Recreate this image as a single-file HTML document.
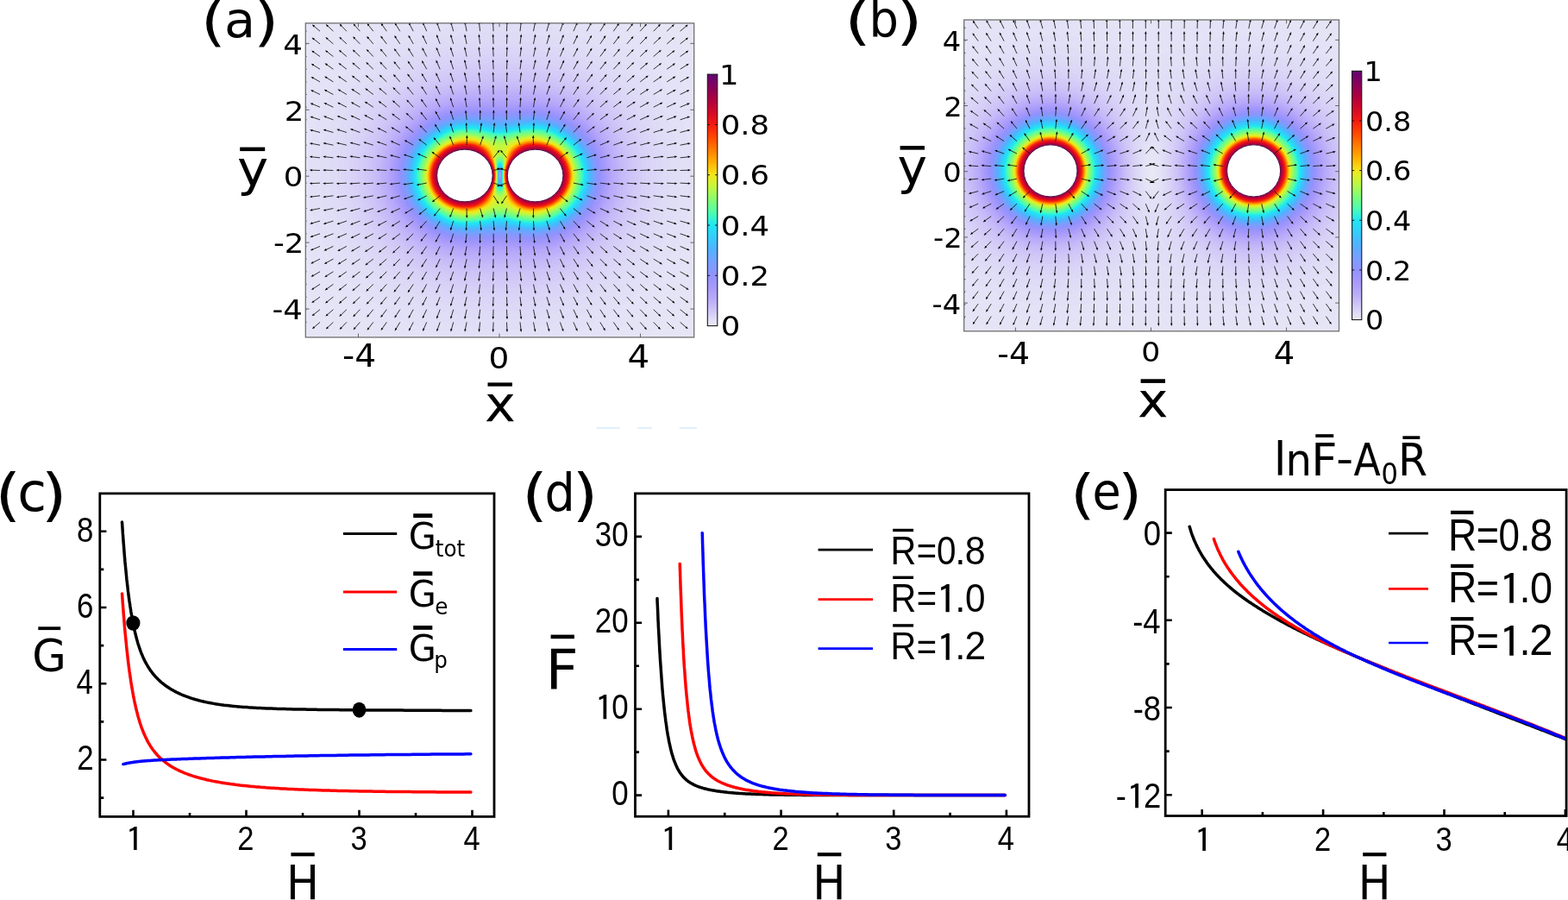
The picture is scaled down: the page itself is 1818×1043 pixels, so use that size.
<!DOCTYPE html>
<html lang="en"><head><meta charset="utf-8"><title>Figure</title>
<style>html,body{margin:0;padding:0;background:#fff;overflow:hidden}svg{display:block}text{white-space:pre}</style>
</head><body>
<svg width="1818" height="1043" viewBox="0 0 1818 1043">
<rect width="1818" height="1043" fill="#fff"/>
<clipPath id="clip1"><rect x="354.30" y="26.85" width="450.40" height="364.05"/></clipPath>
<g clip-path="url(#clip1)">
<rect x="354.30" y="26.85" width="450.40" height="364.05" fill="#e9e9f6"/>
<path fill="#e8e7f6" d="M352.3,24.9 806.8,24.9 806.8,393.9 352.3,393.9Z"/>
<path fill="#e6e5f6" d="M352.3,24.9 806.8,24.9 806.8,392.7 805.6,393.8 353.9,393.9 352.3,392.3Z"/>
<path fill="#e5e4f6" d="M398.1,26.4 400.0,24.9 759.5,24.9 773.4,36.9 785.5,48.9 796.3,61.2 806.8,75.0 806.8,332.0 798.7,342.9 787.1,356.4 773.7,369.9 758.8,382.8 743.8,393.9 415.7,393.9 401.8,383.6 388.3,372.2 375.2,359.4 363.2,345.9 352.3,331.4 352.3,75.6 362.3,62.4 373.3,49.6 385.3,37.6Z"/>
<path fill="#e3e2f6" d="M444.0,26.3 446.6,24.9 712.9,24.9 725.8,32.8 739.3,42.4 751.3,52.2 762.1,62.4 769.2,69.8 775.7,77.3 781.7,84.8 788.1,93.8 792.9,101.3 798.1,110.3 802.7,119.3 806.8,128.5 806.8,278.5 802.8,287.4 798.2,296.4 794.0,303.9 788.3,312.9 781.9,321.9 776.0,329.4 769.3,337.1 761.8,345.0 754.3,352.1 746.0,359.4 737.8,365.8 728.8,372.2 719.8,378.0 709.3,384.2 700.3,388.9 689.6,393.9 469.9,393.9 458.8,388.7 449.8,383.9 439.3,377.8 430.3,371.9 421.3,365.5 412.3,358.3 404.8,351.8 397.3,344.6 390.0,336.9 383.5,329.4 377.6,321.9 371.2,312.9 365.5,303.9 360.5,294.9 356.0,285.9 352.3,277.5 352.3,129.5 356.1,120.8 359.8,113.3 368.5,98.3 377.9,84.8 388.9,71.3 400.4,59.3 413.9,47.4 428.8,36.1Z"/>
<path fill="#e2e0f6" d="M488.2,26.4 492.3,24.9 667.2,24.9 682.3,30.8 697.3,38.0 710.8,45.7 724.3,54.7 736.3,64.1 748.3,75.1 758.8,86.3 768.3,98.3 773.5,105.8 778.2,113.3 782.4,120.8 786.9,129.8 790.8,138.8 793.6,146.3 796.0,153.8 798.4,162.8 800.1,170.4 801.6,179.3 802.6,188.4 803.2,197.3 803.3,206.3 802.9,215.3 802.0,224.3 800.7,233.3 798.9,242.3 796.5,251.3 794.2,258.9 790.9,267.9 787.7,275.4 783.4,284.4 779.3,291.9 774.7,299.4 769.6,306.9 764.0,314.4 757.7,321.9 752.3,327.9 739.3,340.3 731.8,346.6 724.3,352.3 715.3,358.5 704.8,364.9 694.3,370.6 683.8,375.5 673.3,379.9 661.3,384.2 650.8,387.4 638.8,390.4 620.6,393.9 538.9,393.9 527.8,391.9 517.3,389.6 506.8,386.8 494.8,383.0 484.3,379.1 473.8,374.7 463.3,369.6 454.3,364.7 445.3,359.2 436.3,353.1 427.3,346.2 419.7,339.9 411.7,332.4 404.4,324.9 397.3,316.6 391.0,308.4 384.8,299.4 379.4,290.4 373.9,279.9 369.8,270.9 366.3,261.9 363.0,251.4 360.3,240.8 358.3,230.3 357.0,219.8 356.3,209.4 356.3,198.8 356.9,188.3 358.1,177.8 360.0,167.3 362.6,156.8 365.9,146.3 369.9,135.8 374.0,126.8 379.5,116.3 385.0,107.3 391.2,98.3 397.3,90.4 404.7,81.8 412.0,74.3 420.0,66.8 428.8,59.6 437.8,52.9 446.8,46.9 457.3,40.6 466.3,35.9 476.8,31.0Z"/>
<path fill="#e0ddf6" d="M551.0,26.4 560.8,25.4 571.3,24.9 590.8,25.0 610.3,26.6 629.8,29.7 647.8,34.1 665.8,40.0 682.3,46.9 691.3,51.4 698.8,55.5 706.3,60.1 714.1,65.3 721.3,70.7 728.8,76.8 740.8,88.2 746.8,94.7 752.4,101.3 758.0,108.8 763.1,116.3 767.6,123.8 771.6,131.3 775.1,138.8 778.2,146.3 780.8,153.8 783.5,162.8 785.3,170.3 786.9,179.4 788.1,188.3 788.6,195.9 788.8,204.8 788.5,213.9 787.8,221.3 786.5,230.3 785.0,237.8 782.8,246.8 780.4,254.3 777.1,263.4 773.9,270.9 770.2,278.4 766.0,285.9 761.3,293.4 756.1,300.9 751.3,307.0 745.3,314.0 739.3,320.4 733.1,326.4 726.2,332.4 712.3,342.9 697.3,352.4 688.3,357.2 679.3,361.5 662.8,368.1 644.8,373.8 634.3,376.3 623.8,378.4 613.3,380.1 601.3,381.4 590.8,382.0 580.3,382.3 569.8,382.1 557.8,381.3 545.8,380.0 535.3,378.4 524.8,376.3 514.3,373.7 503.8,370.6 494.8,367.5 484.3,363.3 475.3,359.2 466.3,354.6 457.3,349.5 448.3,343.7 440.8,338.3 433.3,332.4 425.8,325.8 418.7,318.9 411.8,311.4 405.7,303.9 400.2,296.4 395.3,288.9 390.1,279.9 386.3,272.4 382.4,263.4 379.1,254.3 376.3,245.3 374.1,236.3 372.5,227.3 371.3,216.8 370.8,207.8 370.8,198.8 371.3,189.8 372.6,179.3 374.2,170.3 376.4,161.3 379.2,152.3 382.5,143.3 386.5,134.3 390.3,126.8 395.5,117.8 401.5,108.8 407.1,101.3 413.4,93.8 419.8,87.0 427.3,79.8 434.8,73.4 442.3,67.6 451.3,61.3 460.3,55.7 469.3,50.8 478.3,46.4 488.8,41.8 499.3,37.9 508.3,35.0 518.8,32.2 529.3,29.8 539.8,27.9Z"/>
<path fill="#dedbf6" d="M567.4,36.9 586.3,36.6 605.8,37.9 623.8,40.5 641.8,44.5 659.8,50.2 676.3,56.9 691.3,64.5 698.8,69.0 706.3,73.9 719.8,84.2 731.9,95.3 737.8,101.7 743.8,108.8 749.4,116.3 753.4,122.3 757.9,129.8 761.9,137.3 765.3,144.8 768.3,152.3 770.8,159.8 772.9,167.3 775.9,182.3 776.9,191.3 777.4,198.8 777.4,207.8 776.9,215.3 776.2,222.8 774.7,231.8 773.0,239.3 770.9,246.8 768.4,254.3 765.4,261.9 762.0,269.4 758.1,276.9 749.6,290.4 744.0,297.9 739.1,303.9 733.6,309.9 727.6,315.9 715.3,326.5 707.8,332.1 700.3,337.1 685.3,345.7 676.3,350.1 667.3,354.0 650.8,359.9 632.8,364.7 614.8,368.0 604.3,369.2 593.8,370.1 574.3,370.4 563.8,369.9 553.3,369.1 542.8,367.7 533.8,366.1 524.8,364.2 514.3,361.5 503.8,358.3 494.8,355.0 485.8,351.3 476.8,347.1 467.8,342.3 460.3,337.8 452.8,332.8 445.3,327.3 438.6,321.9 431.8,315.8 425.8,309.8 419.8,303.1 414.3,296.4 408.9,288.9 404.0,281.4 399.8,273.9 396.1,266.4 392.2,257.4 389.0,248.3 386.9,240.8 384.8,231.8 383.6,224.4 382.5,215.3 382.1,206.3 382.1,198.8 382.7,189.8 383.8,180.8 385.5,171.8 387.8,162.8 390.1,155.3 393.6,146.3 396.9,138.8 400.8,131.3 405.2,123.9 410.1,116.3 415.7,108.8 421.3,102.1 427.6,95.3 433.8,89.3 440.8,83.3 448.3,77.4 455.8,72.1 470.8,63.1 479.8,58.5 488.8,54.4 497.8,50.9 506.8,47.7 515.8,45.1 526.3,42.4 535.3,40.6 545.8,38.9 556.3,37.6Z"/>
<path fill="#dcd8f6" d="M557.6,47.4 574.3,46.4 592.3,46.7 610.3,48.2 626.8,50.9 644.8,55.3 659.8,60.2 674.8,66.5 688.3,73.5 701.8,82.0 713.8,91.1 725.0,101.3 730.6,107.3 735.7,113.3 744.5,125.3 749.1,132.8 752.4,138.8 758.6,152.3 763.1,165.8 766.2,179.4 767.3,186.8 768.0,194.3 768.3,201.9 768.2,209.3 767.7,216.8 766.7,224.4 764.0,237.8 761.8,245.3 759.3,252.8 753.3,266.4 749.3,273.9 745.7,279.9 737.1,291.9 732.2,297.9 726.7,303.9 715.3,314.6 703.3,324.0 689.8,332.7 674.8,340.5 659.8,346.8 643.3,352.2 634.3,354.5 623.8,356.7 613.3,358.4 604.3,359.4 584.8,360.6 574.3,360.6 563.8,360.1 544.3,358.1 533.8,356.3 523.3,354.0 512.8,351.2 503.8,348.3 487.3,341.7 478.3,337.4 470.8,333.3 463.3,328.8 455.8,323.7 448.3,318.0 442.3,313.0 435.7,306.9 430.0,300.9 424.3,294.3 419.0,287.4 413.8,279.9 409.4,272.4 405.4,264.9 402.0,257.4 399.2,249.8 396.3,240.8 394.1,231.8 392.8,224.3 391.8,216.9 391.2,207.8 391.3,198.8 391.8,189.8 393.0,180.8 394.5,173.4 396.4,165.8 399.3,156.8 402.2,149.3 405.6,141.8 409.5,134.3 414.0,126.8 419.2,119.3 425.0,111.8 431.6,104.3 437.6,98.3 444.3,92.3 451.3,86.7 458.8,81.2 466.3,76.4 473.8,72.0 482.8,67.4 491.8,63.3 500.8,59.8 509.8,56.7 518.8,54.1 529.3,51.6 538.3,49.9 548.8,48.3Z"/>
<path fill="#dbd5f7" d="M568.3,54.8 584.8,54.6 602.8,55.6 619.3,57.8 635.8,61.1 652.3,65.8 665.8,70.9 680.8,78.0 692.8,85.1 705.2,93.8 716.8,103.9 725.9,113.3 735.4,125.3 743.1,137.3 746.3,143.3 749.8,150.8 754.9,164.3 758.3,177.9 759.6,185.3 760.4,192.8 760.8,206.3 760.4,213.8 759.6,221.3 757.0,234.9 752.9,248.3 747.2,261.9 740.6,273.9 732.3,285.9 722.8,297.1 712.3,307.3 700.3,316.8 686.8,325.6 673.3,332.7 658.3,339.0 643.3,343.9 626.8,347.9 617.8,349.5 607.3,350.9 587.8,352.3 568.3,352.2 548.8,350.5 539.8,349.2 529.3,347.2 520.3,345.0 511.3,342.5 494.8,336.5 479.8,329.5 472.3,325.4 464.8,320.7 457.3,315.4 451.3,310.7 445.1,305.4 439.3,299.8 433.3,293.4 428.4,287.4 423.9,281.4 418.9,273.9 414.6,266.4 411.6,260.4 408.3,252.8 405.5,245.4 402.8,236.3 401.1,228.8 399.9,221.3 399.1,213.9 398.7,204.8 398.8,197.3 399.5,188.3 400.6,180.9 402.2,173.3 404.2,165.8 406.7,158.3 409.6,150.8 413.2,143.3 417.3,135.8 422.0,128.4 426.3,122.3 431.8,115.4 437.8,108.8 443.8,102.8 449.8,97.5 455.8,92.7 463.3,87.3 470.8,82.5 478.3,78.3 487.3,73.8 494.8,70.5 511.3,64.5 520.3,62.0 529.3,59.8 538.3,58.1 548.8,56.5Z"/>
<path fill="#d9d3f7" d="M559.7,62.4 575.8,61.6 592.3,61.9 608.8,63.2 623.8,65.5 638.8,68.8 653.8,73.4 667.3,78.7 679.3,84.5 691.3,91.7 701.8,99.2 712.3,108.3 721.5,117.8 729.9,128.3 736.7,138.8 743.0,150.8 747.8,162.8 751.6,176.3 753.7,188.3 754.6,201.8 754.0,215.4 752.0,228.8 748.9,240.8 744.5,252.8 738.6,264.9 731.1,276.9 723.0,287.4 713.8,297.3 703.3,306.6 691.3,315.3 679.3,322.5 665.8,329.0 652.3,334.2 643.3,337.0 634.3,339.3 616.3,342.8 607.3,343.9 596.8,344.9 586.3,345.4 575.8,345.4 556.3,344.4 547.3,343.4 536.8,341.7 518.8,337.7 509.8,335.0 500.8,331.9 485.8,325.3 478.3,321.4 470.8,317.0 463.3,312.0 457.3,307.5 451.1,302.4 445.3,296.9 440.4,291.9 434.8,285.3 429.4,278.4 425.4,272.4 421.7,266.4 417.8,258.9 414.4,251.3 411.6,243.8 408.9,234.8 407.2,227.3 406.0,219.8 405.2,212.4 404.9,204.8 405.1,195.8 405.8,188.3 407.0,180.8 408.6,173.3 411.2,164.3 413.9,156.8 417.2,149.3 420.2,143.3 424.6,135.8 429.6,128.3 434.8,121.7 440.7,114.8 446.6,108.8 452.8,103.2 458.8,98.4 466.3,93.0 472.3,89.1 479.8,84.8 487.3,80.9 496.3,76.9 503.8,74.0 520.3,68.9 530.8,66.4 539.8,64.8 550.3,63.3Z"/>
<path fill="#d7d0f7" d="M559.4,68.3 574.3,67.6 590.8,67.8 605.8,68.9 620.8,70.9 635.8,74.0 649.3,77.8 661.3,82.2 673.3,87.6 685.3,94.3 695.8,101.4 705.0,108.8 714.3,117.8 722.1,126.9 729.6,137.4 735.7,147.8 741.1,159.8 745.1,171.8 747.7,183.8 749.1,195.8 749.2,209.4 748.0,221.3 745.5,233.3 741.8,245.3 736.6,257.4 730.7,267.9 723.5,278.4 714.6,288.9 704.8,298.4 694.3,306.7 683.8,313.6 671.8,320.1 658.3,326.0 650.8,328.7 641.8,331.4 632.8,333.7 623.8,335.6 605.8,338.1 595.3,339.0 584.8,339.4 565.3,339.1 545.8,337.2 527.8,334.0 518.8,331.7 509.8,329.0 500.8,325.8 493.3,322.7 485.8,319.2 478.3,315.1 470.8,310.5 464.8,306.4 458.8,301.8 452.8,296.7 447.8,291.9 442.2,285.9 437.2,279.9 432.7,273.9 427.8,266.4 424.5,260.4 420.8,252.8 418.3,246.8 415.7,239.3 413.6,231.8 412.0,224.3 410.9,216.8 410.3,209.4 410.2,201.8 410.5,194.3 411.5,185.4 412.9,177.8 414.9,170.3 417.3,162.8 420.3,155.3 423.8,147.8 428.0,140.3 432.9,132.8 437.4,126.8 442.4,120.8 448.3,114.6 454.3,109.0 460.3,104.0 466.3,99.5 473.8,94.6 481.3,90.2 488.8,86.4 496.3,83.0 505.3,79.5 521.8,74.5 530.8,72.4 539.8,70.7 550.3,69.2Z"/>
<path fill="#d5cdf7" d="M573.2,72.8 589.3,72.9 604.3,73.9 617.8,75.6 632.8,78.4 647.8,82.5 659.8,86.8 671.8,92.2 682.3,97.9 692.8,104.9 703.3,113.3 712.3,122.3 719.9,131.3 727.1,141.8 732.9,152.3 737.5,162.8 741.2,174.8 743.6,186.8 744.8,198.8 744.5,212.3 743.0,224.3 740.1,236.3 735.8,248.3 730.8,258.9 724.4,269.4 716.5,279.9 707.8,289.4 698.8,297.5 688.3,305.2 676.3,312.5 664.3,318.3 650.8,323.5 637.3,327.5 628.3,329.6 619.3,331.2 601.3,333.4 581.8,334.2 562.3,333.7 544.3,331.8 526.3,328.5 509.8,323.9 494.8,318.2 487.3,314.6 479.8,310.6 467.8,302.9 461.8,298.4 455.9,293.4 451.2,288.9 445.6,282.9 440.6,276.9 436.1,270.9 432.2,264.9 428.7,258.9 425.0,251.3 422.5,245.3 420.4,239.3 418.2,231.8 416.5,224.3 415.4,216.8 414.8,209.3 414.6,201.8 415.0,194.3 415.8,186.8 417.2,179.3 419.1,171.8 421.5,164.3 424.5,156.8 428.1,149.3 431.5,143.3 435.3,137.3 439.6,131.3 444.5,125.3 450.0,119.3 460.3,109.9 466.3,105.2 473.8,100.0 481.3,95.6 488.8,91.6 502.3,85.8 517.3,80.8 526.3,78.5 535.3,76.6 544.3,75.2 554.8,73.9Z"/>
<path fill="#d3cbf7" d="M551.4,78.8 565.3,77.7 580.3,77.4 595.3,77.8 610.3,79.1 623.8,81.1 637.3,83.9 649.3,87.4 659.8,91.2 670.3,96.0 680.8,101.7 691.3,108.7 700.3,116.0 708.4,123.8 716.1,132.8 722.5,141.8 727.8,150.8 732.7,161.3 736.4,171.8 738.9,182.3 740.6,194.4 741.0,204.9 740.2,216.8 738.4,227.3 735.0,239.3 730.9,249.8 725.5,260.4 718.6,270.9 711.4,279.9 703.3,288.2 694.3,296.0 685.3,302.4 674.8,308.7 661.3,315.1 653.8,318.1 644.8,321.0 635.8,323.4 626.8,325.4 608.8,328.1 589.3,329.5 578.8,329.6 568.3,329.4 557.8,328.8 547.3,327.7 529.3,324.7 514.3,320.9 505.3,317.9 497.8,315.0 490.3,311.6 482.8,307.7 470.8,300.1 460.2,291.9 454.3,286.4 449.5,281.4 444.4,275.4 439.8,269.4 435.8,263.4 432.3,257.4 429.3,251.3 426.1,243.8 423.5,236.4 421.5,228.8 420.0,221.3 419.0,213.8 418.6,206.4 418.6,198.8 419.2,191.3 420.3,183.8 421.9,176.3 424.1,168.8 426.8,161.3 430.2,153.8 434.2,146.3 438.0,140.3 442.2,134.3 447.1,128.3 452.8,122.1 458.8,116.4 464.8,111.3 470.8,106.9 478.3,102.0 484.3,98.5 491.8,94.7 499.3,91.4 506.8,88.6 515.8,85.7 523.3,83.7 533.8,81.4Z"/>
<path fill="#d1c8f7" d="M564.5,81.8 578.8,81.5 593.8,81.8 608.8,82.9 622.3,84.7 634.3,87.1 646.3,90.3 658.3,94.5 668.8,99.2 679.3,104.9 688.3,110.9 697.1,117.8 705.0,125.3 712.9,134.3 719.4,143.3 724.7,152.3 729.6,162.9 733.2,173.3 735.7,183.8 737.2,194.4 737.5,206.3 736.7,216.8 734.5,228.8 731.4,239.3 727.1,249.8 721.5,260.4 715.4,269.4 707.8,278.6 699.2,287.4 691.3,293.9 680.8,301.1 670.3,307.0 659.8,311.8 644.8,317.1 635.8,319.6 628.3,321.2 610.3,323.9 592.3,325.3 571.3,325.4 551.8,324.2 533.8,321.7 517.3,317.9 503.8,313.5 490.3,307.6 484.3,304.4 476.8,299.9 470.8,295.8 464.8,291.2 458.8,285.9 454.2,281.4 448.8,275.4 444.1,269.4 439.9,263.4 436.3,257.4 433.1,251.3 430.4,245.4 427.6,237.8 425.4,230.3 423.7,222.8 422.8,216.8 422.1,209.3 422.0,201.8 422.3,194.3 423.2,186.8 424.7,179.3 426.7,171.8 429.3,164.3 431.8,158.3 435.6,150.8 439.1,144.9 443.2,138.8 447.8,132.8 453.1,126.8 458.8,121.1 464.1,116.3 469.3,112.3 475.3,108.0 482.8,103.4 496.3,96.6 503.8,93.5 511.3,90.9 518.8,88.7 527.8,86.5 544.3,83.7 554.8,82.5Z"/>
<path fill="#cfc6f7" d="M551.7,86.3 565.3,85.4 580.3,85.1 595.3,85.5 608.8,86.4 622.3,88.2 632.8,90.2 643.3,92.9 653.8,96.3 664.3,100.6 673.3,105.1 682.3,110.5 691.3,117.0 699.1,123.8 707.6,132.8 713.6,140.3 719.5,149.3 725.0,159.8 728.6,168.8 731.7,179.3 733.6,189.8 734.4,200.3 734.2,210.8 733.0,221.3 730.6,231.8 727.0,242.3 722.2,252.8 716.9,261.9 710.4,270.9 702.4,279.9 694.5,287.4 685.3,294.4 676.3,300.2 670.3,303.5 662.8,307.1 655.3,310.2 647.8,312.8 632.8,316.8 623.8,318.6 614.8,319.9 595.3,321.5 572.8,321.8 553.3,320.8 542.8,319.6 533.8,318.2 518.8,314.9 505.3,310.6 491.8,304.8 485.8,301.7 478.3,297.2 472.3,293.1 466.8,288.9 457.1,279.9 447.9,269.4 443.6,263.4 439.8,257.4 435.8,249.8 433.1,243.8 430.3,236.3 428.1,228.8 426.5,221.3 425.5,213.8 425.1,207.8 425.1,200.3 425.6,192.8 426.6,185.3 428.2,177.8 429.9,171.8 432.6,164.3 435.2,158.3 438.3,152.3 442.8,144.8 447.0,138.8 451.9,132.8 457.4,126.8 463.3,121.1 473.8,112.8 481.3,107.9 487.3,104.5 494.8,100.8 502.3,97.6 509.8,94.8 517.3,92.5 526.3,90.3 533.8,88.8Z"/>
<path fill="#cdc4f8" d="M553.6,89.3 566.8,88.6 581.8,88.4 596.8,88.8 610.3,89.7 622.3,91.3 632.8,93.3 643.3,95.9 653.8,99.4 664.3,103.7 673.3,108.3 682.3,113.9 689.8,119.4 697.3,126.0 705.3,134.3 711.3,141.8 717.2,150.8 722.0,159.8 726.2,170.3 729.2,180.8 730.8,189.8 731.7,200.3 731.5,210.8 730.1,221.3 728.1,230.4 724.7,240.9 720.6,249.8 715.6,258.9 709.2,267.9 701.8,276.5 693.7,284.4 685.3,291.0 676.3,296.9 664.3,303.3 656.8,306.5 649.3,309.2 640.3,311.9 632.8,313.7 616.3,316.6 596.8,318.2 572.8,318.6 551.8,317.5 533.8,315.1 518.8,311.8 505.3,307.5 491.8,301.6 484.3,297.6 478.3,293.8 467.8,286.1 458.0,276.9 449.1,266.4 442.1,255.8 438.9,249.8 435.4,242.3 432.7,234.8 431.0,228.8 429.3,221.4 428.3,213.8 427.9,207.8 427.8,200.4 428.3,192.8 429.4,185.3 431.1,177.8 432.8,171.8 435.6,164.3 438.3,158.3 441.4,152.3 446.1,144.8 450.5,138.9 455.6,132.8 460.3,127.8 466.2,122.3 470.8,118.5 476.8,114.2 484.3,109.4 490.3,106.1 497.8,102.6 505.3,99.5 520.3,94.8 527.8,93.0 536.8,91.4Z"/>
<path fill="#cbc1f8" d="M552.1,92.3 565.3,91.6 580.3,91.3 595.3,91.6 608.8,92.5 619.3,93.7 631.3,95.7 640.3,97.9 650.8,101.1 661.3,105.2 670.3,109.6 679.3,115.0 686.8,120.3 694.3,126.6 701.8,134.2 708.1,141.8 713.3,149.3 718.4,158.3 722.4,167.3 725.4,176.3 727.8,186.8 729.0,197.3 729.1,207.8 728.1,218.3 726.3,227.4 723.6,236.3 719.3,246.8 714.5,255.8 708.4,264.9 701.8,272.8 694.3,280.4 686.8,286.7 677.8,293.0 670.3,297.4 664.3,300.4 650.8,305.9 635.8,310.3 619.3,313.3 601.3,315.1 578.8,315.7 556.3,315.0 538.3,313.1 523.3,310.2 509.8,306.3 497.8,301.6 491.8,298.7 484.3,294.6 478.3,290.8 472.3,286.4 463.3,278.6 458.7,273.9 453.5,267.9 446.0,257.4 442.5,251.3 439.5,245.3 437.0,239.4 434.4,231.8 432.5,224.3 431.2,216.8 430.6,210.8 430.3,203.3 430.6,195.8 431.2,189.8 432.6,182.3 434.1,176.3 436.0,170.3 438.9,162.8 442.6,155.3 446.2,149.3 450.3,143.3 455.0,137.3 460.3,131.5 465.0,126.8 470.1,122.3 475.3,118.3 481.3,114.2 488.8,109.8 494.8,106.8 502.3,103.5 509.8,100.7 518.8,98.0 526.3,96.1 535.3,94.4Z"/>
<path fill="#c9bff8" d="M547.8,95.3 560.8,94.4 574.3,94.0 589.3,94.1 604.3,94.7 616.3,95.8 626.8,97.4 635.8,99.3 646.3,102.1 655.3,105.3 665.8,109.9 673.3,114.0 682.3,119.8 689.4,125.3 695.9,131.3 702.8,138.8 708.6,146.3 714.2,155.3 718.7,164.3 722.1,173.4 724.9,183.8 726.5,194.3 726.9,203.4 726.5,212.3 725.0,222.8 722.7,231.8 719.5,240.9 715.2,249.9 709.8,258.9 703.3,267.5 696.2,275.4 688.3,282.6 680.8,288.2 668.8,295.5 662.8,298.5 655.3,301.7 647.8,304.4 640.3,306.6 631.3,308.7 623.8,310.1 605.8,312.2 584.8,313.0 562.3,312.7 542.8,311.1 527.8,308.7 512.8,304.7 500.8,300.3 488.8,294.5 478.3,288.0 473.4,284.4 468.1,279.9 458.8,270.5 450.7,260.4 446.8,254.3 443.5,248.3 440.7,242.3 438.3,236.3 436.0,228.8 434.2,221.3 433.1,213.8 432.7,207.8 432.6,200.3 433.0,194.3 434.0,186.8 435.6,179.3 437.4,173.3 440.2,165.8 442.9,159.8 446.1,153.8 449.9,147.8 454.3,141.8 458.8,136.5 463.6,131.3 468.4,126.8 473.8,122.3 479.8,118.0 485.8,114.2 493.3,110.1 500.8,106.7 514.3,101.8 523.3,99.4 530.8,97.7Z"/>
<path fill="#c8bcf8" d="M560.2,96.8 574.3,96.4 589.3,96.5 602.8,97.0 614.8,98.0 625.3,99.5 635.8,101.6 644.8,104.0 653.8,107.1 662.8,110.9 671.8,115.6 679.3,120.3 686.8,126.0 694.3,132.8 701.3,140.3 707.0,147.8 711.8,155.3 715.7,162.8 719.4,171.8 722.0,180.8 724.0,191.3 724.8,201.8 724.5,210.8 723.4,219.8 720.9,230.4 717.8,239.3 713.6,248.3 708.3,257.4 702.7,264.9 695.8,272.7 688.3,279.8 680.8,285.6 671.8,291.4 664.3,295.4 658.3,298.1 644.8,303.0 631.3,306.4 614.8,309.0 593.8,310.4 569.8,310.5 548.8,309.4 532.3,307.2 518.8,304.2 505.3,299.8 493.3,294.4 487.3,291.2 481.3,287.4 471.3,279.9 462.0,270.9 454.4,261.9 447.5,251.4 444.4,245.3 441.1,237.9 438.6,230.3 437.0,224.4 435.7,216.8 435.0,210.8 434.7,203.3 434.9,197.3 435.5,191.4 436.8,183.8 438.7,176.3 440.7,170.3 443.1,164.3 446.0,158.4 449.5,152.3 453.5,146.3 458.2,140.3 462.3,135.8 467.8,130.3 472.3,126.3 476.8,122.7 482.8,118.6 490.3,114.1 496.3,111.1 503.8,107.8 511.3,105.1 526.3,101.0 535.3,99.3 542.8,98.3Z"/>
<path fill="#c6baf8" d="M548.6,99.8 560.8,99.0 575.8,98.7 590.8,98.8 604.3,99.3 616.3,100.4 626.8,101.9 635.8,103.7 644.8,106.1 653.8,109.2 662.8,113.1 670.3,117.0 679.3,122.7 686.6,128.3 692.8,134.1 698.8,140.5 704.6,147.8 709.5,155.3 714.2,164.3 717.8,173.3 720.4,182.3 722.0,191.3 722.8,200.3 722.5,210.8 721.4,219.8 719.3,228.8 716.3,237.8 712.9,245.3 707.9,254.3 702.6,261.9 695.8,269.8 688.3,277.1 680.8,283.2 674.8,287.3 668.8,290.8 662.8,293.9 655.3,297.2 641.8,301.7 626.8,305.1 617.8,306.4 608.8,307.3 589.3,308.3 563.8,308.1 544.3,306.7 530.8,304.8 517.3,301.6 503.8,297.0 491.8,291.4 481.3,285.1 472.3,278.1 467.7,273.9 461.9,267.9 454.7,258.9 450.7,252.8 447.3,246.9 444.5,240.8 442.1,234.8 440.2,228.8 438.4,221.3 437.3,213.8 436.8,207.9 436.7,200.3 437.1,194.3 438.2,186.8 439.5,180.8 441.7,173.3 444.0,167.3 446.7,161.3 450.0,155.3 453.8,149.3 458.3,143.3 462.2,138.8 467.8,133.0 472.9,128.3 478.3,124.1 488.8,117.3 494.8,114.0 502.3,110.6 509.8,107.7 517.3,105.4 532.3,101.9Z"/>
<path fill="#c4b8f8" d="M556.0,101.3 569.8,100.8 584.8,100.8 598.3,101.1 611.8,101.9 622.3,103.2 631.3,104.7 640.3,106.8 649.3,109.6 656.8,112.5 665.8,116.7 673.3,120.9 680.8,126.1 688.3,132.3 694.9,138.8 700.3,145.2 705.5,152.3 710.0,159.8 714.2,168.8 717.3,177.8 719.5,186.8 720.7,195.8 720.9,206.3 720.2,215.3 718.6,224.3 716.0,233.3 712.3,242.3 707.6,251.3 702.6,258.9 696.5,266.4 689.8,273.3 682.3,279.8 674.8,285.1 667.3,289.5 661.3,292.6 649.3,297.4 635.8,301.3 620.8,304.0 611.8,305.0 601.3,305.8 578.8,306.3 556.3,305.7 538.3,304.0 524.8,301.6 512.8,298.3 500.8,293.7 488.8,287.6 478.3,280.6 469.3,272.9 460.4,263.4 453.8,254.3 450.2,248.3 447.1,242.3 444.6,236.3 442.5,230.3 440.6,222.8 439.5,216.8 438.8,210.8 438.5,203.3 438.7,197.3 439.5,189.9 441.0,182.3 442.6,176.3 444.7,170.3 447.3,164.3 450.4,158.3 454.0,152.3 458.3,146.3 463.3,140.3 469.1,134.3 473.8,130.0 478.3,126.4 484.3,122.2 490.3,118.5 496.3,115.4 502.3,112.6 509.8,109.7 515.8,107.8 524.8,105.4 538.3,103.0Z"/>
<path fill="#c2b5f9" d="M566.6,102.8 581.8,102.7 596.8,103.0 608.8,103.6 619.3,104.6 629.8,106.3 638.8,108.3 647.8,110.9 655.3,113.7 662.8,117.1 671.8,122.0 679.0,126.8 685.3,131.9 692.8,139.2 699.1,146.3 704.4,153.8 708.8,161.3 712.9,170.3 715.5,177.8 717.7,186.8 719.0,195.8 719.3,204.8 718.7,213.8 717.2,222.8 714.7,231.8 711.2,240.9 707.4,248.3 702.6,255.8 696.9,263.4 689.8,270.9 682.3,277.6 674.8,283.1 665.8,288.4 653.8,293.9 640.3,298.3 626.8,301.3 611.8,303.2 590.8,304.2 563.8,304.1 544.3,302.8 535.3,301.7 527.8,300.4 514.3,296.9 502.3,292.5 490.3,286.5 481.3,280.7 472.3,273.3 463.3,264.1 456.9,255.8 450.5,245.3 447.7,239.3 444.8,231.9 443.1,225.8 441.7,219.8 440.7,212.3 440.3,206.3 440.3,200.3 440.7,194.3 441.5,188.4 443.1,180.8 444.9,174.8 447.2,168.8 449.9,162.8 453.2,156.9 457.1,150.8 461.6,144.8 470.8,135.1 475.3,131.0 481.3,126.3 491.8,119.6 503.8,113.9 511.3,111.1 517.3,109.2 530.8,106.1 547.3,103.9Z"/>
<path fill="#c0b3f9" d="M545.1,105.8 556.3,105.0 569.8,104.6 587.8,104.6 602.8,105.0 613.3,105.7 623.8,107.0 632.8,108.6 641.8,110.8 650.8,113.7 658.3,116.8 665.8,120.4 673.3,124.9 680.3,129.8 686.8,135.5 693.1,141.8 698.2,147.8 703.5,155.3 708.6,164.3 711.8,171.9 714.7,180.8 716.6,189.8 717.6,198.8 717.6,207.9 716.6,216.8 714.8,225.8 712.5,233.3 708.7,242.4 704.6,249.9 699.6,257.4 693.4,264.9 686.8,271.5 679.3,277.9 674.8,281.1 668.8,284.9 662.8,288.1 655.3,291.5 643.3,295.8 635.8,297.7 628.3,299.3 613.3,301.3 595.3,302.3 568.3,302.4 547.3,301.4 533.8,299.7 520.3,296.9 508.3,293.1 496.3,287.9 485.8,281.9 478.3,276.4 468.9,267.9 461.0,258.9 457.8,254.4 454.0,248.3 450.8,242.3 448.2,236.4 446.0,230.4 444.3,224.3 443.1,218.3 442.1,210.8 441.8,204.9 442.0,197.3 442.9,189.9 444.0,183.8 445.6,177.8 447.7,171.8 450.2,165.8 453.3,159.8 457.0,153.8 460.1,149.3 467.8,140.3 473.8,134.5 478.3,130.6 483.3,126.8 488.8,123.2 494.8,119.9 500.8,116.9 508.3,113.9 515.8,111.4 529.3,108.1Z"/>
<path fill="#beb0f9" d="M546.7,107.3 557.8,106.6 572.8,106.3 590.8,106.3 604.3,106.8 614.8,107.5 623.8,108.6 631.3,109.9 640.3,112.0 647.8,114.3 656.8,117.8 664.3,121.4 671.8,125.7 677.8,129.9 683.8,134.8 691.1,141.8 696.3,147.8 701.7,155.3 706.1,162.8 710.2,171.8 712.7,179.3 714.6,186.8 715.8,195.8 716.2,204.8 715.5,213.8 714.0,222.8 711.4,231.8 708.4,239.3 703.8,248.3 698.8,255.8 692.8,263.3 686.8,269.4 679.3,276.0 674.8,279.3 668.8,283.1 662.8,286.4 656.8,289.2 650.8,291.6 643.3,294.1 629.8,297.4 614.8,299.5 596.8,300.5 569.8,300.7 548.8,299.8 535.3,298.3 521.8,295.7 511.3,292.6 499.3,287.7 488.8,282.0 479.8,275.7 470.8,267.6 463.0,258.9 458.6,252.8 454.9,246.8 451.7,240.8 449.2,234.8 447.1,228.8 445.5,222.9 444.4,216.8 443.6,210.8 443.3,204.8 443.6,197.3 444.4,189.8 445.6,183.9 447.2,177.8 449.3,171.8 451.9,165.9 455.0,159.8 457.8,155.3 462.0,149.3 466.3,144.2 470.8,139.4 476.2,134.3 481.3,130.2 485.8,126.9 491.8,123.2 497.8,120.0 503.8,117.3 511.3,114.4 517.3,112.5 530.8,109.4Z"/>
<path fill="#bcaef9" d="M547.3,108.9 557.8,108.2 571.3,107.9 590.8,107.9 604.3,108.3 614.8,109.1 623.8,110.1 631.3,111.4 640.3,113.5 647.8,115.8 656.8,119.3 664.3,123.0 671.8,127.4 677.8,131.6 683.8,136.7 690.6,143.4 695.7,149.3 701.1,156.8 705.3,164.3 708.7,171.8 711.3,179.3 713.2,186.8 714.5,195.8 714.8,204.8 714.2,213.8 712.6,222.8 710.0,231.8 706.9,239.3 703.1,246.8 698.2,254.3 692.8,261.2 686.4,267.9 679.3,274.2 674.8,277.6 668.8,281.5 662.8,284.8 656.8,287.7 650.8,290.1 643.3,292.6 629.8,295.9 614.8,297.9 598.3,298.9 569.8,299.1 548.8,298.3 535.3,296.8 521.8,294.1 511.3,291.0 499.3,286.1 488.8,280.3 481.3,275.1 471.5,266.4 463.5,257.4 459.2,251.3 456.4,246.8 453.3,240.8 450.7,234.9 448.6,228.8 446.9,222.8 445.8,216.8 444.9,209.3 444.7,203.3 444.9,197.3 445.8,189.9 447.0,183.8 448.6,177.8 450.8,171.8 453.4,165.8 456.6,159.8 459.4,155.4 463.8,149.3 467.8,144.6 472.3,139.9 476.8,135.7 482.8,130.8 487.3,127.6 493.3,124.0 505.3,118.2 517.3,114.1 530.8,110.9 538.3,109.8Z"/>
<path fill="#b9abf9" d="M545.5,111.8 556.3,111.2 568.3,110.9 589.3,110.9 604.3,111.2 622.3,112.7 631.3,114.2 638.8,115.9 647.8,118.6 655.3,121.5 662.8,125.0 670.3,129.4 676.3,133.6 682.3,138.6 688.3,144.5 692.6,149.3 698.2,156.8 702.6,164.3 706.1,171.8 708.8,179.3 711.0,188.4 712.0,195.8 712.4,203.3 711.9,212.3 710.4,221.3 708.4,228.8 705.6,236.3 701.1,245.3 696.3,252.8 691.6,258.9 686.0,264.9 679.3,271.0 674.8,274.5 668.8,278.6 662.8,282.0 656.8,284.9 644.8,289.4 631.3,292.8 617.8,294.8 602.8,295.8 574.3,296.1 551.8,295.6 538.3,294.4 526.3,292.4 514.3,289.3 503.8,285.4 493.3,280.1 484.3,274.2 475.3,266.6 467.8,258.7 464.3,254.3 460.2,248.3 456.7,242.4 453.9,236.3 450.2,225.8 448.7,219.9 447.6,212.3 447.2,206.3 447.2,198.8 447.8,192.8 448.8,186.8 450.3,180.8 452.2,174.8 456.9,164.3 459.4,159.8 463.4,153.8 470.9,144.8 475.4,140.3 481.3,135.1 487.3,130.6 491.8,127.8 497.8,124.5 503.8,121.6 515.8,117.3 529.3,114.0 536.8,112.8ZM580.3,201.7 579.9,203.3 580.3,205.2Z"/>
<path fill="#b6a8fa" d="M540.4,114.8 550.3,114.1 560.8,113.7 601.3,113.8 619.3,114.9 626.8,115.8 634.3,117.2 641.8,119.1 649.3,121.5 656.8,124.5 662.8,127.5 668.8,130.9 674.8,135.1 680.8,140.1 686.8,145.9 692.3,152.3 696.7,158.4 701.0,165.8 704.5,173.3 707.0,180.8 708.8,188.3 709.9,195.8 710.3,204.9 709.8,212.3 708.3,221.3 705.7,230.4 702.7,237.8 699.6,243.8 694.8,251.3 689.8,257.7 683.8,264.1 679.3,268.2 673.3,273.0 668.8,276.1 662.8,279.5 656.8,282.5 650.8,285.0 644.8,287.0 637.3,289.1 625.3,291.4 610.3,292.9 595.3,293.3 565.3,293.4 548.8,292.8 535.3,291.6 523.3,289.4 512.8,286.4 500.8,281.6 490.3,275.8 481.6,269.4 473.5,261.9 465.8,252.8 461.7,246.9 458.3,240.9 453.8,230.3 452.0,224.3 450.6,218.3 449.7,212.3 449.3,206.3 449.3,200.3 449.8,194.3 450.7,188.3 452.0,182.3 453.9,176.3 456.3,170.3 459.3,164.3 461.9,159.8 466.0,153.8 469.6,149.3 473.8,144.8 478.5,140.3 482.8,136.6 488.8,132.2 493.3,129.4 499.3,126.1 505.3,123.4 512.8,120.6 518.8,118.7 526.3,117.0ZM580.3,201.3 579.7,203.3 580.3,205.7Z"/>
<path fill="#b2a4fa" d="M550.3,116.3 590.8,116.1 610.3,116.4 625.3,117.7 638.8,120.3 647.8,123.0 653.8,125.3 661.3,128.8 667.3,132.2 673.3,136.4 679.3,141.3 684.6,146.4 689.8,152.2 694.4,158.3 698.9,165.8 702.4,173.3 705.1,180.8 706.9,188.3 708.2,197.3 708.4,204.8 707.9,212.3 706.7,219.8 704.2,228.8 701.3,236.3 698.3,242.4 693.6,249.8 689.0,255.8 683.4,261.9 676.3,268.2 667.3,274.8 661.3,278.2 655.3,281.1 649.3,283.5 643.3,285.5 637.3,287.1 629.8,288.6 617.8,290.1 604.3,290.8 562.3,290.9 545.8,290.4 533.8,289.3 521.8,287.0 511.3,283.9 502.3,280.2 493.3,275.4 485.8,270.3 477.7,263.4 470.6,255.9 467.0,251.3 463.0,245.4 459.6,239.3 457.6,234.8 455.3,228.8 453.5,222.8 452.2,216.8 451.5,210.8 451.1,204.8 451.2,198.8 451.8,192.9 452.9,186.8 454.4,180.9 456.5,174.8 461.4,164.3 464.1,159.8 468.4,153.8 472.1,149.3 476.4,144.8 481.3,140.3 487.3,135.6 491.8,132.5 497.8,129.0 503.8,126.1 509.8,123.7 521.8,120.0 535.3,117.5ZM580.3,200.9 579.6,203.4 579.7,204.8 580.3,206.1 580.5,203.3Z"/>
<path fill="#afa1fa" d="M535.8,119.3 544.3,118.6 553.3,118.3 605.8,118.3 617.8,118.8 629.8,120.2 637.3,121.8 643.3,123.4 650.8,125.9 658.3,129.2 664.3,132.4 668.8,135.3 674.8,139.7 679.3,143.6 685.1,149.3 690.1,155.3 695.3,162.8 698.5,168.8 701.8,176.3 704.2,183.8 705.7,191.3 706.5,198.8 706.6,206.3 705.8,215.4 704.2,222.8 701.9,230.3 699.4,236.3 695.4,243.9 690.4,251.3 685.3,257.4 677.6,264.9 668.8,271.7 661.3,276.3 652.3,280.5 641.8,284.1 631.3,286.5 620.8,288.0 608.8,288.7 548.8,288.6 536.8,287.8 526.3,286.1 520.3,284.8 512.8,282.5 506.8,280.3 500.8,277.6 494.8,274.4 490.3,271.5 484.3,266.9 479.8,263.0 475.5,258.9 471.5,254.3 467.0,248.3 464.1,243.8 460.8,237.8 458.2,231.8 454.9,221.3 453.7,215.3 453.0,209.3 452.8,203.3 453.1,197.3 453.8,191.3 455.0,185.3 458.3,174.8 461.0,168.8 463.4,164.3 467.2,158.3 470.5,153.8 478.3,145.4 482.8,141.3 488.8,136.6 493.3,133.6 499.3,130.2 505.3,127.3 511.3,125.0 523.3,121.5ZM580.3,200.5 579.6,201.8 579.4,203.3 579.5,204.8 580.3,206.5 580.6,203.3Z"/>
<path fill="#ac9efb" d="M537.5,120.8 551.8,120.1 580.3,120.5 607.3,120.1 619.3,120.6 629.8,121.9 635.8,123.1 643.3,125.0 650.8,127.6 656.8,130.2 662.8,133.4 668.8,137.2 673.3,140.6 679.3,145.8 684.3,150.8 689.3,156.9 693.4,162.8 697.5,170.3 700.6,177.8 702.9,185.3 704.3,192.9 705.0,200.3 705.0,207.8 704.2,215.3 702.6,222.8 700.2,230.3 696.9,237.8 693.6,243.8 689.5,249.8 683.8,256.7 676.3,263.9 668.8,269.8 661.3,274.5 652.3,278.8 643.3,282.0 632.8,284.6 622.3,286.1 610.3,286.9 580.3,286.5 548.8,286.9 536.8,286.1 526.3,284.5 520.3,283.1 512.8,280.9 506.8,278.6 500.8,275.8 496.3,273.4 490.3,269.5 485.8,266.1 479.8,260.9 475.3,256.3 471.1,251.3 465.0,242.3 462.6,237.8 459.9,231.8 456.5,221.3 455.3,215.3 454.6,209.3 454.4,203.3 454.7,197.3 455.4,191.3 456.6,185.3 460.0,174.8 462.7,168.8 465.2,164.3 469.1,158.3 472.6,153.8 476.8,149.1 481.3,144.8 486.5,140.3 491.8,136.4 496.3,133.6 502.3,130.4 512.8,126.1 524.8,122.8ZM580.3,200.2 579.4,201.8 579.2,203.3 579.3,204.8 580.3,206.8 580.6,203.4Z"/>
<path fill="#a99bfb" d="M538.0,122.3 545.8,121.8 553.3,121.7 580.3,122.5 608.8,121.7 619.3,122.2 629.8,123.4 635.8,124.6 643.3,126.6 650.8,129.2 656.8,131.9 662.8,135.1 667.3,137.9 672.5,141.8 677.8,146.4 683.7,152.3 688.6,158.3 692.6,164.3 696.6,171.8 699.6,179.3 701.4,185.3 702.8,192.8 703.5,200.3 703.5,207.8 702.7,215.4 701.1,222.8 698.6,230.3 695.3,237.9 691.9,243.8 687.7,249.8 682.6,255.8 674.8,263.3 667.3,269.1 659.8,273.6 652.3,277.2 643.3,280.4 632.8,283.0 622.3,284.6 611.8,285.2 602.8,285.2 580.3,284.5 556.3,285.3 547.3,285.2 536.8,284.5 527.8,283.2 515.8,280.3 508.3,277.6 502.3,274.9 496.3,271.7 491.8,268.8 486.6,264.9 481.3,260.3 476.9,255.8 473.0,251.3 466.7,242.4 464.2,237.8 461.5,231.8 459.3,225.9 457.7,219.8 456.1,209.3 455.9,203.3 456.1,197.3 456.9,191.3 458.1,185.3 461.6,174.8 464.4,168.8 466.9,164.3 473.2,155.3 477.1,150.8 481.3,146.7 485.8,142.8 491.8,138.2 496.3,135.3 502.3,132.0 512.8,127.7 524.8,124.4 530.8,123.2ZM580.3,199.9 579.2,201.8 579.0,203.3 579.1,204.8 580.3,207.1 580.7,203.3Z"/>
<path fill="#a599fb" d="M537.4,123.8 544.3,123.4 553.3,123.2 580.3,124.3 610.3,123.2 620.8,123.7 629.8,124.8 637.3,126.4 643.3,128.0 649.3,130.1 655.3,132.7 659.8,134.9 665.8,138.6 671.8,143.0 676.3,146.9 681.9,152.3 686.8,158.3 691.0,164.3 694.3,170.3 697.0,176.3 699.5,183.8 701.2,191.3 702.1,198.8 702.2,206.3 701.5,213.8 700.0,221.3 697.7,228.8 695.2,234.9 691.2,242.4 687.1,248.4 682.3,254.2 674.8,261.5 667.3,267.4 659.8,272.1 652.3,275.7 643.3,279.0 632.8,281.6 623.8,283.0 613.3,283.7 602.8,283.7 580.3,282.7 556.3,283.7 547.3,283.7 536.8,283.1 527.8,281.8 515.8,278.8 508.3,276.1 502.3,273.4 496.3,270.1 491.8,267.1 482.8,259.8 478.8,255.8 474.8,251.3 468.3,242.3 465.8,237.8 463.0,231.8 461.3,227.3 459.5,221.4 457.7,210.8 457.3,204.9 457.4,198.8 458.1,192.8 459.2,186.8 460.9,180.8 462.5,176.3 465.2,170.3 467.6,165.8 473.8,156.8 481.3,148.6 485.8,144.6 491.8,139.9 496.3,136.9 502.3,133.6 512.8,129.2 524.8,125.8ZM580.3,199.6 579.0,201.8 578.8,203.3 579.5,206.3 580.3,207.4 580.7,203.3Z"/>
<path fill="#a298fb" d="M535.9,125.3 542.8,124.8 551.8,124.6 580.3,125.8 610.3,124.6 619.3,125.0 628.3,126.0 635.8,127.4 641.8,128.9 647.8,130.9 653.8,133.4 659.8,136.4 663.8,138.8 673.3,146.0 679.3,151.6 684.0,156.8 688.4,162.8 692.1,168.8 695.0,174.8 697.7,182.3 699.6,189.9 700.6,197.3 700.9,204.8 700.5,210.8 699.3,218.3 697.3,225.8 695.1,231.8 691.4,239.3 687.6,245.3 683.0,251.3 677.4,257.4 670.3,263.5 662.8,268.8 655.3,272.9 646.3,276.6 637.3,279.3 626.8,281.3 616.3,282.2 604.3,282.3 578.8,281.2 557.8,282.2 547.3,282.4 538.3,281.9 529.3,280.7 517.3,277.9 511.3,275.9 505.3,273.4 500.8,271.2 495.2,267.9 485.8,260.7 477.8,252.8 474.1,248.4 470.9,243.8 468.1,239.3 465.1,233.4 462.7,227.3 461.3,222.9 459.2,212.3 458.7,206.3 458.7,200.3 459.9,189.8 461.4,183.8 463.3,177.8 465.9,171.8 468.3,167.3 474.3,158.3 478.0,153.8 482.4,149.3 491.8,141.5 496.3,138.5 502.3,135.0 512.8,130.5 523.3,127.5ZM580.3,199.2 579.4,200.3 578.8,201.8 578.8,203.3 578.8,205.0 579.2,206.3 580.3,207.8 580.8,203.4Z"/>
<path fill="#9e96fb" d="M534.0,126.8 541.3,126.2 550.3,125.9 574.3,127.2 581.8,127.3 610.3,125.9 619.3,126.2 626.8,127.0 632.8,128.0 640.3,129.8 646.3,131.7 652.3,134.1 658.3,137.0 662.8,139.7 671.8,146.4 677.8,151.8 682.4,156.8 686.9,162.8 690.6,168.9 693.6,174.8 696.4,182.3 698.0,188.3 699.2,195.8 699.6,203.3 699.2,210.8 698.0,218.3 696.5,224.3 693.7,231.9 690.8,237.8 687.1,243.8 682.6,249.9 677.1,255.9 670.3,261.9 662.8,267.3 655.3,271.5 646.3,275.3 637.3,278.0 628.3,279.8 617.8,280.9 605.8,281.0 586.3,279.8 578.8,279.7 556.3,280.9 547.3,281.0 538.3,280.6 530.8,279.7 518.8,277.1 508.3,273.4 502.3,270.6 497.8,268.0 488.8,261.5 480.9,254.3 476.9,249.8 473.4,245.3 470.5,240.8 467.2,234.8 465.2,230.3 463.0,224.3 460.7,213.8 460.0,207.8 459.9,201.8 461.0,191.3 462.3,185.3 463.6,180.8 465.3,176.4 468.1,170.3 473.8,161.1 477.1,156.8 481.2,152.3 490.3,144.3 499.3,138.1 503.8,135.7 509.8,133.0 515.8,130.8 521.8,129.1ZM580.3,198.9 578.8,201.2 578.7,203.3 579.0,206.3 580.3,208.1 580.8,203.4Z"/>
<path fill="#9b95fc" d="M531.9,128.3 539.8,127.5 548.8,127.2 578.8,128.7 586.3,128.5 608.8,127.2 617.8,127.4 625.3,128.0 637.3,130.2 643.3,132.0 649.3,134.1 655.3,136.8 659.8,139.2 668.8,145.5 674.8,150.6 679.5,155.3 684.4,161.3 688.4,167.3 691.5,173.3 694.6,180.8 696.4,186.8 697.8,194.4 698.4,201.8 698.1,209.3 697.1,216.8 695.6,222.8 693.6,228.8 690.2,236.3 686.7,242.3 682.3,248.3 676.9,254.4 670.3,260.3 662.8,265.9 655.3,270.2 647.8,273.5 638.8,276.4 629.8,278.3 619.3,279.5 605.8,279.7 586.3,278.5 578.8,278.3 556.3,279.6 547.3,279.8 539.8,279.5 532.3,278.7 520.3,276.3 509.8,272.7 503.8,270.0 499.3,267.5 490.3,261.2 485.7,257.4 481.3,253.0 474.9,245.4 471.9,240.8 468.5,234.8 465.9,228.8 464.3,224.3 462.7,218.4 461.9,213.8 461.1,203.3 462.0,192.8 462.8,188.3 464.4,182.3 466.6,176.3 468.7,171.8 474.0,162.8 477.4,158.4 481.4,153.8 485.8,149.6 490.3,145.8 499.3,139.5 508.3,134.9 514.3,132.6 520.3,130.7ZM580.3,198.6 578.8,200.6 578.6,203.3 578.8,206.5 580.3,208.4 580.9,203.3Z"/>
<path fill="#9794fc" d="M529.8,129.9 538.3,128.8 547.3,128.4 556.3,128.6 578.8,129.9 586.3,129.8 608.8,128.4 617.8,128.6 625.3,129.2 637.3,131.4 647.8,134.7 653.8,137.3 658.3,139.7 667.3,145.8 673.3,150.8 677.9,155.3 683.0,161.3 687.0,167.3 690.3,173.3 692.8,179.3 694.8,185.3 696.4,192.8 697.0,198.8 697.1,206.3 696.6,212.4 695.2,219.9 693.5,225.8 690.4,233.3 687.2,239.4 683.2,245.4 677.8,251.8 671.8,257.6 664.3,263.4 656.8,268.1 649.3,271.7 640.3,274.8 631.3,276.9 622.3,278.1 614.8,278.6 607.3,278.6 580.3,277.1 572.8,277.2 550.3,278.6 541.3,278.4 533.8,277.7 523.3,275.8 517.3,274.2 511.3,272.1 502.3,267.9 493.3,262.1 484.3,254.4 477.5,246.9 471.4,237.8 468.4,231.9 466.6,227.3 465.1,222.8 463.6,216.8 462.7,210.8 462.4,206.3 462.7,195.8 463.7,189.8 464.7,185.3 466.7,179.3 468.5,174.8 473.4,165.8 476.5,161.3 480.2,156.8 487.8,149.3 493.3,144.9 497.8,141.8 506.8,136.8 512.8,134.3 518.8,132.3ZM580.3,198.3 578.8,200.0 578.6,203.3 578.8,207.0 580.3,208.7 580.9,203.4Z"/>
<path fill="#9493fc" d="M539.3,129.8 551.8,129.6 571.3,130.9 580.3,131.2 587.8,130.9 604.3,129.7 613.3,129.5 620.8,129.9 628.3,130.7 634.3,131.8 640.3,133.4 646.3,135.3 652.3,137.8 661.3,142.8 670.3,149.6 675.0,153.8 680.4,159.8 684.8,165.8 687.5,170.3 690.4,176.3 693.2,183.8 695.0,191.3 695.8,197.3 696.1,203.3 695.7,210.8 694.8,216.8 692.8,224.3 690.6,230.4 687.7,236.4 684.0,242.3 679.4,248.3 673.7,254.4 667.3,259.8 659.8,265.1 652.3,269.2 644.8,272.2 635.8,274.8 626.8,276.5 617.8,277.3 605.8,277.3 587.8,276.1 578.8,275.9 554.8,277.3 545.8,277.4 538.3,277.1 530.8,276.2 518.8,273.5 512.8,271.5 506.8,269.0 497.8,263.9 488.8,257.1 481.3,249.7 477.7,245.3 474.5,240.8 471.9,236.3 468.9,230.4 467.2,225.8 465.4,219.8 464.2,213.8 463.7,209.3 463.6,198.8 464.0,194.3 465.1,188.4 466.8,182.3 468.4,177.8 471.2,171.8 473.8,167.3 476.8,162.8 480.3,158.3 487.7,150.8 497.8,143.1 506.8,138.0 517.3,133.9 527.8,131.3ZM580.3,198.1 578.8,199.6 578.5,203.3 578.8,207.5 580.3,208.9 580.8,206.3 581.0,203.3Z"/>
<path fill="#9093fc" d="M534.7,131.3 542.8,130.7 550.3,130.7 571.3,132.1 580.3,132.3 611.8,130.6 619.3,130.9 626.8,131.6 632.8,132.6 638.8,134.0 649.3,137.6 658.3,142.2 667.3,148.5 673.3,153.7 677.8,158.3 681.4,162.8 685.4,168.8 688.6,174.8 691.1,180.8 693.3,188.3 694.4,194.3 695.0,200.3 694.9,207.8 694.0,215.4 692.6,221.3 690.7,227.3 688.0,233.3 684.7,239.3 680.5,245.3 674.8,251.9 668.8,257.3 661.3,262.9 653.8,267.3 646.3,270.6 638.8,273.0 629.8,275.0 620.8,276.0 607.3,276.3 589.3,275.0 580.3,274.7 571.3,274.9 550.3,276.3 541.3,276.2 533.8,275.5 527.8,274.6 521.8,273.3 511.3,269.8 502.3,265.5 493.3,259.4 488.8,255.7 484.3,251.4 477.9,243.8 474.8,239.4 472.2,234.8 468.3,225.8 466.9,221.3 465.5,215.3 464.5,204.8 464.5,200.3 465.1,194.3 465.9,189.8 467.4,183.8 469.6,177.8 471.6,173.3 477.0,164.3 480.4,159.8 484.5,155.3 488.8,151.3 493.3,147.6 502.3,141.5 506.8,139.1 512.8,136.6 523.3,133.4ZM580.3,197.8 578.8,199.1 578.5,203.3 578.8,207.9 580.3,209.2 580.9,206.3 581.0,203.3 580.8,200.3Z"/>
<path fill="#8c95fd" d="M531.1,132.8 538.3,132.0 545.8,131.7 553.3,131.9 569.8,133.1 578.8,133.4 587.8,133.2 608.8,131.8 616.3,131.8 623.8,132.3 634.3,133.9 640.3,135.5 646.3,137.5 655.3,141.6 664.3,147.4 670.3,152.3 675.1,156.8 679.3,161.7 683.3,167.3 686.8,173.3 689.5,179.3 691.9,186.8 693.2,192.8 693.9,198.9 694.0,206.3 693.5,212.3 692.0,219.8 690.1,225.8 687.7,231.8 684.5,237.8 680.4,243.9 675.4,249.8 670.3,254.7 662.8,260.7 655.3,265.4 647.8,268.9 640.3,271.5 631.3,273.7 622.3,274.9 608.8,275.2 588.7,273.9 580.3,273.6 571.3,273.8 548.8,275.3 541.3,275.2 533.8,274.5 527.8,273.6 521.8,272.2 511.3,268.8 502.3,264.3 494.8,259.3 490.3,255.7 485.8,251.6 479.1,243.8 476.0,239.3 473.4,234.9 469.4,225.8 466.8,216.8 465.9,210.8 465.5,206.3 465.5,200.3 465.9,195.9 466.9,189.9 468.0,185.3 471.3,176.3 476.2,167.3 479.3,162.8 482.8,158.6 490.3,151.3 499.3,144.6 508.3,139.5 514.3,137.1 520.3,135.2ZM578.8,198.7 578.4,203.3 578.7,207.8 578.8,208.3 580.3,209.5 581.1,204.8 580.9,200.4 580.3,197.5Z"/>
<path fill="#8898fd" d="M540.8,132.8 551.8,132.8 569.8,134.2 578.8,134.5 587.8,134.3 611.8,132.7 620.8,133.0 628.3,133.8 638.8,136.0 649.3,139.7 658.3,144.5 667.3,151.0 672.3,155.3 676.5,159.8 681.2,165.8 684.9,171.8 687.8,177.8 690.1,183.8 691.6,189.8 692.6,195.8 693.1,201.8 692.9,207.8 692.0,215.3 690.6,221.3 688.6,227.3 685.9,233.3 682.4,239.3 678.1,245.3 673.3,250.6 667.3,256.1 659.8,261.6 652.3,265.9 644.8,269.1 635.8,271.8 628.3,273.2 619.3,274.1 607.3,274.2 589.3,272.8 580.3,272.5 571.3,272.8 548.8,274.3 539.8,274.1 532.3,273.4 521.8,271.3 515.8,269.4 509.8,267.1 500.8,262.3 491.8,255.7 484.0,248.3 480.3,243.8 477.1,239.3 474.4,234.8 471.5,228.8 468.5,219.8 467.2,213.9 466.7,209.3 466.4,204.8 466.6,198.8 467.0,194.3 468.2,188.3 471.0,179.3 475.4,170.3 478.3,165.8 481.7,161.4 485.8,156.8 490.3,152.5 499.3,145.7 508.3,140.6 518.8,136.6 529.3,134.1ZM580.3,197.2 578.8,198.3 578.4,203.4 578.8,208.7 580.3,209.8 581.0,206.3 581.1,203.3 581.0,200.3Z"/>
<path fill="#839afe" d="M534.0,134.3 541.3,133.8 548.8,133.7 569.8,135.2 580.3,135.5 589.3,135.2 610.3,133.7 617.8,133.7 623.8,134.2 629.8,135.0 635.8,136.2 646.3,139.4 653.8,142.9 662.8,148.6 668.8,153.4 673.3,157.6 677.8,162.8 681.1,167.3 684.7,173.3 687.5,179.3 689.6,185.4 691.0,191.3 691.9,197.3 692.2,204.9 691.8,210.8 690.5,218.3 688.7,224.4 686.3,230.4 683.2,236.3 679.2,242.3 674.3,248.4 668.8,253.6 661.3,259.5 653.8,264.1 647.8,267.0 638.8,270.0 631.3,271.8 622.3,273.0 616.3,273.3 608.8,273.2 589.3,271.8 580.3,271.5 569.8,271.8 548.8,273.3 541.3,273.2 533.8,272.6 523.3,270.7 512.8,267.4 505.3,263.9 496.3,258.1 488.2,251.3 481.4,243.9 478.2,239.3 475.4,234.8 471.3,225.9 468.7,216.8 467.9,212.3 467.4,206.3 467.4,200.3 467.8,195.8 468.5,191.3 469.9,185.4 471.4,180.9 474.0,174.8 476.5,170.3 479.4,165.8 485.8,158.0 493.3,151.2 502.3,144.9 506.8,142.3 511.3,140.2 521.8,136.7 527.8,135.3ZM580.3,196.9 578.8,197.9 578.3,203.3 578.8,209.1 580.3,210.1 580.9,207.8 581.2,203.3 580.8,198.8Z"/>
<path fill="#7f9cfe" d="M529.7,135.8 538.3,134.8 547.3,134.6 571.3,136.3 581.8,136.5 590.8,136.1 608.8,134.7 616.3,134.6 622.3,134.9 632.8,136.4 643.3,139.2 650.8,142.3 659.8,147.6 665.8,152.0 670.3,155.9 674.8,160.5 679.1,165.8 682.9,171.8 685.9,177.8 688.2,183.8 689.8,189.8 690.9,195.8 691.3,201.8 691.1,209.3 690.2,215.4 688.8,221.3 686.1,228.8 683.1,234.9 680.3,239.3 675.8,245.3 670.1,251.3 662.8,257.3 655.3,262.3 649.3,265.4 641.8,268.3 634.3,270.3 625.3,271.8 617.8,272.3 610.3,272.4 589.3,270.8 578.8,270.5 569.8,270.8 548.8,272.4 542.8,272.4 535.3,271.9 524.8,270.2 515.8,267.6 506.8,263.7 499.3,259.2 490.3,252.2 483.7,245.4 480.2,240.8 477.3,236.4 472.8,227.3 469.9,218.4 468.8,212.3 468.3,207.8 468.2,201.8 468.5,197.3 470.0,188.3 472.9,179.3 477.5,170.4 480.4,165.8 484.0,161.3 490.3,154.8 499.3,147.8 508.3,142.5 512.8,140.5 518.8,138.4ZM580.3,196.6 578.8,197.5 578.2,203.3 578.8,209.5 580.3,210.4 581.0,207.9 581.2,203.3 580.9,198.8Z"/>
<path fill="#7b9eff" d="M536.2,135.8 542.8,135.5 548.8,135.5 569.8,137.2 578.8,137.5 589.3,137.2 611.8,135.5 619.3,135.6 626.8,136.2 637.3,138.3 646.3,141.2 655.3,145.7 664.3,151.8 668.8,155.6 673.3,160.0 676.9,164.3 681.1,170.3 684.3,176.3 686.3,180.9 688.7,188.3 689.8,194.3 690.4,200.3 690.5,206.3 689.9,212.3 688.7,218.3 686.9,224.3 684.5,230.3 681.3,236.3 677.2,242.3 671.8,248.5 665.8,254.0 658.3,259.5 652.3,263.0 646.3,265.8 638.8,268.3 631.3,270.1 622.3,271.2 610.3,271.5 589.3,269.8 580.3,269.5 569.8,269.8 548.8,271.5 541.3,271.5 533.8,270.9 523.3,269.0 512.8,265.6 503.8,261.1 496.3,256.0 491.8,252.4 487.5,248.3 481.2,240.8 478.2,236.4 475.7,231.8 472.1,222.8 469.8,213.8 469.1,207.8 469.0,203.3 469.2,198.8 469.9,192.8 472.2,183.8 475.9,174.8 478.4,170.3 481.4,165.8 487.8,158.3 491.8,154.6 496.3,151.0 505.3,145.0 509.8,142.7 514.3,140.8 524.8,137.6 530.8,136.5ZM578.8,197.1 578.2,201.9 578.4,207.8 578.8,209.9 580.3,210.7 581.2,206.3 581.2,200.3 580.3,196.3Z"/>
<path fill="#77a1ff" d="M530.6,137.3 538.3,136.5 547.3,136.3 569.8,138.1 580.3,138.5 589.3,138.2 610.3,136.4 617.8,136.3 623.8,136.7 634.3,138.3 643.3,140.9 650.8,144.1 659.8,149.5 665.8,154.0 670.3,158.0 674.7,162.9 678.2,167.3 681.9,173.3 684.9,179.3 687.0,185.3 688.5,191.3 689.4,197.3 689.7,203.3 689.5,209.3 688.6,215.3 687.1,221.3 685.0,227.3 682.1,233.3 678.4,239.3 673.7,245.3 667.8,251.3 661.3,256.5 653.8,261.3 647.8,264.3 640.3,267.1 632.8,269.0 625.3,270.2 617.8,270.7 610.3,270.6 589.3,268.8 578.8,268.5 569.8,268.9 548.8,270.6 541.3,270.7 535.3,270.3 524.8,268.6 515.8,265.9 508.3,262.7 500.8,258.3 491.8,251.4 488.6,248.3 484.5,243.8 479.1,236.4 474.5,227.4 471.6,218.3 470.4,212.3 469.9,207.8 469.8,201.8 470.0,197.3 471.6,188.3 474.6,179.3 479.3,170.3 484.7,162.8 492.1,155.3 500.8,148.7 509.8,143.5 514.3,141.6 520.3,139.6ZM578.8,196.8 578.2,201.8 578.4,207.8 578.8,210.2 580.3,211.0 580.8,209.3 581.3,206.3 581.2,200.3 580.3,196.0Z"/>
<path fill="#71a3ff" d="M537.2,137.3 548.8,137.2 569.8,139.0 578.8,139.4 589.3,139.1 611.8,137.1 619.3,137.2 626.8,137.8 637.3,139.8 646.3,142.8 655.3,147.4 662.8,152.5 668.0,156.8 672.5,161.3 677.3,167.3 680.3,171.8 683.4,177.8 685.8,183.8 687.5,189.8 688.3,194.3 689.0,200.3 689.0,206.3 688.4,212.3 687.2,218.3 685.4,224.3 682.8,230.4 679.5,236.4 676.5,240.8 671.4,246.9 665.8,252.1 659.8,256.6 652.3,261.3 646.3,264.2 637.3,267.2 629.8,268.8 622.3,269.7 610.3,269.8 589.3,267.9 580.3,267.6 571.2,267.9 548.8,269.8 541.3,269.9 533.8,269.3 523.3,267.4 514.3,264.6 506.8,261.1 497.8,255.3 493.3,251.8 489.6,248.3 483.0,240.9 480.0,236.3 477.4,231.9 474.1,224.4 471.6,215.3 470.9,210.9 470.5,204.8 470.6,200.3 471.2,194.3 473.2,185.3 474.8,180.8 477.6,174.8 482.2,167.3 488.8,159.4 496.3,152.8 505.3,146.8 514.3,142.4 524.8,139.2 530.8,138.1ZM580.3,195.8 578.8,196.4 578.3,198.9 578.1,203.3 578.3,207.9 578.8,210.6 580.3,211.2 581.2,207.8 581.4,203.3 581.1,198.8Z"/>
<path fill="#6ba6ff" d="M530.5,138.8 538.3,138.0 547.3,137.9 571.3,140.0 580.3,140.4 589.3,140.0 610.3,138.0 617.8,137.8 623.8,138.2 634.3,139.8 643.3,142.4 650.8,145.7 658.3,150.2 664.3,154.5 668.8,158.5 673.3,163.3 677.5,168.8 680.4,173.3 683.3,179.3 685.6,185.4 687.1,191.3 688.0,197.3 688.3,203.3 688.1,209.3 687.2,215.3 685.7,221.3 683.5,227.3 681.3,231.8 677.7,237.9 673.2,243.8 667.3,249.9 661.3,254.7 653.8,259.7 647.8,262.8 640.3,265.6 632.8,267.5 625.3,268.7 617.8,269.2 610.3,269.0 589.3,267.0 580.3,266.6 571.3,267.0 548.8,269.1 541.3,269.1 535.3,268.8 524.8,267.1 515.8,264.4 508.3,261.1 500.8,256.6 493.3,250.9 486.3,243.8 480.8,236.3 476.0,227.3 473.0,218.4 471.8,212.4 471.3,207.8 471.2,201.8 471.5,197.4 473.1,188.3 476.2,179.3 481.0,170.4 486.6,162.8 493.3,156.1 502.3,149.4 511.3,144.4 520.3,141.1ZM580.3,195.5 578.8,196.0 578.2,198.8 578.0,203.3 578.2,207.8 578.8,210.9 580.3,211.5 581.3,207.8 581.5,203.3 581.2,198.8Z"/>
<path fill="#65a8ff" d="M536.2,138.8 542.8,138.5 548.8,138.7 569.8,140.8 578.8,141.3 587.8,140.9 611.8,138.6 619.3,138.6 626.8,139.2 635.8,140.9 644.8,143.7 652.3,147.2 661.3,153.1 666.0,156.8 670.7,161.3 674.8,166.2 678.7,171.8 681.9,177.9 684.4,183.8 686.1,189.8 687.0,194.3 687.6,200.3 687.6,206.4 687.0,212.3 685.8,218.4 684.5,222.8 682.1,228.8 678.9,234.9 675.9,239.3 671.0,245.3 665.8,250.4 659.8,255.0 652.3,259.8 646.3,262.7 638.8,265.3 631.3,267.1 623.8,268.1 617.8,268.5 610.3,268.3 589.3,266.2 580.3,265.7 569.8,266.2 548.8,268.3 541.3,268.5 535.3,268.1 526.3,266.7 515.8,263.7 506.8,259.5 499.3,254.7 491.5,248.3 484.7,240.9 481.5,236.3 478.9,231.9 475.0,222.8 472.7,213.8 471.8,204.8 471.9,200.3 472.5,194.4 474.6,185.3 478.3,176.3 480.8,171.8 483.8,167.3 490.3,159.8 497.8,153.3 506.8,147.5 511.3,145.1 515.8,143.3 524.8,140.6 530.8,139.5ZM578.8,195.7 578.1,200.3 578.1,207.8 578.8,211.3 580.3,211.8 581.3,207.8 581.3,198.8 580.3,195.2Z"/>
<path fill="#60abff" d="M529.3,140.3 538.3,139.3 547.3,139.3 571.3,141.8 580.3,142.2 589.3,141.7 610.3,139.4 617.8,139.2 623.8,139.5 632.8,140.8 641.8,143.3 649.3,146.4 656.8,150.7 662.8,155.0 666.8,158.4 671.2,162.8 674.9,167.3 678.0,171.9 681.2,177.8 683.7,183.8 685.5,189.8 686.6,195.8 687.0,201.8 686.9,207.8 686.1,213.8 684.8,219.8 682.7,225.8 679.9,231.8 677.2,236.4 672.8,242.4 667.1,248.4 661.3,253.2 653.8,258.2 647.8,261.4 640.3,264.2 632.8,266.2 625.3,267.3 617.8,267.8 610.3,267.6 589.3,265.3 580.3,264.8 571.3,265.2 548.8,267.6 541.3,267.8 535.3,267.4 526.3,266.1 517.3,263.6 509.8,260.4 502.3,256.0 494.8,250.5 488.0,243.8 482.3,236.3 479.6,231.8 477.4,227.4 474.3,218.3 472.7,209.3 472.5,204.8 472.6,198.8 474.0,189.8 476.3,182.3 480.6,173.3 483.5,168.8 487.0,164.3 493.3,157.8 497.8,154.1 502.3,151.0 511.3,145.8 520.3,142.4ZM578.8,195.3 578.0,200.3 578.1,207.9 578.8,211.7 580.3,212.1 580.9,210.8 581.4,207.8 581.4,198.8 580.8,195.8 580.3,194.9Z"/>
<path fill="#5aadff" d="M533.7,140.3 539.8,139.9 547.3,139.9 571.3,142.6 580.3,143.0 589.3,142.5 610.3,140.1 617.8,139.8 623.8,140.1 632.8,141.4 641.8,143.9 649.3,147.1 658.3,152.4 662.8,155.7 667.5,159.8 671.7,164.3 675.3,168.8 678.2,173.3 681.3,179.3 683.6,185.3 685.2,191.4 686.1,197.3 686.4,203.3 686.1,209.4 685.2,215.3 683.7,221.4 681.4,227.3 678.3,233.3 675.5,237.8 670.7,243.8 665.8,248.7 659.8,253.5 652.3,258.3 646.3,261.4 638.8,264.1 631.3,265.8 623.8,266.9 617.8,267.2 610.3,267.0 589.3,264.5 580.3,264.0 571.3,264.4 548.8,267.0 541.3,267.2 535.3,266.8 524.8,265.1 515.8,262.4 508.3,258.9 500.8,254.3 493.3,248.3 486.3,240.9 481.2,233.3 478.8,228.8 476.9,224.3 474.3,215.3 473.1,206.3 473.2,200.3 473.6,195.8 475.5,186.8 478.9,177.8 483.2,170.4 489.1,162.9 496.3,156.1 505.3,149.8 514.3,145.2 523.3,142.2ZM578.8,195.0 578.2,197.4 577.9,200.3 578.0,207.8 578.8,212.0 580.3,212.4 581.0,210.8 581.5,207.8 581.5,198.8 580.9,195.8 580.3,194.6Z"/>
<path fill="#54b0ff" d="M527.7,141.8 536.8,140.7 545.8,140.5 553.3,141.1 572.8,143.5 580.3,143.9 587.8,143.4 610.3,140.7 616.3,140.5 622.3,140.6 631.3,141.8 640.3,144.0 647.8,147.0 655.3,151.2 661.3,155.3 665.0,158.3 669.6,162.9 673.4,167.3 676.5,171.8 679.9,177.8 682.4,183.8 684.2,189.8 685.1,194.3 685.7,200.3 685.8,206.3 685.1,212.3 683.9,218.3 682.0,224.3 679.3,230.3 676.7,234.8 672.5,240.8 667.3,246.5 661.7,251.4 655.3,255.8 649.3,259.3 641.8,262.5 634.3,264.6 626.8,265.9 619.3,266.5 611.8,266.4 604.3,265.7 587.8,263.6 578.8,263.1 571.3,263.6 550.3,266.2 542.8,266.6 536.8,266.3 527.8,265.2 518.8,262.9 512.8,260.5 505.3,256.5 497.8,251.3 490.3,244.6 484.3,237.2 479.5,228.8 476.0,219.8 474.1,210.8 473.7,201.8 474.7,192.8 477.1,183.8 478.9,179.3 481.2,174.8 486.1,167.3 492.9,159.8 500.8,153.4 509.8,147.9 514.3,145.8 518.8,144.1ZM580.3,194.3 578.8,194.7 578.4,195.9 577.9,198.8 577.8,203.4 578.3,210.8 578.8,212.3 580.3,212.7 581.1,210.8 581.4,209.3 581.7,203.3 581.4,197.3Z"/>
<path fill="#4cb7fe" d="M533.7,141.8 541.3,141.4 548.8,141.6 572.8,144.8 580.3,145.2 587.8,144.7 610.3,141.6 617.8,141.4 623.8,141.6 632.8,143.0 641.8,145.4 649.3,148.8 656.8,153.2 661.8,156.8 666.9,161.4 671.0,165.8 674.4,170.3 677.8,175.8 680.2,180.8 682.3,186.5 683.6,191.3 684.4,195.8 684.8,201.8 684.7,207.8 683.9,213.8 682.5,219.8 680.4,225.8 677.8,231.2 674.8,236.1 670.3,242.0 665.6,246.8 659.8,251.7 652.3,256.6 646.3,259.7 640.3,262.1 632.8,264.0 625.3,265.2 617.8,265.6 610.3,265.4 587.8,262.4 580.3,261.8 572.8,262.2 548.8,265.4 541.3,265.6 535.3,265.3 526.3,264.0 517.3,261.4 509.8,258.0 502.3,253.5 494.8,247.7 488.2,240.9 482.8,233.1 480.5,228.9 478.5,224.3 475.9,215.3 474.7,206.3 475.0,197.3 476.7,188.3 479.9,179.4 484.3,171.5 490.3,163.8 497.7,156.8 506.8,150.7 515.4,146.3 523.3,143.7ZM578.8,194.1 578.2,195.9 577.8,198.8 577.9,209.3 578.8,212.9 580.3,213.2 581.4,210.8 581.6,209.3 581.5,197.3 581.3,195.8 580.3,193.8Z"/>
<path fill="#44befe" d="M529.3,143.3 538.3,142.3 547.3,142.4 556.3,143.3 572.8,146.0 580.3,146.5 586.3,146.0 608.8,142.7 616.3,142.3 622.3,142.4 631.3,143.5 638.8,145.4 646.3,148.3 653.7,152.3 659.8,156.5 663.9,159.8 668.5,164.3 671.8,168.3 674.8,172.6 677.8,177.8 680.4,183.8 681.9,188.4 682.9,192.8 683.7,198.8 683.9,204.8 683.4,210.8 682.3,216.8 680.5,222.8 677.9,228.8 675.5,233.4 671.3,239.3 665.9,245.3 660.7,249.8 654.2,254.3 647.8,258.0 641.8,260.6 634.3,262.8 626.8,264.2 619.3,264.7 610.3,264.5 602.8,263.6 586.3,261.0 580.3,260.6 572.8,261.0 550.3,264.4 542.8,264.8 535.3,264.4 526.3,263.1 518.8,261.0 512.8,258.5 505.3,254.4 497.0,248.3 490.7,242.4 485.0,234.8 480.8,227.3 477.6,218.3 475.9,209.3 475.7,200.4 476.9,191.3 479.7,182.3 483.3,174.8 488.5,167.3 494.8,160.6 502.3,154.6 511.3,149.2 515.8,147.1 520.3,145.5ZM578.8,193.6 578.0,195.8 577.7,198.8 577.8,209.3 578.8,213.4 580.3,213.7 581.2,212.3 581.7,209.3 581.7,197.3 581.0,194.3 580.3,193.3Z"/>
<path fill="#3cc5fd" d="M536.3,143.3 542.8,143.1 550.3,143.5 557.8,144.5 574.3,147.3 580.3,147.7 586.3,147.2 601.3,144.5 610.3,143.4 617.8,143.1 625.3,143.5 634.3,145.1 641.8,147.3 649.3,150.8 656.6,155.3 661.3,158.8 665.7,162.8 669.8,167.3 673.2,171.8 675.9,176.3 678.2,180.8 679.9,185.3 681.6,191.3 682.4,195.8 682.9,201.8 682.8,207.8 682.0,213.8 680.5,219.8 678.9,224.4 676.3,230.0 673.4,234.8 668.8,240.8 664.3,245.5 659.1,249.9 652.3,254.4 646.3,257.7 639.9,260.4 632.8,262.3 625.3,263.5 617.8,263.9 610.3,263.6 601.3,262.5 586.3,259.8 580.3,259.4 572.8,259.9 559.3,262.3 550.3,263.5 542.8,263.9 535.3,263.6 526.3,262.2 518.8,260.1 511.3,256.7 503.8,252.3 496.3,246.5 489.4,239.3 484.2,231.8 481.9,227.3 480.0,222.8 477.5,213.8 476.6,204.8 477.1,195.8 479.1,186.8 480.7,182.3 482.8,177.8 487.4,170.3 493.3,163.3 500.8,156.8 509.8,151.1 517.3,147.5 526.3,144.8ZM580.3,192.8 578.8,193.0 578.2,194.3 577.7,197.4 577.5,203.3 577.7,209.4 578.1,212.3 578.8,214.0 580.3,214.2 581.5,212.3 581.8,210.8 581.9,203.3 581.7,195.8 581.3,194.3Z"/>
<path fill="#34ccfc" d="M530.9,144.8 539.8,144.0 548.8,144.3 559.3,145.6 574.3,148.4 580.3,148.8 586.3,148.2 599.8,145.7 607.3,144.6 614.8,144.0 622.3,144.2 631.3,145.3 638.8,147.2 644.8,149.6 652.3,153.7 657.2,156.8 661.3,160.1 665.9,164.3 669.8,168.8 673.3,173.8 676.4,179.3 678.4,183.8 680.3,189.8 681.2,194.4 681.9,200.3 681.9,206.3 681.3,212.3 679.9,218.3 678.5,222.8 676.3,227.9 673.3,233.2 668.9,239.3 664.7,243.9 659.6,248.3 653.8,252.4 646.3,256.7 640.3,259.3 634.3,261.0 626.8,262.4 619.3,263.0 610.3,262.7 601.3,261.6 586.3,258.8 580.3,258.2 574.3,258.6 560.8,261.1 551.8,262.4 544.3,263.0 536.8,262.8 527.8,261.6 520.3,259.6 514.3,257.2 506.8,253.1 499.3,247.9 494.8,243.9 491.9,240.8 486.3,233.4 482.3,225.8 479.6,218.3 477.8,209.3 477.6,200.3 478.9,191.3 480.1,186.8 481.7,182.3 485.5,174.8 490.9,167.3 496.7,161.3 503.8,155.9 509.4,152.3 514.3,149.8 521.8,146.9ZM578.8,192.4 577.9,194.3 577.5,197.3 577.5,209.3 577.9,212.4 578.4,213.8 578.8,214.6 580.3,214.7 581.1,213.8 581.8,212.3 581.9,210.8 581.9,195.8 581.7,194.3 580.9,192.8 580.3,192.3Z"/>
<path fill="#2fd3fa" d="M527.6,146.3 536.8,145.1 547.3,145.1 557.8,146.3 574.3,149.5 580.3,149.9 585.8,149.3 598.3,146.8 605.8,145.7 613.3,145.0 620.8,145.0 628.3,145.7 635.8,147.3 641.9,149.3 649.3,153.0 655.3,156.7 659.6,159.8 663.0,162.8 667.4,167.3 670.9,171.8 673.7,176.3 676.3,181.4 678.4,186.8 679.6,191.3 680.7,197.3 681.0,203.3 680.7,209.4 679.7,215.4 678.5,219.8 676.3,225.6 673.9,230.4 670.0,236.3 665.8,241.4 661.3,245.7 655.3,250.3 647.8,254.8 641.8,257.7 635.8,259.7 628.3,261.3 619.3,262.1 610.3,261.8 599.8,260.4 584.8,257.5 578.8,257.1 574.3,257.6 560.2,260.4 551.8,261.5 544.3,262.1 536.8,261.9 529.3,261.0 521.8,259.2 515.8,256.9 509.8,253.8 501.5,248.3 494.8,242.5 489.5,236.3 484.8,228.8 481.5,221.3 479.2,212.3 478.5,203.3 479.3,194.3 481.6,185.4 484.9,177.8 489.7,170.3 494.9,164.4 502.3,158.0 511.3,152.4 518.8,148.9ZM578.8,191.9 578.2,192.8 577.5,195.8 577.5,210.8 578.0,213.8 578.8,215.1 580.3,215.3 581.6,213.9 581.9,212.3 582.0,195.8 581.8,193.7 581.4,192.9 580.3,191.7Z"/>
<path fill="#2ad9f7" d="M533.0,146.3 541.3,145.8 550.3,146.2 560.8,147.7 574.3,150.5 580.3,151.0 584.8,150.5 598.3,147.7 607.3,146.4 616.3,145.8 623.8,146.1 631.3,147.1 638.8,149.1 644.8,151.7 652.3,155.9 656.8,158.9 661.3,162.5 664.7,165.8 668.6,170.3 671.7,174.8 674.3,179.3 676.3,183.8 678.3,189.8 679.3,194.4 680.0,200.3 680.0,206.3 679.6,210.8 678.4,216.8 677.0,221.3 674.8,226.6 671.9,231.8 667.7,237.8 663.6,242.3 658.3,247.0 652.3,251.1 644.8,255.3 638.8,257.9 632.8,259.6 625.3,260.8 617.8,261.2 608.8,260.8 598.3,259.2 584.8,256.5 580.3,256.0 574.3,256.5 560.8,259.3 551.8,260.6 542.8,261.2 535.3,260.9 527.8,259.8 520.3,257.7 514.3,255.1 506.8,250.9 499.3,245.4 493.1,239.3 487.6,231.8 483.7,224.3 481.1,216.8 479.6,207.8 479.6,198.8 481.2,189.8 483.8,182.3 487.8,174.9 493.3,167.4 499.5,161.3 506.8,156.1 516.5,150.8 524.8,147.9ZM578.8,191.3 577.8,192.8 577.3,195.7 577.3,211.2 577.7,213.8 578.5,215.3 578.8,215.7 580.3,215.8 581.8,214.3 582.1,212.3 582.2,195.8 581.8,192.7 580.3,191.2Z"/>
<path fill="#25e0f4" d="M529.1,147.8 538.3,146.8 548.8,147.0 559.3,148.3 575.8,151.7 580.3,152.0 584.8,151.5 598.3,148.7 605.8,147.5 614.8,146.7 622.3,146.8 629.8,147.7 636.6,149.3 643.3,152.0 649.3,155.2 654.5,158.3 658.5,161.4 662.8,165.2 666.2,168.8 669.6,173.3 672.4,177.8 674.8,182.7 676.9,188.3 678.0,192.8 678.9,198.8 679.1,204.8 678.8,209.3 677.8,215.3 676.5,219.8 674.1,225.9 671.7,230.3 667.7,236.3 663.7,240.8 658.9,245.3 653.8,249.1 646.3,253.5 640.3,256.3 634.3,258.3 626.8,259.7 617.8,260.3 608.8,259.9 599.8,258.6 584.8,255.5 580.3,255.0 574.3,255.6 560.8,258.4 551.8,259.7 544.3,260.3 536.8,260.1 529.3,259.2 523.3,257.8 517.3,255.5 509.8,251.6 502.3,246.7 495.8,240.9 490.7,234.8 486.1,227.3 483.0,219.8 481.7,215.3 480.9,210.8 480.4,201.8 481.2,194.3 482.2,189.8 483.6,185.3 487.1,177.8 491.8,170.7 497.6,164.3 503.8,159.2 512.8,153.7 520.3,150.3 524.8,148.8ZM578.8,190.7 577.4,192.8 577.2,194.3 577.2,212.3 577.4,213.9 578.0,215.3 578.8,216.3 580.3,216.4 581.8,215.1 582.3,212.4 582.3,195.9 581.8,191.9 580.3,190.6Z"/>
<path fill="#20e6f2" d="M535.4,147.8 542.8,147.6 551.8,148.2 560.8,149.6 574.3,152.4 580.3,153.0 584.8,152.5 598.3,149.6 607.3,148.2 616.3,147.6 623.8,147.8 631.3,148.9 637.3,150.5 643.3,153.0 650.8,157.1 655.3,160.1 659.8,163.7 663.6,167.3 667.3,171.7 670.5,176.3 672.9,180.8 674.9,185.3 676.3,189.8 677.3,194.3 678.1,200.3 678.1,206.3 677.6,210.8 676.4,216.8 675.0,221.3 673.1,225.8 670.7,230.4 666.5,236.3 662.5,240.8 657.4,245.4 652.3,249.0 644.8,253.2 638.8,255.9 632.8,257.8 625.3,259.0 616.3,259.4 607.3,258.8 598.3,257.4 584.8,254.5 580.3,254.0 574.3,254.6 560.8,257.4 551.8,258.8 544.3,259.4 536.8,259.3 529.3,258.3 521.8,256.3 515.8,253.8 508.3,249.6 500.8,244.3 494.3,237.9 488.8,230.3 485.1,222.8 482.7,215.3 481.9,210.8 481.4,206.3 481.7,197.3 483.2,189.9 485.9,182.3 490.3,174.4 495.9,167.3 502.3,161.5 509.8,156.5 518.8,151.8 526.3,149.3ZM578.8,190.1 577.3,192.1 577.1,194.3 577.0,212.3 577.5,215.3 578.8,216.9 580.3,217.0 581.8,215.9 582.3,213.8 582.4,194.3 581.8,191.1 580.3,190.0Z"/>
<path fill="#2aede3" d="M530.6,149.4 539.8,148.5 548.8,148.7 559.3,150.2 574.3,153.4 580.3,153.9 586.3,153.2 599.8,150.3 607.3,149.1 614.8,148.5 622.3,148.6 629.8,149.5 635.4,150.8 641.8,153.3 647.8,156.4 653.4,159.8 657.4,162.8 661.3,166.3 665.0,170.3 668.4,174.8 671.1,179.3 673.3,183.8 674.9,188.3 676.3,193.9 677.0,198.8 677.2,203.3 676.9,209.3 676.1,213.8 674.5,219.8 672.7,224.3 670.4,228.8 667.3,233.7 662.8,239.2 658.3,243.4 653.8,246.9 646.4,251.3 640.2,254.3 634.3,256.5 626.8,258.0 617.8,258.6 608.8,258.1 599.8,256.7 586.3,253.8 580.3,253.1 574.3,253.6 560.8,256.5 551.8,257.9 544.3,258.5 536.8,258.4 529.3,257.4 523.3,255.9 517.3,253.5 511.3,250.3 503.6,245.3 496.9,239.3 491.8,233.2 487.5,225.8 484.5,218.3 482.8,210.8 482.4,206.3 482.3,201.8 483.1,194.3 485.1,186.8 488.4,179.3 493.3,171.8 498.7,165.8 505.3,160.4 514.3,155.0 523.3,151.1ZM578.8,189.5 577.3,191.1 577.0,192.8 577.0,213.8 577.3,215.9 578.0,216.8 578.8,217.5 580.3,217.7 581.8,216.7 582.5,213.9 582.6,194.3 581.8,190.3 580.3,189.3Z"/>
<path fill="#34f4d4" d="M539.2,149.3 545.8,149.4 553.3,150.1 560.8,151.4 572.8,154.2 580.3,154.8 586.3,154.2 599.8,151.2 607.3,150.0 616.3,149.3 623.8,149.6 631.3,150.7 637.0,152.3 643.3,155.1 650.8,159.3 655.3,162.4 659.5,165.8 662.8,169.2 666.2,173.3 669.2,177.8 671.5,182.3 673.4,186.8 674.7,191.3 675.7,195.8 676.2,200.3 676.2,206.3 675.7,210.8 674.8,215.4 672.9,221.3 671.0,225.8 668.4,230.4 665.3,234.9 661.3,239.4 656.3,243.8 650.8,247.7 643.3,251.9 637.3,254.5 631.3,256.3 625.3,257.3 617.8,257.7 608.8,257.2 599.8,255.8 586.3,252.8 580.3,252.2 572.8,252.8 559.3,255.8 551.8,257.0 544.3,257.6 536.8,257.5 529.3,256.5 523.3,254.9 515.8,251.7 508.3,247.5 501.4,242.3 495.4,236.3 490.3,229.1 486.6,221.3 484.3,213.8 483.6,209.3 483.3,204.8 483.3,200.4 483.8,195.8 485.6,188.3 488.7,180.8 493.3,173.3 498.5,167.3 505.3,161.5 514.3,156.1 522.5,152.3 529.3,150.5ZM578.8,188.8 577.3,190.2 576.8,192.8 576.8,213.9 577.3,216.9 578.8,218.2 580.3,218.3 581.8,217.5 582.7,213.8 582.7,194.3 582.5,191.3 581.8,189.5 580.3,188.7Z"/>
<path fill="#42f8c1" d="M532.2,150.8 541.3,150.2 550.3,150.7 559.3,152.1 572.8,155.2 580.3,155.8 586.3,155.3 599.8,152.2 607.3,150.9 614.8,150.2 622.3,150.3 628.3,151.0 634.3,152.4 640.3,154.7 647.8,158.6 652.3,161.4 656.3,164.4 659.8,167.5 663.8,171.8 668.9,179.3 671.2,183.8 672.9,188.3 674.1,192.8 674.9,197.3 675.2,201.8 675.1,207.8 674.2,213.9 673.0,218.4 671.3,222.8 669.1,227.3 665.8,232.6 661.4,237.8 656.8,242.2 652.3,245.6 646.3,249.2 638.8,252.9 632.8,255.0 626.8,256.2 619.3,256.8 610.3,256.4 601.3,255.1 586.3,251.7 578.8,251.3 572.8,251.8 559.3,254.9 551.8,256.2 544.3,256.8 536.8,256.7 530.3,255.9 524.5,254.3 518.8,252.1 511.3,248.2 503.8,243.1 498.1,237.8 493.2,231.8 488.9,224.3 486.1,216.8 484.6,209.3 484.2,204.8 484.3,200.3 485.4,192.8 487.7,185.4 491.4,177.8 495.7,171.8 501.4,165.9 508.3,160.6 517.3,155.6 524.8,152.5ZM578.8,188.1 577.3,189.3 576.6,192.9 576.6,213.8 577.3,217.7 578.8,218.9 580.3,219.0 581.8,218.2 582.8,215.3 582.9,192.8 582.4,189.9 581.8,188.8 580.3,188.0Z"/>
<path fill="#50fcae" d="M528.9,152.3 538.3,151.1 547.3,151.3 557.8,152.7 572.8,156.3 575.8,156.6 581.8,156.7 587.8,156.1 599.8,153.1 605.8,152.0 613.3,151.2 620.8,151.1 626.8,151.7 632.8,152.9 638.8,155.1 644.8,158.1 649.3,160.5 653.8,163.6 658.3,167.4 661.3,170.4 664.3,174.0 666.9,177.8 669.4,182.3 671.3,186.8 672.7,191.3 673.7,195.8 674.2,200.3 674.2,206.3 673.5,212.3 672.4,216.8 670.9,221.4 668.8,225.8 665.1,231.8 661.5,236.3 657.0,240.8 652.3,244.5 646.3,248.1 638.8,251.9 632.8,254.1 626.8,255.3 619.3,255.9 610.3,255.6 601.3,254.2 586.3,250.7 578.8,250.3 572.8,250.7 559.3,254.0 553.3,255.1 545.8,255.8 538.3,255.9 532.3,255.3 526.3,253.9 520.3,251.7 514.3,248.7 506.8,244.2 500.8,239.3 495.5,233.3 490.7,225.9 487.6,218.3 485.8,210.8 485.2,203.3 485.8,195.8 487.7,188.4 490.9,180.8 494.6,174.8 499.7,168.8 505.3,163.9 511.3,159.9 520.3,155.3 524.8,153.5ZM578.8,187.3 577.3,188.4 576.5,191.3 576.5,215.3 577.3,218.6 578.8,219.7 580.3,219.8 581.8,219.0 582.2,218.3 583.0,215.3 583.0,191.3 582.7,189.8 581.8,188.0 580.3,187.2Z"/>
<path fill="#5dfc9f" d="M534.3,152.3 541.3,152.0 550.3,152.5 558.7,153.8 572.8,157.3 580.3,157.7 587.8,157.1 599.8,154.1 607.3,152.7 614.8,152.0 622.3,152.1 628.3,152.8 634.3,154.4 640.3,156.9 647.8,160.7 655.3,166.0 658.5,168.8 662.6,173.3 667.6,180.8 669.7,185.3 671.3,189.8 672.4,194.3 673.1,198.8 673.3,203.3 673.0,209.3 672.2,213.8 670.9,218.3 669.2,222.8 666.9,227.3 664.0,231.8 659.8,236.8 655.5,240.8 650.8,244.4 644.8,247.9 637.3,251.4 631.3,253.5 625.3,254.6 617.8,255.0 608.8,254.5 599.8,252.9 587.8,249.9 583.3,249.3 578.8,249.3 574.3,249.5 571.3,250.0 559.3,253.0 551.8,254.4 544.3,255.0 536.8,254.9 530.8,254.1 524.8,252.4 518.8,249.9 511.3,246.0 505.3,241.9 499.3,236.3 494.5,230.3 490.3,222.8 487.7,215.3 486.4,207.9 486.3,200.4 487.4,192.8 489.8,185.3 493.7,177.8 498.2,171.8 503.8,166.3 511.3,161.0 520.3,156.4 527.8,153.6ZM578.8,186.6 577.3,187.5 576.4,189.8 576.3,191.4 576.5,203.3 576.3,215.3 576.7,218.4 577.3,219.5 578.8,220.5 580.3,220.6 581.8,219.8 582.8,218.3 583.2,216.8 583.0,203.3 583.3,191.3 582.6,188.3 581.8,187.1 580.3,186.5Z"/>
<path fill="#6afc91" d="M530.6,153.8 535.3,153.1 539.8,152.9 548.8,153.2 557.8,154.6 571.3,158.1 575.8,158.7 580.3,158.8 587.8,158.2 599.8,155.1 607.3,153.6 614.8,152.9 622.3,153.0 628.3,153.7 632.8,154.9 638.8,157.3 646.3,161.0 653.8,165.9 658.3,170.0 661.4,173.3 663.7,176.3 666.5,180.8 668.7,185.3 670.3,189.9 671.5,194.3 672.2,198.8 672.4,203.3 672.2,207.8 671.5,212.4 670.4,216.8 668.8,221.3 666.7,225.8 663.9,230.4 659.8,235.5 655.3,239.8 650.8,243.3 646.3,246.0 637.3,250.4 631.3,252.5 625.3,253.7 617.8,254.2 608.8,253.6 601.3,252.3 587.8,248.8 583.3,248.3 578.8,248.2 571.3,248.9 559.3,252.0 551.8,253.4 544.3,254.1 536.8,254.0 530.8,253.2 526.3,251.9 520.3,249.6 514.3,246.6 508.3,243.0 502.0,237.8 496.7,231.8 492.8,225.9 489.5,218.3 487.7,210.8 487.1,203.3 487.7,195.8 489.7,188.3 493.0,180.8 496.9,174.8 502.3,168.9 508.3,164.0 514.3,160.4 523.3,156.2ZM577.3,186.6 576.4,188.3 576.0,191.3 576.4,203.3 576.1,216.8 576.3,218.4 577.3,220.4 578.8,221.3 580.3,221.4 581.8,220.8 582.5,219.8 583.3,218.3 583.5,216.8 583.1,203.3 583.4,189.8 583.2,188.3 581.8,186.2 580.3,185.6 578.8,185.7Z"/>
<path fill="#77fc82" d="M537.5,153.8 544.3,153.8 551.8,154.5 559.3,156.0 571.3,159.2 580.3,159.9 587.8,159.3 601.3,155.7 607.3,154.6 614.8,153.8 622.3,153.9 626.8,154.4 632.8,155.9 640.3,159.0 646.3,162.0 653.8,167.1 657.4,170.3 660.2,173.3 662.8,176.7 665.5,180.8 667.7,185.3 669.4,189.8 670.6,194.4 671.3,198.8 671.5,203.3 671.3,207.8 670.6,212.3 669.5,216.8 667.8,221.3 665.6,225.8 661.7,231.8 658.3,235.8 653.8,239.9 649.3,243.2 644.8,245.8 635.8,250.0 629.8,252.0 625.3,252.9 617.8,253.3 608.8,252.6 601.3,251.3 587.8,247.7 580.3,247.1 575.8,247.2 571.3,247.8 559.3,251.0 551.8,252.5 544.3,253.2 536.8,253.1 532.3,252.6 526.3,251.0 518.8,247.8 512.8,244.8 506.8,240.8 500.3,234.8 495.7,228.8 491.7,221.3 489.2,213.8 488.1,206.3 488.2,198.8 489.7,191.3 492.5,183.8 495.9,177.8 500.8,171.6 506.8,166.2 512.8,162.2 523.3,157.2 530.8,154.8ZM578.8,184.8 577.3,185.6 576.5,186.8 575.8,189.6 576.3,203.4 575.8,217.2 576.4,219.8 577.3,221.4 578.8,222.2 580.3,222.3 582.1,221.4 583.3,219.7 583.6,218.3 583.2,203.3 583.7,189.8 583.3,187.3 581.8,185.3 580.3,184.7Z"/>
<path fill="#84fc74" d="M532.3,155.3 539.8,154.6 548.8,155.0 557.8,156.6 571.3,160.4 580.3,161.2 584.8,160.9 589.3,160.2 600.7,156.8 607.3,155.5 614.8,154.7 622.3,154.7 626.8,155.3 631.3,156.4 637.3,158.6 644.8,162.1 652.3,166.9 656.2,170.3 659.1,173.3 661.5,176.3 664.5,180.8 666.8,185.3 668.5,189.8 669.7,194.3 670.4,198.9 670.6,203.3 670.4,207.8 669.8,212.3 668.6,216.8 665.5,224.3 661.8,230.3 658.3,234.5 653.8,238.8 649.3,242.2 643.3,245.7 635.8,249.0 629.8,251.0 625.3,252.0 617.8,252.4 608.8,251.7 601.3,250.3 589.3,246.8 584.8,246.1 580.3,245.8 571.3,246.6 557.8,250.4 551.8,251.6 544.3,252.3 536.8,252.3 532.3,251.6 527.8,250.5 520.3,247.6 514.3,244.7 506.8,239.7 501.5,234.9 496.7,228.9 493.3,222.8 490.9,216.8 489.3,209.3 488.9,201.8 489.8,194.3 492.1,186.8 495.0,180.8 499.1,174.8 503.8,169.8 509.8,165.0 515.8,161.5 524.8,157.6ZM578.8,183.8 577.3,184.6 576.7,185.3 575.9,186.8 575.6,188.3 576.2,203.3 575.6,218.3 575.8,220.0 577.3,222.4 578.8,223.2 580.3,223.3 581.8,222.7 583.0,221.3 583.9,218.3 583.3,203.3 583.9,189.8 583.6,186.8 582.8,185.3 581.8,184.3 580.3,183.7Z"/>
<path fill="#93fb67" d="M529.9,156.8 533.8,156.0 538.3,155.5 548.8,155.9 557.8,157.6 571.3,161.6 577.3,162.4 580.3,162.5 589.3,161.4 601.3,157.7 607.3,156.4 613.3,155.6 620.8,155.5 625.3,155.9 631.3,157.3 637.3,159.5 643.3,162.2 650.8,166.8 655.1,170.4 658.0,173.3 661.3,177.4 663.5,180.8 667.1,188.4 668.5,192.8 669.4,197.3 669.8,201.8 669.7,206.3 669.2,210.8 668.2,215.3 665.3,222.8 661.8,228.8 658.3,233.3 653.8,237.8 649.9,240.8 644.8,244.0 637.3,247.5 631.3,249.7 625.3,251.1 617.8,251.6 608.8,250.8 601.3,249.3 589.3,245.6 580.3,244.5 575.8,244.7 569.8,245.7 557.8,249.4 551.8,250.7 544.3,251.5 538.3,251.5 533.8,251.0 527.8,249.5 521.8,247.3 515.8,244.6 509.8,241.0 503.8,236.0 498.8,230.3 494.9,224.4 492.3,218.3 490.3,210.8 489.7,204.8 490.1,197.3 491.8,190.1 494.3,183.8 497.9,177.8 502.9,171.8 508.3,167.1 514.3,163.2 523.3,159.1ZM577.3,183.4 575.8,185.5 575.4,188.3 576.1,203.3 575.4,216.9 575.5,219.8 575.8,221.5 577.3,223.6 578.8,224.3 580.3,224.4 581.8,223.9 583.3,222.3 584.0,219.8 584.1,216.8 583.4,203.3 584.1,188.3 583.3,184.7 581.8,183.1 580.3,182.6 578.8,182.7Z"/>
<path fill="#a2fa5a" d="M533.6,156.8 541.3,156.2 550.3,157.0 557.8,158.6 569.8,162.5 575.8,163.7 580.3,164.0 583.3,163.8 589.3,162.6 601.3,158.7 607.3,157.3 614.8,156.4 620.8,156.3 625.3,156.7 631.3,158.2 637.3,160.4 643.3,163.1 650.8,167.8 655.3,171.7 658.3,174.8 661.3,178.8 663.5,182.3 666.8,189.8 668.6,197.3 669.0,201.8 668.9,206.3 668.4,210.8 667.3,215.3 664.4,222.8 661.3,228.2 657.2,233.3 652.5,237.8 648.5,240.9 643.3,243.9 635.8,247.2 629.8,249.2 623.8,250.5 616.3,250.7 607.3,249.7 601.3,248.3 589.3,244.4 583.3,243.2 580.3,243.0 575.8,243.3 569.8,244.5 559.3,248.0 553.3,249.5 545.8,250.6 538.3,250.7 533.8,250.2 527.8,248.7 521.8,246.4 515.8,243.7 509.8,240.0 503.7,234.8 498.7,228.9 495.1,222.8 492.6,216.8 490.9,209.3 490.5,201.8 491.5,194.3 493.8,186.8 496.9,180.8 500.8,175.4 505.6,170.4 511.3,166.0 517.3,162.6 526.3,158.9ZM577.3,182.1 575.8,183.9 575.1,186.8 576.0,203.3 575.1,219.8 575.8,223.1 576.8,224.4 577.3,224.9 578.8,225.6 580.3,225.6 581.8,225.2 583.3,223.8 584.2,221.3 584.4,219.8 583.5,203.3 584.4,186.8 583.3,183.2 581.8,181.8 580.3,181.4 578.8,181.4Z"/>
<path fill="#b1f94d" d="M530.7,158.3 535.3,157.4 539.8,157.0 545.8,157.2 550.3,157.8 557.8,159.5 568.3,163.4 572.8,164.7 577.3,165.6 580.3,165.7 584.8,165.1 589.3,164.0 599.8,160.1 605.8,158.4 613.3,157.3 620.8,157.1 625.3,157.6 629.8,158.6 641.8,163.3 649.3,167.7 655.8,173.3 658.5,176.3 661.7,180.8 665.4,188.3 667.5,195.8 668.1,200.3 668.2,204.8 667.8,209.3 666.9,213.8 664.2,221.3 661.9,225.8 658.3,230.9 653.8,235.7 649.3,239.3 644.8,242.2 638.8,245.1 629.8,248.3 623.8,249.7 616.3,249.9 607.3,248.9 601.3,247.4 589.3,243.0 583.3,241.6 580.3,241.3 575.8,241.6 571.3,242.7 559.3,247.0 553.3,248.7 548.8,249.4 542.8,250.0 536.8,249.8 530.8,248.7 524.8,246.7 517.3,243.6 511.3,240.1 505.3,235.3 500.8,230.3 496.8,224.4 494.0,218.3 492.0,210.8 491.3,203.3 491.8,197.3 493.6,189.8 496.1,183.8 499.9,177.8 503.8,173.2 508.6,168.8 514.3,165.0 520.3,162.1ZM577.3,180.5 575.8,182.1 574.9,185.3 574.9,189.8 575.9,203.3 574.8,221.4 575.8,224.9 576.7,225.8 577.3,226.5 578.8,227.1 580.3,227.1 581.8,226.7 583.3,225.5 584.7,221.3 583.6,203.4 584.8,186.8 584.3,183.8 583.3,181.5 581.8,180.3 580.3,179.8 578.8,179.9Z"/>
<path fill="#c0f840" d="M534.6,158.3 538.3,157.9 542.8,157.8 548.8,158.3 553.3,159.2 559.3,160.9 574.3,167.0 578.8,168.0 581.8,167.9 584.8,167.1 599.1,161.3 604.3,159.6 610.3,158.4 614.8,157.9 620.8,157.8 626.8,158.7 632.8,160.5 641.8,164.1 646.3,166.6 649.3,168.6 655.3,173.9 658.3,177.4 660.8,180.8 664.5,188.3 666.7,195.8 667.3,200.3 667.4,204.8 666.4,212.3 665.2,216.8 663.4,221.4 660.9,225.9 656.8,231.5 652.3,236.0 647.9,239.3 643.3,242.1 637.3,244.8 629.8,247.5 623.8,248.8 619.3,249.2 614.8,249.1 605.8,247.7 599.8,245.9 584.8,239.9 580.3,239.0 577.3,239.2 574.3,240.0 556.3,247.0 550.3,248.4 544.3,249.1 538.3,249.1 532.3,248.2 526.3,246.4 517.3,242.7 511.3,239.2 505.3,234.2 500.6,228.8 496.8,222.8 494.3,216.8 492.5,209.3 492.1,201.8 492.8,195.8 495.0,188.3 497.8,182.3 502.0,176.3 506.8,171.4 512.8,166.8 518.8,163.6 527.8,160.1ZM578.8,177.8 577.3,178.5 575.8,180.1 574.9,182.3 574.4,185.3 575.8,203.3 575.5,209.4 574.4,221.3 574.8,224.3 575.8,226.9 577.3,228.5 578.8,229.2 580.3,229.3 581.8,228.7 583.3,227.5 584.2,225.9 585.0,222.8 585.0,219.8 584.0,209.4 583.7,203.3 585.1,185.3 584.6,182.3 583.3,179.5 581.8,178.2 580.3,177.8Z"/>
<path fill="#cdf337" d="M531.7,159.8 536.8,158.8 542.8,158.5 548.8,159.1 554.8,160.4 561.7,162.8 571.1,167.3 575.7,170.3 577.2,171.8 577.7,173.3 577.3,174.8 575.8,177.2 574.4,180.8 574.1,185.3 575.4,197.3 575.7,203.3 575.4,209.3 574.1,221.3 574.2,224.3 574.8,227.3 575.8,229.8 577.2,231.8 577.7,233.3 577.3,234.8 576.1,236.4 574.1,237.8 568.8,240.9 559.3,245.1 553.3,247.0 548.8,247.9 542.8,248.5 535.3,247.9 529.3,246.5 524.8,245.0 520.3,243.3 515.8,241.1 511.3,238.3 508.3,235.9 505.3,233.2 501.5,228.8 498.5,224.3 496.9,221.4 494.2,213.8 493.3,209.3 492.9,204.8 493.0,200.3 493.6,195.8 494.7,191.4 496.4,186.8 498.7,182.3 500.7,179.3 505.8,173.3 509.2,170.3 512.8,167.7 520.3,163.7ZM606.8,159.8 611.8,159.0 616.3,158.6 623.8,159.0 628.3,160.0 634.3,161.9 640.3,164.2 644.8,166.5 649.3,169.5 652.1,171.8 657.7,177.8 660.8,182.3 662.4,185.3 664.3,189.8 665.6,194.3 666.4,198.8 666.6,203.3 666.4,207.8 665.7,212.3 664.4,216.8 662.6,221.3 661.0,224.3 658.0,228.8 652.3,235.0 649.3,237.5 644.8,240.5 640.3,242.8 635.8,244.6 629.8,246.6 625.3,247.7 620.8,248.4 616.3,248.4 610.3,247.8 604.3,246.5 598.3,244.4 589.3,240.1 585.4,237.9 583.4,236.4 582.1,234.9 581.9,233.3 582.3,231.8 584.8,227.3 585.4,222.9 584.1,209.3 583.8,203.3 585.4,183.9 584.8,179.7 582.2,174.8 581.9,173.3 582.3,171.8 583.7,170.3 585.9,168.8 591.3,165.8 599.8,162.0Z"/>
<path fill="#daef2e" d="M535.6,159.8 541.3,159.3 545.8,159.5 551.8,160.5 556.3,161.7 562.7,164.3 569.8,168.2 572.5,170.3 573.7,171.8 574.3,173.4 573.7,183.8 575.3,197.4 575.6,203.3 575.3,209.4 573.7,222.8 573.8,227.3 574.4,231.8 574.3,233.4 573.8,234.8 572.7,236.3 569.8,238.8 562.3,242.9 554.8,245.8 547.3,247.3 539.8,247.6 535.3,247.1 530.8,246.1 524.8,244.2 518.8,241.9 511.3,237.4 505.3,232.2 500.3,225.9 497.7,221.3 495.8,216.8 494.0,209.3 493.6,204.8 493.7,200.3 494.3,195.9 495.4,191.3 498.6,183.8 501.5,179.3 503.8,176.5 509.8,170.7 512.8,168.5 517.3,165.9 521.8,163.9 526.3,162.3ZM611.0,159.8 614.8,159.4 619.3,159.3 623.8,159.8 628.3,160.8 635.8,163.2 640.3,165.0 647.8,169.3 654.2,174.8 659.0,180.8 661.6,185.3 663.6,189.9 665.5,197.3 665.9,201.8 665.8,206.3 665.3,210.8 664.1,215.3 661.0,222.8 659.2,225.8 655.9,230.3 653.0,233.3 649.3,236.6 646.3,238.7 641.8,241.3 632.8,244.9 626.8,246.6 622.3,247.4 617.8,247.7 611.8,247.3 605.8,246.1 601.3,244.6 596.2,242.3 589.3,238.5 586.7,236.3 585.7,234.8 585.1,233.3 585.8,222.8 584.2,209.3 583.9,203.3 584.2,197.3 585.9,183.8 585.2,173.3 585.8,171.8 588.7,168.8 593.8,165.8 598.3,163.6 602.8,161.8Z"/>
<path fill="#e7ea25" d="M532.2,161.3 536.8,160.4 542.8,160.1 548.8,160.6 554.8,162.1 560.8,164.4 568.4,168.8 571.3,171.8 572.6,174.8 573.3,183.8 575.1,197.3 575.5,203.3 575.2,209.3 573.5,221.3 572.8,230.3 572.3,233.3 570.4,236.3 566.6,239.3 559.3,243.3 551.8,245.8 547.3,246.6 542.8,246.9 535.3,246.3 529.3,244.9 523.3,243.0 518.8,241.1 514.3,238.7 509.8,235.5 507.4,233.4 502.1,227.4 498.4,221.4 496.5,216.8 495.2,212.3 494.4,207.8 494.2,203.3 495.0,195.8 497.2,188.3 498.6,185.3 501.2,180.8 503.5,177.8 506.8,174.2 509.8,171.5 514.3,168.3 521.8,164.6ZM607.3,161.3 611.8,160.5 616.3,160.1 623.8,160.6 629.8,162.0 635.8,163.8 640.3,165.7 644.8,168.1 649.3,171.2 651.8,173.3 657.2,179.3 659.2,182.4 661.6,186.8 663.4,191.3 664.2,194.3 665.3,201.8 665.2,206.3 664.6,210.8 663.5,215.3 661.8,219.8 659.4,224.3 657.4,227.3 652.1,233.3 649.3,235.8 644.8,238.9 637.3,242.6 626.8,245.8 620.8,246.8 614.8,246.9 608.8,246.0 602.8,244.3 596.8,241.6 590.7,237.9 588.0,234.8 586.9,231.8 586.3,222.8 584.5,210.8 584.0,203.3 584.5,195.8 586.3,183.8 586.9,174.8 588.1,171.8 589.4,170.3 592.3,168.0 599.8,163.9Z"/>
<path fill="#f4e61c" d="M535.8,161.3 539.8,160.9 544.3,160.8 548.8,161.4 553.3,162.4 560.8,165.4 565.3,168.0 568.3,170.3 570.6,173.4 571.7,176.3 574.8,195.8 575.3,203.4 575.0,209.3 572.1,228.9 570.7,233.3 568.6,236.3 566.9,237.8 560.8,241.6 553.3,244.6 547.3,245.9 539.8,246.1 530.8,244.7 521.8,241.8 517.3,239.7 512.8,237.0 506.7,231.8 501.7,225.9 499.1,221.3 497.1,216.8 495.2,209.3 494.8,204.8 494.9,200.3 495.5,195.8 496.7,191.4 498.5,186.9 500.0,183.8 504.2,177.8 507.0,174.8 511.3,171.1 515.8,168.1 518.8,166.5 526.3,163.6ZM610.9,161.3 614.8,160.8 619.3,160.8 628.3,162.2 637.3,165.0 641.8,167.1 646.3,169.7 652.5,174.8 656.5,179.3 658.5,182.3 660.3,185.3 662.3,189.8 663.6,194.3 664.4,198.9 664.7,203.3 664.4,207.9 663.7,212.3 662.4,216.8 660.4,221.3 658.7,224.3 654.2,230.3 650.8,233.8 647.8,236.2 641.8,240.0 637.3,242.0 632.8,243.5 628.3,244.8 622.3,245.9 614.8,246.2 610.3,245.6 605.8,244.5 598.3,241.4 593.8,238.7 590.9,236.3 588.8,233.4 587.8,230.3 584.6,210.8 584.2,203.3 584.5,197.3 587.2,179.3 588.3,174.8 588.9,173.3 589.9,171.8 592.3,169.4 597.8,165.8 604.3,163.0Z"/>
<path fill="#f7d815" d="M531.5,162.8 538.3,161.7 545.8,161.6 551.8,162.7 557.8,164.8 563.8,168.1 566.8,170.3 568.2,171.8 570.1,174.8 571.7,179.3 574.7,195.8 575.2,204.8 574.3,213.7 571.7,227.3 570.9,230.3 569.5,233.4 568.4,234.8 566.8,236.6 563.8,238.9 557.8,242.2 550.3,244.7 542.8,245.5 533.8,244.7 523.3,241.8 515.8,238.3 509.0,233.4 506.0,230.4 503.5,227.3 501.4,224.3 499.0,219.8 497.2,215.4 496.4,212.3 495.3,204.9 495.5,200.4 496.1,195.9 496.8,192.9 498.4,188.3 499.8,185.3 502.6,180.9 507.7,174.8 514.3,169.6 518.8,167.1 523.3,165.2ZM607.2,162.8 610.3,162.1 614.8,161.5 619.3,161.5 623.8,162.0 629.8,163.2 634.3,164.5 641.8,167.6 644.8,169.4 649.3,172.6 654.6,177.8 658.8,183.8 660.4,186.8 662.2,191.3 663.9,198.9 664.2,203.3 663.9,207.8 662.3,215.3 660.6,219.8 659.0,222.8 654.8,228.9 649.3,234.4 643.3,238.5 635.8,242.0 628.3,244.1 622.3,245.2 614.8,245.5 608.8,244.6 601.3,242.0 595.3,238.6 592.4,236.3 591.0,234.8 590.0,233.3 588.6,230.3 587.2,224.3 585.0,212.3 584.3,203.3 585.0,194.3 588.2,177.8 590.2,173.3 591.3,171.8 593.8,169.5 598.3,166.5 601.3,165.0Z"/>
<path fill="#facb0e" d="M534.3,162.8 538.3,162.3 542.8,162.1 550.3,163.0 553.3,163.8 557.8,165.6 562.3,168.0 565.3,170.2 568.3,173.4 570.7,177.8 571.9,182.3 574.3,194.2 575.1,201.8 574.6,210.9 571.9,224.3 570.8,228.8 569.4,231.8 567.3,234.9 565.8,236.3 560.8,239.9 554.8,242.7 548.8,244.3 544.3,244.9 539.8,244.8 530.8,243.5 524.8,241.9 520.3,240.1 514.3,236.8 508.2,231.8 502.9,225.8 500.2,221.3 498.8,218.3 497.2,213.9 496.5,210.8 495.8,203.3 496.1,198.8 496.9,194.3 498.3,189.8 499.6,186.8 501.2,183.8 504.3,179.3 509.8,173.6 512.8,171.2 517.3,168.4 524.8,165.1 530.8,163.5ZM609.9,162.8 613.3,162.3 617.8,162.1 626.8,163.1 634.3,165.0 638.8,166.7 643.3,169.0 646.3,170.9 650.8,174.6 656.3,180.8 659.1,185.3 660.6,188.3 662.6,194.3 663.7,201.8 663.2,209.3 662.3,213.8 660.7,218.3 657.6,224.3 652.9,230.3 649.3,233.7 646.3,236.1 641.8,238.8 638.8,240.3 634.3,242.0 629.8,243.3 622.3,244.6 616.3,244.9 610.3,244.3 604.3,242.5 598.3,239.6 593.7,236.3 592.2,234.8 590.1,231.8 588.3,227.3 585.1,212.3 584.4,203.3 585.2,194.4 587.3,183.8 588.8,177.8 591.2,173.4 592.5,171.8 595.3,169.3 599.8,166.5 602.8,165.1Z"/>
<path fill="#fcbd07" d="M538.6,162.8 542.8,162.7 547.3,163.0 553.3,164.4 557.8,166.2 560.8,167.9 566.1,171.8 568.5,174.8 570.6,179.3 573.6,191.3 574.9,200.3 574.8,207.9 573.7,215.4 570.7,227.3 569.5,230.3 568.3,232.4 566.4,234.8 563.8,237.1 557.8,240.8 551.8,243.0 544.3,244.3 539.8,244.3 533.8,243.6 526.3,241.9 518.8,238.9 515.8,237.3 511.3,234.1 505.8,228.8 501.5,222.9 499.9,219.9 498.2,215.3 496.9,210.8 496.4,206.3 496.3,201.9 496.7,197.3 498.8,189.8 500.1,186.8 502.7,182.3 507.5,176.3 511.3,172.9 514.3,170.7 518.8,168.1 521.8,166.7 526.3,165.1 532.3,163.6ZM614.1,162.8 617.8,162.7 623.8,163.1 632.8,165.0 640.3,167.9 643.3,169.5 647.8,172.6 652.0,176.3 654.7,179.4 658.6,185.3 660.7,189.8 661.7,192.8 663.1,200.3 663.2,204.8 663.0,207.8 662.2,212.3 660.8,216.8 658.8,221.3 657.0,224.3 654.9,227.3 652.2,230.3 646.3,235.6 641.8,238.4 638.8,239.8 634.3,241.6 628.3,243.2 620.8,244.2 613.3,244.1 608.8,243.3 605.8,242.4 602.8,241.3 598.3,238.9 593.1,234.8 590.0,230.3 588.8,227.3 585.8,215.3 584.7,207.8 584.6,200.3 585.6,192.8 588.4,180.9 589.4,177.8 591.0,174.9 593.4,171.8 595.1,170.3 601.3,166.4 607.3,164.1Z"/>
<path fill="#ffb000" d="M531.2,164.3 535.3,163.6 539.8,163.2 547.3,163.5 553.3,165.0 557.8,166.8 560.8,168.5 565.3,172.0 568.8,176.3 570.7,180.8 573.1,189.9 574.7,198.8 574.9,203.3 574.7,207.8 573.1,216.8 571.3,224.1 569.6,228.8 568.3,231.4 566.8,233.5 562.3,237.5 557.8,240.2 553.3,242.0 550.3,242.9 547.3,243.5 542.8,243.8 533.8,243.2 527.8,241.9 523.3,240.5 518.8,238.5 515.8,236.8 511.3,233.6 508.3,230.9 505.1,227.3 502.9,224.3 499.7,218.3 498.5,215.3 497.3,210.9 496.6,203.3 497.4,195.8 498.6,191.3 499.8,188.3 501.3,185.3 504.2,180.8 506.6,177.8 509.8,174.7 515.8,170.2 518.8,168.5 523.3,166.5 527.8,165.1ZM608.5,164.3 614.8,163.3 619.3,163.2 623.8,163.5 632.8,165.4 640.3,168.3 644.8,170.9 647.8,173.1 652.9,177.8 657.4,183.8 660.3,189.8 661.7,194.3 662.4,197.3 662.8,204.8 661.8,212.4 660.4,216.8 659.1,219.8 655.5,225.8 653.2,228.8 650.2,231.9 647.8,233.9 643.3,237.1 637.3,240.1 632.8,241.6 623.8,243.5 616.3,243.8 610.3,243.1 605.8,241.9 602.8,240.7 596.8,237.2 592.6,233.3 589.8,228.8 587.9,222.8 586.0,215.3 584.7,206.3 584.7,200.3 585.2,195.8 587.9,183.8 588.8,180.8 590.7,176.3 593.8,172.3 596.8,169.8 599.8,167.8 604.3,165.7Z"/>
<path fill="#ffa300" d="M533.2,164.3 536.8,163.8 541.3,163.6 545.8,163.8 550.3,164.6 556.3,166.7 562.3,170.2 566.0,173.3 569.0,177.8 571.3,184.1 573.9,194.4 574.7,201.8 574.3,210.2 573.3,215.3 571.3,222.9 570.4,225.8 568.4,230.3 566.8,232.7 564.8,234.8 559.3,238.8 553.3,241.5 547.3,243.0 542.8,243.4 538.3,243.3 533.8,242.8 529.3,241.9 521.8,239.5 518.8,238.1 514.3,235.4 508.2,230.3 503.3,224.4 500.1,218.3 498.5,213.8 497.4,209.4 497.0,204.8 497.1,200.3 498.5,192.8 500.2,188.3 501.7,185.3 505.3,180.0 508.3,176.6 511.3,173.8 517.3,169.7 524.8,166.4 529.3,165.1ZM610.8,164.3 617.8,163.6 625.3,164.1 629.8,165.0 634.3,166.2 641.8,169.5 647.8,173.5 651.0,176.3 653.7,179.3 657.8,185.3 659.3,188.3 660.9,192.8 661.7,195.8 662.4,200.3 662.2,207.8 661.8,210.8 660.6,215.3 658.7,219.8 657.1,222.8 652.7,228.8 649.3,232.2 646.3,234.6 640.3,238.3 632.8,241.3 623.8,243.1 616.3,243.4 613.3,243.1 608.8,242.2 602.8,240.2 596.8,236.6 593.2,233.4 590.3,228.9 588.2,222.8 585.3,210.8 584.8,206.3 584.7,201.8 585.9,192.8 589.3,180.7 590.8,177.3 592.3,174.8 593.8,173.1 596.8,170.5 602.8,166.9 607.3,165.1Z"/>
<path fill="#ff9600" d="M535.6,164.3 542.8,164.0 550.3,165.0 554.8,166.5 557.8,167.9 560.8,169.6 563.7,171.9 565.3,173.3 567.7,176.4 569.9,180.8 572.8,190.3 574.3,197.8 574.6,204.8 573.8,212.4 570.5,224.3 567.9,230.3 565.6,233.3 564.1,234.8 559.3,238.3 556.3,239.9 551.8,241.6 545.8,242.8 541.3,243.0 536.8,242.8 527.8,241.2 520.3,238.5 517.3,236.9 512.8,233.9 509.8,231.4 506.8,228.3 504.8,225.8 501.9,221.3 500.4,218.3 498.8,213.8 497.6,207.8 497.5,200.3 498.9,192.8 500.6,188.3 502.1,185.3 504.0,182.3 506.8,178.7 509.8,175.6 512.8,173.1 517.3,170.1 520.3,168.5 527.8,165.8ZM613.4,164.3 620.8,164.0 626.8,164.7 631.3,165.7 638.8,168.3 641.8,169.8 646.3,172.8 652.3,178.2 655.6,182.3 657.4,185.3 660.1,191.3 661.9,198.8 662.2,203.3 661.9,207.8 660.2,215.3 659.0,218.3 656.7,222.8 652.3,228.8 646.3,234.2 640.3,237.9 632.8,240.9 623.8,242.7 619.3,243.0 614.8,242.9 607.3,241.4 601.3,238.9 598.3,237.1 595.4,234.8 592.6,231.8 590.1,227.3 586.7,216.8 585.2,209.3 584.9,201.8 585.8,194.3 589.1,182.3 590.2,179.3 591.8,176.3 593.8,173.8 595.8,171.9 601.3,168.1 604.3,166.7 608.8,165.1Z"/>
<path fill="#ff8900" d="M529.0,165.9 536.8,164.6 544.3,164.5 550.3,165.5 554.8,166.9 557.8,168.3 563.1,171.8 566.8,175.8 569.5,180.9 572.0,188.3 574.1,197.3 574.5,201.8 574.4,206.3 573.9,210.8 573.0,215.3 569.8,225.4 567.4,230.3 565.3,233.1 563.4,234.8 557.8,238.7 551.8,241.1 547.3,242.1 542.8,242.6 535.3,242.3 526.3,240.5 518.8,237.4 512.6,233.3 509.1,230.3 506.4,227.4 502.3,221.3 500.8,218.3 499.2,213.8 497.8,206.3 498.0,198.8 499.7,191.3 501.7,186.8 503.4,183.8 508.0,177.8 511.3,174.7 514.3,172.4 517.3,170.5 521.8,168.2ZM608.0,165.8 610.3,165.2 614.8,164.6 622.3,164.5 631.3,166.0 638.8,168.7 643.3,171.1 646.3,173.2 651.5,177.8 656.1,183.9 659.2,189.8 660.7,194.4 661.3,197.3 661.8,204.9 660.7,212.3 659.3,216.9 658.0,219.8 654.3,225.8 651.8,228.8 648.7,231.8 643.3,235.9 640.3,237.6 635.8,239.6 628.3,241.6 620.8,242.6 614.8,242.5 608.8,241.4 604.3,239.9 601.3,238.5 596.1,234.8 593.8,232.6 592.3,230.6 589.9,225.8 586.3,214.4 585.1,206.4 585.0,201.8 585.4,197.3 587.5,188.3 590.6,179.3 592.4,176.3 594.8,173.3 596.8,171.5 601.3,168.5 604.3,167.1Z"/>
<path fill="#ff7c00" d="M530.4,165.8 538.3,164.8 545.8,165.0 548.8,165.5 553.3,166.8 559.3,169.6 564.1,173.3 567.6,177.9 569.8,182.6 572.8,191.6 574.3,200.3 574.2,207.9 573.5,212.3 572.4,216.8 568.6,227.4 565.8,231.8 562.3,235.3 559.3,237.4 556.3,239.0 550.3,241.1 542.8,242.2 538.3,242.2 533.8,241.8 527.8,240.6 524.8,239.6 517.3,236.2 511.2,231.8 508.1,228.8 505.6,225.8 501.9,219.8 500.0,215.3 499.1,212.3 498.5,209.3 498.0,204.8 498.5,197.3 499.6,192.8 500.7,189.8 502.8,185.3 504.7,182.3 509.8,176.4 515.8,171.7 520.3,169.2 523.3,167.9ZM609.3,165.8 616.3,164.8 620.8,164.7 625.3,165.2 632.8,166.7 640.3,169.8 646.3,173.5 649.6,176.3 652.3,179.2 656.7,185.3 659.4,191.3 660.7,195.9 661.2,198.8 661.4,206.3 660.4,212.3 659.5,215.3 657.6,219.8 653.8,226.0 650.8,229.5 647.8,232.2 641.8,236.4 637.3,238.7 634.3,239.8 625.3,241.8 617.8,242.3 610.3,241.4 604.3,239.5 598.3,236.1 593.8,231.8 590.9,227.3 587.8,219.1 586.3,213.8 585.5,209.3 585.1,204.8 585.2,200.4 585.8,195.8 586.8,191.3 590.4,180.8 592.8,176.3 595.3,173.4 597.0,171.9 602.8,168.2Z"/>
<path fill="#ff6f00" d="M532.1,165.8 539.8,165.0 547.3,165.6 550.3,166.2 554.8,167.7 560.8,171.1 565.0,174.8 568.0,179.3 571.3,187.4 573.3,194.3 574.3,201.8 573.9,209.3 572.2,216.8 568.2,227.3 565.2,231.8 560.8,235.9 554.8,239.3 548.8,241.1 541.3,242.0 536.8,241.8 532.3,241.2 527.8,240.3 523.3,238.8 517.3,235.9 511.3,231.5 506.0,225.8 503.0,221.3 501.5,218.3 499.8,213.9 499.1,210.8 498.6,207.8 498.3,203.4 498.6,198.8 499.1,195.8 499.9,192.8 501.6,188.3 505.3,182.1 510.3,176.3 512.8,174.2 517.3,171.1 520.3,169.5 524.8,167.7ZM610.9,165.8 614.8,165.2 619.3,165.0 626.8,165.7 634.3,167.5 638.8,169.3 641.8,170.9 647.8,175.1 653.3,180.8 657.1,186.8 659.6,192.8 660.7,197.4 661.1,200.3 660.9,207.9 659.2,215.3 656.5,221.3 652.3,227.3 649.5,230.3 646.3,233.1 640.3,236.9 632.8,239.9 623.8,241.7 616.3,241.9 608.8,240.7 602.8,238.4 599.8,236.7 596.8,234.4 593.1,230.3 590.8,226.2 587.3,216.8 586.1,212.3 585.5,207.8 585.2,203.3 585.5,198.8 586.2,194.3 587.4,189.8 590.8,180.8 592.3,177.8 593.8,175.7 595.9,173.3 598.3,171.4 601.3,169.4 604.3,167.9Z"/>
<path fill="#ff6200" d="M534.0,165.8 541.3,165.4 548.8,166.2 554.8,168.1 557.8,169.6 561.2,171.8 564.5,174.8 567.6,179.3 571.3,188.1 573.4,195.8 574.2,203.3 573.9,207.8 573.2,212.3 571.3,218.9 567.0,228.8 563.3,233.3 560.8,235.5 557.8,237.4 551.8,240.0 547.3,241.1 542.8,241.6 538.3,241.6 529.3,240.3 523.3,238.5 520.3,237.1 515.8,234.6 512.1,231.8 508.9,228.9 504.3,222.8 501.2,216.8 500.1,213.8 499.1,209.3 498.7,206.3 498.6,201.8 499.8,194.4 501.3,189.8 502.7,186.8 506.6,180.8 509.2,177.8 512.5,174.8 518.8,170.7 524.8,168.0 529.3,166.7ZM612.8,165.8 616.3,165.4 620.8,165.4 629.8,166.6 635.8,168.4 638.8,169.7 643.3,172.2 649.3,176.9 654.0,182.3 657.5,188.3 658.8,191.4 660.1,195.8 660.6,198.8 660.9,203.4 660.6,207.8 660.1,210.8 658.9,215.3 657.7,218.3 654.3,224.3 650.5,228.8 644.8,233.8 638.8,237.3 631.3,240.1 622.3,241.5 614.8,241.4 610.3,240.7 607.3,239.8 601.3,237.2 596.2,233.4 592.6,228.9 589.3,221.8 586.7,213.8 585.8,209.3 585.4,204.8 585.8,197.3 587.8,189.2 592.3,178.6 595.3,174.5 599.8,170.8 605.8,167.7Z"/>
<path fill="#ff5500" d="M536.6,165.8 542.8,165.8 550.3,166.9 556.3,169.2 559.3,170.9 562.3,173.2 564.0,174.8 566.3,177.8 569.8,184.9 572.6,192.8 573.7,198.8 573.9,206.3 572.8,213.4 569.8,222.1 567.3,227.4 565.5,230.3 562.3,233.8 559.3,236.0 556.3,237.8 550.3,240.1 544.3,241.1 536.8,241.2 527.8,239.7 520.3,236.8 517.3,235.2 512.8,232.0 508.0,227.3 503.7,221.3 502.1,218.3 500.4,213.8 499.0,206.3 499.0,200.3 500.5,192.8 501.6,189.8 503.8,185.5 508.3,179.3 511.3,176.3 514.3,173.8 520.3,170.2 524.8,168.3 527.8,167.3ZM615.5,165.9 622.3,165.8 631.3,167.2 638.8,170.0 644.8,173.6 647.8,175.9 650.8,178.8 653.7,182.3 655.6,185.3 658.5,191.3 660.3,198.8 660.5,206.3 660.1,209.3 659.1,213.8 657.4,218.3 655.8,221.3 651.5,227.3 646.3,232.3 641.8,235.4 638.8,237.0 631.3,239.8 623.8,241.1 616.3,241.2 608.8,240.0 602.8,237.6 599.8,235.8 596.8,233.4 595.2,231.8 593.0,228.9 589.3,221.1 586.8,213.8 585.7,207.8 585.6,200.3 586.9,192.9 589.3,185.8 592.3,179.4 593.8,177.0 597.0,173.3 599.8,171.2 602.8,169.4 608.8,167.0Z"/>
<path fill="#ff4800" d="M528.9,167.3 536.8,166.2 544.3,166.2 548.8,166.9 551.8,167.7 557.7,170.4 561.9,173.3 565.3,177.1 569.0,183.8 572.0,191.3 573.6,198.9 573.8,206.3 572.8,212.8 571.3,217.8 569.8,221.4 566.0,228.8 563.8,231.8 562.3,233.4 557.8,236.6 554.8,238.1 550.3,239.7 542.8,240.9 535.3,240.7 527.8,239.4 520.3,236.5 517.3,234.8 513.1,231.8 508.3,227.3 503.8,220.9 500.8,213.9 499.3,206.4 499.2,201.8 499.5,198.8 500.4,194.3 501.9,189.8 505.1,183.9 510.1,177.8 515.8,173.1 521.8,169.8ZM609.0,167.3 611.8,166.7 616.3,166.1 623.8,166.3 630.5,167.3 634.3,168.4 638.8,170.3 643.3,172.9 646.1,174.8 650.9,179.3 655.3,185.4 658.3,191.8 660.0,198.8 660.3,204.8 659.8,209.3 659.1,212.3 657.0,218.3 655.3,221.6 652.4,225.8 648.2,230.3 641.8,235.1 635.8,238.0 628.3,240.1 619.3,241.0 611.8,240.3 605.8,238.6 599.8,235.4 595.7,231.8 592.3,226.8 588.4,218.3 586.3,210.8 585.7,206.3 585.7,201.8 586.7,194.3 589.3,186.5 593.7,177.8 596.8,174.1 599.8,171.6 602.8,169.8Z"/>
<path fill="#fc3c04" d="M530.2,167.3 538.3,166.4 545.8,166.7 551.8,168.1 557.0,170.3 561.4,173.3 565.3,177.9 569.8,186.1 572.3,192.8 573.5,198.8 573.6,206.3 572.7,212.3 571.3,217.2 569.8,220.9 565.3,229.1 561.7,233.3 559.3,235.2 556.3,237.0 550.3,239.4 542.8,240.6 538.3,240.6 533.8,240.2 529.3,239.5 524.8,238.1 518.8,235.4 515.5,233.4 511.8,230.3 506.8,225.0 503.5,219.8 502.1,216.8 500.6,212.3 499.6,204.8 500.1,197.3 500.7,194.3 502.3,189.8 505.3,184.2 509.8,178.5 512.8,175.8 516.0,173.3 521.8,170.1 524.9,168.9ZM610.2,167.3 613.3,166.7 617.8,166.4 626.8,166.9 634.3,168.7 640.3,171.4 645.6,174.8 650.8,179.7 655.3,186.0 658.3,192.8 659.9,200.3 659.8,207.2 658.4,213.9 656.8,218.1 655.3,221.0 650.8,227.3 646.0,231.8 641.6,234.8 638.8,236.4 634.3,238.2 628.3,239.8 619.3,240.7 611.8,240.0 604.9,237.9 599.7,234.9 597.8,233.4 595.1,230.3 590.8,223.2 587.8,216.0 586.4,210.8 586.0,207.8 585.9,200.3 586.3,196.9 587.2,192.8 590.1,185.3 593.8,178.5 595.3,176.3 598.1,173.3 602.8,170.2 605.8,168.8Z"/>
<path fill="#f93108" d="M531.8,167.3 539.8,166.7 547.3,167.2 553.0,168.8 556.3,170.3 558.8,171.8 562.4,174.8 566.8,181.0 570.5,188.3 572.8,195.6 573.6,201.8 573.2,209.3 571.3,216.6 568.3,223.3 565.3,228.4 561.1,233.3 556.3,236.6 553.3,238.0 548.8,239.5 541.3,240.3 532.3,239.7 524.9,237.8 518.5,234.8 512.2,230.3 506.8,224.5 503.8,219.7 502.3,216.4 500.8,211.7 500.2,207.8 499.9,203.4 500.7,195.8 502.0,191.3 503.3,188.3 506.8,182.5 509.5,179.3 512.5,176.3 518.8,172.0 525.8,168.8ZM611.6,167.4 619.3,166.7 626.8,167.2 633.7,168.8 640.5,171.8 646.9,176.3 652.3,182.0 655.4,186.8 656.9,189.8 658.3,193.8 659.5,200.4 659.5,206.3 658.3,213.2 656.8,217.4 655.3,220.4 652.3,225.0 647.3,230.3 643.4,233.3 641.0,234.8 634.3,237.9 628.3,239.5 619.3,240.3 611.8,239.7 605.7,237.8 600.3,234.8 598.3,233.3 595.6,230.3 590.8,222.6 587.8,215.5 586.1,207.9 585.9,203.3 586.2,198.8 587.8,191.5 590.8,184.4 595.3,177.1 598.8,173.3 600.7,171.8 604.3,169.8 607.3,168.5Z"/>
<path fill="#f7250c" d="M534.0,167.3 539.8,167.0 546.1,167.3 552.1,168.8 558.1,171.8 562.3,175.5 566.8,181.6 570.3,188.3 571.4,191.3 572.8,196.4 573.4,203.3 572.8,210.6 570.4,218.3 566.8,225.4 562.3,231.5 558.5,234.8 556.1,236.3 552.8,237.8 547.3,239.4 539.8,240.0 532.0,239.3 526.0,237.9 522.1,236.3 516.7,233.3 511.3,229.0 506.8,223.9 503.8,218.9 502.3,215.5 500.8,210.1 500.2,203.3 501.1,195.9 502.3,191.6 503.8,188.1 505.3,185.3 508.3,181.2 513.1,176.3 517.1,173.3 519.7,171.8 526.9,168.8ZM613.4,167.3 620.8,167.0 628.3,167.9 632.6,168.8 636.7,170.3 642.3,173.3 647.8,177.6 652.3,182.6 655.0,186.8 656.5,189.8 658.4,195.8 659.3,203.4 659.0,207.8 658.3,211.9 656.8,216.5 655.3,219.7 652.4,224.3 646.7,230.3 640.4,234.8 633.5,237.8 628.3,239.2 619.3,240.0 611.8,239.4 606.7,237.8 601.0,234.9 596.8,231.1 592.3,224.7 589.1,218.3 587.8,214.9 586.8,210.8 586.0,204.8 586.5,197.3 587.6,192.8 588.6,189.8 592.3,182.3 596.8,175.9 601.3,171.9 604.0,170.3 607.4,168.8Z"/>
<path fill="#f41a10" d="M538.7,167.3 544.3,167.5 550.8,168.8 554.6,170.3 557.2,171.8 561.0,174.8 565.3,180.0 569.8,187.8 572.1,194.3 573.2,200.3 573.1,207.8 571.8,213.9 569.8,219.2 565.3,227.0 560.8,232.3 557.8,234.8 555.2,236.3 551.8,237.9 544.3,239.5 539.8,239.6 534.8,239.3 527.2,237.9 520.0,234.8 515.2,231.8 509.8,227.0 505.3,220.8 502.3,214.2 501.1,209.3 500.7,206.3 500.8,199.5 502.3,192.8 505.3,186.2 506.8,183.8 510.5,179.3 515.8,174.7 520.3,172.0 523.8,170.3 530.8,168.3ZM617.4,167.3 623.8,167.6 631.3,168.9 635.7,170.3 639.0,171.8 641.8,173.5 645.8,176.3 650.8,181.3 653.7,185.3 655.3,188.2 657.6,194.3 658.7,200.3 658.6,207.8 658.1,210.8 656.8,215.3 653.8,221.5 650.7,225.9 646.2,230.3 639.5,234.8 632.3,237.9 624.7,239.3 617.8,239.6 611.8,238.9 607.8,237.8 604.3,236.4 599.8,233.3 595.3,228.5 590.8,221.5 587.8,214.3 586.3,206.8 586.3,200.2 587.8,192.7 590.8,185.5 595.3,178.5 599.8,173.7 604.9,170.4 608.8,168.8 613.3,167.8Z"/>
<path fill="#eb1516" d="M530.0,168.8 538.3,167.8 544.3,168.0 550.3,169.2 553.5,170.3 556.3,171.8 560.8,175.4 565.3,180.6 569.1,186.8 571.5,192.8 572.9,198.8 573.1,206.3 572.7,209.4 571.6,213.8 569.8,218.7 568.3,221.7 565.3,226.4 560.8,231.6 556.7,234.9 554.1,236.3 550.3,237.8 542.8,239.1 535.3,238.9 528.8,237.8 524.2,236.3 520.9,234.8 514.3,230.6 509.4,225.8 505.3,220.0 503.8,216.9 502.3,212.7 501.6,209.3 501.1,204.8 501.4,198.8 502.3,194.3 503.8,190.1 506.8,184.6 511.0,179.4 516.4,174.9 521.8,171.7 525.0,170.3ZM610.2,168.8 617.8,167.8 625.3,168.2 631.3,169.3 638.0,171.8 643.3,175.0 646.9,177.8 649.3,180.3 652.2,183.8 653.8,186.3 656.8,192.9 658.3,199.9 658.4,206.3 656.9,213.8 655.0,218.3 652.3,223.0 647.2,228.9 641.3,233.3 635.3,236.3 628.3,238.4 619.3,239.2 614.8,239.0 611.8,238.4 609.2,237.8 605.4,236.3 600.7,233.3 596.8,229.6 592.3,223.5 588.9,216.8 587.1,210.8 586.3,203.3 587.2,195.8 589.3,189.2 590.8,186.1 593.8,181.2 598.3,175.8 603.2,171.8 606.0,170.3Z"/>
<path fill="#e3111c" d="M532.4,168.8 539.8,168.3 547.0,168.8 552.1,170.3 557.5,173.3 562.3,177.6 566.8,183.4 569.8,188.8 571.3,192.6 572.1,195.9 573.0,201.8 572.8,207.8 571.3,214.4 568.3,221.2 563.8,227.7 559.3,232.3 556.3,234.5 553.3,236.1 548.3,237.8 541.3,238.7 532.3,238.1 525.5,236.3 519.1,233.3 512.9,228.8 508.3,223.7 505.0,218.3 503.7,215.3 502.3,210.8 501.5,203.3 502.3,196.2 504.4,189.8 507.9,183.8 512.8,178.3 518.8,173.8 522.5,171.8 526.3,170.4ZM612.6,168.8 619.3,168.3 627.1,168.8 633.2,170.4 639.9,173.3 646.2,177.8 650.5,182.3 653.8,187.3 655.3,190.4 656.8,194.6 658.0,201.8 658.0,204.8 657.5,209.3 656.8,212.4 655.3,216.7 652.3,222.2 648.1,227.4 642.8,231.8 637.3,235.0 634.0,236.3 629.8,237.6 622.3,238.6 614.8,238.5 608.8,237.1 603.8,234.9 601.3,233.2 598.3,230.5 593.8,225.2 590.5,219.9 589.1,216.8 587.6,212.3 586.5,204.8 586.8,198.8 587.8,193.9 589.3,189.7 590.8,186.6 595.3,179.8 599.8,175.1 602.8,172.8 605.8,171.1 608.8,169.9Z"/>
<path fill="#da0c22" d="M537.2,168.9 544.3,169.0 550.3,170.3 554.8,172.3 559.3,175.4 563.8,179.9 568.3,186.4 571.3,193.3 572.8,200.3 572.8,206.3 571.3,213.8 568.3,220.6 565.3,225.2 560.8,230.3 557.8,232.8 554.8,234.7 550.3,236.7 544.3,238.0 536.8,238.1 533.7,237.8 529.3,237.0 523.1,234.8 517.3,231.6 512.1,227.3 509.8,224.8 507.3,221.3 505.3,217.8 503.8,214.2 502.3,207.8 502.2,200.3 502.6,197.4 503.8,192.8 506.8,186.4 511.0,180.8 515.9,176.3 520.3,173.5 523.3,172.1 529.3,170.0ZM617.2,168.8 623.8,168.9 631.5,170.3 635.8,171.8 638.8,173.3 643.6,176.3 648.5,180.8 652.3,185.7 655.3,191.7 656.6,195.9 657.1,198.8 657.5,203.3 657.3,206.3 656.3,212.4 653.8,218.6 650.1,224.3 645.8,228.9 641.9,231.8 639.4,233.4 632.5,236.3 625.3,237.9 617.8,238.2 611.8,237.4 608.2,236.4 605.8,235.3 601.3,232.5 598.3,229.9 595.3,226.6 590.8,219.9 589.3,216.8 587.8,212.4 587.0,207.8 586.7,201.8 587.8,194.6 589.3,190.2 590.8,187.1 595.3,180.4 599.8,175.7 605.5,171.8 610.3,170.0Z"/>
<path fill="#d20828" d="M530.1,170.3 536.8,169.4 544.3,169.6 550.3,170.9 554.8,173.0 557.8,174.9 560.8,177.4 565.3,182.3 568.3,186.9 569.8,189.9 571.3,193.9 572.7,200.3 572.7,206.3 571.3,213.1 569.8,217.1 568.3,220.1 563.8,226.5 559.3,230.9 554.8,234.0 549.4,236.4 542.8,237.5 535.3,237.5 528.9,236.3 524.4,234.8 521.2,233.3 518.6,231.8 514.5,228.8 510.1,224.4 506.8,219.5 505.3,216.5 503.8,212.4 502.6,204.8 502.9,198.8 504.4,192.8 507.2,186.8 511.3,181.3 516.8,176.3 523.3,172.7ZM611.2,170.3 617.8,169.4 625.3,169.7 631.3,170.9 637.7,173.3 640.4,174.8 644.6,177.8 649.2,182.3 652.3,186.8 655.3,193.4 656.8,200.4 656.8,206.5 655.3,213.7 652.5,219.8 650.6,222.9 648.1,225.9 643.3,230.2 638.3,233.3 631.3,236.2 623.8,237.5 616.3,237.5 610.1,236.3 604.3,233.8 601.3,231.8 598.3,229.3 593.8,224.1 590.8,219.4 589.3,216.2 587.8,211.6 586.9,204.8 587.2,198.8 587.8,195.4 588.6,192.8 590.8,187.6 592.3,185.0 595.3,181.0 599.8,176.4 602.8,174.1 605.8,172.4Z"/>
<path fill="#c8062e" d="M533.1,170.3 539.8,169.9 545.8,170.5 551.8,172.2 556.3,174.6 560.8,178.0 565.3,182.9 568.3,187.4 571.3,194.3 572.5,200.3 572.6,206.3 571.3,212.4 569.7,216.8 568.3,219.6 563.8,226.0 559.3,230.3 556.3,232.4 553.3,234.1 547.3,236.2 539.8,237.1 532.3,236.5 526.0,234.8 519.7,231.8 514.3,227.9 509.7,222.8 506.1,216.8 504.9,213.8 503.8,209.9 503.2,203.3 503.8,197.1 505.0,192.8 506.2,189.8 509.8,184.0 514.3,179.1 520.2,174.8 526.3,172.0ZM614.4,170.3 620.8,169.9 628.3,170.7 632.7,171.8 635.8,173.1 641.7,176.3 647.0,180.8 650.8,185.5 653.8,191.0 655.7,197.3 656.3,203.3 655.8,209.3 653.8,216.0 650.8,221.5 646.3,226.9 641.8,230.6 635.8,233.9 632.8,235.1 628.3,236.3 620.8,237.1 613.3,236.5 607.3,234.6 602.8,232.2 598.3,228.6 593.8,223.6 590.6,218.3 589.3,215.6 587.8,210.8 587.1,203.3 587.8,195.8 589.3,191.3 592.3,185.6 596.8,179.8 599.8,177.0 602.8,174.8 608.8,171.8Z"/>
<path fill="#bf0434" d="M528.9,171.8 535.3,170.7 542.8,170.7 548.8,171.8 554.8,174.3 557.8,176.2 560.8,178.6 565.3,183.4 568.3,188.0 571.1,194.3 571.9,198.8 572.4,200.3 572.5,206.3 571.2,212.3 569.6,216.8 565.3,223.6 560.8,228.4 556.3,231.8 550.3,234.7 544.3,236.1 536.8,236.4 529.3,235.3 523.3,233.1 520.3,231.5 516.4,228.8 511.7,224.3 508.3,219.7 506.8,216.8 505.3,213.1 503.9,206.3 503.9,200.3 505.3,193.9 506.8,190.1 508.3,187.3 511.9,182.3 516.8,177.8 521.8,174.6 524.8,173.2ZM610.6,171.9 616.3,170.8 623.8,170.6 630.6,171.8 637.3,174.5 642.7,177.8 647.6,182.3 650.9,186.8 653.9,192.8 655.4,198.8 655.7,204.8 654.8,210.9 653.8,214.3 652.3,217.7 649.1,222.8 644.8,227.4 638.8,231.8 632.8,234.5 625.3,236.2 619.3,236.5 613.3,235.8 607.3,233.9 601.3,230.5 596.8,226.6 592.3,220.9 589.4,215.3 587.9,210.8 587.4,206.3 587.3,201.8 588.0,195.8 589.4,191.3 590.9,188.3 595.3,182.1 599.8,177.7 604.3,174.6 607.3,173.1Z"/>
<path fill="#b5023a" d="M531.6,171.8 538.3,171.2 544.3,171.6 550.3,173.0 554.8,175.0 560.8,179.2 565.3,183.8 568.3,188.3 571.0,194.3 571.7,198.8 572.3,200.3 572.3,206.3 571.7,207.8 571.1,212.3 570.3,213.8 569.5,216.8 566.7,221.3 565.3,223.0 562.3,226.4 559.3,229.0 553.3,232.7 547.3,234.9 539.8,235.8 533.8,235.5 527.8,234.1 521.8,231.6 515.8,227.5 511.2,222.8 508.3,218.3 506.8,215.3 505.3,210.8 504.6,206.3 504.5,203.4 505.1,197.3 506.8,191.7 509.8,186.1 514.3,180.8 520.1,176.3 526.3,173.3ZM613.4,171.8 620.8,171.2 626.8,171.6 633.2,173.3 639.4,176.3 644.8,180.4 649.2,185.3 652.3,190.8 654.1,195.8 655.0,201.8 654.7,207.8 653.2,213.8 650.3,219.8 646.3,225.1 641.8,229.0 635.8,232.6 629.3,234.8 622.3,235.8 616.3,235.6 610.3,234.3 604.3,231.7 598.3,227.4 593.9,222.8 590.9,218.3 590.4,216.8 589.5,215.3 588.8,212.3 588.0,210.8 587.5,203.3 588.1,195.8 588.8,194.3 589.6,191.3 590.6,189.8 591.0,188.3 596.8,181.0 601.3,177.2 607.3,173.8Z"/>
<path fill="#ac0040" d="M536.9,171.8 544.3,171.9 545.8,172.5 550.3,173.4 556.3,176.4 560.2,179.3 560.8,179.5 565.1,183.8 565.3,184.6 568.1,188.3 568.6,189.8 569.6,191.3 569.9,192.8 570.9,194.3 571.5,198.8 572.2,200.3 572.2,206.3 571.5,207.8 570.9,212.3 570.0,213.8 569.4,216.8 567.1,219.9 566.6,221.3 559.3,228.7 558.6,228.8 554.8,231.7 553.6,231.8 550.3,233.3 545.8,234.8 538.3,235.2 532.3,234.8 527.5,233.3 526.3,233.3 520.9,230.3 518.6,228.8 515.0,225.8 509.8,219.8 506.8,213.9 506.1,210.8 505.4,209.3 505.2,203.3 505.3,198.8 506.9,192.8 509.8,187.5 512.4,183.8 515.3,180.8 518.8,177.9 524.4,174.8 527.8,173.4 533.8,171.9ZM618.9,171.8 626.8,172.0 628.3,172.7 635.8,174.9 640.5,177.8 644.8,181.4 648.3,185.3 650.8,189.4 653.7,195.8 654.3,203.3 653.7,210.8 653.0,212.3 652.2,215.3 649.3,220.2 644.8,225.6 638.8,230.3 632.8,233.3 629.8,234.0 628.3,234.7 620.8,235.2 613.3,234.8 611.8,234.0 608.8,233.3 602.8,230.3 599.0,227.3 598.3,227.2 594.0,222.8 593.8,221.9 591.1,218.3 590.7,216.8 589.6,215.4 589.0,212.4 588.2,210.8 587.6,203.3 588.2,195.8 589.1,194.3 589.7,191.3 590.8,189.8 591.2,188.4 596.8,181.6 602.8,176.5 603.6,176.3 608.8,173.5 613.3,172.6 614.8,172.0Z"/>
<path fill="#a20047" d="M531.6,173.3 532.3,173.2 533.8,172.1 544.3,172.1 545.8,173.3 550.3,173.6 551.8,174.9 553.3,175.0 554.8,176.4 556.3,176.6 559.3,179.3 560.8,179.6 565.0,183.8 565.3,185.2 568.0,188.3 568.3,189.8 569.5,191.3 569.7,192.8 570.8,194.3 571.3,198.8 572.1,200.3 572.1,206.3 571.3,207.8 570.8,212.3 569.8,213.8 569.2,216.9 566.8,219.8 566.4,221.3 559.3,228.6 557.8,228.8 554.8,231.5 552.0,231.8 550.3,233.2 547.3,233.4 545.8,234.6 532.3,234.6 530.8,233.5 526.3,233.1 524.8,231.8 523.3,231.6 520.3,229.0 518.8,228.7 510.0,219.8 509.8,218.3 508.5,216.8 508.3,215.3 507.0,213.8 506.8,210.8 505.6,209.3 505.5,198.8 506.7,197.3 507.0,192.8 508.3,191.3 508.5,189.8 511.3,186.7 511.5,185.4 518.8,178.1 520.3,177.9 521.8,176.5 523.3,176.3 524.8,175.0 526.3,174.9 527.8,173.5ZM613.3,173.4 614.8,172.1 626.8,172.1 628.3,173.4 631.3,173.5 633.0,174.8 635.8,175.1 638.8,177.7 640.3,178.0 649.1,186.9 649.3,188.3 650.7,189.8 650.9,191.3 652.2,192.9 652.3,194.3 653.5,195.8 653.8,203.3 653.5,210.8 652.3,212.3 652.0,215.3 649.5,218.3 649.2,219.8 638.8,230.2 637.3,230.3 635.8,231.7 634.3,231.8 632.8,233.1 629.8,233.3 628.3,234.6 620.8,234.8 613.3,234.6 611.8,233.3 608.8,233.1 607.3,231.8 605.8,231.7 604.3,230.3 602.8,230.2 599.8,227.3 598.3,227.1 594.2,222.8 593.8,221.3 591.2,218.3 590.9,216.8 589.8,215.4 589.3,212.3 588.3,210.8 587.8,203.3 588.3,195.8 589.3,194.3 589.8,191.3 590.9,189.8 591.3,188.3 596.8,182.3 602.8,176.6 604.3,176.4 605.8,175.1 607.3,174.9 608.8,173.6Z"/>
<ellipse cx="538.87" cy="203.50" rx="32.25" ry="30.31" fill="#fff" stroke="#40083c" stroke-width="0.9"/>
<ellipse cx="620.63" cy="203.50" rx="32.25" ry="30.31" fill="#fff" stroke="#40083c" stroke-width="0.9"/>
<path d="M355.5,36.2L348.2,30.5M371.0,36.2L363.9,30.2M386.4,36.2L379.7,29.9M401.9,36.2L395.5,29.7M417.4,36.2L411.3,29.4M432.8,36.2L427.2,29.1M448.3,36.2L443.1,28.8M463.8,36.2L459.0,28.5M479.2,36.2L475.0,28.3M494.7,36.2L491.1,28.0M510.2,36.2L507.2,27.8M525.7,36.2L523.3,27.7M541.1,36.2L539.4,27.5M556.6,36.2L555.6,27.4M572.1,36.2L571.7,27.4M587.5,36.2L587.9,27.4M603.0,36.2L604.0,27.4M618.5,36.2L620.2,27.5M633.9,36.2L636.3,27.7M649.4,36.2L652.4,27.8M664.9,36.2L668.5,28.0M680.4,36.2L684.6,28.3M695.8,36.2L700.6,28.5M711.3,36.2L716.5,28.8M726.8,36.2L732.5,29.1M742.2,36.2L748.3,29.4M757.7,36.2L764.1,29.7M773.2,36.2L779.9,29.9M788.6,36.2L795.7,30.2M804.1,36.2L811.4,30.5M355.5,50.9L348.0,45.4M371.0,50.9L363.7,45.1M386.4,50.9L379.4,44.9M401.9,50.9L395.2,44.6M417.4,50.9L411.0,44.3M432.8,50.9L426.9,44.0M448.3,50.9L442.8,43.7M463.8,50.9L458.7,43.4M479.2,50.9L474.8,43.1M494.7,50.9L490.8,42.8M510.2,50.9L507.0,42.5M525.7,50.9L523.1,42.3M541.1,50.9L539.3,42.2M556.6,50.9L555.5,42.1M572.1,50.9L571.7,42.0M587.5,50.9L587.9,42.0M603.0,50.9L604.1,42.1M618.5,50.9L620.3,42.2M633.9,50.9L636.5,42.3M649.4,50.9L652.6,42.5M664.9,50.9L668.8,42.8M680.4,50.9L684.8,43.1M695.8,50.9L700.9,43.4M711.3,50.9L716.8,43.7M726.8,50.9L732.8,44.0M742.2,50.9L748.6,44.3M757.7,50.9L764.4,44.6M773.2,50.9L780.2,44.9M788.6,50.9L795.9,45.1M804.1,50.9L811.6,45.4M355.5,65.5L347.7,60.4M371.0,65.5L363.4,60.1M386.4,65.5L379.1,59.8M401.9,65.5L394.9,59.5M417.4,65.5L410.7,59.2M432.8,65.5L426.5,58.9M448.3,65.5L442.5,58.5M463.8,65.5L458.4,58.2M479.2,65.5L474.5,57.9M494.7,65.5L490.6,57.5M510.2,65.5L506.8,57.3M525.7,65.5L523.0,57.0M541.1,65.5L539.2,56.9M556.6,65.5L555.4,56.8M572.1,65.5L571.7,56.7M587.5,65.5L587.9,56.7M603.0,65.5L604.2,56.8M618.5,65.5L620.4,56.9M633.9,65.5L636.6,57.0M649.4,65.5L652.8,57.3M664.9,65.5L669.0,57.6M680.4,65.5L685.1,57.9M695.8,65.5L701.2,58.2M711.3,65.5L717.2,58.5M726.8,65.5L733.1,58.9M742.2,65.5L748.9,59.2M757.7,65.5L764.7,59.5M773.2,65.5L780.5,59.8M788.6,65.5L796.2,60.1M804.1,65.5L811.9,60.4M355.5,80.2L347.4,75.4M371.0,80.2L363.1,75.2M386.4,80.2L378.8,74.9M401.9,80.2L394.5,74.5M417.4,80.2L410.3,74.2M432.8,80.2L426.2,73.8M448.3,80.2L442.1,73.5M463.8,80.2L458.1,73.1M479.2,80.2L474.2,72.7M494.7,80.2L490.3,72.3M510.2,80.2L506.6,72.0M525.7,80.2L522.9,71.7M541.1,80.2L539.1,71.5M556.6,80.2L555.4,71.4M572.1,80.2L571.7,71.4M587.5,80.2L587.9,71.4M603.0,80.2L604.2,71.4M618.5,80.2L620.5,71.5M633.9,80.2L636.8,71.7M649.4,80.2L653.0,72.0M664.9,80.2L669.3,72.3M680.4,80.2L685.4,72.7M695.8,80.2L701.5,73.1M711.3,80.2L717.5,73.5M726.8,80.2L733.4,73.8M742.2,80.2L749.3,74.2M757.7,80.2L765.1,74.5M773.2,80.2L780.8,74.9M788.6,80.2L796.5,75.2M804.1,80.2L812.2,75.4M355.5,94.9L347.2,90.5M371.0,94.9L362.8,90.2M386.4,94.9L378.5,89.9M401.9,94.9L394.2,89.6M417.4,94.9L410.0,89.2M432.8,94.9L425.8,88.9M448.3,94.9L441.7,88.4M463.8,94.9L457.7,88.0M479.2,94.9L473.9,87.5M494.7,94.9L490.1,87.1M510.2,94.9L506.4,86.7M525.7,94.9L522.8,86.4M541.1,94.9L539.1,86.2M556.6,94.9L555.4,86.1M572.1,94.9L571.7,86.0M587.5,94.9L587.9,86.0M603.0,94.9L604.2,86.1M618.5,94.9L620.5,86.2M633.9,94.9L636.8,86.4M649.4,94.9L653.2,86.7M664.9,94.9L669.5,87.1M680.4,94.9L685.8,87.6M695.8,94.9L701.9,88.0M711.3,94.9L717.9,88.4M726.8,94.9L733.8,88.9M742.2,94.9L749.6,89.2M757.7,94.9L765.4,89.6M773.2,94.9L781.1,89.9M788.6,94.9L796.8,90.2M804.1,94.9L812.4,90.5M355.5,109.5L346.9,105.6M371.0,109.5L362.5,105.3M386.4,109.5L378.2,105.1M401.9,109.5L393.8,104.7M417.4,109.5L409.6,104.4M432.8,109.5L425.4,103.9M448.3,109.5L441.3,103.5M463.8,109.5L457.3,103.0M479.2,109.5L473.5,102.5M494.7,109.5L489.8,101.9M510.2,109.5L506.3,101.5M525.7,109.5L522.8,101.1M541.1,109.5L539.3,100.8M556.6,109.5L555.6,100.7M572.1,109.5L571.8,100.7M587.5,109.5L587.8,100.7M603.0,109.5L604.0,100.7M618.5,109.5L620.3,100.8M633.9,109.5L636.8,101.1M649.4,109.5L653.4,101.5M664.9,109.5L669.8,101.9M680.4,109.5L686.1,102.5M695.8,109.5L702.3,103.0M711.3,109.5L718.3,103.5M726.8,109.5L734.2,103.9M742.2,109.5L750.0,104.4M757.7,109.5L765.8,104.7M773.2,109.5L781.4,105.1M788.6,109.5L797.1,105.3M804.1,109.5L812.7,105.6M355.5,124.2L346.7,120.8M371.0,124.2L362.2,120.5M386.4,124.2L377.9,120.2M401.9,124.2L393.5,119.9M417.4,124.2L409.2,119.6M432.8,124.2L425.0,119.1M448.3,124.2L440.9,118.6M463.8,124.2L456.9,118.1M479.2,124.2L473.1,117.4M494.7,124.2L489.5,116.8M510.2,124.2L506.1,116.2M525.7,124.2L522.9,115.7M541.1,124.2L539.6,115.4M556.6,124.2L556.0,115.4M572.1,124.2L572.0,115.3M587.5,124.2L587.6,115.3M603.0,124.2L603.6,115.4M618.5,124.2L620.0,115.4M633.9,124.2L636.7,115.7M649.4,124.2L653.5,116.2M664.9,124.2L670.1,116.8M680.4,124.2L686.5,117.4M695.8,124.2L702.7,118.1M711.3,124.2L718.7,118.6M726.8,124.2L734.6,119.1M742.2,124.2L750.4,119.6M757.7,124.2L766.1,119.9M773.2,124.2L781.7,120.2M788.6,124.2L797.4,120.5M804.1,124.2L812.9,120.8M355.5,138.8L346.4,136.0M371.0,138.8L362.0,135.8M386.4,138.8L377.6,135.5M401.9,138.8L393.2,135.2M417.4,138.8L408.8,134.8M432.8,138.8L424.5,134.4M448.3,138.8L440.4,133.9M463.8,138.8L456.3,133.3M479.2,138.8L472.6,132.5M494.7,138.8L489.1,131.7M510.2,138.8L505.9,130.9M525.7,138.8L523.0,130.3M541.1,138.8L540.2,130.0M556.6,138.8L556.8,130.0M572.1,138.8L572.3,130.0M587.5,138.8L587.3,130.0M603.0,138.8L602.8,130.0M618.5,138.8L619.5,130.0M633.9,138.8L636.6,130.3M649.4,138.8L653.7,130.9M664.9,138.8L670.6,131.7M680.4,138.8L687.1,132.5M695.8,138.8L703.3,133.3M711.3,138.8L719.2,133.9M726.8,138.8L735.1,134.4M742.2,138.8L750.8,134.8M757.7,138.8L766.4,135.2M773.2,138.8L782.0,135.5M788.6,138.8L797.6,135.8M804.1,138.8L813.2,136.0M355.5,153.5L346.2,151.2M371.0,153.5L361.8,151.0M386.4,153.5L377.3,150.8M401.9,153.5L392.9,150.6M417.4,153.5L408.5,150.2M432.8,153.5L424.1,149.8M448.3,153.5L439.9,149.3M463.8,153.5L455.8,148.7M479.2,153.5L471.9,147.8M494.7,153.5L488.4,146.9M510.2,153.5L505.4,145.9M525.7,153.5L522.9,145.0M541.1,153.5L540.7,144.7M556.6,153.5L557.9,144.7M572.1,153.5L573.1,144.7M587.5,153.5L586.5,144.7M603.0,153.5L601.7,144.7M618.5,153.5L618.9,144.7M633.9,153.5L636.7,145.0M649.4,153.5L654.3,145.9M664.9,153.5L671.2,146.9M680.4,153.5L687.7,147.8M695.8,153.5L703.8,148.7M711.3,153.5L719.7,149.3M726.8,153.5L735.5,149.8M742.2,153.5L751.1,150.2M757.7,153.5L766.7,150.6M773.2,153.5L782.3,150.8M788.6,153.5L797.8,151.0M804.1,153.5L813.4,151.2M355.5,168.2L346.1,166.5M371.0,168.2L361.6,166.4M386.4,168.2L377.1,166.2M401.9,168.2L392.6,166.0M417.4,168.2L408.2,165.8M432.8,168.2L423.7,165.4M448.3,168.2L439.4,165.0M463.8,168.2L455.1,164.4M479.2,168.2L471.1,163.6M494.7,168.2L487.4,162.5M510.2,168.2L504.3,161.2M525.7,168.2L522.3,159.9M541.1,168.2L541.4,159.3M556.6,168.2L559.6,159.8M572.1,168.2L574.5,159.6M587.5,168.2L585.1,159.6M603.0,168.2L600.0,159.8M618.5,168.2L618.2,159.3M633.9,168.2L637.3,159.9M649.4,168.2L655.3,161.2M664.9,168.2L672.3,162.5M680.4,168.2L688.5,163.6M695.8,168.2L704.5,164.4M711.3,168.2L720.2,165.0M726.8,168.2L735.9,165.4M742.2,168.2L751.4,165.8M757.7,168.2L767.0,166.0M773.2,168.2L782.5,166.2M788.6,168.2L798.0,166.4M804.1,168.2L813.5,166.5M355.5,182.8L346.0,181.8M371.0,182.8L361.5,181.8M386.4,182.8L376.9,181.7M401.9,182.8L392.4,181.5M417.4,182.8L407.9,181.4M432.8,182.8L423.4,181.1M448.3,182.8L439.0,180.8M463.8,182.8L454.6,180.4M479.2,182.8L470.3,179.8M494.7,182.8L486.1,178.9M510.2,182.8L502.6,177.4M572.1,182.8L577.8,175.7M587.5,182.8L581.7,175.8M649.4,182.8L657.0,177.4M664.9,182.8L673.5,178.9M680.4,182.8L689.4,179.8M695.8,182.8L705.0,180.4M711.3,182.8L720.6,180.8M726.8,182.8L736.2,181.1M742.2,182.8L751.7,181.4M757.7,182.8L767.2,181.5M773.2,182.8L782.7,181.7M788.6,182.8L798.1,181.8M804.1,182.8L813.6,181.8M355.5,197.5L345.9,197.2M371.0,197.5L361.4,197.2M386.4,197.5L376.9,197.1M401.9,197.5L392.3,197.1M417.4,197.5L407.8,197.0M432.8,197.5L423.3,197.0M448.3,197.5L438.8,196.9M463.8,197.5L454.2,196.7M479.2,197.5L469.7,196.5M494.7,197.5L485.3,196.2M572.1,197.5L581.4,195.5M587.5,197.5L578.2,195.5M664.9,197.5L674.4,196.2M680.4,197.5L689.9,196.5M695.8,197.5L705.4,196.7M711.3,197.5L720.8,196.9M726.8,197.5L736.3,197.0M742.2,197.5L751.8,197.0M757.7,197.5L767.3,197.1M773.2,197.5L782.7,197.1M788.6,197.5L798.2,197.2M804.1,197.5L813.7,197.2M355.5,212.1L345.9,212.5M371.0,212.1L361.4,212.6M386.4,212.1L376.9,212.6M401.9,212.1L392.3,212.7M417.4,212.1L407.8,212.7M432.8,212.1L423.3,212.8M448.3,212.1L438.8,213.0M463.8,212.1L454.3,213.2M479.2,212.1L469.8,213.5M494.7,212.1L485.4,213.9M572.1,212.1L581.1,215.1M587.5,212.1L578.5,215.0M664.9,212.1L674.2,213.9M680.4,212.1L689.8,213.5M695.8,212.1L705.3,213.2M711.3,212.1L720.8,213.0M726.8,212.1L736.3,212.8M742.2,212.1L751.8,212.7M757.7,212.1L767.3,212.7M773.2,212.1L782.7,212.6M788.6,212.1L798.2,212.6M804.1,212.1L813.7,212.5M355.5,226.8L346.0,227.9M371.0,226.8L361.5,228.0M386.4,226.8L377.0,228.1M401.9,226.8L392.5,228.2M417.4,226.8L408.0,228.4M432.8,226.8L423.5,228.7M448.3,226.8L439.0,229.0M463.8,226.8L454.7,229.5M479.2,226.8L470.4,230.1M494.7,226.8L486.4,231.1M510.2,226.8L503.0,232.6M572.1,226.8L577.0,234.3M587.5,226.8L582.5,234.3M649.4,226.8L656.7,232.6M664.9,226.8L673.2,231.1M680.4,226.8L689.2,230.1M695.8,226.8L704.9,229.5M711.3,226.8L720.6,229.0M726.8,226.8L736.1,228.7M742.2,226.8L751.6,228.4M757.7,226.8L767.1,228.2M773.2,226.8L782.6,228.1M788.6,226.8L798.1,228.0M804.1,226.8L813.6,227.9M355.5,241.5L346.1,243.2M371.0,241.5L361.6,243.3M386.4,241.5L377.1,243.5M401.9,241.5L392.7,243.7M417.4,241.5L408.2,244.0M432.8,241.5L423.8,244.4M448.3,241.5L439.5,244.8M463.8,241.5L455.2,245.4M479.2,241.5L471.2,246.3M494.7,241.5L487.6,247.3M510.2,241.5L504.5,248.6M525.7,241.5L522.5,249.8M541.1,241.5L541.2,250.3M556.6,241.5L559.2,249.9M572.1,241.5L574.2,250.1M587.5,241.5L585.4,250.1M603.0,241.5L600.4,249.9M618.5,241.5L618.4,250.3M633.9,241.5L637.1,249.8M649.4,241.5L655.1,248.6M664.9,241.5L672.1,247.3M680.4,241.5L688.4,246.3M695.8,241.5L704.4,245.4M711.3,241.5L720.1,244.8M726.8,241.5L735.8,244.3M742.2,241.5L751.4,244.0M757.7,241.5L766.9,243.7M773.2,241.5L782.5,243.5M788.6,241.5L798.0,243.3M804.1,241.5L813.5,243.2M355.5,256.1L346.3,258.5M371.0,256.1L361.8,258.7M386.4,256.1L377.3,258.9M401.9,256.1L392.9,259.2M417.4,256.1L408.5,259.5M432.8,256.1L424.2,259.9M448.3,256.1L440.0,260.4M463.8,256.1L455.9,261.1M479.2,256.1L472.0,261.9M494.7,256.1L488.5,262.8M510.2,256.1L505.5,263.8M525.7,256.1L523.0,264.6M541.1,256.1L540.6,264.9M556.6,256.1L557.7,264.9M572.1,256.1L572.9,264.9M587.5,256.1L586.7,264.9M603.0,256.1L601.9,264.9M618.5,256.1L619.0,264.9M633.9,256.1L636.7,264.6M649.4,256.1L654.1,263.8M664.9,256.1L671.1,262.8M680.4,256.1L687.6,261.9M695.8,256.1L703.7,261.1M711.3,256.1L719.6,260.4M726.8,256.1L735.4,259.9M742.2,256.1L751.1,259.5M757.7,256.1L766.7,259.2M773.2,256.1L782.3,258.9M788.6,256.1L797.8,258.7M804.1,256.1L813.3,258.5M355.5,270.8L346.5,273.7M371.0,270.8L362.0,273.9M386.4,270.8L377.6,274.2M401.9,270.8L393.2,274.5M417.4,270.8L408.9,274.9M432.8,270.8L424.6,275.3M448.3,270.8L440.5,275.8M463.8,270.8L456.4,276.5M479.2,270.8L472.7,277.2M494.7,270.8L489.1,278.0M510.2,270.8L506.0,278.7M525.7,270.8L523.0,279.3M541.1,270.8L540.1,279.5M556.6,270.8L556.6,279.6M572.1,270.8L572.3,279.6M587.5,270.8L587.3,279.6M603.0,270.8L603.0,279.6M618.5,270.8L619.6,279.5M633.9,270.8L636.6,279.3M649.4,270.8L653.7,278.7M664.9,270.8L670.5,278.0M680.4,270.8L687.0,277.2M695.8,270.8L703.2,276.4M711.3,270.8L719.1,275.8M726.8,270.8L735.0,275.3M742.2,270.8L750.7,274.9M757.7,270.8L766.4,274.5M773.2,270.8L782.0,274.2M788.6,270.8L797.6,273.9M804.1,270.8L813.1,273.7M355.5,285.4L346.7,288.9M371.0,285.4L362.3,289.2M386.4,285.4L377.9,289.5M401.9,285.4L393.6,289.8M417.4,285.4L409.3,290.1M432.8,285.4L425.1,290.6M448.3,285.4L440.9,291.1M463.8,285.4L457.0,291.6M479.2,285.4L473.1,292.2M494.7,285.4L489.5,292.9M510.2,285.4L506.2,293.4M525.7,285.4L522.9,293.9M541.1,285.4L539.5,294.1M556.6,285.4L555.9,294.2M572.1,285.4L571.9,294.3M587.5,285.4L587.7,294.3M603.0,285.4L603.7,294.2M618.5,285.4L620.1,294.1M633.9,285.4L636.7,293.9M649.4,285.4L653.5,293.4M664.9,285.4L670.1,292.9M680.4,285.4L686.5,292.2M695.8,285.4L702.7,291.6M711.3,285.4L718.7,291.1M726.8,285.4L734.5,290.6M742.2,285.4L750.3,290.1M757.7,285.4L766.0,289.8M773.2,285.4L781.7,289.5M788.6,285.4L797.3,289.2M804.1,285.4L812.9,288.9M355.5,300.1L346.9,304.1M371.0,300.1L362.6,304.3M386.4,300.1L378.2,304.6M401.9,300.1L393.9,305.0M417.4,300.1L409.7,305.3M432.8,300.1L425.5,305.7M448.3,300.1L441.4,306.2M463.8,300.1L457.4,306.7M479.2,300.1L473.6,307.2M494.7,300.1L489.8,307.7M510.2,300.1L506.3,308.2M525.7,300.1L522.8,308.5M541.1,300.1L539.2,308.8M556.6,300.1L555.6,308.9M572.1,300.1L571.8,308.9M587.5,300.1L587.9,308.9M603.0,300.1L604.0,308.9M618.5,300.1L620.4,308.8M633.9,300.1L636.8,308.5M649.4,300.1L653.3,308.2M664.9,300.1L669.8,307.7M680.4,300.1L686.1,307.2M695.8,300.1L702.2,306.7M711.3,300.1L718.2,306.2M726.8,300.1L734.1,305.7M742.2,300.1L749.9,305.3M757.7,300.1L765.7,305.0M773.2,300.1L781.4,304.6M788.6,300.1L797.0,304.3M804.1,300.1L812.7,304.1M355.5,314.8L347.2,319.2M371.0,314.8L362.9,319.5M386.4,314.8L378.5,319.7M401.9,314.8L394.3,320.1M417.4,314.8L410.0,320.4M432.8,314.8L425.9,320.8M448.3,314.8L441.8,321.2M463.8,314.8L457.8,321.7M479.2,314.8L473.9,322.1M494.7,314.8L490.1,322.5M510.2,314.8L506.4,322.9M525.7,314.8L522.8,323.2M541.1,314.8L539.1,323.4M556.6,314.8L555.4,323.5M572.1,314.8L571.7,323.6M587.5,314.8L587.9,323.6M603.0,314.8L604.2,323.5M618.5,314.8L620.5,323.4M633.9,314.8L636.8,323.2M649.4,314.8L653.2,322.9M664.9,314.8L669.5,322.5M680.4,314.8L685.7,322.1M695.8,314.8L701.8,321.7M711.3,314.8L717.8,321.2M726.8,314.8L733.7,320.8M742.2,314.8L749.6,320.4M757.7,314.8L765.3,320.1M773.2,314.8L781.1,319.7M788.6,314.8L796.7,319.4M804.1,314.8L812.4,319.2M355.5,329.4L347.5,334.2M371.0,329.4L363.1,334.5M386.4,329.4L378.8,334.8M401.9,329.4L394.6,335.1M417.4,329.4L410.4,335.5M432.8,329.4L426.2,335.8M448.3,329.4L442.2,336.2M463.8,329.4L458.2,336.6M479.2,329.4L474.2,336.9M494.7,329.4L490.4,337.3M510.2,329.4L506.6,337.6M525.7,329.4L522.9,337.9M541.1,329.4L539.2,338.1M556.6,329.4L555.4,338.2M572.1,329.4L571.7,338.2M587.5,329.4L587.9,338.2M603.0,329.4L604.2,338.2M618.5,329.4L620.5,338.1M633.9,329.4L636.7,337.9M649.4,329.4L653.0,337.6M664.9,329.4L669.2,337.3M680.4,329.4L685.4,336.9M695.8,329.4L701.4,336.6M711.3,329.4L717.4,336.2M726.8,329.4L733.4,335.8M742.2,329.4L749.2,335.5M757.7,329.4L765.0,335.1M773.2,329.4L780.8,334.8M788.6,329.4L796.5,334.5M804.1,329.4L812.1,334.2M355.5,344.1L347.7,349.3M371.0,344.1L363.4,349.5M386.4,344.1L379.2,349.8M401.9,344.1L394.9,350.1M417.4,344.1L410.7,350.4M432.8,344.1L426.6,350.8M448.3,344.1L442.5,351.1M463.8,344.1L458.5,351.4M479.2,344.1L474.5,351.8M494.7,344.1L490.7,352.1M510.2,344.1L506.8,352.3M525.7,344.1L523.0,352.6M541.1,344.1L539.2,352.7M556.6,344.1L555.5,352.8M572.1,344.1L571.7,352.9M587.5,344.1L587.9,352.9M603.0,344.1L604.1,352.8M618.5,344.1L620.4,352.7M633.9,344.1L636.6,352.6M649.4,344.1L652.8,352.3M664.9,344.1L669.0,352.1M680.4,344.1L685.1,351.8M695.8,344.1L701.1,351.4M711.3,344.1L717.1,351.1M726.8,344.1L733.0,350.8M742.2,344.1L748.9,350.4M757.7,344.1L764.7,350.1M773.2,344.1L780.4,349.8M788.6,344.1L796.2,349.5M804.1,344.1L811.9,349.3M355.5,358.7L348.0,364.2M371.0,358.7L363.7,364.5M386.4,358.7L379.4,364.8M401.9,358.7L395.2,365.1M417.4,358.7L411.0,365.4M432.8,358.7L426.9,365.7M448.3,358.7L442.8,366.0M463.8,358.7L458.8,366.3M479.2,358.7L474.8,366.6M494.7,358.7L490.9,366.8M510.2,358.7L507.0,367.1M525.7,358.7L523.2,367.3M541.1,358.7L539.3,367.4M556.6,358.7L555.5,367.5M572.1,358.7L571.7,367.6M587.5,358.7L587.9,367.6M603.0,358.7L604.1,367.5M618.5,358.7L620.3,367.4M633.9,358.7L636.5,367.3M649.4,358.7L652.6,367.1M664.9,358.7L668.7,366.8M680.4,358.7L684.8,366.6M695.8,358.7L700.8,366.3M711.3,358.7L716.8,366.0M726.8,358.7L732.7,365.7M742.2,358.7L748.6,365.4M757.7,358.7L764.4,365.1M773.2,358.7L780.2,364.8M788.6,358.7L795.9,364.5M804.1,358.7L811.6,364.2M355.5,373.4L348.3,379.2M371.0,373.4L364.0,379.4M386.4,373.4L379.7,379.7M401.9,373.4L395.5,380.0M417.4,373.4L411.3,380.3M432.8,373.4L427.2,380.5M448.3,373.4L443.1,380.8M463.8,373.4L459.1,381.1M479.2,373.4L475.1,381.3M494.7,373.4L491.1,381.6M510.2,373.4L507.2,381.8M525.7,373.4L523.3,382.0M541.1,373.4L539.4,382.1M556.6,373.4L555.6,382.2M572.1,373.4L571.7,382.2M587.5,373.4L587.9,382.2M603.0,373.4L604.0,382.2M618.5,373.4L620.2,382.1M633.9,373.4L636.3,382.0M649.4,373.4L652.4,381.8M664.9,373.4L668.5,381.6M680.4,373.4L684.5,381.3M695.8,373.4L700.5,381.1M711.3,373.4L716.5,380.8M726.8,373.4L732.4,380.5M742.2,373.4L748.3,380.3M757.7,373.4L764.1,380.0M773.2,373.4L779.9,379.7M788.6,373.4L795.6,379.4M804.1,373.4L811.3,379.2" stroke="#111" stroke-width="0.85" fill="none" stroke-linecap="butt"/><path d="M346.1,28.8L349.4,29.8L347.8,31.7ZM361.9,28.4L365.1,29.6L363.5,31.5ZM377.7,28.1L380.9,29.4L379.2,31.2ZM393.6,27.7L396.7,29.1L394.9,30.9ZM409.5,27.4L412.6,28.9L410.7,30.6ZM425.5,27.0L428.4,28.7L426.5,30.3ZM441.5,26.6L444.4,28.5L442.3,29.9ZM457.6,26.2L460.3,28.3L458.2,29.6ZM473.8,25.9L476.4,28.1L474.2,29.3ZM490.0,25.6L492.4,28.0L490.1,29.0ZM506.2,25.3L508.5,27.9L506.2,28.7ZM522.5,25.1L524.6,27.8L522.2,28.5ZM538.9,24.9L540.7,27.8L538.3,28.3ZM555.2,24.7L556.9,27.8L554.4,28.1ZM571.6,24.7L573.0,27.8L570.5,27.9ZM588.0,24.7L589.1,27.9L586.6,27.8ZM604.4,24.7L605.2,28.1L602.7,27.8ZM620.7,24.9L621.3,28.3L618.9,27.8ZM637.1,25.1L637.4,28.5L635.0,27.8ZM653.4,25.3L653.5,28.7L651.1,27.9ZM669.6,25.6L669.5,29.0L667.2,28.0ZM685.8,25.9L685.4,29.3L683.2,28.1ZM702.0,26.2L701.4,29.6L699.3,28.3ZM718.1,26.6L717.3,29.9L715.2,28.5ZM734.1,27.0L733.1,30.3L731.2,28.7ZM750.1,27.4L748.9,30.6L747.1,28.9ZM766.0,27.7L764.7,30.9L762.9,29.1ZM781.9,28.1L780.4,31.2L778.7,29.4ZM797.7,28.4L796.1,31.5L794.5,29.6ZM813.5,28.8L811.8,31.7L810.2,29.8ZM345.8,43.8L349.1,44.7L347.6,46.7ZM361.5,43.5L364.8,44.5L363.3,46.4ZM377.3,43.1L380.6,44.2L379.0,46.1ZM393.2,42.7L396.4,44.0L394.7,45.8ZM409.1,42.3L412.2,43.8L410.4,45.5ZM425.1,41.9L428.1,43.5L426.2,45.2ZM441.1,41.5L444.1,43.3L442.1,44.8ZM457.2,41.1L460.1,43.1L458.0,44.5ZM473.4,40.7L476.1,42.9L473.9,44.1ZM489.7,40.4L492.2,42.7L489.9,43.8ZM506.0,40.0L508.3,42.6L506.0,43.5ZM522.4,39.8L524.5,42.5L522.1,43.2ZM538.8,39.6L540.6,42.4L538.2,42.9ZM555.2,39.4L556.8,42.4L554.3,42.7ZM571.6,39.3L573.0,42.5L570.5,42.6ZM588.0,39.3L589.1,42.6L586.6,42.5ZM604.4,39.4L605.3,42.7L602.8,42.4ZM620.9,39.6L621.4,42.9L619.0,42.4ZM637.2,39.8L637.5,43.2L635.1,42.5ZM653.6,40.0L653.6,43.5L651.3,42.6ZM669.9,40.4L669.7,43.8L667.4,42.7ZM686.2,40.7L685.7,44.1L683.5,42.9ZM702.4,41.1L701.6,44.5L699.5,43.1ZM718.5,41.5L717.5,44.8L715.5,43.3ZM734.5,41.9L733.4,45.2L731.5,43.5ZM750.5,42.3L749.2,45.5L747.4,43.8ZM766.4,42.7L764.9,45.8L763.2,44.0ZM782.3,43.1L780.6,46.1L779.0,44.2ZM798.1,43.5L796.3,46.4L794.8,44.5ZM813.8,43.8L812.0,46.7L810.5,44.7ZM345.4,58.9L348.8,59.6L347.4,61.7ZM361.2,58.6L364.5,59.4L363.1,61.4ZM377.0,58.2L380.3,59.2L378.7,61.1ZM392.8,57.8L396.0,58.9L394.4,60.8ZM408.7,57.4L411.9,58.7L410.2,60.5ZM424.7,56.9L427.8,58.4L426.0,60.1ZM440.7,56.5L443.7,58.1L441.8,59.7ZM456.8,56.0L459.7,57.9L457.7,59.3ZM473.1,55.6L475.8,57.6L473.7,58.9ZM489.4,55.1L491.9,57.4L489.7,58.6ZM505.7,54.8L508.1,57.3L505.8,58.2ZM522.2,54.5L524.3,57.1L521.9,57.9ZM538.6,54.2L540.5,57.1L538.1,57.6ZM555.1,54.1L556.8,57.1L554.3,57.4ZM571.6,54.0L573.0,57.1L570.5,57.3ZM588.0,54.0L589.1,57.3L586.6,57.1ZM604.5,54.1L605.3,57.4L602.9,57.1ZM621.0,54.2L621.5,57.6L619.1,57.1ZM637.4,54.5L637.7,57.9L635.3,57.1ZM653.9,54.8L653.8,58.2L651.5,57.3ZM670.2,55.2L669.9,58.6L667.7,57.4ZM686.5,55.6L685.9,58.9L683.8,57.6ZM702.8,56.0L701.9,59.3L699.9,57.9ZM718.9,56.5L717.8,59.7L715.9,58.1ZM734.9,56.9L733.6,60.1L731.8,58.4ZM750.9,57.4L749.4,60.5L747.7,58.7ZM766.8,57.8L765.2,60.8L763.6,58.9ZM782.6,58.2L780.9,61.1L779.3,59.2ZM798.4,58.6L796.5,61.4L795.1,59.4ZM814.2,58.9L812.2,61.7L810.8,59.6ZM345.1,74.0L348.5,74.6L347.2,76.8ZM360.8,73.7L364.2,74.4L362.8,76.5ZM376.6,73.3L379.9,74.1L378.5,76.2ZM392.4,72.9L395.7,73.9L394.2,75.8ZM408.3,72.5L411.5,73.6L409.9,75.5ZM424.2,72.0L427.4,73.3L425.7,75.1ZM440.3,71.5L443.4,73.0L441.5,74.7ZM456.4,71.0L459.4,72.7L457.4,74.2ZM472.7,70.5L475.5,72.4L473.4,73.8ZM489.0,70.0L491.7,72.2L489.5,73.4ZM505.5,69.5L507.9,72.0L505.6,73.0ZM522.0,69.2L524.2,71.8L521.8,72.6ZM538.5,68.9L540.5,71.8L538.0,72.3ZM555.1,68.7L556.7,71.8L554.2,72.1ZM571.6,68.7L572.9,71.8L570.5,71.9ZM588.0,68.7L589.2,71.9L586.7,71.8ZM604.5,68.7L605.4,72.1L602.9,71.8ZM621.1,68.9L621.6,72.3L619.1,71.8ZM637.6,69.2L637.8,72.6L635.4,71.8ZM654.1,69.5L654.0,73.0L651.7,72.0ZM670.6,70.0L670.1,73.4L667.9,72.2ZM686.9,70.5L686.2,73.8L684.1,72.4ZM703.2,71.0L702.2,74.2L700.2,72.7ZM719.3,71.5L718.1,74.7L716.2,73.0ZM735.4,72.0L733.9,75.1L732.2,73.3ZM751.3,72.5L749.7,75.5L748.1,73.6ZM767.2,72.9L765.4,75.8L763.9,73.9ZM783.0,73.3L781.1,76.2L779.7,74.1ZM798.8,73.7L796.8,76.5L795.4,74.4ZM814.5,74.1L812.4,76.8L811.1,74.6ZM344.8,89.2L348.2,89.6L347.0,91.8ZM360.5,88.9L363.9,89.4L362.6,91.6ZM376.2,88.5L379.6,89.1L378.2,91.3ZM392.0,88.1L395.3,88.9L393.9,90.9ZM407.8,87.6L411.1,88.6L409.6,90.5ZM423.7,87.1L427.0,88.2L425.4,90.1ZM439.8,86.6L443.0,87.9L441.2,89.7ZM455.9,86.0L459.0,87.5L457.1,89.2ZM472.2,85.4L475.2,87.2L473.1,88.7ZM488.7,84.8L491.4,86.9L489.3,88.2ZM505.3,84.3L507.7,86.7L505.5,87.7ZM521.9,83.9L524.1,86.5L521.7,87.3ZM538.5,83.6L540.5,86.4L538.0,87.0ZM555.1,83.4L556.8,86.4L554.3,86.7ZM571.6,83.3L573.0,86.5L570.5,86.6ZM588.0,83.3L589.1,86.6L586.6,86.5ZM604.5,83.4L605.3,86.7L602.9,86.4ZM621.1,83.6L621.6,87.0L619.1,86.4ZM637.7,83.9L637.9,87.3L635.5,86.5ZM654.4,84.3L654.1,87.7L651.9,86.7ZM670.9,84.8L670.3,88.2L668.2,86.9ZM687.4,85.4L686.5,88.7L684.5,87.2ZM703.7,86.0L702.5,89.2L700.6,87.5ZM719.8,86.6L718.4,89.7L716.7,87.9ZM735.9,87.1L734.2,90.1L732.6,88.2ZM751.8,87.6L750.0,90.5L748.5,88.6ZM767.6,88.1L765.7,90.9L764.3,88.9ZM783.4,88.5L781.4,91.3L780.0,89.1ZM799.1,88.9L797.0,91.6L795.7,89.4ZM814.8,89.2L812.6,91.8L811.4,89.6ZM344.4,104.5L347.9,104.7L346.8,107.0ZM360.1,104.2L363.5,104.4L362.4,106.7ZM375.8,103.8L379.2,104.2L378.0,106.4ZM391.5,103.3L394.9,103.9L393.6,106.1ZM407.3,102.9L410.7,103.6L409.3,105.7ZM423.2,102.3L426.6,103.2L425.1,105.2ZM439.3,101.7L442.5,102.9L440.9,104.8ZM455.4,101.1L458.6,102.5L456.8,104.2ZM471.8,100.4L474.8,102.0L472.8,103.6ZM488.3,99.7L491.1,101.7L489.0,103.0ZM505.1,99.0L507.6,101.4L505.3,102.5ZM521.9,98.5L524.1,101.2L521.8,102.0ZM538.7,98.2L540.6,101.1L538.2,101.6ZM555.3,98.0L556.9,101.1L554.4,101.4ZM571.7,98.0L573.0,101.1L570.5,101.2ZM587.9,98.0L589.1,101.2L586.6,101.1ZM604.3,98.0L605.2,101.4L602.7,101.1ZM620.9,98.2L621.4,101.6L619.0,101.1ZM637.7,98.5L637.8,102.0L635.5,101.2ZM654.5,99.0L654.3,102.5L652.0,101.4ZM671.3,99.7L670.6,103.0L668.5,101.7ZM687.8,100.4L686.8,103.6L684.8,102.1ZM704.2,101.1L702.8,104.2L701.0,102.5ZM720.3,101.7L718.7,104.8L717.1,102.9ZM736.4,102.3L734.5,105.2L733.1,103.2ZM752.3,102.9L750.3,105.7L748.9,103.6ZM768.1,103.3L766.0,106.1L764.7,103.9ZM783.8,103.8L781.6,106.4L780.4,104.2ZM799.5,104.2L797.2,106.7L796.1,104.4ZM815.2,104.5L812.8,107.0L811.7,104.7ZM344.1,119.8L347.6,119.8L346.7,122.1ZM359.7,119.5L363.2,119.6L362.2,121.9ZM375.4,119.1L378.8,119.3L377.8,121.6ZM391.1,118.7L394.5,119.0L393.4,121.3ZM406.9,118.2L410.3,118.7L409.0,120.9ZM422.7,117.7L426.1,118.3L424.7,120.4ZM438.7,117.0L442.0,117.9L440.5,119.9ZM454.8,116.3L458.1,117.4L456.4,119.3ZM471.2,115.4L474.3,116.9L472.5,118.6ZM487.9,114.6L490.8,116.5L488.8,117.9ZM504.9,113.8L507.5,116.0L505.2,117.2ZM522.1,113.1L524.2,115.8L521.9,116.6ZM539.2,112.8L540.9,115.7L538.5,116.1ZM555.9,112.7L557.3,115.8L554.8,115.9ZM571.9,112.6L573.2,115.8L570.7,115.9ZM587.7,112.6L588.9,115.9L586.4,115.8ZM603.8,112.7L604.8,115.9L602.3,115.8ZM620.4,112.8L621.1,116.2L618.7,115.7ZM637.5,113.1L637.7,116.6L635.4,115.8ZM654.7,113.8L654.4,117.2L652.1,116.0ZM671.7,114.6L670.9,117.9L668.8,116.5ZM688.4,115.4L687.1,118.6L685.3,116.9ZM704.8,116.3L703.2,119.3L701.5,117.5ZM720.9,117.0L719.1,119.9L717.6,117.9ZM736.9,117.7L734.9,120.4L733.5,118.3ZM752.7,118.2L750.6,120.9L749.3,118.7ZM768.5,118.7L766.2,121.3L765.1,119.0ZM784.2,119.1L781.8,121.6L780.8,119.3ZM799.9,119.5L797.4,121.9L796.4,119.6ZM815.5,119.8L812.9,122.1L812.0,119.8ZM343.9,135.2L347.3,134.9L346.5,137.3ZM359.4,134.9L362.9,134.7L362.1,137.1ZM375.0,134.6L378.5,134.5L377.6,136.8ZM390.7,134.2L394.1,134.2L393.2,136.5ZM406.4,133.7L409.8,133.9L408.7,136.2ZM422.2,133.1L425.6,133.5L424.4,135.8ZM438.1,132.5L441.5,133.1L440.1,135.2ZM454.2,131.6L457.5,132.6L456.0,134.6ZM470.6,130.7L473.8,131.9L472.1,133.8ZM487.4,129.6L490.3,131.3L488.4,132.9ZM504.6,128.6L507.2,130.8L505.0,132.0ZM522.2,127.8L524.4,130.4L522.0,131.2ZM539.9,127.4L541.4,130.4L539.0,130.7ZM556.8,127.3L558.0,130.5L555.5,130.5ZM572.4,127.3L573.6,130.5L571.1,130.5ZM587.2,127.3L588.5,130.5L586.0,130.5ZM602.8,127.3L604.1,130.5L601.6,130.5ZM619.8,127.4L620.6,130.7L618.2,130.4ZM637.4,127.8L637.6,131.2L635.2,130.4ZM655.0,128.6L654.6,132.0L652.4,130.8ZM672.2,129.6L671.2,132.9L669.3,131.3ZM689.0,130.7L687.5,133.8L685.8,132.0ZM705.4,131.6L703.6,134.6L702.1,132.6ZM721.5,132.5L719.5,135.2L718.1,133.1ZM737.4,133.2L735.2,135.8L734.0,133.6ZM753.2,133.7L750.9,136.2L749.8,133.9ZM768.9,134.2L766.4,136.6L765.5,134.2ZM784.6,134.6L782.0,136.9L781.1,134.5ZM800.2,134.9L797.5,137.1L796.7,134.7ZM815.7,135.2L813.1,137.3L812.3,134.9ZM343.6,150.6L347.0,150.1L346.4,152.6ZM359.2,150.4L362.6,150.0L361.9,152.4ZM374.7,150.1L378.1,149.8L377.4,152.2ZM390.3,149.7L393.7,149.5L393.0,151.9ZM405.9,149.3L409.4,149.2L408.5,151.6ZM421.6,148.8L425.1,148.9L424.1,151.2ZM437.4,148.1L440.9,148.4L439.8,150.7ZM453.4,147.3L456.8,147.9L455.5,150.0ZM469.7,146.2L473.0,147.2L471.5,149.1ZM486.5,144.9L489.6,146.4L487.8,148.1ZM503.9,143.6L506.7,145.6L504.6,147.0ZM522.1,142.5L524.3,145.1L521.9,145.9ZM540.6,142.0L542.0,145.1L539.5,145.2ZM558.3,142.1L559.1,145.4L556.6,145.0ZM573.4,142.0L574.3,145.3L571.8,145.1ZM586.2,142.0L587.8,145.1L585.3,145.3ZM601.3,142.1L603.0,145.0L600.6,145.4ZM619.0,142.0L620.1,145.2L617.6,145.1ZM637.5,142.5L637.7,145.9L635.4,145.1ZM655.7,143.6L655.0,147.0L652.9,145.6ZM673.1,144.9L671.8,148.1L670.0,146.4ZM689.9,146.2L688.1,149.1L686.6,147.2ZM706.2,147.3L704.1,150.0L702.8,147.9ZM722.2,148.1L719.8,150.7L718.7,148.4ZM738.0,148.8L735.5,151.2L734.5,148.9ZM753.7,149.3L751.1,151.6L750.2,149.2ZM769.3,149.7L766.6,151.9L765.9,149.5ZM784.9,150.1L782.2,152.2L781.5,149.8ZM800.4,150.4L797.7,152.4L797.0,150.0ZM816.0,150.6L813.2,152.6L812.6,150.1ZM343.4,166.1L346.8,165.4L346.4,167.8ZM358.9,165.9L362.3,165.2L361.8,167.7ZM374.4,165.7L377.8,165.1L377.3,167.5ZM390.0,165.4L393.4,164.9L392.8,167.3ZM405.5,165.1L409.0,164.7L408.3,167.1ZM421.2,164.6L424.6,164.4L423.9,166.8ZM436.8,164.1L440.3,164.0L439.4,166.3ZM452.7,163.3L456.1,163.4L455.1,165.7ZM468.7,162.2L472.1,162.7L470.9,164.9ZM485.2,160.9L488.5,161.8L487.0,163.8ZM502.6,159.1L505.6,160.8L503.7,162.4ZM521.3,157.4L523.7,159.9L521.4,160.8ZM541.5,156.6L542.6,159.9L540.1,159.8ZM560.5,157.2L560.6,160.7L558.3,159.8ZM575.3,157.0L575.6,160.4L573.2,159.7ZM584.3,157.0L586.4,159.7L584.0,160.4ZM599.1,157.2L601.3,159.8L599.0,160.7ZM618.2,156.6L619.5,159.8L617.0,159.9ZM638.3,157.4L638.2,160.8L635.9,159.9ZM657.1,159.1L655.9,162.4L654.0,160.8ZM674.4,160.9L672.6,163.8L671.1,161.8ZM690.9,162.2L688.7,164.9L687.5,162.7ZM707.0,163.3L704.5,165.7L703.5,163.4ZM722.8,164.1L720.2,166.3L719.3,164.0ZM738.5,164.7L735.7,166.8L735.0,164.4ZM754.1,165.1L751.3,167.1L750.6,164.7ZM769.6,165.4L766.8,167.3L766.2,164.9ZM785.2,165.7L782.3,167.5L781.8,165.1ZM800.7,165.9L797.8,167.7L797.3,165.2ZM816.2,166.1L813.2,167.8L812.8,165.4ZM343.3,181.6L346.6,180.7L346.3,183.1ZM358.8,181.5L362.1,180.6L361.8,183.1ZM374.3,181.3L377.6,180.5L377.3,183.0ZM389.8,181.2L393.1,180.4L392.8,182.8ZM405.3,181.0L408.6,180.2L408.2,182.7ZM420.8,180.7L424.2,180.0L423.7,182.5ZM436.3,180.3L439.7,179.7L439.2,182.2ZM452.0,179.7L455.4,179.3L454.7,181.7ZM467.7,178.9L471.1,178.8L470.3,181.1ZM483.7,177.8L487.1,178.0L486.1,180.2ZM500.4,175.8L503.7,176.7L502.3,178.7ZM579.5,173.7L578.5,176.9L576.5,175.3ZM580.0,173.7L583.0,175.4L581.1,177.0ZM659.2,175.9L657.3,178.7L655.9,176.7ZM675.9,177.8L673.5,180.2L672.5,178.0ZM691.9,179.0L689.3,181.2L688.5,178.8ZM707.6,179.7L704.9,181.8L704.2,179.3ZM723.3,180.3L720.4,182.2L719.9,179.7ZM738.8,180.7L735.9,182.5L735.4,180.0ZM754.3,181.0L751.4,182.7L751.0,180.2ZM769.8,181.2L766.8,182.8L766.5,180.4ZM785.3,181.3L782.3,183.0L782.0,180.5ZM800.8,181.5L797.8,183.1L797.5,180.6ZM816.3,181.6L813.3,183.1L813.0,180.7ZM343.2,197.1L346.5,196.0L346.4,198.5ZM358.7,197.1L361.9,195.9L361.9,198.4ZM374.2,197.0L377.4,195.9L377.3,198.4ZM389.6,197.0L392.9,195.9L392.8,198.4ZM405.1,196.9L408.4,195.8L408.3,198.3ZM420.6,196.8L423.9,195.8L423.7,198.2ZM436.1,196.7L439.3,195.7L439.2,198.2ZM451.6,196.5L454.8,195.5L454.6,198.0ZM467.0,196.3L470.4,195.3L470.1,197.8ZM482.6,195.8L485.9,195.0L485.6,197.5ZM584.0,195.0L581.2,196.8L580.6,194.4ZM575.6,195.0L578.9,194.4L578.4,196.9ZM677.0,195.8L674.0,197.5L673.7,195.0ZM692.6,196.3L689.5,197.8L689.2,195.3ZM708.0,196.5L705.0,198.0L704.8,195.5ZM723.5,196.7L720.4,198.2L720.3,195.7ZM739.0,196.8L735.9,198.2L735.8,195.8ZM754.5,196.9L751.3,198.3L751.2,195.8ZM770.0,197.0L766.8,198.4L766.7,195.9ZM785.4,197.0L782.3,198.4L782.2,195.9ZM800.9,197.1L797.7,198.4L797.7,195.9ZM816.4,197.1L813.2,198.5L813.1,196.0ZM343.2,212.6L346.4,211.3L346.5,213.8ZM358.7,212.7L361.8,211.3L362.0,213.8ZM374.2,212.8L377.3,211.3L377.4,213.8ZM389.7,212.8L392.8,211.4L392.9,213.9ZM405.1,212.9L408.2,211.5L408.4,214.0ZM420.6,213.0L423.7,211.6L423.9,214.0ZM436.1,213.2L439.2,211.7L439.4,214.2ZM451.6,213.5L454.6,211.9L454.9,214.4ZM467.1,213.8L470.1,212.2L470.5,214.6ZM482.7,214.4L485.6,212.6L486.1,215.1ZM583.7,215.9L580.2,216.1L581.0,213.7ZM575.9,215.9L578.6,213.7L579.4,216.1ZM676.9,214.4L673.5,215.1L674.0,212.6ZM692.5,213.8L689.1,214.6L689.5,212.1ZM708.0,213.5L704.7,214.4L705.0,211.9ZM723.5,213.2L720.2,214.2L720.4,211.7ZM739.0,213.0L735.7,214.0L735.9,211.6ZM754.5,212.9L751.2,214.0L751.4,211.5ZM769.9,212.8L766.7,213.9L766.8,211.4ZM785.4,212.8L782.2,213.8L782.3,211.3ZM800.9,212.7L797.6,213.8L797.8,211.3ZM816.4,212.6L813.1,213.8L813.2,211.3ZM343.3,228.2L346.3,226.6L346.6,229.1ZM358.8,228.3L361.8,226.7L362.1,229.1ZM374.3,228.5L377.3,226.8L377.6,229.3ZM389.8,228.6L392.8,226.9L393.1,229.4ZM405.3,228.9L408.2,227.1L408.7,229.6ZM420.8,229.2L423.7,227.3L424.2,229.8ZM436.4,229.6L439.2,227.7L439.8,230.1ZM452.1,230.2L454.8,228.1L455.5,230.5ZM467.9,231.1L470.4,228.8L471.3,231.1ZM484.0,232.3L486.2,229.7L487.4,232.0ZM500.8,234.3L502.6,231.3L504.1,233.2ZM578.5,236.6L575.7,234.6L577.8,233.2ZM581.0,236.6L581.8,233.2L583.9,234.6ZM658.8,234.2L655.5,233.2L657.0,231.3ZM675.7,232.3L672.2,232.0L673.4,229.7ZM691.7,231.1L688.3,231.1L689.2,228.8ZM707.5,230.2L704.1,230.5L704.8,228.1ZM723.2,229.6L719.8,230.1L720.4,227.7ZM738.8,229.2L735.4,229.8L735.9,227.3ZM754.3,228.9L750.9,229.6L751.4,227.1ZM769.8,228.6L766.5,229.4L766.8,226.9ZM785.3,228.4L782.0,229.3L782.3,226.8ZM800.8,228.3L797.5,229.1L797.8,226.7ZM816.3,228.2L813.0,229.1L813.3,226.6ZM343.5,243.7L346.4,241.9L346.8,244.3ZM359.0,243.9L361.9,242.0L362.3,244.5ZM374.5,244.1L377.3,242.2L377.9,244.6ZM390.0,244.4L392.8,242.4L393.4,244.8ZM405.6,244.7L408.4,242.7L409.0,245.1ZM421.2,245.2L423.9,243.0L424.7,245.4ZM436.9,245.8L439.5,243.5L440.4,245.8ZM452.8,246.6L455.2,244.1L456.2,246.4ZM468.9,247.6L471.0,244.9L472.3,247.1ZM485.5,249.0L487.1,246.0L488.7,248.0ZM502.9,250.7L503.9,247.4L505.8,249.0ZM521.5,252.3L521.5,248.9L523.8,249.8ZM541.3,253.0L540.0,249.8L542.5,249.8ZM560.0,252.5L557.9,249.8L560.3,249.1ZM574.8,252.7L572.8,249.9L575.3,249.3ZM584.8,252.7L584.3,249.3L586.7,249.9ZM599.6,252.5L599.3,249.1L601.7,249.8ZM618.4,253.0L617.1,249.8L619.6,249.8ZM638.1,252.3L635.8,249.8L638.1,248.9ZM656.8,250.7L653.8,249.0L655.7,247.4ZM674.1,249.0L670.9,248.0L672.5,246.0ZM690.7,247.6L687.3,247.1L688.6,244.9ZM706.8,246.6L703.4,246.4L704.4,244.1ZM722.7,245.8L719.2,245.8L720.1,243.5ZM738.4,245.2L734.9,245.4L735.7,243.0ZM754.0,244.7L750.6,245.1L751.2,242.7ZM769.6,244.4L766.2,244.8L766.8,242.4ZM785.1,244.1L781.7,244.6L782.3,242.2ZM800.6,243.9L797.3,244.5L797.7,242.0ZM816.1,243.7L812.8,244.3L813.2,241.9ZM343.7,259.1L346.4,257.1L347.1,259.6ZM359.2,259.4L361.9,257.3L362.6,259.7ZM374.8,259.7L377.5,257.6L378.2,259.9ZM390.4,260.0L393.0,257.8L393.8,260.2ZM406.0,260.5L408.5,258.1L409.4,260.5ZM421.7,261.0L424.1,258.6L425.2,260.8ZM437.6,261.7L439.8,259.1L441.0,261.3ZM453.6,262.5L455.6,259.8L457.0,261.9ZM469.9,263.6L471.6,260.6L473.2,262.6ZM486.7,264.8L487.9,261.6L489.8,263.3ZM504.1,266.1L504.7,262.7L506.8,264.0ZM522.1,267.2L521.9,263.7L524.3,264.5ZM540.5,267.6L539.4,264.4L541.9,264.5ZM558.0,267.6L556.4,264.5L558.8,264.2ZM573.2,267.6L571.6,264.5L574.1,264.3ZM586.4,267.6L585.5,264.3L588.0,264.5ZM601.6,267.6L600.8,264.2L603.2,264.5ZM619.1,267.6L617.7,264.5L620.2,264.4ZM637.5,267.2L635.3,264.5L637.7,263.7ZM655.5,266.1L652.8,264.0L654.9,262.7ZM672.9,264.8L669.8,263.3L671.7,261.6ZM689.7,263.6L686.4,262.6L688.0,260.6ZM706.0,262.5L702.6,261.9L704.0,259.8ZM722.0,261.7L718.6,261.3L719.8,259.1ZM737.9,261.0L734.4,260.8L735.5,258.6ZM753.6,260.5L750.2,260.5L751.1,258.1ZM769.2,260.0L765.8,260.2L766.6,257.8ZM784.8,259.7L781.4,259.9L782.1,257.6ZM800.4,259.4L797.0,259.7L797.7,257.3ZM815.9,259.1L812.5,259.6L813.2,257.1ZM343.9,274.6L346.6,272.4L347.3,274.8ZM359.5,274.9L362.1,272.6L362.9,275.0ZM375.1,275.2L377.6,272.9L378.5,275.2ZM390.8,275.6L393.2,273.2L394.2,275.5ZM406.5,276.1L408.8,273.5L409.9,275.8ZM422.3,276.6L424.5,274.0L425.7,276.2ZM438.2,277.3L440.2,274.5L441.6,276.6ZM454.3,278.1L456.1,275.2L457.6,277.1ZM470.7,279.1L472.1,275.9L473.9,277.7ZM487.5,280.1L488.5,276.8L490.4,278.3ZM504.7,281.1L505.1,277.7L507.3,278.8ZM522.2,281.8L522.0,278.4L524.4,279.2ZM539.7,282.2L538.9,278.9L541.4,279.2ZM556.6,282.3L555.4,279.1L557.9,279.1ZM572.3,282.3L571.0,279.1L573.5,279.1ZM587.3,282.3L586.1,279.1L588.6,279.1ZM603.0,282.3L601.7,279.1L604.2,279.1ZM619.9,282.2L618.3,279.2L620.7,278.9ZM637.4,281.8L635.3,279.2L637.6,278.4ZM654.9,281.1L652.3,278.8L654.5,277.7ZM672.1,280.1L669.2,278.3L671.1,276.8ZM688.9,279.1L685.7,277.7L687.5,275.9ZM705.3,278.1L702.0,277.1L703.5,275.2ZM721.4,277.3L718.0,276.6L719.4,274.5ZM737.3,276.6L733.9,276.2L735.1,274.0ZM753.1,276.0L749.7,275.8L750.8,273.5ZM768.9,275.6L765.4,275.5L766.4,273.2ZM784.5,275.2L781.1,275.2L782.0,272.9ZM800.1,274.9L796.7,275.0L797.5,272.6ZM815.7,274.6L812.3,274.8L813.0,272.4ZM344.2,289.9L346.7,287.6L347.6,289.9ZM359.8,290.2L362.3,287.8L363.2,290.1ZM375.5,290.6L377.8,288.1L378.9,290.4ZM391.2,291.0L393.4,288.4L394.6,290.7ZM406.9,291.5L409.1,288.8L410.3,291.0ZM422.8,292.1L424.8,289.3L426.2,291.3ZM438.8,292.7L440.6,289.8L442.1,291.8ZM455.0,293.4L456.5,290.4L458.2,292.2ZM471.3,294.3L472.5,291.0L474.4,292.7ZM488.0,295.1L488.8,291.7L490.9,293.2ZM504.9,295.9L505.3,292.4L507.5,293.6ZM522.0,296.5L521.8,293.0L524.2,293.8ZM539.1,296.8L538.4,293.4L540.9,293.9ZM555.7,296.9L554.7,293.7L557.2,293.8ZM571.9,297.0L570.7,293.7L573.2,293.8ZM587.7,297.0L586.4,293.8L588.9,293.7ZM603.9,296.9L602.4,293.8L604.9,293.7ZM620.5,296.8L618.7,293.9L621.2,293.4ZM637.6,296.4L635.4,293.8L637.8,293.0ZM654.7,295.9L652.1,293.6L654.3,292.4ZM671.6,295.1L668.7,293.2L670.8,291.7ZM688.3,294.2L685.2,292.7L687.1,291.0ZM704.7,293.4L701.4,292.2L703.1,290.4ZM720.8,292.7L717.5,291.8L719.0,289.8ZM736.8,292.1L733.4,291.3L734.8,289.3ZM752.7,291.5L749.3,291.0L750.5,288.8ZM768.4,291.0L765.0,290.7L766.2,288.4ZM784.1,290.6L780.7,290.4L781.8,288.1ZM799.8,290.2L796.4,290.1L797.3,287.8ZM815.4,289.9L812.0,289.9L812.9,287.6ZM344.5,305.2L346.9,302.7L347.9,305.0ZM360.2,305.6L362.4,303.0L363.6,305.2ZM375.9,305.9L378.0,303.3L379.3,305.5ZM391.6,306.4L393.7,303.6L395.0,305.8ZM407.4,306.8L409.4,304.0L410.8,306.1ZM423.3,307.4L425.1,304.4L426.6,306.4ZM439.4,308.0L440.9,304.9L442.6,306.8ZM455.5,308.6L456.8,305.5L458.6,307.2ZM471.9,309.3L472.9,306.0L474.8,307.6ZM488.4,310.0L489.1,306.6L491.2,308.0ZM505.1,310.6L505.4,307.2L507.6,308.3ZM521.9,311.1L521.7,307.6L524.1,308.4ZM538.7,311.4L538.1,308.0L540.6,308.5ZM555.3,311.6L554.4,308.2L556.9,308.5ZM571.7,311.6L570.5,308.4L573.0,308.5ZM588.0,311.6L586.6,308.5L589.1,308.4ZM604.3,311.6L602.7,308.5L605.2,308.2ZM620.9,311.4L619.0,308.5L621.5,308.0ZM637.7,311.1L635.5,308.4L637.9,307.6ZM654.5,310.6L652.0,308.2L654.2,307.2ZM671.2,310.0L668.4,308.0L670.5,306.6ZM687.7,309.3L684.8,307.6L686.7,306.0ZM704.1,308.6L701.0,307.2L702.8,305.4ZM720.2,308.0L717.0,306.8L718.7,304.9ZM736.3,307.4L733.0,306.4L734.5,304.4ZM752.2,306.8L748.8,306.1L750.2,304.0ZM768.0,306.4L764.6,305.8L765.9,303.6ZM783.7,305.9L780.3,305.5L781.6,303.3ZM799.4,305.6L796.0,305.2L797.2,303.0ZM815.1,305.2L811.7,305.0L812.7,302.7ZM344.8,320.5L347.1,317.8L348.2,320.0ZM360.5,320.8L362.7,318.1L363.9,320.3ZM376.3,321.2L378.3,318.4L379.6,320.5ZM392.0,321.6L394.0,318.8L395.4,320.8ZM407.9,322.1L409.7,319.1L411.2,321.1ZM423.8,322.6L425.4,319.5L427.1,321.4ZM439.9,323.1L441.3,320.0L443.0,321.8ZM456.0,323.7L457.2,320.5L459.1,322.1ZM472.3,324.3L473.2,320.9L475.2,322.4ZM488.8,324.8L489.3,321.4L491.5,322.7ZM505.3,325.3L505.5,321.9L507.8,322.9ZM521.9,325.7L521.8,322.3L524.1,323.1ZM538.5,326.0L538.0,322.6L540.5,323.2ZM555.1,326.2L554.3,322.9L556.7,323.2ZM571.6,326.3L570.5,323.0L573.0,323.1ZM588.0,326.3L586.6,323.1L589.1,323.0ZM604.5,326.2L602.9,323.2L605.3,322.9ZM621.1,326.0L619.1,323.2L621.6,322.6ZM637.7,325.7L635.5,323.1L637.8,322.3ZM654.3,325.3L651.8,322.9L654.1,321.9ZM670.9,324.8L668.1,322.7L670.3,321.4ZM687.3,324.3L684.4,322.4L686.4,320.9ZM703.6,323.7L700.5,322.1L702.4,320.5ZM719.7,323.1L716.6,321.8L718.3,320.0ZM735.8,322.6L732.5,321.4L734.2,319.5ZM751.7,322.1L748.4,321.1L749.9,319.1ZM767.6,321.6L764.2,320.8L765.7,318.8ZM783.4,321.2L780.0,320.5L781.3,318.4ZM799.1,320.8L795.7,320.3L796.9,318.1ZM814.8,320.5L811.4,320.0L812.5,317.8ZM345.2,335.6L347.3,332.9L348.5,335.1ZM360.9,336.0L362.9,333.2L364.2,335.3ZM376.6,336.4L378.5,333.5L380.0,335.5ZM392.5,336.8L394.2,333.8L395.8,335.8ZM408.3,337.2L409.9,334.2L411.6,336.1ZM424.3,337.7L425.7,334.6L427.5,336.4ZM440.4,338.2L441.6,335.0L443.4,336.7ZM456.5,338.7L457.5,335.4L459.5,336.9ZM472.7,339.2L473.5,335.8L475.6,337.2ZM489.1,339.7L489.5,336.3L491.7,337.5ZM505.5,340.1L505.7,336.7L508.0,337.6ZM522.0,340.4L521.8,337.0L524.2,337.8ZM538.5,340.7L538.0,337.3L540.5,337.8ZM555.1,340.9L554.2,337.5L556.7,337.8ZM571.6,340.9L570.5,337.7L572.9,337.8ZM588.0,340.9L586.7,337.8L589.2,337.7ZM604.5,340.9L602.9,337.8L605.4,337.5ZM621.1,340.7L619.1,337.8L621.6,337.3ZM637.6,340.4L635.4,337.8L637.8,337.0ZM654.1,340.1L651.6,337.6L653.9,336.6ZM670.5,339.7L667.9,337.5L670.1,336.3ZM686.9,339.2L684.0,337.2L686.1,335.8ZM703.1,338.7L700.1,336.9L702.1,335.4ZM719.3,338.2L716.2,336.7L718.0,335.0ZM735.3,337.7L732.1,336.4L733.9,334.6ZM751.3,337.2L748.0,336.1L749.7,334.2ZM767.1,336.8L763.8,335.8L765.4,333.8ZM783.0,336.4L779.6,335.5L781.1,333.5ZM798.7,336.0L795.4,335.3L796.7,333.2ZM814.4,335.6L811.1,335.1L812.3,332.9ZM345.5,350.8L347.5,347.9L348.9,350.0ZM361.2,351.1L363.1,348.2L364.6,350.2ZM377.0,351.5L378.8,348.5L380.3,350.5ZM392.9,351.9L394.5,348.8L396.1,350.7ZM408.8,352.3L410.2,349.2L412.0,351.0ZM424.7,352.7L426.0,349.5L427.8,351.3ZM440.8,353.2L441.9,349.9L443.8,351.5ZM456.9,353.6L457.8,350.3L459.8,351.8ZM473.1,354.1L473.7,350.7L475.9,352.0ZM489.4,354.5L489.8,351.1L492.0,352.2ZM505.8,354.8L505.8,351.4L508.2,352.3ZM522.2,355.1L522.0,351.7L524.4,352.5ZM538.7,355.4L538.1,352.0L540.6,352.5ZM555.1,355.5L554.3,352.2L556.8,352.5ZM571.6,355.6L570.5,352.3L573.0,352.5ZM588.0,355.6L586.6,352.5L589.1,352.3ZM604.5,355.5L602.8,352.5L605.3,352.2ZM621.0,355.4L619.0,352.5L621.5,352.0ZM637.4,355.1L635.3,352.5L637.6,351.7ZM653.8,354.8L651.4,352.3L653.8,351.4ZM670.2,354.5L667.6,352.2L669.8,351.1ZM686.5,354.1L683.7,352.0L685.9,350.7ZM702.7,353.6L699.8,351.8L701.8,350.3ZM718.8,353.2L715.8,351.5L717.7,349.9ZM734.9,352.7L731.8,351.3L733.6,349.5ZM750.8,352.3L747.7,351.0L749.4,349.2ZM766.7,351.9L763.5,350.7L765.1,348.8ZM782.6,351.5L779.3,350.5L780.8,348.5ZM798.4,351.1L795.0,350.2L796.5,348.2ZM814.1,350.8L810.7,350.0L812.1,347.9ZM345.8,365.8L347.7,362.9L349.2,365.0ZM361.6,366.2L363.3,363.2L364.9,365.2ZM377.4,366.5L379.0,363.5L380.6,365.4ZM393.3,366.9L394.7,363.8L396.4,365.6ZM409.2,367.3L410.5,364.1L412.3,365.9ZM425.2,367.7L426.3,364.5L428.2,366.1ZM441.2,368.1L442.1,364.8L444.1,366.3ZM457.3,368.5L458.0,365.2L460.1,366.5ZM473.5,368.9L474.0,365.5L476.2,366.7ZM489.7,369.3L490.0,365.8L492.2,366.9ZM506.0,369.6L506.0,366.2L508.4,367.0ZM522.4,369.8L522.1,366.4L524.5,367.1ZM538.8,370.1L538.2,366.7L540.7,367.2ZM555.2,370.2L554.3,366.9L556.8,367.2ZM571.6,370.3L570.5,367.0L573.0,367.1ZM588.0,370.3L586.6,367.1L589.1,367.0ZM604.4,370.2L602.8,367.2L605.3,366.9ZM620.8,370.1L619.0,367.2L621.4,366.7ZM637.2,369.8L635.1,367.1L637.5,366.4ZM653.6,369.6L651.3,367.0L653.6,366.1ZM669.9,369.3L667.4,366.9L669.6,365.8ZM686.1,368.9L683.5,366.7L685.6,365.5ZM702.3,368.5L699.5,366.5L701.6,365.2ZM718.4,368.1L715.5,366.3L717.5,364.8ZM734.5,367.7L731.4,366.1L733.3,364.5ZM750.4,367.3L747.3,365.9L749.1,364.1ZM766.3,366.9L763.2,365.6L764.9,363.8ZM782.2,366.5L779.0,365.4L780.6,363.5ZM798.0,366.2L794.7,365.2L796.3,363.2ZM813.8,365.8L810.4,365.0L811.9,362.9ZM346.2,380.9L347.9,377.9L349.4,379.9ZM361.9,381.2L363.5,378.2L365.2,380.1ZM377.8,381.6L379.2,378.5L381.0,380.3ZM393.6,381.9L395.0,378.7L396.8,380.5ZM409.6,382.3L410.7,379.1L412.6,380.7ZM425.5,382.7L426.5,379.4L428.5,380.9ZM441.6,383.0L442.4,379.7L444.4,381.1ZM457.7,383.4L458.3,380.0L460.4,381.3ZM473.8,383.7L474.2,380.3L476.4,381.5ZM490.0,384.0L490.2,380.6L492.5,381.6ZM506.3,384.3L506.2,380.9L508.5,381.7ZM522.6,384.6L522.2,381.1L524.6,381.8ZM538.9,384.7L538.3,381.4L540.7,381.8ZM555.3,384.9L554.4,381.5L556.9,381.8ZM571.6,384.9L570.5,381.7L573.0,381.8ZM588.0,384.9L586.6,381.8L589.1,381.7ZM604.3,384.9L602.7,381.8L605.2,381.5ZM620.7,384.7L618.9,381.8L621.3,381.4ZM637.0,384.6L635.0,381.8L637.4,381.1ZM653.3,384.3L651.1,381.7L653.4,380.9ZM669.6,384.0L667.1,381.6L669.4,380.6ZM685.8,383.7L683.2,381.5L685.4,380.3ZM701.9,383.4L699.2,381.3L701.3,380.0ZM718.0,383.0L715.2,381.1L717.2,379.7ZM734.1,382.7L731.1,380.9L733.1,379.4ZM750.0,382.3L747.0,380.7L748.9,379.1ZM766.0,381.9L762.8,380.5L764.6,378.7ZM781.8,381.6L778.7,380.3L780.4,378.5ZM797.7,381.2L794.4,380.1L796.1,378.2ZM813.4,380.9L810.2,379.9L811.7,377.9Z" fill="#000"/>
</g>
<rect x="354.30" y="26.85" width="450.40" height="364.05" fill="none" stroke="#707070" stroke-width="1.30"/>
<path d="M415.48,390.90v-4.30M415.48,26.85v4.30M579.00,390.90v-4.30M579.00,26.85v4.30M742.52,390.90v-4.30M742.52,26.85v4.30M354.30,50.40h4.30M804.70,50.40h-4.30M354.30,127.30h4.30M804.70,127.30h-4.30M354.30,204.20h4.30M804.70,204.20h-4.30M354.30,281.10h4.30M804.70,281.10h-4.30M354.30,358.00h4.30M804.70,358.00h-4.30" stroke="#555" stroke-width="0.90" fill="none"/>
<text transform="translate(328.29,62.60) scale(1.0900,1)" font-family="'DejaVu Sans',sans-serif" font-size="32.60" fill="#000">4</text>
<text transform="translate(329.80,139.50) scale(1.0900,1)" font-family="'DejaVu Sans',sans-serif" font-size="32.60" fill="#000">2</text>
<text transform="translate(328.65,216.40) scale(1.0900,1)" font-family="'DejaVu Sans',sans-serif" font-size="32.60" fill="#000">0</text>
<text transform="translate(317.01,293.30) scale(1.0900,1)" font-family="'DejaVu Sans',sans-serif" font-size="32.60" fill="#000">-2</text>
<text transform="translate(315.50,370.20) scale(1.0900,1)" font-family="'DejaVu Sans',sans-serif" font-size="32.60" fill="#000">-4</text>
<linearGradient id="cbg1" x1="0" y1="0" x2="0" y2="1"><stop offset="0.0000" stop-color="#620874"/><stop offset="0.0250" stop-color="#740468"/><stop offset="0.0500" stop-color="#86005c"/><stop offset="0.0750" stop-color="#99004e"/><stop offset="0.1000" stop-color="#ac0040"/><stop offset="0.1250" stop-color="#bf0434"/><stop offset="0.1500" stop-color="#d20828"/><stop offset="0.1750" stop-color="#e3111c"/><stop offset="0.2000" stop-color="#f41a10"/><stop offset="0.2250" stop-color="#fa3108"/><stop offset="0.2500" stop-color="#ff4800"/><stop offset="0.2750" stop-color="#ff6200"/><stop offset="0.3000" stop-color="#ff7c00"/><stop offset="0.3250" stop-color="#ff9600"/><stop offset="0.3500" stop-color="#ffb000"/><stop offset="0.3750" stop-color="#facb0e"/><stop offset="0.4000" stop-color="#f4e61c"/><stop offset="0.4250" stop-color="#daef2e"/><stop offset="0.4500" stop-color="#c0f840"/><stop offset="0.4750" stop-color="#a2fa5a"/><stop offset="0.5000" stop-color="#84fc74"/><stop offset="0.5250" stop-color="#6afc91"/><stop offset="0.5500" stop-color="#50fcae"/><stop offset="0.5750" stop-color="#34f4d4"/><stop offset="0.6000" stop-color="#20e6f2"/><stop offset="0.6250" stop-color="#2ad9f7"/><stop offset="0.6500" stop-color="#34ccfc"/><stop offset="0.6750" stop-color="#44befe"/><stop offset="0.7000" stop-color="#54b0ff"/><stop offset="0.7250" stop-color="#66a8ff"/><stop offset="0.7500" stop-color="#78a0ff"/><stop offset="0.7750" stop-color="#8599fe"/><stop offset="0.8000" stop-color="#9292fc"/><stop offset="0.8250" stop-color="#9d96fc"/><stop offset="0.8500" stop-color="#a89afb"/><stop offset="0.8750" stop-color="#b2a4fa"/><stop offset="0.9000" stop-color="#bcaef9"/><stop offset="0.9250" stop-color="#c8bdf8"/><stop offset="0.9500" stop-color="#d4ccf7"/><stop offset="0.9750" stop-color="#e0ddf6"/><stop offset="1.0000" stop-color="#e9e9f6"/></linearGradient>
<rect x="820.30" y="86.10" width="11.50" height="291.50" fill="url(#cbg1)" stroke="#111" stroke-width="1.05"/>
<path d="M820.30,144.40h2.6M831.80,144.40h-2.6M820.30,202.70h2.6M831.80,202.70h-2.6M820.30,261.00h2.6M831.80,261.00h-2.6M820.30,319.30h2.6M831.80,319.30h-2.6" stroke="#111" stroke-width="1.0" fill="none"/>
<text transform="translate(834.10,97.60) scale(1.1000,1)" font-family="'DejaVu Sans',sans-serif" font-size="32.20" fill="#000">1</text>
<text transform="translate(835.70,155.90) scale(1.1000,1)" font-family="'DejaVu Sans',sans-serif" font-size="32.20" fill="#000">0.8</text>
<text transform="translate(835.70,214.20) scale(1.1000,1)" font-family="'DejaVu Sans',sans-serif" font-size="32.20" fill="#000">0.6</text>
<text transform="translate(835.70,272.50) scale(1.1000,1)" font-family="'DejaVu Sans',sans-serif" font-size="32.20" fill="#000">0.4</text>
<text transform="translate(835.70,330.80) scale(1.1000,1)" font-family="'DejaVu Sans',sans-serif" font-size="32.20" fill="#000">0.2</text>
<text transform="translate(835.70,389.10) scale(1.1000,1)" font-family="'DejaVu Sans',sans-serif" font-size="32.20" fill="#000">0</text>
<text transform="translate(232.65,45.88) scale(1.2104,1)" font-family="'DejaVu Sans',sans-serif" font-size="61.69" fill="#000">(</text>
<text transform="translate(260.06,43.05) scale(1.0475,1)" font-family="'DejaVu Sans',sans-serif" font-size="56.35" fill="#000">a</text>
<text transform="translate(294.06,45.88) scale(1.2249,1)" font-family="'DejaVu Sans',sans-serif" font-size="61.69" fill="#000">)</text>
<text transform="translate(274.96,214.96) scale(1.0825,1)" font-family="'DejaVu Sans',sans-serif" font-size="56.56" fill="#000">y</text>
<rect x="278.20" y="170.60" width="29.00" height="4.50" fill="#000"/>
<text transform="translate(561.98,487.70) scale(1.0577,1)" font-family="'DejaVu Sans',sans-serif" font-size="57.35" fill="#000">x</text>
<rect x="565.50" y="443.40" width="28.40" height="4.30" fill="#000"/>
<text transform="translate(397.04,425.30) scale(1.0564,1)" font-family="'DejaVu Sans',sans-serif" font-size="37.12" fill="#000">-4</text>
<text transform="translate(566.57,427.00) scale(1.1206,1)" font-family="'DejaVu Sans',sans-serif" font-size="33.40" fill="#000">0</text>
<text transform="translate(727.58,425.50) scale(1.0957,1)" font-family="'DejaVu Sans',sans-serif" font-size="36.85" fill="#000">4</text>
<clipPath id="clip2"><rect x="1117.70" y="23.00" width="434.80" height="360.80"/></clipPath>
<g clip-path="url(#clip2)">
<rect x="1117.70" y="23.00" width="434.80" height="360.80" fill="#e9e9f6"/>
<path fill="#e8e7f6" d="M1115.7,21.0 1555.2,21.0 1555.2,387.0 1115.7,387.0ZM1334.7,192.8 1333.7,196.5 1333.7,199.5 1334.7,203.0 1336.2,203.7 1337.6,201.0 1337.9,196.5 1337.1,193.5 1336.2,192.1Z"/>
<path fill="#e6e5f6" d="M1115.7,21.0 1555.2,21.0 1555.2,387.0 1115.7,387.0ZM1336.2,185.9 1334.7,186.3 1332.9,189.0 1331.8,193.5 1331.5,198.0 1331.8,202.5 1333.0,207.0 1334.7,209.5 1336.2,209.9 1337.7,208.7 1339.1,205.5 1339.7,202.5 1340.1,198.0 1339.8,193.5 1339.2,190.5 1337.7,187.1Z"/>
<path fill="#e5e4f6" d="M1134.7,22.5 1137.7,21.0 1533.9,21.0 1544.7,26.6 1555.2,32.8 1555.2,363.0 1543.2,370.0 1529.7,376.8 1517.7,381.9 1503.1,387.0 1168.5,387.0 1154.7,382.2 1141.2,376.5 1127.7,369.7 1115.7,362.6 1115.7,33.2 1124.7,27.8ZM1334.7,179.6 1332.8,181.5 1331.7,183.6 1330.9,186.0 1329.7,192.0 1329.4,199.5 1330.2,206.9 1331.7,212.2 1333.2,214.9 1334.7,216.2 1336.2,216.4 1337.7,215.6 1339.2,213.7 1340.7,209.9 1342.0,202.5 1342.1,195.0 1341.1,187.5 1339.2,182.1 1337.7,180.2 1336.2,179.4Z"/>
<path fill="#e3e2f6" d="M1213.7,24.0 1223.7,23.3 1234.2,23.1 1244.7,23.3 1256.7,24.2 1276.2,26.6 1316.7,33.8 1327.2,34.9 1336.2,35.2 1345.2,34.8 1355.7,33.7 1394.7,26.7 1415.7,24.1 1427.7,23.3 1438.2,23.1 1450.2,23.4 1460.7,24.3 1474.2,26.1 1487.7,28.9 1499.7,32.2 1511.7,36.4 1523.7,41.5 1534.2,46.8 1544.7,52.9 1555.2,60.1 1555.2,335.7 1544.7,342.9 1534.2,349.0 1523.7,354.3 1511.7,359.4 1499.7,363.6 1487.7,366.9 1475.7,369.4 1462.2,371.4 1451.7,372.3 1439.7,372.7 1429.2,372.6 1417.2,371.8 1396.2,369.3 1354.2,361.9 1343.7,360.9 1334.7,360.6 1325.7,361.0 1315.2,362.2 1280.7,368.4 1264.2,370.9 1249.2,372.2 1234.2,372.7 1217.7,372.1 1201.2,370.3 1186.2,367.4 1171.2,363.3 1156.2,357.9 1142.7,351.8 1129.2,344.3 1115.7,335.2 1115.7,60.6 1126.2,53.4 1138.2,46.3 1150.2,40.4 1162.2,35.5 1175.7,31.1 1187.7,28.0 1199.7,25.8ZM1334.7,172.2 1333.2,173.2 1331.7,175.1 1330.2,178.2 1329.2,181.5 1327.7,190.5 1327.4,201.0 1328.3,210.0 1330.2,217.6 1331.7,220.7 1333.2,222.6 1334.7,223.6 1336.2,223.8 1337.7,223.2 1339.2,221.7 1340.7,219.2 1342.2,215.1 1343.3,210.0 1343.9,205.5 1344.2,195.0 1343.8,189.0 1343.1,184.5 1342.2,180.7 1340.9,177.0 1339.2,174.1 1337.7,172.6 1336.2,172.0Z"/>
<path fill="#e2e0f6" d="M1207.3,42.0 1219.2,41.1 1231.2,41.1 1243.2,41.8 1256.7,43.6 1267.2,45.6 1279.2,48.7 1289.7,51.9 1312.2,59.5 1319.7,61.7 1328.7,63.4 1336.2,63.8 1343.7,63.3 1352.7,61.5 1360.2,59.3 1391.7,48.9 1403.7,45.8 1414.2,43.7 1427.7,41.9 1439.7,41.1 1451.7,41.1 1463.7,41.9 1475.7,43.6 1487.7,46.1 1498.2,49.1 1510.2,53.3 1520.7,58.0 1531.2,63.5 1541.7,70.1 1550.7,76.7 1555.2,80.3 1555.2,315.5 1543.2,324.7 1531.2,332.3 1519.2,338.5 1505.7,344.2 1492.2,348.5 1477.2,352.0 1462.2,354.0 1447.2,354.8 1436.7,354.6 1427.7,353.9 1418.7,352.8 1408.2,351.0 1399.2,348.9 1388.7,346.0 1360.2,336.5 1352.7,334.3 1343.7,332.5 1336.2,332.0 1328.7,332.4 1319.7,334.1 1312.2,336.3 1289.7,343.9 1279.2,347.1 1267.2,350.2 1256.7,352.2 1244.7,353.9 1231.2,354.7 1217.7,354.6 1205.7,353.6 1193.7,351.8 1181.7,349.1 1171.2,346.0 1160.7,342.2 1150.2,337.5 1139.7,331.9 1129.2,325.2 1120.2,318.6 1115.7,314.9 1115.7,80.9 1124.7,73.8 1135.2,66.6 1145.7,60.6 1157.7,54.9 1169.7,50.3 1181.7,46.7 1193.7,44.0ZM1334.7,163.3 1333.2,164.1 1331.7,165.7 1330.2,168.2 1328.7,171.8 1327.7,175.5 1326.5,181.5 1325.8,187.5 1325.4,201.0 1326.3,213.0 1327.2,218.3 1328.7,224.0 1330.2,227.7 1331.7,230.1 1333.2,231.7 1334.7,232.5 1336.2,232.7 1337.7,232.1 1339.2,230.9 1340.7,228.9 1342.2,225.9 1343.7,221.3 1344.8,216.0 1345.6,210.0 1346.2,202.5 1346.2,195.0 1345.8,187.5 1345.1,181.5 1343.7,174.5 1342.2,169.9 1340.7,166.9 1339.2,164.9 1337.7,163.7 1336.2,163.1Z"/>
<path fill="#e0ddf6" d="M1216.0,54.0 1229.7,54.1 1241.7,55.1 1255.2,57.5 1268.7,61.1 1279.2,64.9 1289.7,69.4 1301.7,75.7 1324.2,88.9 1330.2,91.4 1334.7,92.3 1339.2,92.0 1345.2,89.9 1349.7,87.6 1365.8,78.0 1376.7,72.0 1387.2,67.0 1397.7,62.9 1408.2,59.5 1420.2,56.7 1432.2,54.8 1442.7,54.0 1454.7,54.0 1468.2,55.0 1481.7,57.3 1493.7,60.3 1505.7,64.4 1517.7,69.7 1529.7,76.4 1540.2,83.4 1547.7,89.3 1555.2,96.0 1555.2,299.8 1544.7,308.9 1532.7,317.6 1520.7,324.5 1508.7,330.1 1495.2,335.0 1481.7,338.5 1468.2,340.8 1454.7,341.8 1441.2,341.7 1427.7,340.4 1414.2,337.8 1400.7,334.0 1391.7,330.7 1381.2,326.0 1368.8,319.5 1346.7,306.6 1342.2,304.6 1337.7,303.6 1334.7,303.5 1331.7,304.0 1325.7,306.2 1302.8,319.5 1294.5,324.0 1283.7,329.1 1273.2,333.2 1262.7,336.5 1250.7,339.3 1240.2,340.9 1229.7,341.7 1216.2,341.8 1204.2,340.9 1190.7,338.7 1178.7,335.7 1166.7,331.7 1154.7,326.5 1142.7,319.9 1132.2,313.0 1123.3,306.0 1115.7,299.1 1115.7,96.7 1126.2,87.4 1136.7,79.7 1148.7,72.4 1160.7,66.6 1174.2,61.5 1187.7,57.7 1202.7,55.1ZM1333.2,151.3 1331.7,152.8 1330.2,155.1 1328.7,158.4 1327.2,163.0 1325.7,169.5 1324.4,178.5 1323.8,186.0 1323.4,195.0 1323.5,204.0 1324.6,219.0 1325.7,226.3 1327.2,232.8 1328.7,237.4 1330.2,240.7 1331.7,243.0 1333.2,244.5 1334.7,245.3 1336.2,245.5 1337.7,245.0 1339.2,243.8 1340.7,241.8 1342.2,239.0 1343.6,235.5 1345.2,229.7 1346.7,221.3 1347.6,213.0 1348.1,202.5 1348.1,192.0 1347.6,183.0 1346.7,174.5 1345.2,166.1 1343.7,160.7 1342.2,156.8 1340.7,154.0 1339.2,152.0 1337.7,150.8 1336.2,150.3 1334.7,150.5Z"/>
<path fill="#dedbf6" d="M1203.6,64.5 1213.2,63.7 1223.7,63.6 1234.2,64.3 1244.7,65.8 1255.2,68.1 1264.2,70.8 1273.2,74.3 1282.2,78.6 1291.2,83.8 1298.7,89.0 1306.2,95.3 1312.8,102.0 1317.5,108.0 1322.1,115.5 1324.5,121.5 1325.8,127.5 1326.2,132.0 1326.0,138.0 1322.7,169.3 1321.6,192.0 1321.7,207.0 1322.4,222.0 1323.4,234.0 1325.8,255.0 1326.2,261.0 1326.1,265.5 1325.6,270.0 1324.9,273.0 1323.3,277.5 1321.2,282.0 1318.4,286.5 1315.1,291.0 1310.7,296.1 1306.8,300.0 1301.6,304.5 1295.7,308.9 1289.7,312.9 1277.7,319.4 1271.7,322.1 1264.2,325.0 1250.7,328.8 1237.2,331.2 1228.2,332.0 1220.7,332.3 1211.7,332.0 1204.2,331.4 1196.7,330.3 1187.7,328.5 1178.7,326.1 1171.2,323.6 1163.7,320.6 1156.2,317.1 1148.7,313.0 1141.2,308.3 1133.9,303.0 1127.7,297.9 1121.7,292.4 1115.7,286.2 1115.7,109.6 1124.8,100.5 1135.2,91.8 1145.7,84.6 1156.2,78.7 1166.7,74.0 1178.7,69.7 1190.7,66.6ZM1435.2,64.5 1442.7,63.8 1451.7,63.5 1460.7,63.8 1468.2,64.5 1475.7,65.6 1484.7,67.5 1493.7,70.0 1501.2,72.5 1508.7,75.6 1516.2,79.1 1523.7,83.3 1531.2,88.1 1537.2,92.4 1543.5,97.5 1549.2,102.7 1555.2,108.9 1555.2,286.9 1546.6,295.5 1537.2,303.4 1526.7,310.7 1516.2,316.6 1505.7,321.5 1493.7,325.8 1481.7,329.0 1469.7,331.1 1459.2,332.1 1448.7,332.2 1439.7,331.8 1429.2,330.5 1418.7,328.3 1409.7,325.7 1400.7,322.4 1391.7,318.4 1382.9,313.5 1375.2,308.4 1367.7,302.6 1360.3,295.5 1355.3,289.5 1350.4,282.0 1347.7,276.0 1345.8,268.5 1345.4,264.0 1345.5,258.0 1349.1,223.5 1349.8,210.0 1350.0,196.5 1349.8,184.5 1349.1,172.5 1345.8,141.0 1345.4,132.0 1346.3,124.5 1348.8,117.0 1351.2,112.5 1354.1,108.0 1357.5,103.5 1361.6,99.0 1366.3,94.5 1371.7,90.0 1382.7,82.4 1394.7,76.0 1406.7,71.1 1414.2,68.7 1421.7,66.8Z"/>
<path fill="#dcd8f6" d="M1203.5,72.0 1213.2,71.2 1223.7,71.2 1234.2,72.0 1244.7,73.7 1253.7,75.9 1262.7,78.9 1271.7,82.7 1280.7,87.5 1288.2,92.4 1295.7,98.3 1301.7,104.2 1307.3,111.0 1311.2,117.0 1314.9,124.5 1317.4,132.0 1319.2,141.0 1319.9,148.5 1320.1,157.5 1319.8,196.5 1320.2,234.0 1320.0,244.5 1319.3,253.5 1318.4,259.5 1316.5,267.0 1314.2,273.0 1312.0,277.5 1309.3,282.0 1306.1,286.5 1302.3,291.0 1294.2,298.8 1289.7,302.3 1283.7,306.4 1273.2,312.3 1261.2,317.4 1247.7,321.4 1235.7,323.6 1226.7,324.5 1219.2,324.7 1211.7,324.5 1202.7,323.7 1193.7,322.3 1186.2,320.6 1178.7,318.5 1169.7,315.2 1162.2,312.0 1154.7,308.1 1147.2,303.6 1139.7,298.4 1133.7,293.7 1127.4,288.0 1121.6,282.0 1115.7,275.1 1115.7,120.7 1124.2,111.0 1133.7,102.1 1144.2,94.2 1154.7,87.7 1166.7,81.8 1178.7,77.3 1190.7,74.1ZM1437.5,72.0 1445.7,71.3 1454.7,71.1 1462.2,71.4 1471.2,72.4 1480.2,74.0 1487.7,75.8 1495.2,78.1 1502.7,80.9 1510.2,84.2 1517.7,88.1 1525.2,92.7 1531.2,96.9 1537.7,102.0 1544.4,108.0 1550.2,114.0 1555.2,119.8 1555.2,276.0 1547.2,285.0 1538.7,293.0 1528.2,301.1 1517.7,307.7 1507.2,313.0 1495.2,317.7 1481.7,321.5 1469.7,323.6 1459.2,324.6 1448.7,324.7 1438.2,323.9 1427.7,322.2 1418.7,320.1 1408.2,316.6 1399.2,312.7 1390.2,307.9 1382.7,302.9 1375.2,296.8 1369.2,290.9 1363.3,283.5 1359.6,277.5 1356.2,270.0 1353.9,262.5 1352.3,253.5 1351.7,246.0 1351.4,237.0 1351.8,201.0 1351.4,162.0 1351.7,150.0 1352.2,142.5 1353.5,135.0 1355.1,129.0 1358.0,121.5 1360.4,117.0 1363.2,112.5 1366.6,108.0 1370.5,103.5 1378.7,96.0 1388.7,88.8 1394.7,85.4 1400.7,82.4 1412.7,77.6 1424.7,74.2Z"/>
<path fill="#dbd5f7" d="M1203.6,78.0 1213.2,77.2 1223.7,77.3 1234.2,78.2 1244.7,80.1 1255.2,83.0 1264.2,86.4 1273.2,90.7 1280.7,95.2 1288.2,100.6 1294.7,106.5 1300.2,112.5 1305.6,120.0 1309.7,127.5 1312.7,135.0 1314.8,142.5 1316.5,153.0 1317.5,165.0 1318.0,183.0 1317.9,216.0 1317.3,234.0 1316.3,244.5 1314.7,253.5 1312.1,262.5 1308.9,270.0 1303.5,279.0 1297.2,286.8 1292.7,291.3 1288.2,295.2 1279.2,301.6 1268.7,307.4 1256.7,312.3 1244.7,315.7 1232.7,317.8 1225.2,318.5 1216.2,318.7 1208.7,318.3 1199.7,317.3 1190.7,315.6 1183.2,313.7 1175.7,311.2 1166.7,307.6 1159.2,303.9 1151.7,299.6 1144.2,294.6 1138.2,289.9 1132.2,284.6 1126.2,278.5 1121.4,273.0 1115.7,265.4 1115.7,130.4 1123.8,120.0 1132.4,111.0 1142.7,102.4 1153.2,95.3 1165.2,88.9 1171.2,86.3 1178.7,83.5 1190.7,80.2ZM1439.0,78.0 1447.2,77.3 1456.2,77.2 1463.7,77.6 1472.7,78.6 1480.2,80.0 1487.7,81.9 1496.7,84.8 1504.2,87.9 1511.7,91.5 1519.2,95.8 1526.7,100.7 1532.7,105.3 1538.7,110.6 1544.7,116.5 1550.3,123.0 1555.2,129.4 1555.2,266.4 1547.6,276.0 1538.7,285.2 1528.2,294.0 1517.7,301.0 1507.2,306.6 1495.2,311.5 1481.7,315.4 1469.7,317.6 1459.2,318.5 1448.7,318.6 1438.2,317.7 1427.7,315.9 1417.2,313.1 1408.2,309.8 1399.2,305.5 1391.7,301.1 1384.2,295.8 1377.1,289.5 1371.6,283.5 1366.1,276.0 1362.0,268.5 1359.0,261.0 1356.5,252.0 1355.1,243.0 1354.0,229.5 1353.6,213.0 1353.6,180.0 1354.3,162.0 1355.2,151.5 1356.8,142.5 1359.4,133.5 1362.6,126.0 1368.0,117.0 1371.4,112.5 1375.2,108.2 1383.6,100.5 1393.2,93.7 1403.7,88.0 1415.7,83.2 1427.7,79.9Z"/>
<path fill="#d9d3f7" d="M1207.4,82.5 1217.7,82.0 1228.2,82.5 1237.2,83.7 1247.7,86.0 1258.2,89.4 1267.2,93.3 1276.2,98.3 1283.7,103.6 1290.6,109.5 1296.2,115.5 1301.9,123.0 1306.2,130.5 1309.4,138.0 1311.8,145.5 1314.0,156.0 1315.3,166.5 1316.2,183.0 1316.4,202.5 1315.9,220.5 1314.8,234.0 1313.2,244.5 1310.9,253.5 1307.5,262.5 1303.6,270.0 1298.5,277.5 1291.2,285.7 1282.2,293.4 1273.2,299.3 1264.2,303.9 1252.2,308.5 1240.2,311.6 1228.2,313.3 1219.2,313.7 1211.7,313.6 1202.7,312.8 1195.2,311.6 1186.2,309.5 1178.7,307.2 1171.2,304.3 1163.7,300.9 1157.7,297.7 1150.2,293.0 1142.7,287.4 1136.7,282.3 1130.7,276.4 1125.1,270.0 1120.5,264.0 1115.7,256.7 1115.7,139.1 1119.3,133.5 1123.7,127.5 1128.8,121.5 1133.1,117.0 1143.2,108.0 1148.7,103.9 1154.7,99.9 1166.7,93.4 1172.7,90.8 1180.2,88.1 1186.2,86.3 1193.7,84.5 1201.2,83.2ZM1443.6,82.5 1451.7,82.1 1460.7,82.2 1469.7,83.1 1477.2,84.3 1484.7,86.1 1492.2,88.4 1499.7,91.2 1507.2,94.6 1514.7,98.6 1520.7,102.4 1528.2,107.8 1534.2,112.9 1540.0,118.5 1545.4,124.5 1550.2,130.5 1555.2,138.0 1555.2,257.8 1547.7,268.5 1543.2,273.9 1538.3,279.0 1528.2,288.0 1522.2,292.4 1516.2,296.3 1504.2,302.7 1498.2,305.3 1490.7,307.9 1478.7,311.1 1465.2,313.2 1454.7,313.8 1444.2,313.4 1435.2,312.3 1424.7,310.0 1414.2,306.7 1405.2,302.9 1396.2,298.0 1388.7,292.8 1381.2,286.5 1375.2,280.1 1369.9,273.0 1365.5,265.5 1362.2,258.0 1359.8,250.5 1357.8,241.5 1356.5,231.0 1355.5,216.0 1355.2,196.5 1355.6,178.5 1356.6,163.5 1358.1,153.0 1360.6,142.5 1364.0,133.5 1367.9,126.0 1374.1,117.0 1381.2,109.3 1390.2,101.9 1399.2,96.1 1409.7,90.9 1420.2,87.1 1430.7,84.4Z"/>
<path fill="#d7d0f7" d="M1203.7,87.0 1213.2,86.2 1223.7,86.3 1234.2,87.4 1243.2,89.1 1253.7,92.2 1262.7,95.8 1270.2,99.7 1279.2,105.4 1286.7,111.5 1292.7,117.6 1298.2,124.5 1302.9,132.0 1306.5,139.5 1309.6,148.5 1311.8,157.5 1313.2,166.5 1314.4,180.0 1314.8,196.5 1314.5,213.0 1313.3,228.0 1311.4,240.0 1309.1,249.0 1305.8,258.0 1301.9,265.5 1297.0,273.0 1289.7,281.4 1282.2,288.1 1273.2,294.4 1264.2,299.3 1253.7,303.6 1243.2,306.7 1231.2,308.8 1223.7,309.5 1214.7,309.6 1205.7,309.0 1196.7,307.7 1187.7,305.7 1180.2,303.4 1172.7,300.6 1163.7,296.4 1156.2,292.1 1148.7,287.0 1142.5,282.0 1135.9,276.0 1130.4,270.0 1124.4,262.5 1119.4,255.0 1115.7,248.5 1115.7,147.3 1116.7,145.5 1120.2,139.5 1124.2,133.5 1132.2,123.7 1137.3,118.5 1142.2,114.0 1147.2,110.0 1153.2,105.7 1159.2,101.9 1165.2,98.7 1177.2,93.4 1184.7,90.9 1190.7,89.3ZM1440.4,87.0 1448.7,86.3 1457.7,86.2 1465.2,86.7 1474.2,87.9 1481.7,89.5 1490.7,92.1 1499.7,95.5 1507.2,99.1 1513.2,102.4 1520.7,107.2 1528.2,113.0 1534.3,118.5 1540.2,124.6 1546.2,131.9 1551.4,139.5 1555.2,146.0 1555.2,249.8 1548.3,261.0 1540.2,271.2 1531.2,280.2 1520.7,288.5 1514.7,292.5 1508.7,295.9 1502.7,298.9 1495.2,302.1 1489.2,304.2 1481.7,306.3 1469.7,308.6 1459.2,309.5 1448.7,309.5 1438.2,308.5 1429.2,306.8 1418.7,303.9 1409.7,300.3 1400.7,295.7 1393.2,290.9 1385.7,285.0 1379.6,279.0 1373.7,271.7 1369.2,264.7 1365.2,256.5 1362.5,249.0 1360.2,240.0 1358.4,229.5 1357.3,216.0 1356.8,199.5 1357.1,183.0 1358.2,168.0 1359.8,157.5 1362.4,147.0 1365.8,138.0 1369.5,130.5 1375.2,122.0 1382.3,114.0 1390.2,107.1 1399.2,100.9 1408.2,96.2 1418.7,91.9 1429.2,89.0Z"/>
<path fill="#d5cdf7" d="M1209.2,90.0 1219.2,89.7 1228.2,90.2 1238.7,91.8 1247.7,94.0 1256.7,97.1 1265.7,101.3 1274.7,106.6 1282.5,112.5 1289.7,119.4 1295.3,126.0 1300.2,133.5 1304.0,141.0 1307.0,148.5 1309.5,157.5 1311.4,168.0 1312.6,178.5 1313.3,192.0 1313.2,207.0 1312.5,219.0 1310.9,231.0 1308.7,241.5 1305.8,250.5 1301.7,259.5 1297.2,267.0 1291.2,274.8 1284.0,282.0 1276.2,288.2 1267.2,293.7 1258.2,298.0 1247.7,301.8 1237.2,304.3 1226.7,305.7 1217.7,306.1 1208.7,305.8 1201.2,304.9 1192.2,303.2 1183.2,300.8 1175.7,298.1 1168.2,294.7 1160.7,290.7 1153.2,285.9 1146.1,280.5 1139.7,274.8 1133.7,268.5 1128.7,262.5 1123.5,255.0 1119.1,247.5 1115.7,240.3 1115.7,155.5 1119.0,148.5 1122.4,142.5 1129.7,132.0 1138.2,122.5 1142.7,118.2 1148.7,113.2 1159.2,106.0 1165.2,102.6 1171.2,99.7 1183.2,95.0 1195.2,91.9 1202.7,90.7ZM1446.2,90.0 1454.7,89.7 1463.7,90.1 1471.2,91.0 1480.2,92.8 1489.2,95.3 1496.7,98.1 1504.2,101.5 1511.7,105.6 1519.2,110.5 1525.2,115.0 1531.2,120.3 1537.2,126.5 1543.0,133.5 1547.3,139.5 1551.8,147.0 1555.2,153.9 1555.2,241.9 1550.0,252.0 1542.9,262.5 1538.7,267.6 1533.7,273.0 1529.0,277.5 1523.7,282.0 1513.2,289.3 1507.2,292.8 1501.2,295.8 1489.2,300.5 1477.2,303.7 1469.7,305.0 1463.7,305.7 1453.2,306.1 1442.7,305.5 1432.2,303.9 1423.2,301.5 1414.2,298.4 1405.2,294.2 1396.2,288.7 1388.7,283.0 1382.7,277.3 1376.5,270.0 1371.5,262.5 1367.7,255.0 1364.2,246.0 1362.1,238.5 1360.4,229.5 1359.0,217.5 1358.3,204.0 1358.4,189.0 1359.3,175.5 1360.9,163.5 1362.8,154.5 1365.7,145.5 1369.7,136.5 1374.2,129.0 1380.0,121.5 1387.4,114.0 1396.2,107.1 1405.2,101.6 1415.7,96.8 1424.7,93.8 1435.2,91.4Z"/>
<path fill="#d3cbf7" d="M1210.6,93.0 1220.7,92.8 1231.2,93.7 1240.2,95.3 1250.7,98.2 1258.2,101.1 1267.2,105.6 1276.2,111.4 1283.1,117.0 1289.7,123.7 1295.0,130.5 1299.7,138.0 1303.3,145.5 1306.5,154.5 1308.8,163.5 1310.3,172.5 1311.5,184.5 1311.9,196.5 1311.6,210.0 1310.5,222.0 1308.8,232.5 1306.0,243.0 1302.6,252.0 1298.7,259.6 1293.8,267.0 1287.5,274.5 1280.7,280.9 1273.2,286.5 1264.2,291.8 1255.2,295.9 1244.7,299.4 1234.2,301.6 1223.7,302.8 1214.7,303.0 1205.7,302.4 1196.7,301.0 1189.2,299.3 1180.2,296.5 1172.7,293.5 1165.2,289.7 1157.7,285.3 1150.2,279.9 1144.2,274.8 1137.8,268.5 1132.2,262.0 1127.1,255.0 1122.6,247.5 1118.9,240.0 1115.7,232.0 1115.7,163.8 1118.2,157.5 1120.9,151.5 1124.2,145.5 1128.0,139.5 1135.2,130.2 1144.2,121.0 1153.2,113.6 1163.7,106.9 1174.2,101.7 1186.2,97.3 1198.2,94.5ZM1447.8,93.0 1456.2,92.8 1465.2,93.3 1474.2,94.6 1481.7,96.3 1489.2,98.5 1498.2,102.0 1505.7,105.7 1513.2,110.1 1520.7,115.4 1526.7,120.3 1532.7,126.1 1538.7,133.0 1543.6,139.5 1548.3,147.0 1552.1,154.5 1555.2,161.9 1555.2,233.9 1550.5,244.5 1544.5,255.0 1541.3,259.5 1536.5,265.5 1528.2,274.1 1519.2,281.6 1508.7,288.5 1498.2,293.8 1486.2,298.2 1474.2,301.2 1462.2,302.7 1451.7,303.0 1441.2,302.2 1432.2,300.7 1421.7,297.8 1412.7,294.4 1403.7,289.8 1396.2,285.0 1388.8,279.0 1382.7,273.0 1376.7,265.5 1372.0,258.0 1368.4,250.5 1365.1,241.5 1362.8,232.5 1361.3,223.5 1360.2,213.0 1359.7,201.0 1359.9,187.5 1360.9,175.5 1362.8,163.5 1365.1,154.5 1368.3,145.5 1372.7,136.5 1377.6,129.0 1383.9,121.5 1390.2,115.5 1397.7,109.8 1406.7,104.4 1415.7,100.2 1426.2,96.6 1436.7,94.3Z"/>
<path fill="#d1c8f7" d="M1207.3,96.0 1217.7,95.5 1226.7,96.0 1235.7,97.2 1246.2,99.7 1255.2,102.9 1264.2,107.1 1271.7,111.6 1279.0,117.0 1285.2,122.7 1291.2,129.5 1296.1,136.5 1300.2,144.0 1303.4,151.5 1306.3,160.5 1308.2,169.5 1309.7,180.0 1310.4,192.0 1310.4,204.0 1309.6,216.0 1308.2,226.5 1305.8,237.0 1302.8,246.0 1299.4,253.5 1294.2,262.2 1288.2,269.9 1282.2,276.0 1274.7,282.1 1267.2,287.0 1258.2,291.7 1249.2,295.1 1238.7,298.0 1228.2,299.7 1219.2,300.2 1210.2,300.0 1201.2,299.1 1192.2,297.3 1183.2,294.7 1174.2,291.1 1166.7,287.5 1157.7,282.0 1150.2,276.4 1143.1,270.0 1137.4,264.0 1131.5,256.5 1126.6,249.0 1121.9,240.0 1118.3,231.0 1115.7,222.5 1115.7,173.3 1118.2,165.0 1121.8,156.0 1126.5,147.0 1131.4,139.5 1138.2,130.9 1145.7,123.3 1154.7,115.9 1163.7,110.0 1174.2,104.7 1184.7,100.7 1195.2,97.8ZM1444.7,96.0 1453.2,95.5 1462.2,95.8 1471.2,96.9 1480.2,98.7 1489.2,101.4 1496.7,104.3 1505.7,108.8 1513.2,113.3 1520.7,118.8 1527.2,124.5 1533.0,130.5 1539.1,138.0 1544.2,145.5 1548.3,153.0 1552.3,162.0 1555.2,170.7 1555.2,225.1 1552.8,232.5 1549.7,240.0 1545.8,247.5 1541.2,255.0 1534.2,264.0 1526.7,271.8 1517.7,279.3 1508.7,285.3 1498.2,290.8 1487.7,294.9 1477.2,297.8 1465.2,299.7 1454.7,300.3 1445.7,299.9 1436.7,298.7 1426.2,296.3 1417.2,293.3 1408.2,289.1 1400.7,284.8 1393.2,279.3 1387.2,273.9 1381.0,267.0 1375.6,259.5 1371.5,252.0 1368.2,244.5 1365.4,235.5 1363.4,226.5 1362.0,216.0 1361.2,204.0 1361.2,192.0 1362.1,178.5 1363.6,168.0 1365.7,159.0 1368.7,150.0 1372.9,141.0 1377.5,133.5 1383.3,126.0 1390.2,119.1 1397.7,113.1 1406.7,107.5 1415.7,103.2 1424.7,99.9 1435.2,97.3Z"/>
<path fill="#cfc6f7" d="M1202.9,99.0 1211.7,98.1 1222.2,98.1 1231.2,99.0 1240.2,100.7 1249.2,103.3 1258.2,106.8 1265.7,110.7 1273.2,115.6 1280.6,121.5 1286.5,127.5 1291.4,133.5 1296.3,141.0 1300.1,148.5 1303.1,156.0 1305.7,165.0 1307.4,174.0 1308.7,184.5 1309.2,196.5 1308.9,208.5 1307.6,220.5 1305.6,231.0 1303.0,240.0 1299.4,249.0 1295.3,256.5 1290.1,264.0 1283.7,271.3 1276.2,278.0 1268.7,283.3 1261.2,287.5 1252.2,291.5 1241.7,294.8 1232.7,296.6 1222.2,297.7 1211.7,297.7 1201.2,296.6 1192.2,294.7 1183.2,292.1 1174.2,288.5 1165.2,283.8 1156.2,277.9 1148.7,271.9 1141.2,264.5 1134.6,256.5 1129.5,249.0 1124.7,240.0 1120.9,231.0 1118.1,222.0 1116.3,213.0 1115.7,208.7 1115.7,187.1 1116.7,180.0 1118.1,174.0 1121.4,163.5 1125.3,154.5 1130.3,145.5 1135.5,138.0 1141.9,130.5 1148.7,123.9 1156.2,117.9 1165.2,112.0 1174.2,107.3 1183.2,103.7 1192.2,101.1ZM1440.3,99.0 1450.2,98.1 1459.2,98.1 1469.7,99.1 1478.7,100.9 1487.7,103.5 1496.7,107.0 1505.7,111.6 1514.7,117.4 1522.2,123.3 1529.7,130.5 1536.1,138.0 1541.3,145.5 1546.3,154.5 1550.2,163.5 1553.1,172.5 1555.2,182.0 1555.2,213.8 1553.8,220.5 1551.2,229.5 1547.0,240.0 1542.1,249.0 1537.0,256.5 1530.9,264.0 1523.7,271.2 1516.2,277.3 1507.2,283.3 1498.2,288.1 1489.2,291.8 1480.2,294.5 1469.7,296.7 1460.7,297.6 1450.2,297.7 1439.7,296.7 1430.7,295.0 1421.7,292.3 1412.7,288.6 1405.2,284.7 1397.7,279.7 1391.3,274.5 1385.2,268.5 1379.7,261.6 1375.2,254.7 1371.5,247.5 1368.1,238.5 1365.6,229.5 1363.9,220.5 1362.7,208.5 1362.4,196.5 1362.8,186.0 1364.1,174.0 1366.3,163.5 1369.0,154.5 1372.9,145.5 1377.1,138.0 1382.5,130.5 1388.7,123.7 1396.2,117.2 1403.7,112.0 1412.7,107.2 1420.2,104.0 1429.2,101.2Z"/>
<path fill="#cdc4f8" d="M1209.8,100.5 1219.2,100.2 1228.2,100.8 1237.2,102.3 1246.2,104.6 1253.7,107.3 1262.7,111.6 1270.2,116.1 1277.7,121.8 1283.7,127.5 1288.9,133.5 1294.1,141.0 1298.2,148.5 1301.3,156.0 1304.1,165.0 1306.3,175.5 1307.6,186.0 1308.1,198.0 1307.7,208.5 1306.5,219.0 1304.4,229.5 1302.3,237.0 1298.8,246.0 1294.9,253.5 1289.9,261.0 1283.7,268.3 1277.7,274.0 1270.2,279.7 1262.7,284.2 1253.7,288.5 1244.7,291.6 1235.7,293.8 1225.2,295.2 1216.2,295.6 1205.7,294.9 1195.2,293.2 1186.2,290.7 1177.2,287.3 1168.2,282.9 1160.7,278.4 1153.2,272.8 1145.7,266.0 1139.7,259.4 1134.1,252.0 1128.7,243.0 1124.5,234.0 1121.3,225.0 1119.1,216.0 1117.6,205.5 1117.4,195.0 1118.1,186.0 1119.7,177.0 1122.2,168.0 1125.6,159.0 1130.2,150.0 1135.0,142.5 1141.2,134.6 1148.7,126.9 1156.2,120.6 1165.2,114.6 1172.7,110.5 1181.7,106.7 1190.7,103.8 1201.2,101.5ZM1447.2,100.5 1456.2,100.2 1466.7,101.0 1477.2,102.8 1486.2,105.3 1495.2,108.8 1504.2,113.3 1511.7,118.0 1519.2,123.7 1526.6,130.5 1533.2,138.0 1538.6,145.5 1543.8,154.5 1547.8,163.5 1550.8,172.5 1552.8,181.5 1554.0,190.5 1554.2,199.5 1553.5,210.0 1551.9,219.0 1549.4,228.0 1545.9,237.0 1541.3,246.0 1536.5,253.5 1530.6,261.0 1523.7,268.1 1516.2,274.5 1508.7,279.8 1499.7,284.9 1490.7,288.9 1481.7,291.8 1471.2,294.2 1462.2,295.3 1453.2,295.6 1442.7,294.9 1433.7,293.4 1424.7,291.0 1415.7,287.6 1408.2,283.9 1400.7,279.2 1393.2,273.4 1387.2,267.6 1381.7,261.0 1376.7,253.5 1372.8,246.0 1369.3,237.0 1366.8,228.0 1365.1,219.0 1363.9,208.5 1363.5,198.0 1363.9,187.5 1365.1,177.0 1367.1,166.5 1369.7,157.5 1373.4,148.5 1377.5,141.0 1382.7,133.5 1388.7,126.7 1394.7,121.2 1402.2,115.6 1411.2,110.4 1418.7,107.0 1427.7,103.9 1438.2,101.6Z"/>
<path fill="#cbc1f8" d="M1201.6,103.5 1210.2,102.5 1219.2,102.3 1228.2,102.9 1237.2,104.4 1246.2,106.8 1255.2,110.1 1262.7,113.9 1270.2,118.5 1277.7,124.4 1283.7,130.3 1288.9,136.5 1293.9,144.0 1297.7,151.5 1300.8,159.0 1303.4,168.0 1305.3,177.0 1306.5,187.5 1306.9,198.0 1306.5,208.5 1305.3,219.0 1303.4,228.0 1300.7,237.0 1296.9,246.0 1292.8,253.5 1287.6,261.0 1282.2,267.1 1276.2,272.7 1268.7,278.3 1261.2,282.8 1252.2,286.9 1243.2,290.0 1234.2,292.0 1225.2,293.2 1216.2,293.5 1207.2,293.0 1196.7,291.4 1187.7,289.1 1178.7,285.8 1169.7,281.4 1160.7,275.9 1153.2,270.1 1146.6,264.0 1140.0,256.5 1134.6,249.0 1130.2,241.5 1126.1,232.5 1123.0,223.5 1120.9,214.5 1119.6,204.0 1119.4,195.0 1120.2,186.0 1121.8,177.0 1124.3,168.0 1127.9,159.0 1132.6,150.0 1137.5,142.5 1143.6,135.0 1150.2,128.3 1157.7,122.1 1165.2,117.0 1174.2,112.1 1183.2,108.3 1192.2,105.5ZM1439.1,103.5 1448.7,102.4 1457.7,102.3 1466.7,103.0 1477.2,104.9 1486.2,107.5 1495.2,111.0 1502.7,114.8 1511.7,120.5 1519.2,126.3 1526.6,133.5 1533.0,141.0 1538.1,148.5 1542.3,156.0 1546.2,165.0 1549.1,174.0 1551.0,183.0 1552.0,192.0 1552.1,201.0 1551.4,210.0 1549.8,219.0 1547.2,228.0 1543.6,237.0 1538.9,246.0 1533.9,253.5 1528.2,260.6 1521.9,267.0 1514.7,273.1 1507.2,278.3 1498.2,283.4 1489.2,287.2 1480.2,290.1 1471.2,292.1 1462.2,293.2 1453.2,293.5 1444.2,293.0 1435.2,291.6 1426.2,289.3 1417.2,286.0 1409.7,282.4 1402.2,277.8 1395.8,273.0 1389.3,267.0 1384.0,261.0 1378.8,253.5 1374.7,246.0 1371.5,238.5 1368.6,229.5 1366.6,220.5 1365.2,210.0 1364.7,199.5 1365.0,189.0 1366.1,178.5 1368.2,168.0 1370.8,159.0 1374.6,150.0 1378.7,142.5 1383.9,135.0 1390.2,127.9 1396.2,122.5 1403.7,117.0 1411.2,112.6 1420.2,108.6 1429.2,105.6Z"/>
<path fill="#c9bff8" d="M1204.3,105.0 1213.2,104.2 1222.2,104.3 1231.2,105.2 1240.2,107.0 1249.2,109.7 1256.7,112.9 1264.2,116.8 1271.7,121.9 1278.4,127.5 1284.2,133.5 1289.0,139.5 1293.7,147.0 1298.1,156.0 1300.8,163.5 1302.9,171.0 1304.6,180.0 1305.7,190.5 1305.9,201.0 1305.3,210.0 1303.8,220.5 1302.1,228.0 1299.2,237.0 1295.2,246.0 1290.9,253.5 1285.3,261.0 1279.8,267.0 1273.2,272.8 1265.7,278.0 1258.2,282.2 1249.2,286.1 1240.2,288.8 1231.2,290.6 1222.2,291.5 1213.2,291.6 1202.7,290.6 1193.7,288.8 1184.7,286.1 1177.2,283.1 1168.2,278.4 1160.7,273.6 1153.2,267.7 1146.3,261.0 1140.0,253.5 1134.9,246.0 1130.1,237.0 1126.9,229.5 1124.1,220.5 1122.3,211.5 1121.4,202.5 1121.4,193.5 1122.3,184.5 1124.1,175.5 1126.9,166.5 1130.7,157.5 1135.7,148.5 1141.0,141.0 1147.2,133.9 1153.9,127.5 1160.7,122.2 1169.7,116.5 1177.2,112.7 1186.2,109.2 1195.2,106.7ZM1441.8,105.0 1451.7,104.2 1460.7,104.3 1469.7,105.3 1478.7,107.2 1487.7,110.0 1496.7,113.8 1505.7,118.7 1513.2,123.9 1520.7,130.2 1526.8,136.5 1532.8,144.0 1537.7,151.5 1542.3,160.5 1545.3,168.0 1547.9,177.0 1549.5,186.0 1550.2,195.0 1550.1,204.0 1549.0,213.0 1547.1,222.0 1544.1,231.0 1540.8,238.5 1535.7,247.5 1530.4,255.0 1523.8,262.5 1517.7,268.3 1510.2,274.1 1502.7,278.8 1495.2,282.7 1486.2,286.3 1477.2,289.0 1468.2,290.7 1459.2,291.6 1450.2,291.6 1441.2,290.7 1432.2,289.0 1424.7,286.9 1415.7,283.3 1408.2,279.4 1400.7,274.5 1394.7,269.7 1388.7,263.8 1383.9,258.0 1378.8,250.5 1374.9,243.0 1371.3,234.0 1368.7,225.0 1367.0,216.0 1365.9,205.5 1365.7,195.0 1366.4,184.5 1368.0,174.0 1370.3,165.0 1372.9,157.5 1377.0,148.5 1381.6,141.0 1387.2,133.7 1393.2,127.5 1399.2,122.4 1406.7,117.3 1414.2,113.2 1424.7,108.9 1432.2,106.8Z"/>
<path fill="#c8bcf8" d="M1206.3,106.5 1214.7,105.9 1223.7,106.1 1232.7,107.2 1241.7,109.2 1250.7,112.1 1258.2,115.5 1265.7,119.8 1273.2,125.1 1279.2,130.5 1285.2,137.1 1290.2,144.0 1294.5,151.5 1297.9,159.0 1301.0,168.0 1302.8,175.5 1304.2,184.5 1304.9,195.0 1304.8,204.0 1303.8,214.5 1302.1,223.5 1299.5,232.5 1296.6,240.0 1292.8,247.5 1288.0,255.0 1282.2,262.2 1276.2,268.1 1270.2,273.0 1262.7,277.9 1255.2,281.7 1246.2,285.3 1237.2,287.7 1228.2,289.3 1219.2,289.9 1210.2,289.7 1201.2,288.6 1192.2,286.6 1183.2,283.7 1174.2,279.7 1166.7,275.5 1159.2,270.3 1151.8,264.0 1146.0,258.0 1140.0,250.5 1135.2,243.0 1131.3,235.5 1127.8,226.5 1125.2,217.5 1123.7,208.5 1123.1,199.5 1123.4,190.5 1124.6,181.5 1126.7,172.5 1129.9,163.5 1133.4,156.0 1137.8,148.5 1143.3,141.0 1150.0,133.5 1156.2,127.9 1163.7,122.2 1171.2,117.7 1180.2,113.3 1187.7,110.5 1196.7,108.1ZM1443.7,106.5 1453.2,105.9 1462.2,106.2 1471.2,107.3 1480.2,109.4 1489.2,112.4 1498.2,116.5 1505.7,120.8 1513.2,126.1 1520.0,132.0 1525.8,138.0 1531.8,145.5 1536.5,153.0 1541.0,162.0 1543.9,169.5 1546.4,178.5 1547.9,187.5 1548.5,196.5 1548.2,205.5 1547.0,214.5 1545.2,222.0 1542.2,231.0 1538.1,240.0 1533.7,247.5 1528.2,255.0 1522.2,261.7 1516.2,267.3 1508.7,273.0 1501.2,277.7 1493.7,281.5 1484.7,285.0 1475.7,287.5 1466.7,289.1 1457.7,289.9 1448.7,289.7 1439.7,288.8 1430.7,286.9 1421.7,284.0 1414.2,280.7 1406.7,276.5 1399.2,271.3 1393.2,266.1 1387.2,259.7 1382.5,253.5 1377.9,246.0 1374.4,238.5 1371.1,229.5 1368.9,220.5 1367.5,211.5 1366.8,202.5 1366.8,192.0 1367.8,181.5 1369.5,172.5 1371.5,165.0 1374.9,156.0 1378.7,148.5 1383.4,141.0 1388.7,134.4 1394.7,128.3 1402.2,122.3 1409.7,117.5 1417.2,113.7 1426.2,110.3 1435.2,107.9Z"/>
<path fill="#c6baf8" d="M1207.4,108.0 1216.2,107.5 1225.2,107.8 1234.2,109.1 1243.2,111.3 1252.2,114.5 1259.7,118.1 1267.2,122.6 1273.2,127.1 1279.2,132.6 1285.2,139.4 1290.6,147.0 1293.9,153.0 1297.3,160.5 1299.8,168.0 1302.0,177.0 1303.4,186.0 1304.0,195.0 1303.7,205.5 1302.8,214.5 1301.0,223.5 1298.3,232.5 1295.3,240.0 1291.3,247.5 1286.7,254.5 1280.7,261.7 1274.7,267.4 1268.7,272.1 1261.2,276.9 1252.2,281.3 1244.7,284.1 1237.2,286.1 1228.2,287.7 1219.2,288.3 1211.7,288.2 1202.7,287.2 1193.7,285.3 1184.7,282.5 1175.7,278.7 1168.2,274.5 1160.7,269.4 1153.2,263.1 1147.2,256.9 1142.0,250.5 1137.1,243.0 1133.1,235.5 1129.5,226.5 1126.9,217.5 1125.3,208.5 1124.7,199.5 1125.0,190.5 1126.3,181.5 1128.5,172.5 1131.7,163.5 1135.3,156.0 1139.8,148.5 1145.4,141.0 1150.8,135.0 1157.7,128.7 1165.2,123.2 1172.7,118.7 1180.2,115.1 1189.2,111.7 1198.2,109.4ZM1444.8,108.0 1453.2,107.5 1462.2,107.8 1471.2,109.0 1480.2,111.1 1487.7,113.6 1496.7,117.5 1504.2,121.8 1511.7,127.0 1519.2,133.4 1525.0,139.5 1529.7,145.5 1534.6,153.0 1539.3,162.0 1542.2,169.5 1544.7,178.5 1546.3,187.5 1546.9,196.5 1546.6,205.5 1545.3,214.5 1543.5,222.0 1541.0,229.5 1537.0,238.5 1532.7,246.0 1527.3,253.5 1520.7,260.9 1514.7,266.4 1507.2,272.1 1499.7,276.7 1490.7,281.0 1483.2,283.8 1474.2,286.2 1465.2,287.7 1456.2,288.3 1447.2,288.0 1438.2,286.9 1429.2,284.8 1420.2,281.7 1412.7,278.2 1405.2,273.7 1399.2,269.3 1393.2,264.0 1387.2,257.4 1382.1,250.5 1377.8,243.0 1374.4,235.5 1371.4,226.5 1369.6,219.0 1368.3,210.0 1367.6,199.5 1367.9,190.5 1368.8,181.5 1370.6,172.5 1373.2,163.5 1376.2,156.0 1380.1,148.5 1385.1,141.0 1391.5,133.5 1397.7,127.7 1405.2,122.1 1411.2,118.5 1418.7,114.8 1427.7,111.5 1436.7,109.2Z"/>
<path fill="#c4b8f8" d="M1207.4,109.5 1216.2,109.0 1223.7,109.2 1232.7,110.3 1241.7,112.4 1249.2,114.8 1258.2,118.9 1265.7,123.3 1271.7,127.7 1277.7,133.0 1283.7,139.5 1289.1,147.0 1292.6,153.0 1296.1,160.5 1299.2,169.5 1301.1,177.0 1302.5,186.0 1303.1,195.0 1302.8,205.5 1301.8,214.5 1300.0,223.5 1297.7,231.0 1294.8,238.5 1290.9,246.0 1285.9,253.5 1280.7,259.7 1274.7,265.6 1268.7,270.4 1261.2,275.3 1252.2,279.7 1244.7,282.5 1237.2,284.6 1228.2,286.2 1219.2,286.8 1210.2,286.6 1201.2,285.4 1192.2,283.4 1184.7,280.9 1175.7,277.0 1168.2,272.8 1160.7,267.5 1153.2,261.0 1147.5,255.0 1141.7,247.5 1138.0,241.5 1134.1,234.0 1131.1,226.5 1128.5,217.5 1126.9,208.5 1126.3,199.5 1126.6,190.5 1127.8,181.5 1129.6,174.0 1132.7,165.0 1136.2,157.5 1140.6,150.0 1146.1,142.5 1151.7,136.2 1159.2,129.4 1165.2,125.0 1172.7,120.4 1181.7,116.1 1189.2,113.3 1199.7,110.6ZM1444.8,109.5 1453.2,109.0 1462.2,109.3 1471.2,110.5 1480.2,112.6 1489.2,115.8 1496.7,119.2 1504.2,123.5 1511.7,128.9 1518.6,135.0 1524.3,141.0 1530.0,148.5 1534.6,156.0 1538.3,163.5 1541.1,171.0 1543.5,180.0 1544.9,189.0 1545.4,196.5 1545.0,205.5 1543.8,214.5 1541.5,223.5 1538.2,232.5 1535.3,238.5 1530.9,246.0 1525.4,253.5 1520.0,259.5 1513.2,265.7 1505.7,271.3 1498.2,275.8 1490.7,279.4 1481.7,282.7 1474.2,284.7 1465.2,286.2 1456.2,286.8 1448.7,286.6 1441.2,285.9 1432.2,284.1 1423.2,281.3 1415.7,278.1 1408.2,274.0 1400.7,268.8 1394.7,263.6 1388.7,257.2 1383.6,250.5 1379.1,243.0 1375.6,235.5 1372.9,228.0 1370.6,219.0 1369.2,210.0 1368.5,201.0 1368.7,190.5 1369.7,181.5 1371.6,172.5 1374.3,163.5 1377.5,156.0 1381.5,148.5 1385.7,142.3 1391.7,135.2 1397.7,129.5 1405.2,123.8 1412.7,119.3 1420.2,115.7 1427.7,113.0 1436.7,110.7Z"/>
<path fill="#c2b5f9" d="M1206.2,111.0 1214.7,110.3 1223.7,110.5 1232.7,111.7 1240.2,113.3 1249.2,116.2 1256.7,119.6 1264.2,123.8 1270.2,128.1 1276.2,133.2 1280.9,138.0 1285.7,144.0 1290.6,151.5 1294.4,159.0 1297.3,166.5 1299.5,174.0 1301.2,183.0 1302.2,193.5 1302.2,202.5 1301.4,211.5 1299.8,220.5 1297.7,228.0 1295.0,235.5 1291.3,243.0 1286.6,250.5 1280.7,258.0 1274.7,264.0 1268.7,268.9 1261.2,273.8 1252.2,278.3 1244.7,281.2 1237.2,283.2 1229.7,284.6 1220.7,285.4 1213.2,285.4 1204.2,284.6 1195.2,282.8 1186.2,280.0 1178.7,276.9 1169.7,272.1 1163.7,268.1 1156.8,262.5 1150.7,256.5 1145.6,250.5 1140.5,243.0 1136.3,235.5 1133.1,228.0 1130.3,219.0 1128.5,210.0 1127.7,201.0 1127.8,192.0 1128.7,184.5 1130.6,175.5 1133.0,168.0 1137.0,159.0 1141.3,151.5 1146.6,144.0 1153.2,136.7 1159.2,131.2 1165.2,126.6 1172.7,121.9 1181.7,117.5 1189.2,114.7 1198.2,112.3ZM1443.5,111.0 1451.7,110.3 1460.7,110.5 1469.7,111.6 1478.7,113.6 1487.7,116.6 1496.7,120.7 1504.2,125.2 1510.2,129.4 1516.7,135.0 1522.5,141.0 1527.3,147.0 1532.2,154.5 1536.1,162.0 1539.6,171.0 1542.1,180.0 1543.3,187.5 1543.9,195.0 1543.8,204.0 1542.6,213.0 1540.9,220.5 1538.5,228.0 1535.3,235.5 1530.2,244.5 1526.0,250.5 1520.7,256.7 1514.7,262.6 1507.2,268.6 1499.7,273.4 1490.7,277.9 1483.2,280.8 1475.7,283.0 1466.7,284.6 1457.7,285.4 1450.2,285.4 1441.2,284.5 1432.2,282.7 1423.2,279.9 1415.7,276.6 1408.2,272.5 1402.2,268.3 1396.2,263.3 1389.6,256.5 1384.9,250.5 1380.3,243.0 1376.7,235.5 1373.9,228.0 1371.5,219.0 1370.2,211.5 1369.5,202.5 1369.4,193.5 1370.2,184.5 1371.8,175.5 1374.3,166.5 1377.2,159.0 1381.0,151.5 1385.9,144.0 1390.7,138.0 1396.2,132.5 1403.7,126.4 1409.7,122.4 1418.7,117.8 1426.2,114.9 1435.2,112.4Z"/>
<path fill="#c0b3f9" d="M1204.2,112.5 1211.7,111.7 1220.7,111.6 1228.2,112.2 1237.2,113.8 1246.2,116.4 1253.7,119.4 1261.2,123.4 1267.2,127.3 1273.2,132.0 1279.2,137.8 1284.4,144.0 1288.5,150.0 1292.6,157.5 1295.8,165.0 1298.2,172.5 1300.1,181.5 1301.2,190.5 1301.4,199.5 1300.9,208.5 1299.5,217.5 1297.7,225.0 1294.6,234.0 1291.0,241.5 1286.4,249.0 1281.9,255.0 1276.2,261.0 1270.2,266.3 1262.7,271.5 1255.2,275.6 1247.7,278.8 1240.2,281.2 1231.2,283.2 1222.2,284.1 1213.2,284.2 1204.2,283.3 1196.7,281.9 1189.2,279.8 1180.2,276.3 1172.7,272.4 1165.2,267.6 1158.7,262.5 1152.4,256.5 1146.0,249.0 1141.9,243.0 1137.7,235.5 1134.4,228.0 1131.6,219.0 1130.0,211.5 1129.0,202.5 1128.9,195.0 1129.7,186.0 1131.5,177.0 1134.4,168.0 1137.6,160.5 1141.8,153.0 1145.9,147.0 1151.7,140.0 1157.7,134.1 1163.7,129.2 1171.2,124.2 1180.2,119.5 1187.7,116.5 1195.2,114.3ZM1441.4,112.5 1448.7,111.7 1457.7,111.6 1465.2,112.2 1474.2,113.8 1483.2,116.3 1490.7,119.2 1499.7,123.8 1505.7,127.7 1511.7,132.2 1518.0,138.0 1523.4,144.0 1528.9,151.5 1533.2,159.0 1536.7,166.5 1539.3,174.0 1541.4,183.0 1542.4,190.5 1542.7,199.5 1542.2,207.0 1540.8,216.0 1538.2,225.0 1535.3,232.5 1531.5,240.0 1526.7,247.5 1520.7,254.9 1514.7,260.9 1508.7,266.0 1501.2,271.1 1493.7,275.2 1486.2,278.4 1477.2,281.3 1469.7,282.9 1460.7,284.0 1453.2,284.3 1445.7,283.8 1436.7,282.5 1427.7,280.1 1420.2,277.4 1412.7,273.7 1405.2,269.1 1399.2,264.5 1393.2,258.8 1387.3,252.0 1383.2,246.0 1379.1,238.5 1375.9,231.0 1373.1,222.0 1371.5,214.5 1370.4,205.5 1370.2,196.5 1370.7,187.5 1372.0,178.5 1374.3,169.5 1377.0,162.0 1380.5,154.5 1385.0,147.0 1390.2,140.3 1396.2,134.0 1402.2,128.9 1409.7,123.8 1417.2,119.8 1424.7,116.7 1432.2,114.4Z"/>
<path fill="#beb0f9" d="M1202.0,114.0 1210.2,112.9 1217.7,112.7 1226.7,113.2 1234.2,114.3 1241.7,116.1 1250.7,119.3 1256.7,122.1 1264.2,126.5 1270.2,130.9 1276.5,136.5 1282.2,142.8 1287.4,150.0 1291.6,157.5 1294.9,165.0 1297.3,172.5 1299.0,180.0 1300.1,187.5 1300.6,196.5 1300.4,205.5 1299.3,214.5 1297.6,222.0 1294.8,231.0 1291.5,238.5 1287.3,246.0 1282.2,253.0 1276.3,259.5 1270.2,264.9 1264.2,269.3 1256.7,273.7 1249.2,277.1 1241.7,279.7 1234.2,281.5 1226.7,282.6 1217.7,283.1 1208.7,282.7 1199.7,281.4 1192.2,279.5 1183.2,276.3 1175.7,272.8 1168.2,268.3 1160.7,262.7 1154.7,257.3 1148.7,250.6 1144.3,244.5 1139.8,237.0 1136.3,229.5 1133.2,220.5 1131.4,213.0 1130.2,204.0 1130.0,196.5 1130.5,189.0 1132.0,180.0 1134.5,171.0 1137.5,163.5 1141.3,156.0 1146.2,148.5 1151.7,141.7 1157.7,135.7 1163.7,130.7 1171.2,125.6 1177.2,122.2 1186.2,118.3 1193.7,115.8ZM1439.1,114.0 1447.2,112.9 1456.2,112.7 1463.7,113.1 1472.7,114.6 1480.2,116.5 1489.2,119.8 1496.7,123.4 1504.2,128.0 1511.4,133.5 1517.7,139.4 1523.1,145.5 1527.5,151.5 1531.9,159.0 1534.8,165.0 1538.1,174.0 1539.9,181.5 1541.3,190.5 1541.6,199.5 1540.9,208.5 1539.6,216.0 1537.5,223.5 1534.7,231.0 1531.0,238.5 1526.3,246.0 1521.7,252.0 1516.1,258.0 1510.2,263.3 1502.7,268.8 1495.2,273.2 1487.7,276.6 1478.7,279.7 1471.2,281.5 1462.2,282.8 1453.2,283.1 1445.7,282.7 1436.7,281.4 1429.2,279.5 1421.7,276.8 1414.2,273.3 1406.7,268.8 1400.7,264.4 1394.7,258.9 1389.8,253.5 1384.3,246.0 1380.9,240.0 1377.4,232.5 1374.8,225.0 1372.6,216.0 1371.4,207.0 1370.9,198.0 1371.3,189.0 1372.6,180.0 1374.7,171.0 1377.3,163.5 1380.7,156.0 1385.2,148.5 1389.6,142.5 1395.1,136.5 1400.7,131.4 1408.2,126.0 1415.7,121.7 1423.2,118.4 1430.7,115.9Z"/>
<path fill="#bcaef9" d="M1210.2,114.0 1217.7,113.7 1226.7,114.2 1235.7,115.7 1243.2,117.7 1250.7,120.4 1258.2,124.1 1265.7,128.7 1271.7,133.4 1277.7,139.1 1282.2,144.3 1286.3,150.0 1290.6,157.5 1294.0,165.0 1296.5,172.5 1298.2,180.0 1299.5,189.0 1299.9,198.0 1299.5,207.0 1298.2,216.0 1296.4,223.5 1293.9,231.0 1290.5,238.5 1286.2,246.0 1281.8,252.0 1276.2,258.2 1270.2,263.7 1264.2,268.1 1256.7,272.5 1250.7,275.4 1241.7,278.6 1232.7,280.7 1225.2,281.7 1217.7,282.1 1208.7,281.7 1199.7,280.3 1192.2,278.4 1184.7,275.8 1177.2,272.4 1169.7,268.1 1162.2,262.6 1155.4,256.5 1150.0,250.5 1145.5,244.5 1141.0,237.0 1137.4,229.5 1134.7,222.0 1132.8,214.5 1131.4,205.5 1131.1,196.5 1131.6,189.0 1132.7,181.5 1134.7,174.0 1137.3,166.5 1141.7,157.5 1146.4,150.0 1151.1,144.0 1156.2,138.5 1162.2,133.2 1169.7,127.7 1177.2,123.4 1183.2,120.6 1192.2,117.4 1201.2,115.2ZM1447.3,114.0 1454.7,113.7 1463.7,114.2 1472.7,115.7 1480.2,117.6 1487.7,120.3 1495.2,123.8 1502.7,128.3 1510.2,133.8 1516.4,139.5 1521.8,145.5 1526.2,151.5 1530.7,159.0 1534.3,166.5 1536.9,174.0 1539.1,183.0 1540.2,190.5 1540.5,198.0 1540.0,207.0 1538.5,216.0 1536.4,223.5 1533.5,231.0 1529.8,238.5 1525.0,246.0 1520.3,252.0 1514.7,257.9 1508.7,263.2 1501.2,268.5 1493.7,272.7 1486.2,276.1 1478.7,278.6 1469.7,280.7 1462.2,281.7 1454.7,282.1 1445.7,281.7 1436.7,280.3 1429.2,278.4 1421.7,275.7 1414.2,272.2 1406.7,267.6 1400.7,263.1 1394.7,257.5 1389.8,252.0 1385.4,246.0 1381.1,238.5 1377.7,231.0 1375.2,223.5 1373.1,214.5 1372.1,207.0 1371.7,199.5 1372.0,190.5 1373.1,181.5 1374.7,174.0 1377.6,165.0 1381.0,157.5 1385.3,150.0 1389.6,144.0 1394.7,138.3 1400.7,132.7 1406.7,128.2 1414.2,123.6 1421.7,120.1 1429.2,117.4 1438.2,115.2Z"/>
<path fill="#b9abf9" d="M1202.0,117.0 1210.2,115.9 1217.7,115.6 1226.7,116.1 1234.2,117.3 1241.7,119.2 1250.7,122.5 1256.7,125.4 1264.2,129.9 1270.2,134.5 1275.6,139.5 1280.9,145.5 1285.3,151.5 1288.8,157.5 1292.3,165.0 1294.9,172.5 1296.7,180.0 1297.9,187.5 1298.4,196.5 1298.1,205.5 1297.2,213.0 1295.6,220.5 1293.3,228.0 1290.2,235.5 1286.1,243.0 1281.9,249.0 1276.2,255.7 1270.2,261.3 1264.2,265.9 1256.7,270.4 1249.2,274.0 1241.7,276.6 1234.2,278.5 1226.7,279.7 1217.7,280.2 1208.7,279.8 1199.7,278.4 1192.2,276.4 1184.7,273.8 1177.2,270.2 1169.7,265.8 1162.2,260.1 1156.7,255.0 1151.3,249.0 1146.9,243.0 1142.4,235.5 1138.9,228.0 1136.3,220.5 1134.5,213.0 1133.3,204.0 1133.1,196.5 1133.5,189.0 1134.7,181.5 1136.7,174.0 1139.5,166.5 1143.1,159.0 1147.8,151.5 1152.4,145.5 1158.0,139.5 1163.7,134.5 1171.2,129.1 1177.2,125.6 1184.7,122.0 1193.7,118.9ZM1439.0,117.0 1447.2,115.9 1454.7,115.6 1463.7,116.1 1471.2,117.3 1478.7,119.1 1487.7,122.4 1493.7,125.2 1501.2,129.6 1507.2,133.9 1513.6,139.5 1519.2,145.5 1523.8,151.5 1528.5,159.0 1532.2,166.5 1534.9,174.0 1536.9,181.5 1538.1,189.0 1538.5,198.0 1538.0,207.0 1536.8,214.5 1534.8,222.0 1532.1,229.5 1529.2,235.5 1524.7,243.0 1520.3,249.0 1514.7,255.2 1508.7,260.7 1501.2,266.2 1493.7,270.6 1486.2,274.0 1478.7,276.7 1471.2,278.5 1463.7,279.7 1454.7,280.2 1445.7,279.8 1438.2,278.7 1430.7,276.9 1423.2,274.3 1415.7,270.9 1409.7,267.4 1403.7,263.2 1397.7,258.0 1392.1,252.0 1387.5,246.0 1383.7,240.0 1380.0,232.5 1377.2,225.0 1374.9,216.0 1373.8,208.5 1373.2,199.5 1373.4,190.5 1374.6,181.5 1376.3,174.0 1378.7,166.5 1382.0,159.0 1386.3,151.5 1390.7,145.5 1396.2,139.3 1402.2,133.8 1408.2,129.4 1414.2,125.8 1421.7,122.1 1430.7,118.9Z"/>
<path fill="#b6a8fa" d="M1203.3,118.5 1211.7,117.5 1219.2,117.3 1226.7,117.8 1234.2,119.0 1241.7,120.9 1249.2,123.7 1256.7,127.3 1262.7,130.9 1268.7,135.4 1274.7,140.9 1280.1,147.0 1284.4,153.0 1287.9,159.0 1291.3,166.5 1293.8,174.0 1295.6,181.5 1296.7,189.0 1297.1,198.0 1296.6,207.0 1295.5,214.5 1293.8,222.0 1291.2,229.5 1287.8,237.0 1284.3,243.0 1279.9,249.0 1274.7,254.9 1268.7,260.4 1262.7,264.9 1255.2,269.3 1249.2,272.1 1240.2,275.3 1232.7,277.1 1225.2,278.1 1216.2,278.5 1208.7,278.0 1199.7,276.6 1192.2,274.6 1184.7,271.9 1177.2,268.3 1169.7,263.7 1163.7,259.1 1157.6,253.5 1152.3,247.5 1148.0,241.5 1143.6,234.0 1140.2,226.5 1137.7,219.0 1136.0,211.5 1134.9,202.5 1134.9,195.0 1135.5,187.5 1136.9,180.0 1139.0,172.5 1142.0,165.0 1145.1,159.0 1149.9,151.5 1154.7,145.5 1160.5,139.5 1166.7,134.3 1172.7,130.2 1180.2,126.0 1187.7,122.7 1195.2,120.3ZM1440.3,118.5 1448.7,117.5 1456.2,117.3 1463.7,117.8 1472.7,119.4 1480.2,121.4 1487.7,124.3 1495.2,128.0 1501.2,131.7 1507.2,136.1 1513.2,141.5 1518.2,147.0 1522.8,153.0 1527.3,160.5 1530.9,168.0 1533.5,175.5 1535.4,183.0 1536.5,190.5 1536.8,199.5 1536.3,207.0 1535.0,214.5 1533.0,222.0 1530.2,229.5 1527.2,235.5 1522.6,243.0 1518.1,249.0 1512.5,255.0 1505.7,260.9 1499.7,265.1 1492.2,269.4 1486.2,272.2 1477.2,275.3 1469.7,277.1 1462.2,278.1 1453.2,278.5 1445.7,278.1 1436.7,276.6 1429.2,274.6 1421.7,271.8 1414.2,268.1 1408.2,264.4 1402.2,259.8 1397.0,255.0 1391.7,249.0 1387.3,243.0 1383.8,237.0 1380.4,229.5 1377.8,222.0 1376.1,214.5 1374.8,205.5 1374.5,198.0 1374.8,190.5 1376.0,181.5 1377.8,174.0 1380.3,166.5 1383.7,159.0 1388.2,151.5 1392.7,145.5 1398.3,139.5 1403.7,134.7 1411.2,129.4 1418.7,125.3 1424.7,122.7 1432.2,120.3Z"/>
<path fill="#b2a4fa" d="M1203.8,120.0 1211.7,119.1 1219.2,118.9 1226.7,119.4 1234.2,120.6 1241.7,122.6 1249.2,125.3 1255.2,128.2 1262.7,132.8 1268.7,137.4 1274.2,142.5 1279.4,148.5 1283.6,154.5 1287.1,160.5 1290.4,168.0 1292.8,175.5 1294.5,183.0 1295.5,190.5 1295.8,199.5 1295.3,207.0 1294.2,214.5 1292.4,222.0 1289.7,229.5 1286.2,237.0 1282.5,243.0 1278.0,249.0 1273.2,254.3 1267.2,259.7 1261.2,264.0 1255.2,267.6 1247.7,271.1 1240.2,273.7 1232.7,275.5 1225.2,276.6 1217.7,276.9 1210.2,276.6 1201.2,275.3 1193.7,273.5 1186.2,270.8 1178.7,267.3 1171.2,262.8 1164.8,258.0 1158.4,252.0 1153.2,246.0 1148.9,240.0 1145.4,234.0 1141.9,226.5 1139.4,219.0 1137.6,211.5 1136.6,202.5 1136.5,195.0 1137.1,187.5 1138.5,180.0 1140.7,172.5 1143.8,165.0 1147.8,157.5 1151.7,151.7 1156.8,145.5 1162.2,140.1 1168.2,135.2 1174.2,131.1 1181.7,127.0 1189.2,123.8 1196.7,121.5ZM1440.7,120.0 1448.7,119.1 1456.2,118.9 1463.7,119.4 1471.2,120.6 1478.7,122.6 1486.2,125.3 1492.2,128.1 1499.7,132.5 1505.7,136.9 1511.9,142.5 1517.4,148.5 1521.8,154.5 1525.5,160.5 1529.1,168.0 1531.9,175.5 1533.7,183.0 1534.8,190.5 1535.2,198.0 1534.8,205.5 1533.7,213.0 1531.8,220.5 1529.1,228.0 1526.2,234.0 1521.7,241.5 1517.2,247.5 1511.7,253.5 1505.7,258.9 1499.7,263.3 1492.2,267.7 1484.7,271.1 1477.2,273.7 1469.7,275.5 1460.7,276.7 1453.2,276.9 1445.7,276.5 1438.2,275.4 1430.7,273.5 1423.2,270.8 1415.7,267.2 1409.7,263.6 1403.7,259.1 1397.7,253.6 1393.2,248.6 1389.1,243.0 1385.4,237.0 1381.9,229.5 1379.2,222.0 1377.4,214.5 1376.1,205.5 1375.8,198.0 1376.3,189.0 1377.4,181.5 1379.2,174.0 1381.8,166.5 1385.3,159.0 1388.9,153.0 1393.4,147.0 1398.9,141.0 1405.2,135.5 1411.2,131.2 1418.7,127.0 1426.2,123.8 1433.7,121.5Z"/>
<path fill="#afa1fa" d="M1203.7,121.5 1211.7,120.5 1219.2,120.3 1226.7,120.9 1234.2,122.1 1241.7,124.1 1249.2,126.9 1256.7,130.7 1262.7,134.5 1268.7,139.2 1273.7,144.0 1278.8,150.0 1283.0,156.0 1286.3,162.0 1289.0,168.0 1291.5,175.5 1293.2,183.0 1294.2,190.5 1294.6,198.0 1294.2,205.5 1293.2,213.0 1291.5,220.5 1288.9,228.0 1285.4,235.5 1281.9,241.5 1277.5,247.5 1272.0,253.5 1267.0,258.0 1261.2,262.3 1255.2,266.0 1247.7,269.5 1240.2,272.2 1232.7,274.0 1225.2,275.1 1217.7,275.5 1210.2,275.2 1201.2,273.8 1193.7,271.9 1186.2,269.2 1180.2,266.4 1172.7,262.0 1166.7,257.6 1160.5,252.0 1155.1,246.0 1150.7,240.0 1146.3,232.5 1143.5,226.5 1140.9,219.0 1139.1,211.5 1138.1,202.5 1138.0,195.0 1138.6,187.5 1140.1,180.0 1142.3,172.5 1144.7,166.5 1147.8,160.5 1152.6,153.0 1157.4,147.0 1162.2,142.1 1168.2,137.0 1174.2,132.8 1181.7,128.6 1189.2,125.4 1196.7,123.0ZM1440.5,121.5 1448.7,120.5 1456.2,120.3 1463.7,120.9 1471.2,122.1 1478.7,124.1 1486.2,126.9 1492.2,129.8 1499.7,134.3 1505.7,138.8 1511.7,144.4 1516.7,150.0 1521.1,156.0 1524.6,162.0 1527.5,168.0 1530.3,175.5 1532.2,183.0 1533.3,190.5 1533.7,198.0 1533.3,205.5 1532.2,213.0 1530.2,220.5 1527.4,228.0 1524.5,234.0 1519.9,241.5 1515.3,247.5 1510.2,252.9 1504.2,258.2 1498.2,262.5 1492.2,266.0 1484.7,269.5 1477.2,272.1 1469.7,274.0 1462.2,275.1 1454.7,275.5 1447.2,275.2 1439.7,274.2 1432.2,272.4 1424.7,269.8 1417.2,266.4 1411.2,262.9 1405.2,258.5 1399.2,253.1 1394.1,247.5 1389.7,241.5 1386.2,235.5 1383.3,229.5 1380.6,222.0 1378.7,214.5 1377.5,207.0 1377.1,199.5 1377.4,190.5 1378.4,183.0 1380.1,175.5 1382.6,168.0 1386.1,160.5 1389.6,154.5 1393.9,148.5 1399.2,142.7 1405.2,137.3 1411.2,132.9 1418.7,128.6 1426.2,125.4 1432.2,123.4Z"/>
<path fill="#ac9efb" d="M1203.1,123.0 1210.2,122.0 1217.7,121.7 1225.2,122.1 1232.7,123.2 1240.2,125.0 1246.2,127.1 1252.2,129.8 1259.7,134.1 1265.7,138.4 1271.7,143.8 1276.2,148.8 1280.5,154.5 1284.1,160.5 1287.6,168.0 1290.2,175.5 1291.7,181.5 1292.9,189.0 1293.4,196.5 1293.1,204.0 1292.2,211.5 1290.6,219.0 1288.1,226.5 1284.8,234.0 1281.3,240.0 1277.0,246.0 1271.7,252.0 1266.7,256.5 1260.8,261.0 1255.2,264.4 1247.7,268.1 1240.2,270.8 1232.7,272.6 1225.2,273.7 1217.7,274.1 1208.7,273.6 1201.2,272.4 1193.7,270.5 1186.2,267.7 1180.2,264.9 1173.7,261.0 1168.2,257.1 1162.2,251.8 1156.8,246.0 1152.3,240.0 1147.9,232.5 1145.0,226.5 1142.4,219.0 1140.6,211.5 1139.6,204.0 1139.3,196.5 1139.8,189.0 1141.2,181.5 1143.3,174.0 1146.3,166.5 1149.4,160.5 1153.3,154.5 1157.7,148.8 1162.2,144.0 1168.2,138.7 1174.2,134.4 1180.2,130.9 1187.7,127.4 1195.2,124.8ZM1439.9,123.0 1447.2,122.0 1454.7,121.7 1462.2,122.1 1469.7,123.2 1477.2,125.1 1484.7,127.8 1492.2,131.3 1498.2,135.0 1504.2,139.4 1510.2,144.8 1514.9,150.0 1519.4,156.0 1523.0,162.0 1526.0,168.0 1528.8,175.5 1530.8,183.0 1531.9,190.5 1532.3,198.0 1531.9,205.5 1530.7,213.0 1528.8,220.5 1525.9,228.0 1522.9,234.0 1519.2,240.0 1514.8,246.0 1510.2,251.0 1504.2,256.4 1498.2,260.8 1492.2,264.5 1484.7,268.0 1477.2,270.7 1469.7,272.6 1462.2,273.7 1454.7,274.1 1447.2,273.8 1439.7,272.8 1432.2,271.0 1426.2,269.0 1420.2,266.4 1412.7,262.2 1406.7,258.0 1400.7,252.8 1395.8,247.5 1391.3,241.5 1387.6,235.5 1384.7,229.5 1381.9,222.0 1379.9,214.5 1378.7,207.0 1378.2,199.5 1378.6,190.5 1379.6,183.0 1381.4,175.5 1384.0,168.0 1387.5,160.5 1391.1,154.5 1395.6,148.5 1400.7,143.0 1406.7,137.8 1412.7,133.6 1418.7,130.2 1426.2,126.8 1432.2,124.8Z"/>
<path fill="#a99bfb" d="M1215.9,123.0 1222.2,123.1 1229.7,123.9 1237.2,125.5 1244.7,127.9 1252.2,131.2 1258.2,134.7 1264.2,138.9 1270.1,144.0 1274.7,149.0 1279.2,154.8 1282.7,160.5 1286.3,168.0 1289.0,175.5 1290.5,181.5 1291.7,189.0 1292.2,196.5 1292.0,204.0 1291.1,211.5 1289.4,219.0 1287.4,225.0 1284.2,232.5 1280.8,238.5 1276.6,244.5 1271.7,250.2 1266.5,255.0 1260.7,259.5 1255.2,262.9 1247.7,266.7 1241.7,268.9 1234.2,271.0 1226.7,272.3 1219.2,272.8 1211.7,272.6 1204.2,271.7 1196.7,270.0 1189.2,267.6 1181.7,264.2 1175.7,260.8 1169.7,256.6 1164.3,252.0 1159.2,246.7 1155.0,241.5 1151.0,235.5 1147.1,228.0 1144.7,222.0 1142.6,214.5 1141.2,207.0 1140.7,199.5 1140.9,192.0 1141.9,184.5 1143.7,177.0 1145.8,171.0 1149.2,163.5 1152.8,157.5 1157.2,151.5 1162.2,145.9 1167.5,141.0 1173.5,136.5 1180.2,132.4 1186.2,129.5 1193.7,126.7 1201.2,124.7 1208.7,123.5ZM1452.7,123.0 1459.2,123.1 1466.7,124.0 1474.2,125.6 1481.7,128.0 1489.2,131.2 1495.2,134.6 1501.2,138.7 1507.5,144.0 1511.9,148.5 1516.7,154.5 1521.5,162.0 1524.6,168.0 1527.4,175.5 1529.1,181.5 1530.4,189.0 1530.9,196.5 1530.7,204.0 1529.7,211.5 1527.8,219.0 1525.7,225.0 1523.0,231.0 1519.2,237.7 1514.7,244.0 1510.2,249.1 1505.6,253.5 1499.7,258.2 1493.7,262.1 1486.2,266.0 1478.7,268.9 1471.2,271.0 1463.7,272.2 1456.2,272.8 1448.7,272.6 1441.2,271.7 1433.7,270.1 1426.2,267.6 1420.2,265.0 1414.2,261.6 1408.2,257.5 1402.2,252.4 1397.5,247.5 1392.8,241.5 1389.0,235.5 1385.3,228.0 1383.1,222.0 1381.1,214.5 1379.9,207.0 1379.4,199.5 1379.6,192.0 1380.5,184.5 1382.2,177.0 1384.6,169.5 1387.3,163.5 1390.7,157.5 1394.8,151.5 1400.0,145.5 1405.2,140.7 1411.2,136.1 1417.2,132.4 1423.2,129.4 1429.2,127.1 1436.7,125.0 1444.2,123.6Z"/>
<path fill="#a599fb" d="M1210.9,124.5 1217.7,124.2 1225.2,124.6 1232.7,125.7 1240.2,127.7 1246.2,129.8 1253.7,133.4 1259.7,137.1 1264.9,141.0 1270.2,145.8 1275.2,151.5 1279.6,157.5 1283.0,163.5 1285.7,169.5 1287.8,175.5 1289.7,183.0 1290.8,190.5 1291.1,198.0 1290.8,205.5 1289.7,213.0 1287.8,220.5 1285.7,226.5 1282.9,232.5 1279.4,238.5 1275.1,244.5 1270.2,250.0 1264.2,255.4 1258.2,259.7 1252.2,263.2 1246.2,266.0 1238.7,268.6 1231.2,270.3 1225.2,271.2 1217.7,271.6 1210.2,271.2 1202.7,270.2 1195.2,268.3 1189.2,266.2 1181.7,262.8 1175.7,259.3 1169.7,255.0 1163.7,249.7 1158.9,244.5 1154.5,238.5 1150.8,232.5 1147.9,226.5 1145.1,219.0 1143.5,213.0 1142.3,205.5 1141.9,198.0 1142.3,190.5 1143.5,183.0 1145.0,177.0 1147.8,169.5 1150.7,163.5 1154.3,157.5 1159.2,151.0 1164.3,145.5 1169.7,140.8 1175.7,136.5 1181.7,133.0 1189.2,129.6 1196.7,127.1 1204.2,125.4ZM1447.6,124.5 1454.7,124.2 1462.2,124.6 1469.7,125.8 1477.2,127.7 1483.2,129.9 1490.7,133.4 1496.7,137.0 1502.7,141.5 1508.7,146.9 1512.8,151.5 1517.3,157.5 1520.9,163.5 1524.5,171.0 1526.6,177.0 1528.4,184.5 1529.3,190.5 1529.7,198.0 1529.3,205.5 1528.1,213.0 1526.5,219.0 1524.4,225.0 1520.8,232.5 1517.1,238.5 1512.7,244.5 1508.6,249.0 1502.7,254.3 1496.7,258.8 1490.7,262.4 1484.7,265.3 1477.2,268.1 1469.7,270.0 1462.2,271.2 1454.7,271.6 1447.2,271.3 1439.7,270.2 1432.2,268.4 1426.2,266.3 1418.7,262.8 1412.7,259.2 1407.0,255.0 1402.2,250.8 1397.7,245.9 1393.2,240.0 1389.5,234.0 1386.6,228.0 1383.8,220.5 1381.9,213.0 1380.8,205.5 1380.4,198.0 1380.8,190.5 1381.9,183.0 1383.8,175.5 1386.5,168.0 1389.4,162.0 1393.0,156.0 1397.6,150.0 1402.2,145.0 1408.2,139.8 1414.2,135.6 1420.2,132.2 1426.2,129.5 1433.7,127.0 1441.2,125.3Z"/>
<path fill="#a298fb" d="M1207.9,126.0 1214.7,125.4 1222.2,125.5 1229.7,126.4 1237.2,128.0 1243.2,129.9 1250.7,133.2 1256.7,136.5 1262.7,140.7 1268.2,145.5 1272.5,150.0 1276.2,154.6 1280.1,160.5 1283.3,166.5 1286.2,174.0 1288.0,180.0 1289.4,187.5 1290.1,195.0 1290.0,202.5 1289.2,210.0 1287.9,216.0 1285.7,223.5 1283.2,229.5 1280.0,235.5 1276.0,241.5 1271.7,246.7 1266.4,252.0 1261.2,256.2 1255.2,260.2 1249.2,263.4 1241.7,266.4 1235.7,268.2 1228.2,269.6 1220.7,270.3 1213.2,270.3 1205.7,269.5 1198.2,267.9 1192.2,266.1 1184.7,263.0 1178.7,259.8 1172.7,255.8 1166.7,250.9 1161.8,246.0 1157.0,240.0 1153.0,234.0 1149.9,228.0 1146.8,220.5 1145.1,214.5 1143.7,207.0 1143.1,199.5 1143.4,192.0 1144.4,184.5 1145.8,178.5 1147.8,172.5 1151.2,165.0 1154.8,159.0 1159.1,153.0 1163.7,147.8 1169.5,142.5 1175.7,137.9 1181.7,134.3 1187.7,131.5 1195.2,128.7 1201.2,127.1ZM1444.6,126.0 1451.7,125.4 1459.2,125.6 1466.7,126.4 1474.2,128.1 1480.2,130.0 1487.7,133.2 1493.7,136.5 1499.7,140.6 1505.5,145.5 1509.9,150.0 1514.8,156.0 1518.7,162.0 1521.8,168.0 1524.3,174.0 1526.2,180.0 1527.7,187.5 1528.4,195.0 1528.4,201.0 1527.7,208.5 1526.1,216.0 1524.2,222.0 1521.0,229.5 1517.7,235.5 1513.5,241.5 1508.7,247.1 1504.2,251.5 1498.2,256.3 1492.2,260.2 1486.2,263.3 1478.7,266.3 1472.7,268.1 1465.2,269.6 1457.7,270.3 1450.2,270.3 1442.7,269.5 1435.2,268.0 1429.2,266.2 1421.7,263.0 1415.7,259.8 1409.7,255.7 1403.7,250.6 1399.2,245.9 1394.5,240.0 1390.8,234.0 1387.8,228.0 1385.4,222.0 1383.7,216.0 1382.2,208.5 1381.5,201.0 1381.6,193.5 1382.2,187.5 1383.6,180.0 1385.9,172.5 1388.3,166.5 1392.4,159.0 1396.2,153.5 1400.4,148.5 1405.2,143.8 1411.2,139.0 1417.2,135.2 1424.7,131.4 1430.7,129.1 1438.2,127.1Z"/>
<path fill="#9e96fb" d="M1205.4,127.5 1211.7,126.7 1219.2,126.5 1225.2,126.9 1232.7,128.1 1240.2,130.1 1246.2,132.3 1252.2,135.2 1258.2,138.8 1264.2,143.3 1268.7,147.5 1273.6,153.0 1277.9,159.0 1281.4,165.0 1284.1,171.0 1286.1,177.0 1287.9,184.5 1288.9,192.0 1289.1,199.5 1288.8,205.5 1287.6,213.0 1285.6,220.5 1283.4,226.5 1280.5,232.5 1276.8,238.5 1272.2,244.5 1268.0,249.0 1262.7,253.7 1256.7,258.0 1250.7,261.4 1244.7,264.1 1238.7,266.2 1231.2,268.0 1223.7,269.0 1217.7,269.3 1210.2,268.9 1202.7,267.8 1195.2,265.9 1187.7,263.1 1181.7,260.2 1175.7,256.5 1169.7,252.0 1164.8,247.5 1159.5,241.5 1155.3,235.5 1151.9,229.5 1149.2,223.5 1146.7,216.0 1145.3,210.0 1144.4,202.5 1144.3,195.0 1144.8,189.0 1146.2,181.5 1148.0,175.5 1151.0,168.0 1154.2,162.0 1158.2,156.0 1163.2,150.0 1167.8,145.5 1172.7,141.4 1178.7,137.4 1184.7,134.1 1192.2,130.9 1199.7,128.6ZM1442.1,127.5 1448.7,126.7 1456.2,126.5 1462.2,126.9 1469.7,128.1 1475.7,129.7 1483.2,132.4 1489.2,135.2 1495.2,138.8 1501.2,143.2 1507.0,148.5 1511.0,153.0 1515.5,159.0 1519.1,165.0 1521.9,171.0 1524.1,177.0 1526.0,184.5 1527.1,192.0 1527.3,199.5 1526.9,205.5 1525.7,213.0 1524.0,219.0 1521.2,226.5 1518.1,232.5 1514.3,238.5 1510.2,243.8 1505.7,248.6 1501.2,252.6 1495.2,257.0 1489.2,260.6 1483.2,263.4 1475.7,266.1 1468.2,268.0 1460.7,269.0 1453.2,269.3 1447.2,269.0 1439.7,267.9 1432.2,266.0 1426.2,263.8 1420.2,261.0 1414.2,257.5 1408.2,253.1 1403.6,249.0 1398.1,243.0 1393.8,237.0 1390.3,231.0 1387.6,225.0 1385.1,217.5 1383.7,211.5 1382.7,204.0 1382.5,196.5 1383.0,189.0 1384.0,183.0 1385.9,175.5 1388.1,169.5 1391.8,162.0 1395.7,156.0 1400.5,150.0 1405.0,145.5 1409.7,141.5 1415.7,137.3 1421.7,134.0 1427.7,131.4 1433.7,129.4Z"/>
<path fill="#9b95fc" d="M1203.1,129.0 1210.2,127.9 1217.7,127.6 1225.2,128.0 1231.2,128.9 1238.7,130.7 1244.7,132.8 1250.7,135.6 1256.7,139.1 1262.7,143.4 1267.2,147.4 1271.7,152.2 1275.7,157.5 1279.5,163.5 1282.4,169.5 1284.7,175.5 1286.3,181.5 1287.5,187.5 1288.1,195.0 1288.1,202.5 1287.2,210.0 1285.9,216.0 1283.5,223.5 1280.9,229.5 1277.6,235.5 1273.4,241.5 1268.7,246.9 1264.2,251.1 1258.2,255.7 1252.2,259.4 1246.2,262.3 1240.2,264.6 1232.7,266.6 1226.7,267.7 1219.2,268.2 1211.7,268.0 1205.7,267.3 1199.7,266.1 1192.2,263.8 1184.7,260.5 1178.7,257.2 1172.7,253.0 1166.7,247.8 1162.2,243.0 1157.7,237.2 1153.9,231.0 1151.0,225.0 1148.2,217.5 1146.7,211.5 1145.8,205.5 1145.4,198.0 1145.8,190.5 1146.7,184.5 1148.2,178.5 1150.9,171.0 1153.8,165.0 1157.4,159.0 1162.0,153.0 1166.2,148.5 1171.2,144.0 1177.2,139.6 1183.2,136.0 1189.2,133.2 1195.2,131.0ZM1439.7,129.0 1445.7,128.0 1453.2,127.6 1460.7,127.9 1466.7,128.6 1472.7,129.9 1480.2,132.3 1487.7,135.7 1493.7,139.1 1499.7,143.4 1505.4,148.5 1509.6,153.0 1514.2,159.0 1517.0,163.5 1520.1,169.5 1523.0,177.0 1524.6,183.0 1525.8,190.5 1526.2,196.5 1526.0,204.0 1525.1,210.0 1523.4,217.5 1521.3,223.5 1518.5,229.5 1515.0,235.5 1510.7,241.5 1505.7,247.0 1501.2,251.2 1495.2,255.7 1489.2,259.3 1483.2,262.3 1477.2,264.5 1469.7,266.6 1462.2,267.8 1456.2,268.2 1448.7,268.0 1442.7,267.3 1435.2,265.8 1427.7,263.3 1421.7,260.6 1415.7,257.2 1409.7,253.0 1405.1,249.0 1400.7,244.5 1396.0,238.5 1392.2,232.5 1389.3,226.5 1386.5,219.0 1385.0,213.0 1383.8,205.5 1383.4,199.5 1383.6,192.0 1384.6,184.5 1386.5,177.0 1388.6,171.0 1391.3,165.0 1394.9,159.0 1399.2,153.1 1403.7,148.1 1408.2,144.0 1414.2,139.5 1420.2,135.9 1426.2,133.1 1432.2,130.9Z"/>
<path fill="#9794fc" d="M1209.7,129.0 1216.2,128.6 1223.7,128.8 1231.2,129.9 1237.2,131.3 1243.2,133.3 1249.2,135.9 1255.2,139.3 1261.2,143.5 1266.9,148.5 1271.1,153.0 1274.7,157.7 1278.4,163.5 1281.4,169.5 1284.2,177.0 1285.8,183.0 1286.8,189.0 1287.3,195.0 1287.2,202.5 1286.3,210.0 1285.0,216.0 1283.1,222.0 1279.9,229.5 1276.5,235.5 1273.2,240.2 1268.7,245.5 1264.2,249.8 1258.2,254.5 1252.2,258.3 1246.2,261.3 1240.2,263.6 1234.2,265.3 1226.7,266.7 1219.2,267.2 1213.2,267.1 1205.7,266.3 1199.7,265.0 1193.7,263.2 1186.2,260.1 1180.2,256.9 1174.2,252.9 1168.2,247.9 1163.7,243.2 1159.9,238.5 1155.9,232.5 1152.8,226.5 1149.8,219.0 1148.1,213.0 1146.8,205.5 1146.4,199.5 1146.7,192.0 1147.7,184.5 1149.2,178.5 1151.4,172.5 1154.1,166.5 1157.7,160.5 1162.1,154.5 1166.1,150.0 1171.2,145.3 1177.2,140.8 1183.2,137.2 1189.2,134.3 1196.7,131.6 1202.7,130.1ZM1446.3,129.0 1453.2,128.6 1460.7,128.9 1466.7,129.7 1474.2,131.4 1480.2,133.4 1486.2,136.0 1492.2,139.4 1498.2,143.5 1504.0,148.5 1508.3,153.0 1511.8,157.5 1515.8,163.5 1518.9,169.5 1521.4,175.5 1523.2,181.5 1524.6,189.0 1525.1,195.0 1525.0,202.5 1524.4,208.5 1522.7,216.0 1520.7,222.0 1518.1,228.0 1514.8,234.0 1510.6,240.0 1505.7,245.6 1501.2,249.8 1496.6,253.5 1490.7,257.3 1484.7,260.5 1477.2,263.5 1471.2,265.2 1463.7,266.6 1456.2,267.2 1450.2,267.1 1442.7,266.3 1435.2,264.7 1429.2,262.8 1423.2,260.3 1417.2,257.0 1411.2,252.9 1405.2,247.8 1400.7,243.0 1397.2,238.5 1393.3,232.5 1390.3,226.5 1388.0,220.5 1386.2,214.5 1384.9,207.0 1384.4,201.0 1384.4,193.5 1385.0,187.5 1386.6,180.0 1389.0,172.5 1391.6,166.5 1395.0,160.5 1399.2,154.6 1403.7,149.5 1408.2,145.3 1414.2,140.7 1420.2,137.1 1426.2,134.2 1433.7,131.5 1439.7,130.0Z"/>
<path fill="#9493fc" d="M1205.7,130.5 1211.7,129.7 1219.2,129.5 1225.2,129.9 1232.7,131.1 1238.7,132.7 1246.2,135.6 1252.2,138.6 1256.7,141.4 1262.2,145.5 1267.1,150.0 1271.1,154.5 1275.5,160.5 1279.0,166.5 1281.7,172.5 1283.7,178.5 1285.2,184.5 1286.1,190.5 1286.5,198.0 1286.1,205.5 1285.1,211.5 1283.7,217.5 1281.6,223.5 1278.9,229.5 1275.4,235.5 1271.7,240.6 1267.2,245.7 1262.7,249.9 1256.7,254.4 1250.7,258.0 1244.7,260.9 1238.7,263.1 1231.2,265.0 1223.7,266.0 1217.7,266.3 1210.2,265.9 1202.7,264.7 1196.7,263.2 1189.2,260.5 1183.2,257.5 1177.2,253.8 1171.2,249.2 1166.7,245.0 1162.3,240.0 1158.0,234.0 1154.6,228.0 1151.9,222.0 1149.9,216.0 1148.5,210.0 1147.7,204.0 1147.4,196.5 1148.0,189.0 1149.1,183.0 1151.3,175.5 1153.7,169.5 1156.9,163.5 1159.9,159.0 1164.6,153.0 1169.0,148.5 1174.2,144.1 1180.2,140.0 1186.2,136.7 1192.2,134.1 1199.7,131.8ZM1442.3,130.5 1448.7,129.7 1456.2,129.5 1462.2,130.0 1469.7,131.2 1475.7,132.8 1483.2,135.7 1489.2,138.7 1493.7,141.5 1499.1,145.5 1504.1,150.0 1508.3,154.5 1512.8,160.5 1516.4,166.5 1519.2,172.5 1521.3,178.5 1523.1,186.0 1524.1,193.5 1524.2,199.5 1523.6,207.0 1522.5,213.0 1520.8,219.0 1518.5,225.0 1515.4,231.0 1511.6,237.0 1507.2,242.5 1502.7,247.2 1498.2,251.1 1492.2,255.3 1486.2,258.7 1480.2,261.4 1474.2,263.4 1466.7,265.2 1459.2,266.1 1453.2,266.3 1447.2,266.0 1439.7,264.8 1433.7,263.3 1426.2,260.6 1420.2,257.7 1414.2,254.0 1408.2,249.3 1403.7,245.0 1399.4,240.0 1395.2,234.0 1392.0,228.0 1389.4,222.0 1387.5,216.0 1386.2,210.0 1385.3,202.5 1385.1,196.5 1385.5,190.5 1386.7,183.0 1388.3,177.0 1390.5,171.0 1393.4,165.0 1397.1,159.0 1401.7,153.0 1406.0,148.5 1411.2,144.1 1417.2,139.9 1423.2,136.6 1429.2,134.0 1436.7,131.7Z"/>
<path fill="#9093fc" d="M1214.3,130.5 1220.7,130.5 1228.2,131.2 1235.7,132.8 1241.7,134.7 1247.7,137.2 1253.7,140.5 1259.7,144.6 1264.2,148.4 1268.7,153.0 1272.4,157.5 1276.4,163.5 1279.5,169.5 1281.9,175.5 1284.0,183.0 1285.1,189.0 1285.6,195.0 1285.6,201.0 1284.8,208.5 1283.6,214.5 1281.8,220.5 1279.4,226.5 1276.3,232.5 1272.2,238.5 1268.5,243.0 1264.2,247.4 1259.7,251.2 1253.7,255.3 1247.7,258.6 1240.2,261.6 1234.2,263.4 1226.7,264.8 1220.7,265.3 1213.2,265.3 1207.2,264.6 1201.2,263.5 1195.2,261.8 1187.7,258.8 1181.7,255.6 1175.7,251.7 1171.2,248.0 1166.7,243.7 1162.3,238.5 1158.1,232.5 1154.9,226.5 1152.3,220.5 1150.5,214.5 1149.2,208.5 1148.4,201.0 1148.4,195.0 1149.1,187.5 1150.4,181.5 1152.2,175.5 1154.8,169.5 1158.0,163.5 1162.1,157.5 1166.7,152.1 1171.2,147.8 1177.2,143.1 1181.7,140.2 1187.7,137.0 1193.7,134.5 1201.2,132.3 1207.2,131.2ZM1450.8,130.5 1457.7,130.5 1463.7,131.1 1471.2,132.5 1477.2,134.3 1484.7,137.4 1490.7,140.6 1496.7,144.7 1501.2,148.5 1505.7,153.0 1509.5,157.5 1513.6,163.5 1516.8,169.5 1519.3,175.5 1521.2,181.5 1522.7,189.0 1523.2,195.0 1523.2,201.0 1522.7,207.0 1521.2,214.5 1519.3,220.5 1516.7,226.5 1513.5,232.5 1509.3,238.5 1505.5,243.0 1501.0,247.5 1495.2,252.2 1489.2,256.0 1483.2,259.1 1477.2,261.5 1471.2,263.3 1463.7,264.7 1457.7,265.3 1450.2,265.3 1444.2,264.7 1436.7,263.2 1430.7,261.4 1424.7,258.9 1418.7,255.8 1412.7,251.8 1408.2,248.1 1403.7,243.7 1399.4,238.5 1395.3,232.5 1392.2,226.5 1389.8,220.5 1388.0,214.5 1386.5,207.0 1386.0,201.0 1386.1,193.5 1386.7,187.5 1387.9,181.5 1389.7,175.5 1392.1,169.5 1395.2,163.5 1399.2,157.5 1403.7,152.1 1408.2,147.7 1414.2,142.9 1418.7,140.0 1424.7,136.9 1430.7,134.4 1436.7,132.6 1444.2,131.1Z"/>
<path fill="#8c95fd" d="M1207.5,132.0 1214.7,131.3 1220.7,131.3 1228.2,132.1 1234.2,133.3 1240.2,135.1 1246.2,137.5 1252.2,140.6 1258.2,144.5 1263.1,148.5 1267.6,153.0 1271.4,157.5 1275.4,163.5 1278.6,169.5 1281.1,175.5 1282.9,181.5 1284.1,187.5 1284.8,193.5 1284.8,201.0 1284.3,207.0 1283.2,213.0 1281.5,219.0 1278.5,226.5 1275.3,232.5 1272.3,237.0 1268.7,241.6 1264.2,246.3 1259.7,250.1 1253.7,254.3 1247.7,257.6 1241.7,260.2 1235.7,262.1 1228.2,263.7 1220.7,264.5 1214.7,264.5 1207.2,263.8 1201.2,262.6 1195.2,260.9 1189.2,258.5 1183.2,255.5 1177.2,251.7 1171.2,246.9 1166.7,242.4 1162.3,237.0 1158.3,231.0 1155.1,225.0 1152.7,219.0 1151.0,213.0 1149.8,207.0 1149.3,201.0 1149.3,193.5 1150.0,187.5 1151.3,181.5 1153.2,175.5 1155.7,169.5 1159.1,163.5 1163.2,157.5 1168.2,151.8 1172.7,147.6 1178.7,143.1 1183.2,140.3 1189.2,137.3 1195.2,134.9 1201.2,133.2ZM1444.0,132.0 1450.2,131.4 1457.7,131.4 1465.2,132.2 1471.2,133.4 1477.2,135.2 1483.2,137.6 1489.2,140.8 1495.2,144.7 1499.9,148.5 1504.5,153.0 1508.4,157.5 1512.6,163.5 1515.9,169.5 1518.4,175.5 1520.3,181.5 1521.6,187.5 1522.3,195.0 1522.3,201.0 1521.5,208.5 1520.2,214.5 1518.3,220.5 1515.8,226.5 1512.4,232.5 1509.4,237.0 1505.7,241.5 1501.2,246.1 1496.7,250.0 1490.7,254.1 1484.7,257.5 1478.7,260.0 1472.7,262.0 1465.2,263.6 1457.7,264.4 1451.7,264.5 1444.2,263.8 1438.2,262.7 1432.2,261.0 1426.2,258.7 1420.2,255.7 1414.2,251.8 1408.8,247.5 1404.2,243.0 1400.4,238.5 1396.3,232.5 1393.1,226.5 1390.6,220.5 1388.8,214.5 1387.5,208.5 1386.8,201.0 1386.8,195.0 1387.5,187.5 1388.7,181.5 1391.1,174.0 1393.7,168.0 1397.1,162.0 1400.2,157.5 1405.2,151.7 1409.7,147.5 1415.7,142.9 1420.2,140.1 1426.2,137.1 1432.2,134.8 1438.2,133.1Z"/>
<path fill="#8898fd" d="M1203.7,133.5 1210.2,132.5 1216.2,132.1 1223.7,132.3 1229.7,133.2 1235.7,134.5 1243.2,137.0 1249.2,139.8 1253.7,142.4 1259.7,146.7 1264.2,150.6 1268.7,155.4 1272.6,160.5 1275.5,165.0 1278.5,171.0 1280.8,177.0 1282.5,183.0 1283.6,189.0 1284.2,196.5 1284.0,202.5 1283.3,208.5 1282.1,214.5 1280.2,220.5 1277.0,228.0 1274.4,232.5 1271.4,237.0 1266.4,243.0 1261.6,247.5 1256.7,251.4 1252.2,254.3 1246.2,257.5 1238.7,260.4 1232.7,262.0 1226.7,263.1 1220.7,263.7 1213.2,263.6 1207.2,262.9 1201.2,261.8 1193.7,259.5 1187.7,256.9 1181.7,253.7 1175.7,249.5 1171.2,245.8 1166.7,241.2 1162.2,235.5 1158.4,229.5 1155.4,223.5 1153.1,217.5 1151.5,211.5 1150.5,205.5 1150.1,199.5 1150.3,192.0 1151.2,186.0 1152.6,180.0 1155.3,172.5 1158.2,166.5 1161.0,162.0 1165.2,156.4 1169.7,151.5 1174.2,147.4 1180.2,143.1 1186.2,139.6 1192.2,136.9 1198.2,134.9ZM1440.2,133.5 1447.2,132.4 1453.2,132.1 1460.7,132.4 1466.7,133.2 1472.7,134.6 1480.2,137.2 1486.2,140.0 1490.7,142.6 1496.7,146.9 1501.2,150.8 1505.7,155.6 1509.6,160.5 1512.5,165.0 1515.6,171.0 1518.1,177.0 1519.8,183.0 1520.9,189.0 1521.5,195.0 1521.4,202.5 1520.7,208.5 1519.4,214.5 1517.4,220.5 1514.8,226.5 1511.4,232.5 1507.2,238.4 1503.2,243.0 1498.4,247.5 1493.7,251.2 1489.2,254.1 1483.2,257.3 1475.7,260.2 1469.7,261.9 1463.7,263.0 1457.7,263.6 1450.2,263.6 1444.2,263.0 1436.7,261.5 1430.7,259.6 1424.7,257.1 1418.7,253.9 1412.7,249.7 1408.3,246.0 1403.9,241.5 1400.2,237.0 1397.2,232.5 1393.9,226.5 1390.8,219.0 1389.1,213.0 1388.0,207.0 1387.5,201.0 1387.6,193.5 1388.2,187.5 1389.5,181.5 1391.9,174.0 1394.5,168.0 1398.0,162.0 1402.2,156.3 1406.5,151.5 1411.2,147.3 1415.7,143.9 1421.7,140.2 1427.7,137.3 1433.7,135.2Z"/>
<path fill="#839afe" d="M1208.3,133.5 1214.7,132.9 1220.7,132.9 1226.7,133.5 1232.7,134.5 1238.7,136.2 1244.7,138.5 1250.7,141.5 1256.7,145.4 1261.2,148.9 1265.7,153.2 1269.5,157.5 1273.7,163.5 1277.0,169.5 1279.6,175.5 1281.4,181.5 1282.7,187.5 1283.4,193.5 1283.4,201.0 1282.9,207.0 1281.4,214.5 1279.5,220.5 1276.9,226.5 1273.6,232.5 1270.5,237.0 1265.7,242.6 1261.2,246.9 1255.2,251.5 1250.7,254.3 1244.7,257.3 1240.2,259.1 1234.2,260.9 1228.2,262.1 1220.7,262.9 1214.7,262.9 1207.2,262.2 1201.2,260.9 1193.7,258.6 1187.7,256.1 1181.7,252.8 1177.2,249.7 1172.7,246.0 1168.1,241.5 1164.3,237.0 1160.2,231.0 1156.9,225.0 1154.5,219.0 1152.7,213.0 1151.5,207.0 1150.9,201.0 1150.9,195.0 1151.5,189.0 1152.6,183.0 1154.4,177.0 1156.8,171.0 1160.0,165.0 1164.1,159.0 1168.2,154.2 1172.7,149.8 1177.2,146.1 1183.2,142.1 1189.2,139.0 1195.2,136.6 1202.7,134.5ZM1444.7,133.5 1451.7,132.9 1457.7,132.9 1463.7,133.5 1469.7,134.7 1475.7,136.4 1481.7,138.7 1487.7,141.7 1493.7,145.6 1498.2,149.1 1502.7,153.4 1506.3,157.5 1510.6,163.5 1514.1,169.5 1516.7,175.5 1518.6,181.5 1519.9,187.5 1520.6,193.5 1520.7,201.0 1520.1,207.0 1518.9,213.0 1517.2,219.0 1515.4,223.5 1512.3,229.5 1508.4,235.5 1504.2,240.8 1499.7,245.3 1493.7,250.2 1489.2,253.2 1483.2,256.4 1477.2,258.9 1471.2,260.8 1465.2,262.0 1457.7,262.9 1451.7,262.9 1445.7,262.4 1439.7,261.4 1433.7,259.8 1427.7,257.6 1421.7,254.7 1415.7,251.0 1411.1,247.5 1406.3,243.0 1402.2,238.4 1398.0,232.5 1394.7,226.5 1392.1,220.5 1390.2,214.5 1389.0,208.5 1388.2,201.0 1388.2,195.0 1388.7,189.0 1389.8,183.0 1391.5,177.0 1393.9,171.0 1397.0,165.0 1401.0,159.0 1405.2,153.9 1409.7,149.5 1414.2,145.9 1420.2,141.9 1426.2,138.8 1430.7,137.0 1438.2,134.7Z"/>
<path fill="#7f9cfe" d="M1203.8,135.0 1210.2,134.0 1216.2,133.6 1222.2,133.7 1228.2,134.4 1234.2,135.6 1240.2,137.5 1246.2,140.0 1252.2,143.2 1258.2,147.3 1262.7,151.2 1267.2,155.9 1270.9,160.5 1273.8,165.0 1277.0,171.0 1279.4,177.0 1281.1,183.0 1282.2,189.0 1282.8,195.0 1282.7,202.5 1282.0,208.5 1280.7,214.5 1278.8,220.5 1276.2,226.5 1272.8,232.5 1268.7,238.2 1264.4,243.0 1259.7,247.3 1255.2,250.6 1249.2,254.3 1243.2,257.2 1238.7,258.8 1232.7,260.5 1226.7,261.6 1220.7,262.2 1213.2,262.1 1207.2,261.4 1201.2,260.2 1195.2,258.4 1189.2,256.0 1183.2,252.8 1178.7,249.9 1172.7,245.1 1168.2,240.5 1164.1,235.5 1160.1,229.5 1157.0,223.5 1154.7,217.5 1153.1,211.5 1152.0,205.5 1151.6,199.5 1151.8,193.5 1152.4,187.5 1153.8,181.5 1155.7,175.5 1158.4,169.5 1161.8,163.5 1166.3,157.5 1170.3,153.0 1174.2,149.4 1180.2,144.9 1186.2,141.3 1192.2,138.5 1198.2,136.4ZM1440.3,135.0 1447.2,133.9 1453.2,133.6 1459.2,133.8 1465.2,134.5 1471.2,135.8 1477.2,137.7 1483.2,140.2 1489.2,143.5 1495.2,147.6 1499.7,151.5 1504.1,156.0 1507.7,160.5 1510.7,165.0 1514.0,171.0 1516.4,177.0 1518.2,183.0 1519.4,189.0 1520.0,195.0 1520.0,201.0 1519.3,207.0 1518.2,213.0 1515.8,220.5 1513.9,225.0 1510.6,231.0 1506.4,237.0 1502.7,241.3 1498.2,245.7 1493.7,249.3 1489.2,252.3 1483.2,255.6 1475.7,258.7 1469.7,260.4 1463.7,261.5 1457.7,262.1 1450.2,262.1 1444.2,261.5 1438.2,260.4 1432.2,258.6 1426.2,256.2 1420.2,253.1 1415.7,250.2 1409.7,245.4 1405.2,240.9 1400.9,235.5 1397.0,229.5 1394.7,225.0 1392.3,219.0 1390.5,213.0 1389.4,207.0 1388.8,201.0 1388.9,193.5 1389.6,187.5 1390.8,181.5 1392.7,175.5 1395.3,169.5 1398.7,163.5 1403.0,157.5 1407.0,153.0 1412.0,148.5 1417.2,144.6 1421.7,141.9 1427.7,138.9 1433.7,136.7Z"/>
<path fill="#7b9eff" d="M1207.7,135.0 1214.7,134.3 1220.7,134.3 1226.7,134.9 1232.7,136.0 1238.7,137.7 1244.7,140.0 1250.7,143.1 1255.2,146.0 1259.7,149.4 1264.2,153.6 1268.7,158.7 1272.2,163.5 1275.6,169.5 1278.2,175.5 1280.1,181.5 1281.4,187.5 1282.1,193.5 1282.2,199.5 1281.8,205.5 1280.8,211.5 1279.2,217.5 1276.9,223.5 1273.9,229.5 1271.0,234.0 1267.6,238.5 1263.4,243.0 1258.3,247.5 1253.7,250.9 1247.7,254.4 1241.7,257.1 1235.7,259.1 1229.7,260.5 1223.7,261.3 1217.7,261.6 1211.7,261.3 1204.2,260.2 1198.2,258.7 1190.7,255.9 1184.7,252.9 1180.2,250.1 1175.7,246.7 1171.2,242.7 1166.7,237.7 1162.8,232.5 1159.3,226.5 1156.6,220.5 1154.6,214.5 1153.2,208.5 1152.4,202.5 1152.3,195.0 1152.9,189.0 1154.1,183.0 1155.9,177.0 1158.4,171.0 1161.7,165.0 1164.8,160.5 1168.5,156.0 1172.9,151.5 1177.2,147.9 1183.2,143.8 1189.2,140.6 1195.2,138.1 1201.2,136.3ZM1444.0,135.0 1450.2,134.3 1456.2,134.3 1462.2,134.8 1469.7,136.1 1475.7,137.9 1481.7,140.3 1487.7,143.4 1492.2,146.3 1497.0,150.0 1501.8,154.5 1506.8,160.5 1509.9,165.0 1512.4,169.5 1515.1,175.5 1517.1,181.5 1518.4,187.5 1519.1,193.5 1519.3,199.5 1518.8,205.5 1517.8,211.5 1516.1,217.5 1513.8,223.5 1510.7,229.5 1507.8,234.0 1504.2,238.6 1499.7,243.4 1494.9,247.5 1489.2,251.5 1483.2,254.8 1477.2,257.4 1471.2,259.3 1465.2,260.6 1457.7,261.5 1451.7,261.5 1445.7,261.0 1439.7,260.0 1433.7,258.4 1427.7,256.1 1421.7,253.2 1415.7,249.4 1411.2,245.8 1406.7,241.5 1402.8,237.0 1398.6,231.0 1395.4,225.0 1393.5,220.5 1391.6,214.5 1390.3,208.5 1389.5,202.5 1389.4,195.0 1390.0,189.0 1391.1,183.0 1392.9,177.0 1395.3,171.0 1398.5,165.0 1401.5,160.5 1405.2,155.9 1409.7,151.3 1414.2,147.6 1420.2,143.5 1426.2,140.3 1430.7,138.4 1438.2,136.1Z"/>
<path fill="#77a1ff" d="M1214.0,135.0 1220.7,135.0 1226.7,135.5 1232.7,136.6 1238.7,138.3 1243.2,140.0 1249.2,143.0 1255.2,146.7 1259.7,150.2 1264.2,154.5 1268.2,159.0 1271.7,163.9 1274.9,169.5 1277.5,175.5 1279.5,181.5 1280.8,187.5 1281.5,193.5 1281.6,199.5 1281.2,205.5 1280.2,211.5 1278.5,217.5 1276.2,223.5 1273.1,229.5 1269.2,235.5 1265.7,239.7 1261.2,244.3 1256.7,248.0 1252.2,251.1 1246.2,254.4 1240.2,256.9 1234.2,258.8 1228.2,260.1 1222.2,260.8 1214.7,260.8 1208.7,260.3 1202.7,259.2 1196.7,257.5 1190.7,255.2 1184.7,252.1 1178.7,248.2 1174.2,244.6 1169.7,240.2 1165.8,235.5 1162.6,231.0 1159.3,225.0 1156.7,219.0 1154.8,213.0 1153.6,207.0 1153.0,201.0 1153.0,195.0 1153.6,189.0 1154.8,183.0 1156.6,177.0 1158.4,172.5 1161.6,166.5 1165.6,160.5 1169.7,155.6 1174.2,151.2 1178.7,147.6 1183.2,144.6 1189.2,141.3 1195.2,138.8 1201.2,137.0 1207.2,135.7ZM1450.3,135.0 1456.2,134.9 1463.7,135.6 1469.7,136.8 1475.7,138.5 1480.2,140.3 1486.2,143.3 1490.7,146.0 1496.7,150.6 1501.2,154.9 1506.0,160.5 1509.1,165.0 1512.4,171.0 1515.0,177.0 1516.8,183.0 1518.0,189.0 1518.6,195.0 1518.6,201.0 1518.0,207.0 1516.8,213.0 1514.9,219.0 1512.3,225.0 1509.9,229.5 1505.8,235.5 1502.1,240.0 1497.5,244.5 1492.2,248.7 1487.7,251.7 1481.7,254.8 1475.7,257.3 1469.7,259.0 1463.7,260.2 1457.7,260.8 1450.2,260.8 1444.2,260.2 1438.2,259.0 1432.2,257.2 1427.7,255.5 1421.7,252.4 1415.7,248.6 1411.2,245.0 1406.7,240.6 1402.4,235.5 1398.4,229.5 1396.1,225.0 1393.6,219.0 1391.8,213.0 1390.6,207.0 1390.0,201.0 1390.0,195.0 1390.6,189.0 1391.7,183.0 1393.5,177.0 1395.3,172.5 1398.3,166.5 1402.2,160.6 1406.0,156.0 1410.4,151.5 1415.7,147.2 1421.7,143.4 1426.2,141.0 1432.2,138.6 1438.2,136.8 1444.2,135.6Z"/>
<path fill="#71a3ff" d="M1206.3,136.5 1213.2,135.6 1219.2,135.5 1225.2,135.9 1231.2,136.9 1237.2,138.5 1243.2,140.7 1249.2,143.7 1253.7,146.4 1258.2,149.8 1262.7,153.8 1267.2,158.8 1270.7,163.5 1273.4,168.0 1276.3,174.0 1278.4,180.0 1279.9,186.0 1280.8,192.0 1281.1,198.0 1280.7,204.0 1279.9,210.0 1278.4,216.0 1276.2,222.0 1273.3,228.0 1270.6,232.5 1267.2,237.0 1262.7,242.0 1258.2,246.0 1253.7,249.4 1247.7,252.9 1243.2,255.1 1237.2,257.3 1231.2,258.9 1225.2,259.9 1219.2,260.3 1211.7,260.0 1205.7,259.2 1199.7,257.8 1193.7,255.8 1187.7,253.1 1181.7,249.6 1177.2,246.3 1172.7,242.4 1168.2,237.5 1164.4,232.5 1161.6,228.0 1158.6,222.0 1156.4,216.0 1154.8,210.0 1153.9,204.0 1153.6,198.0 1153.9,192.0 1154.8,186.0 1156.3,180.0 1158.5,174.0 1161.4,168.0 1164.2,163.5 1168.2,158.3 1172.7,153.4 1177.2,149.5 1181.7,146.2 1187.7,142.7 1193.7,140.0 1201.2,137.6ZM1442.6,136.5 1448.7,135.7 1454.7,135.5 1460.7,135.8 1468.2,137.1 1474.2,138.7 1480.2,141.0 1484.7,143.2 1490.7,146.8 1495.2,150.2 1499.7,154.2 1504.0,159.0 1507.4,163.5 1511.0,169.5 1513.1,174.0 1515.3,180.0 1516.8,186.0 1517.7,192.0 1518.0,198.0 1517.7,204.0 1516.8,210.0 1515.3,216.0 1513.0,222.0 1510.9,226.5 1507.2,232.5 1503.8,237.0 1499.7,241.6 1494.8,246.0 1489.2,250.0 1484.7,252.6 1478.7,255.5 1472.7,257.6 1466.7,259.1 1459.2,260.1 1453.2,260.3 1447.2,260.0 1441.2,259.0 1435.2,257.6 1429.2,255.4 1423.2,252.6 1418.7,249.9 1413.4,246.0 1408.4,241.5 1404.4,237.0 1401.0,232.5 1398.3,228.0 1395.4,222.0 1393.2,216.0 1391.7,210.0 1390.8,204.0 1390.6,196.5 1391.0,190.5 1392.0,184.5 1393.6,178.5 1395.9,172.5 1399.0,166.5 1401.9,162.0 1405.5,157.5 1409.7,153.0 1414.2,149.1 1420.2,144.9 1426.2,141.7 1430.7,139.8 1436.7,137.8Z"/>
<path fill="#6ba6ff" d="M1210.5,136.5 1217.7,136.1 1223.7,136.4 1229.7,137.2 1235.7,138.7 1241.7,140.7 1246.2,142.8 1252.2,146.2 1256.7,149.3 1261.2,153.2 1265.7,157.9 1268.9,162.0 1272.8,168.0 1275.0,172.5 1277.4,178.5 1279.0,184.5 1280.0,190.5 1280.5,196.5 1280.3,202.5 1279.6,208.5 1278.2,214.5 1276.2,220.5 1273.5,226.5 1270.8,231.0 1267.2,236.1 1263.8,240.0 1259.1,244.5 1253.7,248.7 1249.2,251.5 1243.2,254.4 1237.2,256.7 1231.2,258.3 1225.2,259.3 1219.2,259.7 1213.2,259.5 1207.2,258.9 1201.2,257.6 1195.2,255.7 1189.2,253.1 1183.2,249.8 1178.7,246.7 1174.2,242.9 1169.7,238.3 1166.2,234.0 1162.3,228.0 1159.9,223.5 1157.5,217.5 1155.8,211.5 1154.7,205.5 1154.2,199.5 1154.4,193.5 1155.1,187.5 1156.5,181.5 1158.5,175.5 1161.3,169.5 1165.0,163.5 1168.2,159.2 1172.5,154.5 1177.2,150.3 1181.7,147.0 1187.7,143.4 1192.2,141.3 1198.2,139.1 1204.2,137.5ZM1446.8,136.5 1453.2,136.1 1459.2,136.3 1465.2,137.1 1471.2,138.4 1477.2,140.4 1483.2,143.1 1489.2,146.5 1493.7,149.7 1498.2,153.6 1502.7,158.4 1506.6,163.5 1509.5,168.0 1512.4,174.0 1514.2,178.5 1515.9,184.5 1516.9,190.5 1517.4,196.5 1517.2,202.5 1516.5,208.5 1515.1,214.5 1513.6,219.0 1511.0,225.0 1507.5,231.0 1504.3,235.5 1500.4,240.0 1495.6,244.5 1490.7,248.3 1486.2,251.1 1480.2,254.2 1474.2,256.5 1468.2,258.1 1462.2,259.2 1456.2,259.7 1450.2,259.6 1444.2,259.0 1438.2,257.8 1432.2,255.9 1426.2,253.4 1420.2,250.1 1415.7,247.1 1410.8,243.0 1406.4,238.5 1402.8,234.0 1399.2,228.4 1396.7,223.5 1394.3,217.5 1392.6,211.5 1391.6,205.5 1391.2,199.5 1391.4,192.0 1392.3,186.0 1393.8,180.0 1395.9,174.0 1398.0,169.5 1401.6,163.5 1405.0,159.0 1409.0,154.5 1412.7,151.1 1417.2,147.6 1423.2,143.9 1429.2,141.0 1435.2,138.9 1441.2,137.4Z"/>
<path fill="#65a8ff" d="M1204.7,138.0 1211.7,137.0 1217.7,136.7 1223.7,137.0 1229.7,137.8 1235.7,139.3 1241.7,141.4 1247.3,144.0 1252.2,146.8 1256.7,150.1 1261.7,154.5 1265.9,159.0 1269.3,163.5 1272.1,168.0 1275.0,174.0 1276.7,178.5 1278.4,184.5 1279.4,190.5 1279.9,196.5 1279.7,202.5 1279.0,208.5 1277.6,214.5 1275.6,220.5 1273.2,225.7 1270.2,230.9 1266.9,235.5 1262.7,240.3 1258.2,244.5 1253.7,247.9 1249.2,250.8 1243.2,253.8 1238.7,255.6 1232.7,257.3 1226.7,258.5 1220.7,259.1 1214.7,259.1 1208.7,258.5 1202.7,257.4 1196.7,255.6 1190.7,253.2 1184.7,250.0 1180.2,247.1 1175.2,243.0 1170.6,238.5 1166.7,233.7 1162.9,228.0 1160.6,223.5 1158.1,217.5 1156.4,211.5 1155.3,205.5 1154.8,199.5 1155.0,193.5 1155.7,187.5 1157.1,181.5 1159.2,175.5 1162.0,169.5 1164.7,165.0 1168.2,160.2 1172.7,155.1 1177.2,151.0 1181.7,147.7 1186.2,144.9 1192.2,141.9 1198.2,139.7ZM1441.0,138.0 1447.2,137.0 1453.2,136.7 1459.2,136.9 1465.2,137.7 1471.2,139.0 1477.2,141.0 1483.2,143.7 1487.7,146.3 1493.1,150.0 1498.2,154.4 1502.4,159.0 1505.7,163.2 1508.8,168.0 1511.8,174.0 1513.5,178.5 1515.3,184.5 1516.3,190.5 1516.8,196.5 1516.6,202.5 1515.8,208.5 1514.4,214.5 1512.3,220.5 1510.3,225.0 1507.2,230.4 1503.5,235.5 1499.7,239.8 1495.2,244.1 1490.7,247.6 1486.1,250.5 1480.2,253.5 1474.2,255.9 1468.2,257.5 1462.2,258.6 1456.2,259.1 1450.2,259.0 1444.2,258.4 1438.2,257.2 1432.2,255.3 1426.2,252.8 1420.2,249.5 1415.2,246.0 1410.1,241.5 1405.9,237.0 1402.5,232.5 1399.2,227.2 1396.6,222.0 1394.7,216.8 1393.2,211.5 1392.2,205.5 1391.7,199.5 1391.9,193.5 1392.6,187.5 1393.9,181.5 1395.9,175.5 1398.7,169.5 1401.3,165.0 1405.2,159.6 1409.7,154.7 1414.2,150.6 1418.7,147.3 1423.2,144.6 1429.2,141.7 1435.2,139.5Z"/>
<path fill="#60abff" d="M1208.0,138.0 1214.7,137.3 1220.7,137.3 1226.7,137.9 1232.7,139.1 1238.7,140.8 1243.2,142.6 1248.9,145.5 1253.7,148.6 1258.2,152.0 1262.7,156.3 1266.4,160.5 1270.2,166.0 1273.0,171.0 1275.0,175.5 1277.1,181.5 1278.4,187.5 1279.2,193.5 1279.3,199.5 1278.8,205.5 1277.8,211.5 1276.2,217.1 1274.3,222.0 1271.7,227.3 1268.4,232.5 1265.0,237.0 1260.7,241.5 1255.4,246.0 1250.7,249.2 1245.7,252.0 1240.2,254.4 1234.2,256.4 1228.2,257.7 1222.2,258.4 1216.2,258.5 1210.2,258.1 1204.2,257.1 1198.2,255.5 1192.2,253.2 1186.7,250.5 1181.7,247.4 1177.2,244.0 1172.7,239.8 1168.2,234.7 1164.5,229.5 1162.0,225.0 1159.3,219.0 1157.4,213.0 1156.1,207.0 1155.5,201.0 1155.5,195.0 1156.1,189.0 1157.3,183.0 1158.7,178.5 1161.1,172.5 1164.4,166.5 1167.5,162.0 1171.3,157.5 1175.7,153.1 1180.2,149.4 1184.7,146.4 1190.7,143.2 1196.7,140.8 1202.7,139.0ZM1444.2,138.0 1450.2,137.4 1456.2,137.3 1462.2,137.8 1468.2,138.9 1474.2,140.6 1480.2,142.9 1484.7,145.2 1490.1,148.5 1495.2,152.5 1498.9,156.0 1502.9,160.5 1506.2,165.0 1508.9,169.5 1511.8,175.5 1513.9,181.5 1515.3,187.5 1516.0,193.5 1516.2,199.5 1515.7,205.5 1514.6,211.5 1512.9,217.5 1511.1,222.0 1508.0,228.0 1505.0,232.5 1501.5,237.0 1497.2,241.5 1492.2,245.8 1487.7,248.9 1483.2,251.4 1477.2,254.2 1471.2,256.2 1465.2,257.5 1459.2,258.3 1453.2,258.5 1447.2,258.2 1441.2,257.3 1435.2,255.7 1429.2,253.5 1423.2,250.6 1418.7,247.8 1414.2,244.4 1409.7,240.3 1405.4,235.5 1402.1,231.0 1399.2,226.0 1396.7,220.5 1394.6,214.5 1393.2,208.5 1392.5,202.5 1392.3,196.5 1392.7,190.5 1393.8,184.5 1395.5,178.5 1397.7,172.9 1400.2,168.0 1403.7,162.5 1407.8,157.5 1412.3,153.0 1417.2,149.1 1421.7,146.1 1426.2,143.6 1432.2,141.1 1438.2,139.2Z"/>
<path fill="#5aadff" d="M1212.9,138.0 1219.2,137.8 1225.2,138.3 1231.2,139.3 1237.2,140.9 1243.2,143.3 1247.7,145.5 1252.6,148.5 1258.2,152.8 1261.6,156.0 1265.7,160.6 1268.9,165.0 1272.4,171.0 1274.7,176.3 1276.5,181.5 1277.8,187.5 1278.6,193.5 1278.7,199.5 1278.2,205.5 1277.5,210.0 1275.9,216.0 1273.7,222.0 1271.5,226.5 1267.7,232.5 1264.2,237.0 1259.9,241.5 1255.2,245.4 1250.0,249.0 1244.7,251.9 1240.2,253.8 1234.2,255.8 1228.2,257.1 1222.2,257.8 1216.2,258.0 1210.2,257.5 1204.2,256.5 1198.2,254.9 1192.2,252.6 1187.7,250.4 1181.7,246.7 1177.2,243.3 1172.7,239.0 1168.4,234.0 1165.2,229.5 1162.6,225.0 1160.5,220.5 1158.4,214.5 1157.0,208.5 1156.2,202.5 1156.0,196.5 1156.5,190.5 1157.5,184.5 1158.8,180.0 1160.7,174.9 1163.3,169.5 1166.7,164.1 1170.7,159.0 1174.2,155.3 1178.7,151.3 1183.2,148.1 1189.2,144.6 1195.2,141.9 1201.2,140.0 1207.2,138.7ZM1449.2,138.0 1454.7,137.8 1460.7,138.2 1466.7,139.1 1472.7,140.7 1477.8,142.5 1483.2,145.0 1489.1,148.5 1493.7,152.0 1498.1,156.0 1502.2,160.5 1505.7,165.3 1509.1,171.0 1511.2,175.5 1513.3,181.5 1514.7,187.5 1515.5,193.5 1515.6,199.5 1515.1,205.5 1514.0,211.5 1512.7,216.0 1510.4,222.0 1508.2,226.5 1504.3,232.5 1500.7,237.0 1496.7,241.2 1492.2,245.0 1487.7,248.2 1481.7,251.6 1477.2,253.5 1471.2,255.6 1465.2,257.0 1459.2,257.8 1453.2,258.0 1447.2,257.6 1441.2,256.7 1435.2,255.1 1429.2,252.9 1424.3,250.5 1419.3,247.5 1414.2,243.7 1410.2,240.0 1406.1,235.5 1402.2,230.0 1399.3,225.0 1397.3,220.5 1395.2,214.5 1393.8,208.5 1393.0,202.5 1392.9,196.5 1393.3,190.5 1394.4,184.5 1396.1,178.5 1397.8,174.0 1400.8,168.0 1403.7,163.5 1407.2,159.0 1411.2,154.8 1415.7,150.9 1421.3,147.0 1426.2,144.3 1430.7,142.3 1436.7,140.2 1442.7,138.8Z"/>
<path fill="#54b0ff" d="M1205.9,139.5 1211.7,138.7 1217.7,138.4 1223.7,138.7 1229.7,139.6 1235.5,141.0 1240.2,142.6 1246.2,145.3 1251.6,148.5 1256.7,152.3 1260.8,156.0 1264.9,160.5 1268.2,165.0 1270.9,169.5 1273.8,175.5 1275.8,181.5 1276.9,186.0 1277.9,192.0 1278.1,198.0 1277.8,204.0 1276.9,210.0 1275.8,214.5 1273.7,220.5 1271.6,225.0 1268.1,231.0 1264.7,235.5 1260.6,240.0 1255.5,244.5 1251.3,247.5 1246.1,250.5 1240.2,253.2 1234.8,255.0 1229.7,256.2 1223.7,257.1 1217.7,257.4 1211.7,257.1 1205.7,256.3 1199.7,254.8 1193.7,252.6 1189.1,250.5 1183.9,247.5 1178.7,243.7 1174.5,240.0 1170.3,235.5 1166.9,231.0 1163.7,225.8 1161.2,220.5 1159.2,215.2 1157.8,210.0 1156.9,204.0 1156.6,198.0 1156.9,192.0 1157.7,186.5 1158.9,181.5 1161.1,175.5 1163.7,170.0 1166.8,165.0 1170.2,160.5 1174.3,156.0 1178.7,152.1 1183.6,148.5 1188.7,145.5 1193.7,143.2 1199.7,141.0ZM1442.2,139.5 1447.2,138.8 1453.2,138.4 1459.2,138.6 1465.2,139.4 1471.2,140.8 1477.2,142.9 1482.9,145.5 1487.7,148.3 1492.2,151.5 1496.7,155.4 1501.2,160.2 1504.8,165.0 1507.6,169.5 1510.5,175.5 1512.2,180.0 1513.8,186.0 1514.7,192.0 1515.0,198.0 1514.7,204.0 1513.8,210.0 1512.1,216.0 1510.4,220.5 1507.5,226.5 1504.7,231.0 1501.2,235.6 1497.1,240.0 1492.2,244.3 1487.7,247.5 1482.5,250.5 1477.2,252.9 1471.2,255.0 1466.7,256.1 1460.7,257.0 1454.7,257.4 1448.7,257.2 1442.7,256.4 1436.7,255.0 1430.7,252.9 1425.5,250.5 1420.3,247.5 1415.7,244.2 1411.2,240.2 1406.9,235.5 1403.7,231.2 1400.7,226.3 1397.9,220.5 1396.3,216.0 1394.7,210.0 1393.8,204.0 1393.5,198.0 1393.7,192.0 1394.7,186.0 1396.2,180.0 1397.8,175.5 1400.7,169.5 1403.4,165.0 1406.7,160.5 1410.8,156.0 1415.7,151.6 1420.2,148.4 1425.1,145.5 1430.7,142.9 1436.7,140.8Z"/>
<path fill="#4cb7fe" d="M1212.6,139.5 1217.7,139.3 1223.7,139.6 1229.7,140.5 1235.7,142.0 1241.2,144.0 1246.2,146.4 1250.7,149.0 1256.1,153.0 1261.0,157.5 1264.2,161.1 1268.1,166.5 1270.7,171.0 1272.8,175.5 1274.9,181.5 1276.0,186.0 1276.9,192.0 1277.2,198.0 1276.9,204.0 1276.0,210.0 1274.8,214.5 1272.7,220.5 1270.2,225.7 1266.9,231.0 1263.5,235.5 1259.7,239.6 1255.2,243.5 1250.7,246.8 1246.2,249.4 1241.7,251.6 1235.7,253.8 1229.7,255.3 1223.7,256.2 1217.7,256.5 1211.7,256.2 1205.7,255.3 1199.7,253.8 1194.5,252.0 1189.2,249.5 1183.3,246.0 1179.2,243.0 1175.7,239.9 1171.2,235.1 1167.0,229.5 1164.3,225.0 1162.2,220.5 1160.0,214.5 1158.8,210.0 1157.8,204.0 1157.5,198.0 1157.8,192.0 1158.8,186.0 1159.9,181.5 1162.1,175.5 1164.2,171.0 1167.9,165.0 1171.4,160.5 1175.6,156.0 1179.0,153.0 1183.2,149.8 1189.2,146.3 1195.2,143.5 1201.2,141.5 1207.2,140.2ZM1448.9,139.5 1454.7,139.3 1460.7,139.7 1466.7,140.6 1472.7,142.2 1477.6,144.0 1483.2,146.7 1487.7,149.4 1492.6,153.0 1496.7,156.7 1501.2,161.7 1504.7,166.5 1507.4,171.0 1510.1,177.0 1511.7,181.5 1513.2,187.5 1513.9,193.5 1514.1,199.5 1513.6,205.5 1512.8,210.0 1511.2,216.0 1508.8,222.0 1506.4,226.5 1503.6,231.0 1499.7,235.9 1495.2,240.6 1490.7,244.3 1486.2,247.4 1481.7,249.9 1477.1,252.0 1471.2,254.0 1465.2,255.5 1459.2,256.3 1453.2,256.5 1447.2,256.1 1441.2,255.2 1436.7,254.0 1430.9,252.0 1426.2,249.8 1420.2,246.3 1415.7,243.0 1411.2,238.9 1406.9,234.0 1403.6,229.5 1401.0,225.0 1398.9,220.5 1396.8,214.5 1395.3,208.5 1394.6,202.5 1394.4,196.5 1394.8,190.5 1395.9,184.5 1397.2,180.0 1399.5,174.0 1401.7,169.5 1404.5,165.0 1408.2,160.2 1412.7,155.4 1417.2,151.6 1421.7,148.5 1426.2,145.9 1430.7,143.9 1436.7,141.8 1442.7,140.3Z"/>
<path fill="#44befe" d="M1207.8,141.0 1213.2,140.4 1219.2,140.2 1225.2,140.7 1231.2,141.7 1237.2,143.5 1241.7,145.2 1247.7,148.2 1252.2,151.1 1256.7,154.7 1261.1,159.0 1264.2,162.6 1267.2,166.8 1270.2,172.1 1272.4,177.0 1273.9,181.5 1275.4,187.5 1276.1,193.5 1276.3,199.5 1275.8,205.5 1275.0,210.0 1273.4,216.0 1271.7,220.5 1268.7,226.5 1265.8,231.0 1262.3,235.5 1258.2,239.8 1253.7,243.6 1249.2,246.7 1244.7,249.2 1238.7,251.8 1234.2,253.3 1228.2,254.7 1222.2,255.4 1216.2,255.6 1211.7,255.3 1205.7,254.4 1199.7,252.9 1195.2,251.3 1189.2,248.5 1184.7,245.9 1180.2,242.6 1175.7,238.6 1171.5,234.0 1168.1,229.5 1165.2,224.7 1162.5,219.0 1160.9,214.5 1159.4,208.5 1158.6,202.5 1158.4,196.5 1158.9,190.5 1159.7,186.0 1161.4,180.0 1163.1,175.5 1166.1,169.5 1169.0,165.0 1172.7,160.4 1176.9,156.0 1181.7,152.0 1186.2,149.0 1190.7,146.5 1196.7,143.9 1202.7,142.1ZM1444.1,141.0 1448.7,140.4 1454.7,140.2 1460.7,140.6 1466.7,141.5 1472.7,143.2 1477.2,144.8 1483.2,147.7 1487.7,150.5 1492.2,153.8 1496.2,157.5 1500.3,162.0 1503.6,166.5 1506.3,171.0 1509.1,177.0 1510.7,181.5 1512.2,187.5 1513.0,193.5 1513.2,199.5 1512.7,205.5 1511.9,210.0 1510.2,215.9 1508.4,220.5 1505.7,225.9 1502.7,230.6 1498.8,235.5 1495.2,239.3 1490.9,243.0 1486.2,246.3 1481.5,249.0 1475.7,251.6 1471.2,253.1 1465.2,254.6 1459.2,255.4 1453.2,255.6 1447.2,255.2 1441.2,254.2 1435.2,252.6 1430.7,250.9 1424.7,248.0 1420.2,245.2 1415.7,241.8 1412.1,238.5 1408.0,234.0 1404.7,229.5 1402.1,225.0 1399.3,219.0 1397.7,214.4 1396.3,208.5 1395.5,202.5 1395.3,196.5 1395.8,190.5 1396.5,186.0 1398.1,180.0 1399.8,175.5 1402.8,169.5 1405.6,165.0 1409.1,160.5 1412.7,156.7 1417.2,152.8 1421.7,149.6 1426.2,147.0 1432.2,144.3 1438.2,142.3Z"/>
<path fill="#3cc5fd" d="M1204.8,142.5 1210.2,141.6 1216.2,141.1 1222.2,141.3 1226.7,141.8 1232.7,143.0 1237.2,144.4 1243.2,146.9 1247.7,149.3 1252.2,152.3 1256.7,155.9 1261.2,160.4 1264.2,164.1 1267.2,168.6 1270.1,174.0 1272.0,178.5 1273.8,184.5 1274.7,189.0 1275.3,195.0 1275.3,201.0 1274.7,207.0 1273.4,213.0 1271.9,217.5 1269.3,223.5 1266.7,228.0 1263.6,232.5 1259.7,237.0 1256.6,240.0 1252.2,243.5 1247.7,246.5 1241.7,249.6 1237.2,251.4 1231.2,253.1 1226.7,254.0 1220.7,254.6 1214.7,254.6 1208.7,254.0 1202.7,252.8 1198.2,251.5 1192.2,249.0 1187.7,246.6 1183.2,243.7 1178.5,240.0 1174.2,235.7 1170.3,231.0 1167.3,226.5 1164.9,222.0 1162.9,217.5 1161.1,211.5 1160.1,207.0 1159.4,201.0 1159.4,195.0 1160.1,189.0 1161.4,183.0 1162.9,178.5 1165.2,173.2 1168.1,168.0 1171.3,163.5 1175.2,159.0 1180.0,154.5 1184.0,151.5 1188.9,148.5 1193.7,146.1 1199.7,143.9ZM1441.1,142.5 1445.7,141.7 1451.7,141.1 1457.7,141.2 1463.7,141.9 1469.7,143.2 1474.2,144.6 1479.8,147.0 1484.7,149.6 1489.2,152.6 1493.7,156.4 1497.8,160.5 1501.4,165.0 1504.4,169.5 1506.8,174.0 1508.7,178.5 1510.6,184.5 1511.5,189.0 1512.2,195.0 1512.2,201.0 1511.7,205.5 1510.5,211.5 1509.2,216.0 1506.7,222.0 1504.2,226.6 1501.3,231.0 1497.6,235.5 1493.7,239.4 1489.2,243.2 1484.7,246.2 1478.7,249.3 1474.2,251.2 1468.2,253.0 1463.7,253.9 1457.7,254.6 1451.7,254.7 1445.7,254.1 1439.7,253.0 1435.2,251.7 1429.2,249.3 1424.7,247.0 1420.2,244.1 1415.7,240.6 1411.9,237.0 1408.0,232.5 1404.9,228.0 1401.6,222.0 1399.7,217.5 1397.9,211.5 1396.9,207.0 1396.3,201.0 1396.3,195.0 1396.9,189.0 1398.2,183.0 1399.6,178.5 1402.2,172.5 1404.7,168.0 1407.9,163.5 1411.7,159.0 1415.7,155.2 1420.2,151.7 1425.3,148.5 1430.7,145.8 1435.2,144.1Z"/>
<path fill="#34ccfc" d="M1210.0,142.5 1214.7,142.1 1220.7,142.1 1226.7,142.7 1231.2,143.6 1237.2,145.4 1241.7,147.2 1247.1,150.0 1251.7,153.0 1255.4,156.0 1260.0,160.5 1263.7,165.0 1266.7,169.5 1269.1,174.0 1271.0,178.5 1272.5,183.0 1273.8,189.0 1274.4,195.0 1274.4,201.0 1273.8,207.0 1272.8,211.5 1270.9,217.5 1269.0,222.0 1266.6,226.5 1263.6,231.0 1259.9,235.5 1256.7,238.7 1252.2,242.4 1247.7,245.4 1243.2,247.9 1237.2,250.4 1232.7,251.8 1226.7,253.1 1220.7,253.7 1214.7,253.7 1208.7,253.1 1204.2,252.3 1198.2,250.5 1193.7,248.7 1188.4,246.0 1183.7,243.0 1179.9,240.0 1175.2,235.5 1171.5,231.0 1168.4,226.5 1165.9,222.0 1163.4,216.0 1162.0,211.5 1160.8,205.5 1160.3,199.5 1160.5,193.5 1161.3,187.5 1162.4,183.0 1164.5,177.0 1166.6,172.5 1169.2,168.0 1172.5,163.5 1176.5,159.0 1180.2,155.6 1184.7,152.1 1189.2,149.3 1193.9,147.0 1199.7,144.8 1204.2,143.5ZM1446.3,142.5 1451.7,142.0 1457.7,142.1 1463.7,142.8 1468.2,143.7 1474.0,145.5 1478.7,147.5 1484.7,150.7 1489.2,153.8 1493.6,157.5 1496.7,160.7 1500.3,165.0 1503.3,169.5 1505.8,174.0 1508.3,180.0 1509.6,184.5 1510.8,190.5 1511.2,195.0 1511.2,201.0 1510.6,207.0 1509.6,211.5 1507.7,217.5 1505.7,222.0 1503.2,226.5 1499.7,231.6 1496.4,235.5 1492.2,239.6 1487.7,243.1 1483.2,246.0 1478.7,248.3 1472.7,250.7 1468.2,252.1 1462.2,253.2 1456.2,253.8 1450.2,253.7 1444.2,253.0 1439.7,252.0 1433.7,250.2 1429.2,248.3 1424.7,245.9 1420.2,243.0 1415.7,239.4 1411.7,235.5 1408.0,231.0 1405.0,226.5 1402.6,222.0 1400.1,216.0 1398.8,211.5 1397.6,205.5 1397.1,199.5 1397.3,193.5 1398.1,187.5 1399.1,183.0 1401.2,177.0 1403.2,172.5 1405.8,168.0 1409.0,163.5 1413.0,159.0 1417.2,155.1 1421.7,151.8 1426.2,149.0 1430.7,146.8 1436.7,144.6 1441.2,143.4Z"/>
<path fill="#2fd3fa" d="M1206.4,144.0 1211.7,143.2 1217.7,142.9 1223.7,143.2 1228.2,143.9 1234.2,145.3 1238.7,146.9 1243.2,148.9 1247.8,151.5 1252.2,154.5 1256.7,158.4 1260.2,162.0 1263.7,166.5 1266.5,171.0 1268.8,175.5 1270.6,180.0 1272.3,186.0 1273.1,190.5 1273.6,196.5 1273.4,202.5 1272.6,208.5 1271.0,214.5 1269.4,219.0 1267.3,223.5 1264.6,228.0 1261.3,232.5 1258.2,235.9 1253.8,240.0 1249.2,243.4 1244.7,246.1 1240.2,248.3 1235.7,250.0 1229.7,251.6 1225.2,252.4 1219.2,252.9 1213.2,252.7 1208.7,252.2 1202.7,251.0 1198.2,249.6 1192.2,247.0 1187.6,244.5 1183.2,241.5 1178.7,237.7 1175.1,234.0 1171.5,229.5 1168.6,225.0 1166.2,220.5 1164.4,216.0 1162.6,210.0 1161.7,205.5 1161.2,199.5 1161.4,193.5 1161.9,189.0 1163.3,183.0 1164.8,178.5 1167.6,172.5 1170.3,168.0 1173.6,163.5 1177.8,159.0 1181.7,155.5 1186.2,152.2 1190.7,149.5 1195.2,147.4 1201.2,145.3ZM1442.7,144.0 1447.2,143.3 1453.2,142.9 1459.2,143.1 1463.7,143.7 1469.7,145.1 1474.2,146.5 1480.2,149.2 1484.7,151.7 1489.2,154.9 1493.7,158.9 1496.7,162.0 1500.3,166.5 1503.2,171.0 1505.5,175.5 1507.3,180.0 1509.1,186.0 1509.9,190.5 1510.4,196.5 1510.3,201.0 1509.6,207.0 1508.2,213.0 1506.7,217.5 1504.7,222.0 1502.1,226.5 1499.0,231.0 1495.1,235.5 1490.7,239.6 1486.3,243.0 1481.7,245.8 1477.2,248.0 1472.7,249.8 1466.7,251.5 1462.2,252.3 1456.2,252.9 1450.2,252.8 1444.2,252.1 1438.2,250.7 1433.7,249.2 1429.2,247.3 1424.1,244.5 1419.7,241.5 1415.7,238.2 1411.6,234.0 1408.0,229.5 1405.2,225.0 1402.9,220.5 1401.1,216.0 1399.4,210.0 1398.5,205.5 1398.0,199.5 1398.2,193.5 1399.0,187.5 1400.5,181.5 1402.1,177.0 1404.2,172.5 1406.9,168.0 1410.2,163.5 1414.2,159.1 1417.6,156.0 1421.7,152.8 1426.3,150.0 1432.2,147.2 1436.8,145.5Z"/>
<path fill="#2ad9f7" d="M1212.6,144.0 1217.7,143.8 1223.7,144.1 1229.7,145.1 1234.2,146.3 1238.7,147.8 1243.4,150.0 1247.7,152.5 1252.6,156.0 1256.7,159.6 1260.3,163.5 1263.6,168.0 1266.3,172.5 1268.5,177.0 1270.1,181.5 1271.7,187.5 1272.4,192.0 1272.7,196.5 1272.5,202.5 1271.7,208.2 1270.5,213.0 1268.7,218.3 1266.2,223.5 1263.5,228.0 1260.1,232.5 1256.7,236.2 1252.2,240.1 1247.7,243.3 1243.2,245.9 1238.7,248.0 1234.2,249.5 1229.7,250.7 1223.7,251.7 1217.7,252.0 1213.2,251.9 1207.2,251.1 1202.7,250.0 1196.7,248.0 1192.2,246.0 1187.7,243.5 1183.2,240.4 1178.7,236.4 1175.0,232.5 1171.5,228.0 1168.7,223.5 1166.5,219.0 1164.8,214.5 1163.5,210.0 1162.5,204.0 1162.1,198.0 1162.3,193.5 1163.2,187.5 1164.3,183.0 1166.4,177.0 1168.6,172.5 1171.4,168.0 1174.8,163.5 1178.7,159.4 1182.5,156.0 1186.6,153.0 1191.8,150.0 1196.7,147.8 1201.2,146.2 1207.2,144.7ZM1448.9,144.0 1454.7,143.8 1459.2,144.0 1465.2,144.9 1469.7,146.0 1475.7,148.1 1480.2,150.2 1484.7,152.8 1489.2,156.1 1493.7,160.2 1496.8,163.5 1500.2,168.0 1503.0,172.5 1505.2,177.0 1507.3,183.0 1508.4,187.5 1509.3,193.5 1509.5,199.5 1509.1,204.0 1508.1,210.0 1506.8,214.5 1505.1,219.0 1502.7,223.8 1500.1,228.0 1496.6,232.5 1492.3,237.0 1488.8,240.0 1484.7,243.0 1480.2,245.6 1475.7,247.7 1469.7,249.8 1465.2,250.9 1459.2,251.8 1453.2,252.0 1448.7,251.8 1442.7,250.9 1438.2,249.8 1432.2,247.7 1427.7,245.5 1423.2,242.9 1418.7,239.6 1414.2,235.5 1411.2,232.1 1408.1,228.0 1405.2,223.2 1403.2,219.0 1401.1,213.0 1400.0,208.5 1399.1,202.5 1398.9,196.5 1399.2,192.0 1400.2,186.0 1401.5,181.5 1403.1,177.0 1405.3,172.5 1408.0,168.0 1411.3,163.5 1414.2,160.3 1418.7,156.2 1423.2,152.9 1427.7,150.3 1432.2,148.1 1438.2,146.0 1444.2,144.6Z"/>
<path fill="#25e0f4" d="M1208.0,145.5 1213.2,144.8 1217.7,144.7 1223.7,145.0 1228.2,145.7 1233.6,147.0 1238.7,148.8 1243.2,150.9 1247.7,153.5 1252.2,156.8 1256.3,160.5 1259.7,164.2 1262.6,168.0 1265.3,172.5 1267.5,177.0 1269.2,181.5 1270.8,187.5 1271.5,192.0 1271.8,198.0 1271.6,202.5 1270.7,208.5 1269.1,214.5 1267.4,219.0 1265.2,223.5 1262.7,227.6 1259.7,231.6 1256.1,235.5 1252.2,239.0 1247.7,242.3 1243.2,244.9 1238.7,247.0 1232.9,249.0 1228.2,250.1 1222.2,251.0 1216.2,251.1 1210.2,250.6 1205.7,249.9 1199.7,248.2 1195.2,246.5 1190.7,244.2 1186.3,241.5 1182.3,238.5 1178.7,235.2 1174.9,231.0 1171.6,226.5 1169.0,222.0 1166.9,217.5 1165.2,212.7 1163.8,207.0 1163.2,202.5 1163.0,196.5 1163.6,190.5 1164.4,186.0 1165.7,181.5 1167.4,177.0 1169.7,172.5 1172.7,167.7 1176.0,163.5 1180.2,159.2 1184.0,156.0 1188.3,153.0 1193.7,150.0 1198.2,148.1 1202.7,146.7ZM1444.3,145.5 1450.2,144.8 1454.7,144.7 1460.7,145.1 1465.2,145.8 1471.2,147.4 1475.7,149.0 1480.2,151.2 1484.7,153.9 1489.2,157.2 1492.8,160.5 1496.7,164.8 1499.7,168.9 1502.7,173.9 1504.8,178.5 1506.4,183.0 1507.5,187.5 1508.2,192.0 1508.6,198.0 1508.2,204.0 1507.5,208.5 1506.3,213.0 1504.7,217.5 1502.6,222.0 1499.7,226.9 1496.7,231.0 1492.6,235.5 1489.2,238.6 1484.7,241.9 1480.2,244.6 1475.7,246.8 1471.2,248.4 1465.2,250.0 1460.7,250.7 1454.7,251.1 1448.7,250.9 1444.2,250.3 1438.7,249.0 1433.7,247.3 1429.2,245.3 1424.7,242.8 1420.2,239.6 1415.7,235.7 1412.7,232.5 1409.2,228.0 1406.4,223.5 1404.2,219.0 1402.2,213.7 1400.9,208.5 1400.2,204.0 1399.8,198.0 1400.1,192.0 1400.8,187.5 1402.2,182.1 1404.1,177.0 1406.3,172.5 1409.1,168.0 1412.5,163.5 1415.7,160.1 1420.2,156.2 1424.7,153.0 1429.2,150.5 1433.7,148.5 1438.2,146.9Z"/>
<path fill="#20e6f2" d="M1205.1,147.0 1210.2,146.0 1214.7,145.6 1220.7,145.6 1225.2,146.1 1230.2,147.0 1235.7,148.6 1240.2,150.4 1245.1,153.0 1249.2,155.6 1253.4,159.0 1256.7,162.2 1260.3,166.5 1263.4,171.0 1265.7,175.2 1267.7,180.0 1269.1,184.5 1270.1,189.0 1270.8,195.0 1270.8,201.0 1270.3,205.5 1269.1,211.5 1267.6,216.0 1265.7,220.5 1263.3,225.0 1260.2,229.5 1256.7,233.6 1253.2,237.0 1249.4,240.0 1244.8,243.0 1240.2,245.4 1235.7,247.2 1231.2,248.5 1226.7,249.5 1220.7,250.2 1214.7,250.2 1210.2,249.8 1205.7,249.0 1199.7,247.3 1195.2,245.5 1190.3,243.0 1185.7,240.0 1181.7,236.8 1177.4,232.5 1174.2,228.6 1171.2,224.1 1168.5,219.0 1166.7,214.5 1165.4,210.0 1164.5,205.5 1164.0,201.0 1164.0,195.0 1164.5,190.5 1165.3,186.0 1167.2,180.0 1169.1,175.5 1171.6,171.0 1174.7,166.5 1178.6,162.0 1181.7,159.0 1186.2,155.5 1190.7,152.6 1195.2,150.3 1199.7,148.5ZM1441.4,147.0 1447.2,146.0 1451.7,145.6 1457.7,145.7 1462.2,146.2 1466.7,147.0 1472.7,148.8 1477.2,150.7 1481.6,153.0 1486.2,156.0 1489.9,159.0 1493.7,162.8 1496.9,166.5 1500.0,171.0 1502.5,175.5 1504.4,180.0 1505.9,184.5 1506.9,189.0 1507.5,193.5 1507.6,199.5 1507.3,204.0 1506.2,210.0 1504.9,214.5 1503.1,219.0 1500.8,223.5 1497.9,228.0 1494.2,232.5 1490.7,236.0 1486.2,239.8 1481.7,242.7 1477.2,245.1 1472.7,247.0 1468.2,248.4 1463.7,249.4 1457.7,250.1 1451.7,250.2 1447.2,249.8 1442.3,249.0 1436.7,247.5 1432.2,245.7 1427.7,243.5 1423.2,240.7 1418.7,237.2 1415.3,234.0 1411.4,229.5 1408.3,225.0 1405.9,220.5 1404.0,216.0 1402.5,211.5 1401.5,207.0 1400.8,201.0 1400.8,195.0 1401.2,190.5 1402.5,184.5 1403.9,180.0 1405.8,175.5 1408.2,171.0 1411.2,166.6 1414.2,163.0 1418.2,159.0 1421.9,156.0 1426.2,153.1 1430.7,150.8 1436.2,148.5Z"/>
<path fill="#2aede3" d="M1209.9,147.0 1214.7,146.5 1219.2,146.5 1225.2,147.0 1229.7,147.8 1234.2,149.1 1238.7,150.8 1243.3,153.0 1248.1,156.0 1252.2,159.2 1256.7,163.5 1259.7,167.2 1262.3,171.0 1264.8,175.5 1266.7,180.0 1268.2,184.5 1269.2,189.0 1269.8,193.5 1269.9,199.5 1269.4,205.5 1268.5,210.0 1267.2,214.5 1265.4,219.0 1263.1,223.5 1260.2,228.0 1256.7,232.3 1253.5,235.5 1249.9,238.5 1245.5,241.5 1241.7,243.6 1236.3,246.0 1231.2,247.6 1226.7,248.6 1222.2,249.2 1216.2,249.3 1210.2,248.9 1205.7,248.0 1199.7,246.3 1195.2,244.5 1190.7,242.2 1187.3,240.0 1183.2,236.9 1178.7,232.6 1175.7,229.1 1172.8,225.0 1170.3,220.5 1168.2,216.0 1166.7,211.3 1165.4,205.5 1165.0,201.0 1164.9,195.0 1165.4,190.5 1166.7,184.5 1168.2,180.0 1170.1,175.5 1172.7,171.0 1175.7,166.7 1178.7,163.2 1183.1,159.0 1187.0,156.0 1190.7,153.6 1195.2,151.3 1199.7,149.5 1204.2,148.1ZM1446.3,147.0 1451.7,146.5 1456.2,146.5 1462.2,147.1 1466.7,148.0 1471.2,149.3 1475.7,151.0 1480.2,153.2 1484.7,156.1 1488.5,159.0 1492.2,162.5 1495.7,166.5 1498.9,171.0 1501.5,175.5 1503.4,180.0 1504.9,184.5 1506.2,190.5 1506.7,195.0 1506.6,201.0 1506.2,205.5 1505.2,210.0 1503.9,214.5 1502.1,219.0 1499.7,223.5 1496.7,228.0 1493.7,231.7 1489.9,235.5 1486.2,238.6 1481.7,241.7 1477.2,244.1 1472.7,246.0 1468.0,247.5 1462.2,248.7 1457.7,249.2 1451.7,249.3 1445.7,248.7 1441.2,247.8 1436.7,246.5 1432.2,244.7 1427.7,242.5 1423.2,239.6 1419.8,237.0 1415.7,233.1 1412.6,229.5 1409.4,225.0 1406.9,220.5 1404.9,216.0 1403.5,211.5 1402.2,205.5 1401.7,201.0 1401.7,195.0 1402.4,189.0 1403.4,184.5 1404.9,180.0 1406.8,175.5 1409.3,171.0 1412.4,166.5 1415.7,162.7 1419.6,159.0 1423.2,156.2 1427.7,153.3 1432.2,151.1 1436.7,149.3 1441.2,148.0Z"/>
<path fill="#34f4d4" d="M1206.6,148.5 1211.7,147.7 1216.2,147.4 1222.2,147.5 1226.7,148.1 1231.2,149.1 1235.7,150.5 1240.2,152.4 1244.7,154.9 1248.6,157.5 1252.3,160.5 1255.4,163.5 1259.2,168.0 1262.2,172.5 1264.5,177.0 1266.3,181.5 1267.6,186.0 1268.5,190.5 1269.0,195.0 1269.0,199.5 1268.5,205.5 1267.2,211.5 1265.7,216.0 1263.7,220.5 1261.2,224.9 1258.2,229.1 1255.2,232.5 1252.1,235.5 1247.7,239.0 1243.2,241.8 1238.7,244.1 1234.2,245.8 1229.7,247.1 1220.7,248.4 1214.7,248.4 1210.2,247.9 1204.2,246.7 1199.7,245.3 1195.2,243.5 1190.7,241.1 1186.2,238.1 1181.7,234.3 1178.5,231.0 1174.9,226.5 1172.1,222.0 1169.9,217.5 1168.2,213.0 1167.0,208.5 1166.2,204.0 1165.8,199.5 1166.0,193.5 1166.6,189.0 1167.7,184.5 1169.2,180.0 1171.2,175.5 1173.8,171.0 1177.1,166.5 1179.7,163.5 1183.2,160.2 1187.7,156.6 1192.2,153.8 1196.7,151.6 1201.2,149.9ZM1443.0,148.5 1448.7,147.6 1453.2,147.3 1459.2,147.6 1463.7,148.2 1468.2,149.3 1472.7,150.7 1477.2,152.7 1481.7,155.2 1485.1,157.5 1489.2,160.9 1492.2,163.8 1495.7,168.0 1498.8,172.5 1501.1,177.0 1503.0,181.5 1504.3,186.0 1505.2,190.5 1505.7,195.0 1505.7,201.0 1505.2,205.5 1504.3,210.0 1502.9,214.5 1501.1,219.0 1498.6,223.5 1495.6,228.0 1492.2,232.0 1488.6,235.5 1484.7,238.6 1480.2,241.5 1475.7,243.8 1471.2,245.6 1466.7,246.9 1457.7,248.3 1451.7,248.4 1447.2,248.0 1441.2,246.9 1436.7,245.5 1432.2,243.7 1427.7,241.4 1423.2,238.5 1419.5,235.5 1415.7,231.8 1412.6,228.0 1409.6,223.5 1407.2,219.0 1405.4,214.5 1404.0,210.0 1403.1,205.5 1402.6,201.0 1402.6,195.0 1403.1,190.5 1404.4,184.5 1405.8,180.0 1407.8,175.5 1410.4,171.0 1413.6,166.5 1417.2,162.5 1421.0,159.0 1424.7,156.3 1429.2,153.5 1433.7,151.4 1438.2,149.8Z"/>
<path fill="#42f8c1" d="M1212.5,148.5 1217.7,148.2 1222.2,148.4 1228.2,149.3 1232.7,150.5 1237.2,152.1 1241.7,154.2 1249.2,159.1 1252.6,162.0 1256.7,166.3 1259.2,169.5 1262.0,174.0 1264.2,178.5 1265.9,183.0 1267.1,187.5 1267.8,192.0 1268.1,196.5 1268.0,202.5 1267.3,207.0 1266.3,211.5 1264.7,216.0 1262.7,220.5 1257.9,228.0 1254.0,232.5 1250.7,235.5 1247.7,237.9 1243.2,240.8 1238.7,243.1 1234.2,244.8 1228.2,246.5 1223.7,247.2 1217.7,247.6 1213.2,247.4 1208.7,246.8 1204.2,245.8 1199.7,244.4 1195.2,242.5 1190.7,240.0 1186.3,237.0 1182.8,234.0 1178.7,229.8 1176.1,226.5 1173.2,222.0 1170.9,217.5 1169.1,213.0 1167.9,208.5 1167.1,204.0 1166.8,199.5 1166.9,193.5 1167.6,189.0 1168.6,184.5 1170.2,180.0 1172.2,175.5 1174.9,171.0 1178.3,166.5 1181.7,162.8 1186.0,159.0 1189.2,156.7 1193.7,154.1 1198.2,152.0 1202.7,150.4 1207.2,149.3ZM1448.9,148.5 1454.7,148.2 1459.2,148.5 1463.7,149.1 1468.2,150.2 1472.7,151.7 1477.2,153.7 1481.7,156.3 1486.2,159.5 1490.6,163.5 1493.7,166.9 1496.7,171.0 1499.4,175.5 1501.4,180.0 1503.0,184.5 1504.0,189.0 1504.7,193.5 1504.9,199.5 1504.5,204.0 1503.7,208.5 1502.5,213.0 1500.7,217.5 1498.4,222.0 1495.5,226.5 1493.2,229.5 1490.4,232.5 1486.2,236.3 1481.7,239.5 1478.4,241.5 1474.2,243.5 1469.7,245.1 1463.7,246.6 1459.2,247.3 1454.7,247.6 1448.7,247.3 1444.2,246.6 1439.7,245.6 1435.2,244.0 1430.7,242.0 1426.2,239.5 1421.7,236.2 1417.6,232.5 1414.9,229.5 1411.6,225.0 1408.9,220.5 1406.9,216.0 1405.3,211.5 1404.3,207.0 1403.7,202.5 1403.4,198.0 1403.8,192.0 1404.5,187.5 1405.7,183.0 1407.4,178.5 1409.6,174.0 1412.4,169.5 1414.7,166.5 1417.4,163.5 1421.7,159.6 1426.2,156.3 1430.7,153.8 1435.2,151.8 1439.7,150.2 1444.2,149.2Z"/>
<path fill="#50fcae" d="M1208.2,150.0 1213.2,149.3 1217.7,149.1 1222.2,149.3 1226.7,149.9 1231.2,151.0 1235.7,152.4 1240.2,154.4 1244.7,156.9 1249.2,160.2 1252.2,162.8 1255.2,165.9 1258.2,169.7 1261.0,174.0 1263.2,178.5 1265.0,183.0 1266.2,187.5 1266.9,192.0 1267.3,196.5 1267.1,202.5 1266.4,207.0 1265.4,211.5 1263.8,216.0 1261.7,220.5 1259.0,225.0 1255.5,229.5 1252.7,232.5 1246.2,237.9 1241.7,240.6 1237.2,242.8 1232.7,244.4 1228.2,245.6 1219.2,246.7 1213.2,246.5 1208.7,245.9 1204.2,244.9 1199.7,243.4 1195.2,241.5 1190.7,239.0 1186.2,235.8 1182.5,232.5 1179.6,229.5 1176.1,225.0 1173.4,220.5 1171.2,216.0 1169.6,211.5 1168.5,207.0 1167.7,201.0 1167.7,196.5 1168.0,192.0 1168.8,187.5 1170.0,183.0 1171.8,178.5 1176.0,171.0 1178.7,167.4 1182.3,163.5 1186.2,160.0 1190.7,156.8 1195.2,154.3 1199.7,152.4ZM1444.6,150.0 1450.2,149.3 1454.7,149.1 1459.2,149.4 1463.7,150.1 1468.2,151.1 1472.7,152.7 1477.2,154.7 1481.7,157.3 1486.0,160.5 1489.3,163.5 1492.2,166.5 1495.6,171.0 1499.8,178.5 1501.6,183.0 1502.8,187.5 1503.6,192.0 1503.9,196.5 1503.9,201.0 1503.4,205.5 1502.4,210.0 1501.0,214.5 1499.0,219.0 1496.5,223.5 1493.7,227.4 1490.6,231.0 1487.5,234.0 1483.2,237.4 1478.7,240.3 1474.2,242.5 1469.7,244.2 1465.2,245.4 1459.2,246.4 1454.7,246.7 1450.2,246.5 1445.7,246.0 1441.2,245.1 1436.7,243.7 1432.2,241.8 1427.7,239.4 1423.2,236.3 1420.2,233.7 1417.2,230.8 1413.7,226.5 1410.7,222.0 1408.4,217.5 1406.7,213.0 1405.5,208.5 1404.7,204.0 1404.3,199.5 1404.5,193.5 1405.1,189.0 1406.2,184.5 1407.7,180.0 1409.8,175.5 1412.5,171.0 1415.7,166.7 1418.7,163.5 1422.0,160.5 1426.2,157.4 1430.7,154.8 1435.2,152.7 1439.7,151.2Z"/>
<path fill="#5dfc9f" d="M1216.4,150.0 1225.2,150.5 1229.7,151.5 1234.2,152.8 1238.7,154.6 1243.2,157.0 1247.7,160.1 1250.7,162.6 1253.7,165.5 1257.0,169.5 1260.0,174.0 1262.3,178.5 1264.1,183.0 1265.3,187.5 1266.1,192.0 1266.5,196.5 1266.4,201.0 1265.9,205.5 1264.9,210.0 1263.5,214.5 1261.5,219.0 1259.0,223.5 1255.7,228.0 1253.0,231.0 1249.8,234.0 1246.2,236.8 1241.7,239.7 1237.2,241.8 1232.7,243.5 1228.2,244.7 1223.7,245.5 1219.2,245.8 1213.2,245.6 1208.7,245.0 1204.2,244.0 1199.7,242.5 1195.2,240.5 1190.7,238.0 1183.7,232.5 1180.2,228.8 1177.2,225.0 1172.8,217.5 1171.0,213.0 1169.7,208.5 1168.9,204.0 1168.5,199.5 1168.6,195.0 1169.1,190.5 1170.1,186.0 1171.5,181.5 1173.5,177.0 1176.0,172.5 1178.7,168.8 1182.0,165.0 1185.2,162.0 1189.2,158.9 1193.7,156.1 1198.2,153.9 1202.7,152.2 1207.2,151.1 1211.7,150.3ZM1452.8,150.0 1457.7,150.1 1462.2,150.6 1468.2,152.0 1472.7,153.6 1480.2,157.4 1483.2,159.4 1487.7,163.1 1491.0,166.5 1494.6,171.0 1498.9,178.5 1500.6,183.0 1501.9,187.5 1502.7,192.0 1503.1,196.5 1503.0,201.0 1502.5,205.5 1501.5,210.0 1500.0,214.5 1498.0,219.0 1495.4,223.5 1492.2,227.9 1489.4,231.0 1486.2,234.0 1481.7,237.4 1477.2,240.1 1472.7,242.2 1468.2,243.8 1463.7,244.9 1459.2,245.6 1454.7,245.8 1450.2,245.7 1445.7,245.1 1441.2,244.2 1436.7,242.8 1432.2,240.8 1427.7,238.4 1423.6,235.5 1420.2,232.6 1417.2,229.5 1413.6,225.0 1409.4,217.5 1407.6,213.0 1406.3,208.5 1405.5,204.0 1405.2,199.5 1405.3,193.5 1406.0,189.0 1407.0,184.5 1408.6,180.0 1412.5,172.5 1415.7,168.0 1418.4,165.0 1421.7,161.9 1426.2,158.4 1433.7,154.3 1438.2,152.5 1442.7,151.3 1447.2,150.4Z"/>
<path fill="#6afc91" d="M1209.4,151.5 1214.7,150.9 1219.2,150.8 1223.7,151.2 1228.2,151.9 1232.7,153.1 1237.2,154.8 1244.7,158.9 1248.8,162.0 1252.1,165.0 1255.2,168.4 1258.2,172.5 1262.1,180.0 1263.7,184.5 1264.8,189.0 1265.5,193.5 1265.7,198.0 1265.5,202.5 1264.8,207.0 1263.7,211.5 1262.0,216.0 1259.8,220.5 1257.0,225.0 1253.7,229.1 1250.7,232.2 1247.7,234.7 1243.2,237.8 1238.7,240.3 1234.2,242.2 1226.7,244.2 1222.2,244.8 1217.7,245.0 1213.2,244.8 1207.2,243.9 1202.7,242.7 1198.2,241.0 1190.7,236.9 1186.7,234.0 1183.2,230.8 1180.2,227.6 1177.2,223.5 1173.1,216.0 1171.4,211.5 1170.3,207.0 1169.6,202.5 1169.4,198.0 1169.6,193.5 1170.6,187.5 1171.8,183.0 1173.7,178.5 1178.1,171.0 1181.7,166.5 1184.7,163.5 1187.7,161.0 1192.2,157.9 1196.7,155.4 1201.2,153.6ZM1445.7,151.5 1450.2,150.9 1454.7,150.8 1459.2,151.1 1465.2,152.1 1469.7,153.4 1474.2,155.1 1481.7,159.4 1488.4,165.0 1491.2,168.0 1494.6,172.5 1498.6,180.0 1500.2,184.5 1501.4,189.0 1502.0,193.5 1502.2,198.0 1502.0,202.5 1501.3,207.0 1500.2,211.5 1498.5,216.0 1494.4,223.5 1489.2,230.0 1486.2,232.9 1481.7,236.4 1477.2,239.2 1472.7,241.3 1468.2,242.9 1463.7,244.1 1457.7,244.9 1453.2,245.0 1448.7,244.7 1444.2,244.0 1439.7,242.9 1435.2,241.3 1427.7,237.4 1423.2,234.2 1420.2,231.5 1416.9,228.0 1414.2,224.4 1411.8,220.5 1409.6,216.0 1407.9,211.5 1406.8,207.0 1406.1,202.5 1405.9,196.5 1406.3,192.0 1407.1,187.5 1408.4,183.0 1410.1,178.5 1414.5,171.0 1417.2,167.5 1420.2,164.3 1423.2,161.6 1427.7,158.4 1432.2,155.9 1436.7,153.9 1441.2,152.5Z"/>
<path fill="#77fc82" d="M1205.9,153.0 1210.2,152.1 1216.2,151.6 1220.7,151.7 1225.2,152.1 1232.7,153.9 1237.2,155.7 1241.7,158.0 1245.6,160.5 1249.2,163.3 1252.5,166.5 1255.2,169.7 1259.9,177.0 1261.9,181.5 1263.4,186.0 1264.3,190.5 1264.8,195.0 1264.9,199.5 1264.5,204.0 1263.7,208.5 1262.4,213.0 1259.0,220.5 1256.7,224.1 1253.7,228.0 1250.7,231.1 1247.4,234.0 1240.2,238.7 1235.7,240.8 1231.2,242.3 1226.7,243.4 1222.2,244.0 1217.7,244.2 1213.2,244.0 1208.7,243.4 1204.2,242.4 1199.7,240.8 1195.2,238.7 1190.7,236.0 1187.7,233.8 1183.2,229.7 1180.4,226.5 1178.1,223.5 1175.4,219.0 1173.3,214.5 1171.8,210.0 1170.8,205.5 1170.3,201.0 1170.2,196.5 1170.5,192.0 1171.4,187.5 1172.7,183.0 1174.6,178.5 1177.0,174.0 1180.2,169.5 1182.8,166.5 1189.2,160.9 1196.7,156.3 1201.2,154.4ZM1442.3,153.0 1447.2,152.0 1451.7,151.6 1456.2,151.6 1460.7,152.0 1465.2,152.9 1469.7,154.2 1474.2,156.0 1478.7,158.4 1483.2,161.5 1486.2,164.0 1489.2,166.9 1492.2,170.5 1494.6,174.0 1497.1,178.5 1499.8,186.0 1500.8,190.5 1501.3,195.0 1501.4,199.5 1501.0,204.0 1500.2,208.5 1498.8,213.0 1495.4,220.5 1492.4,225.0 1490.0,228.0 1487.1,231.0 1483.2,234.3 1475.7,239.1 1471.2,241.1 1466.7,242.5 1462.2,243.5 1457.7,244.1 1453.2,244.2 1448.7,244.0 1444.2,243.3 1439.7,242.1 1435.2,240.5 1430.7,238.3 1426.2,235.5 1423.2,233.2 1420.2,230.4 1416.7,226.5 1414.2,223.1 1411.8,219.0 1409.8,214.5 1408.3,210.0 1407.3,205.5 1406.8,201.0 1406.7,196.5 1407.1,192.0 1407.9,187.5 1409.2,183.0 1411.0,178.5 1413.4,174.0 1415.7,170.6 1419.1,166.5 1422.2,163.5 1426.2,160.3 1433.7,156.0 1438.2,154.2Z"/>
<path fill="#84fc74" d="M1209.6,153.0 1214.7,152.4 1219.2,152.3 1223.7,152.7 1228.2,153.5 1232.7,154.7 1237.2,156.5 1244.3,160.5 1250.7,165.7 1253.7,169.0 1256.3,172.5 1260.5,180.0 1262.1,184.5 1263.3,189.0 1264.0,193.5 1264.2,198.0 1263.9,202.5 1263.2,207.0 1262.1,211.5 1260.4,216.0 1256.2,223.5 1253.7,226.8 1250.7,230.0 1247.7,232.8 1243.2,236.0 1235.7,239.9 1231.2,241.5 1226.7,242.6 1222.2,243.3 1217.7,243.5 1213.2,243.3 1208.7,242.6 1204.2,241.6 1199.7,240.0 1195.2,237.9 1191.3,235.5 1187.7,232.8 1184.1,229.5 1181.3,226.5 1178.0,222.0 1174.2,214.5 1172.6,210.0 1171.6,205.5 1171.0,201.0 1171.0,196.5 1171.3,192.0 1172.2,187.5 1173.5,183.0 1175.4,178.5 1177.2,175.2 1180.0,171.0 1183.2,167.2 1186.2,164.3 1189.2,161.8 1193.7,158.8 1201.2,155.2ZM1445.9,153.0 1450.2,152.5 1454.7,152.3 1459.2,152.6 1463.7,153.3 1468.2,154.5 1472.7,156.1 1477.2,158.4 1480.6,160.5 1484.5,163.5 1487.7,166.5 1490.7,169.8 1493.7,174.0 1497.5,181.5 1499.0,186.0 1500.0,190.5 1500.6,195.0 1500.6,199.5 1500.2,204.0 1499.4,208.5 1496.8,216.0 1494.5,220.5 1492.2,224.0 1489.2,227.7 1486.2,230.8 1482.4,234.0 1478.7,236.5 1471.2,240.3 1466.7,241.8 1462.2,242.8 1457.7,243.3 1453.2,243.5 1448.7,243.2 1444.2,242.5 1439.7,241.3 1435.2,239.7 1427.6,235.5 1423.6,232.5 1420.3,229.5 1417.2,225.9 1414.4,222.0 1410.6,214.5 1409.1,210.0 1408.1,205.5 1407.5,201.0 1407.4,196.5 1407.8,192.0 1408.6,187.5 1411.2,179.9 1413.4,175.5 1415.7,171.9 1418.7,168.1 1421.7,165.0 1425.2,162.0 1429.2,159.3 1436.7,155.5 1441.2,154.0Z"/>
<path fill="#93fb67" d="M1206.1,154.5 1210.2,153.6 1214.7,153.1 1219.2,153.1 1223.7,153.4 1228.2,154.3 1232.7,155.5 1240.2,158.8 1244.7,161.7 1247.7,164.0 1250.7,166.8 1253.7,170.2 1256.4,174.0 1259.0,178.5 1261.8,186.0 1262.8,190.5 1263.3,195.0 1263.4,199.5 1263.0,204.0 1262.1,208.5 1260.8,213.0 1257.2,220.5 1252.2,227.4 1246.2,233.0 1242.7,235.5 1238.7,237.8 1234.2,239.7 1229.7,241.2 1225.2,242.1 1220.7,242.6 1216.2,242.7 1211.7,242.4 1207.2,241.6 1202.7,240.3 1195.2,237.0 1190.7,234.1 1187.7,231.8 1184.7,229.1 1181.7,225.7 1179.0,222.0 1176.4,217.5 1173.4,210.0 1172.4,205.5 1171.8,201.0 1171.7,196.5 1172.1,192.0 1173.0,187.5 1174.3,183.0 1177.9,175.5 1180.2,172.0 1183.5,168.0 1186.5,165.0 1190.2,162.0 1193.7,159.7 1198.2,157.3ZM1442.4,154.5 1447.2,153.5 1451.7,153.1 1456.2,153.1 1460.7,153.5 1465.2,154.4 1469.7,155.8 1477.2,159.3 1481.4,162.0 1484.7,164.7 1487.7,167.6 1490.7,171.0 1492.8,174.0 1495.3,178.5 1498.2,186.0 1499.7,193.5 1499.9,198.0 1499.6,202.5 1498.9,207.0 1497.7,211.5 1494.5,219.0 1492.2,222.7 1489.3,226.5 1486.2,229.8 1483.1,232.5 1475.7,237.4 1471.2,239.5 1466.7,241.0 1462.2,242.0 1457.7,242.6 1453.2,242.7 1448.7,242.5 1444.2,241.7 1439.7,240.5 1435.2,238.8 1431.5,237.0 1427.7,234.7 1423.2,231.2 1417.4,225.0 1415.3,222.0 1412.8,217.5 1409.9,210.0 1408.8,205.5 1408.3,201.0 1408.2,196.5 1408.6,192.0 1409.4,187.5 1410.8,183.0 1414.3,175.5 1417.2,171.1 1419.8,168.0 1422.8,165.0 1426.2,162.2 1429.2,160.1 1433.7,157.7 1438.2,155.8Z"/>
<path fill="#a2fa5a" d="M1209.6,154.5 1217.7,153.8 1222.2,154.0 1226.7,154.7 1231.2,155.8 1235.7,157.5 1240.2,159.7 1243.2,161.5 1249.3,166.5 1252.2,169.5 1255.6,174.0 1257.4,177.0 1259.5,181.5 1261.8,189.0 1262.7,196.5 1262.6,201.0 1262.0,205.5 1261.0,210.0 1259.4,214.5 1257.2,219.0 1255.4,222.0 1250.6,228.0 1247.5,231.0 1243.2,234.3 1240.2,236.1 1235.7,238.3 1231.2,240.0 1226.7,241.1 1222.2,241.8 1217.7,242.0 1213.2,241.8 1208.7,241.1 1204.2,240.0 1199.7,238.4 1192.2,234.3 1187.9,231.0 1184.7,228.0 1179.9,222.0 1178.0,219.0 1175.8,214.5 1174.2,210.0 1173.1,205.5 1172.5,198.0 1172.7,193.5 1173.4,189.0 1174.6,184.5 1176.4,180.0 1177.9,177.0 1180.8,172.5 1186.2,166.3 1189.5,163.5 1193.7,160.6 1201.2,156.8 1205.7,155.4ZM1445.9,154.5 1450.2,153.9 1454.7,153.8 1459.2,154.1 1463.7,154.8 1471.2,157.1 1478.7,161.1 1483.2,164.4 1486.2,167.1 1489.2,170.4 1491.9,174.0 1495.9,181.5 1498.2,189.0 1499.1,196.5 1499.0,201.0 1498.4,205.5 1497.4,210.0 1495.8,214.5 1491.7,222.0 1489.2,225.4 1486.2,228.7 1479.8,234.0 1472.7,238.0 1468.2,239.8 1463.7,241.0 1459.2,241.7 1454.7,242.0 1450.2,241.9 1445.7,241.3 1441.2,240.2 1436.7,238.7 1429.2,234.8 1424.7,231.5 1421.7,228.8 1418.7,225.4 1416.2,222.0 1412.2,214.5 1409.9,207.0 1408.9,199.5 1409.0,195.0 1409.5,190.5 1410.6,186.0 1412.1,181.5 1416.0,174.0 1418.7,170.4 1421.7,167.0 1424.7,164.3 1429.2,161.0 1436.7,157.1 1441.2,155.6Z"/>
<path fill="#b1f94d" d="M1206.1,156.0 1213.2,154.7 1217.7,154.5 1222.2,154.7 1226.7,155.4 1231.2,156.5 1238.7,159.7 1243.2,162.4 1246.2,164.6 1249.2,167.3 1252.5,171.0 1254.7,174.0 1257.4,178.5 1260.3,186.0 1261.8,193.5 1262.0,198.0 1261.8,202.5 1260.3,210.0 1258.7,214.5 1256.5,219.0 1252.2,225.2 1249.2,228.5 1246.2,231.2 1243.2,233.4 1238.7,236.1 1231.2,239.3 1226.7,240.4 1222.2,241.1 1217.7,241.3 1213.2,241.1 1208.7,240.4 1204.2,239.3 1196.7,236.1 1192.2,233.4 1189.2,231.1 1185.7,228.0 1183.0,225.0 1180.7,222.0 1178.0,217.5 1175.0,210.0 1173.4,202.5 1173.2,198.0 1173.4,193.5 1174.2,189.0 1175.4,184.5 1178.7,177.0 1180.6,174.0 1184.1,169.5 1187.1,166.5 1190.7,163.5 1193.7,161.4 1198.2,158.9 1202.7,157.0ZM1442.4,156.0 1450.2,154.7 1454.7,154.5 1459.2,154.8 1463.7,155.6 1468.2,156.8 1475.7,160.1 1480.2,163.0 1483.2,165.3 1488.8,171.0 1491.0,174.0 1493.7,178.5 1496.7,186.0 1498.2,193.5 1498.4,198.0 1498.1,202.5 1497.4,207.0 1496.1,211.5 1492.8,219.0 1489.8,223.5 1487.7,226.1 1481.7,231.7 1477.2,234.8 1474.2,236.5 1466.7,239.5 1462.2,240.6 1457.7,241.2 1453.2,241.3 1448.7,241.0 1444.2,240.2 1439.7,239.0 1432.2,235.8 1427.7,232.9 1424.7,230.6 1419.2,225.0 1416.0,220.5 1414.3,217.5 1411.3,210.0 1409.8,202.5 1409.6,198.0 1409.8,193.5 1410.5,189.0 1411.7,184.5 1415.0,177.0 1417.9,172.5 1420.2,169.7 1426.2,164.0 1430.7,160.9 1433.7,159.3 1438.2,157.3Z"/>
<path fill="#c0f840" d="M1209.2,156.0 1213.2,155.4 1217.7,155.2 1222.2,155.4 1226.7,156.1 1234.2,158.3 1241.7,162.2 1245.6,165.0 1248.9,168.0 1253.9,174.0 1255.8,177.0 1258.0,181.5 1260.4,189.0 1261.1,193.5 1261.4,198.0 1260.7,205.5 1258.6,213.0 1257.3,216.0 1254.8,220.5 1252.2,224.1 1249.2,227.5 1243.2,232.6 1240.2,234.6 1235.7,236.8 1228.2,239.4 1223.7,240.2 1219.2,240.6 1211.7,240.2 1207.2,239.4 1202.7,238.1 1195.2,234.5 1188.3,229.5 1182.7,223.5 1180.6,220.5 1178.0,216.0 1176.2,211.5 1174.9,207.0 1174.2,202.5 1173.9,198.0 1174.2,193.5 1174.9,189.0 1177.3,181.5 1179.5,177.0 1181.4,174.0 1186.5,168.0 1189.9,165.0 1193.7,162.2 1201.2,158.3 1205.7,156.8ZM1445.4,156.0 1450.2,155.3 1454.7,155.2 1459.2,155.5 1463.7,156.2 1471.2,158.7 1478.7,162.7 1485.1,168.0 1490.2,174.0 1492.9,178.5 1494.3,181.5 1496.7,189.0 1497.7,196.5 1497.6,201.0 1497.0,205.5 1494.9,213.0 1492.8,217.5 1491.0,220.5 1487.7,225.0 1484.9,228.0 1478.7,233.1 1475.7,234.9 1471.2,237.1 1463.7,239.6 1459.2,240.3 1454.7,240.6 1447.2,240.1 1442.7,239.2 1438.2,237.8 1430.7,234.1 1427.7,232.1 1423.2,228.3 1417.8,222.0 1415.1,217.5 1413.6,214.5 1411.2,207.0 1410.2,199.5 1410.3,195.0 1410.9,190.5 1411.9,186.0 1413.5,181.5 1415.0,178.5 1417.7,174.0 1422.7,168.0 1429.2,162.6 1436.7,158.6 1441.2,157.0Z"/>
<path fill="#cdf337" d="M1213.7,156.0 1217.7,155.8 1222.2,156.0 1226.7,156.7 1231.2,157.9 1238.7,161.1 1244.7,165.1 1247.7,167.6 1250.9,171.0 1253.2,174.0 1256.0,178.5 1259.1,186.0 1260.6,193.5 1260.8,198.0 1260.6,202.5 1259.0,210.0 1255.9,217.5 1251.9,223.5 1249.2,226.7 1246.2,229.5 1243.2,231.9 1238.7,234.7 1231.2,237.9 1226.7,239.1 1222.2,239.8 1217.7,240.0 1213.2,239.8 1205.7,238.3 1198.2,235.4 1193.7,232.8 1190.7,230.7 1184.7,224.9 1182.4,222.0 1179.5,217.5 1176.4,210.0 1174.8,202.5 1174.5,198.0 1174.8,193.5 1176.3,186.0 1179.4,178.5 1182.2,174.0 1184.6,171.0 1187.4,168.0 1190.7,165.1 1196.7,161.2 1204.2,157.9 1208.7,156.7ZM1449.9,156.0 1454.7,155.8 1459.2,156.1 1466.7,157.7 1474.2,160.8 1477.2,162.5 1481.7,165.8 1484.7,168.5 1487.7,171.8 1492.1,178.5 1494.8,184.5 1496.1,189.0 1496.8,193.5 1496.9,201.0 1495.7,208.5 1492.8,216.0 1490.3,220.5 1488.1,223.5 1485.5,226.5 1481.7,230.0 1477.2,233.3 1474.2,235.0 1466.7,238.1 1459.2,239.7 1454.7,240.0 1450.2,239.8 1442.7,238.6 1435.2,235.9 1430.7,233.4 1427.7,231.4 1421.7,225.9 1419.7,223.5 1416.6,219.0 1415.0,216.0 1413.1,211.5 1411.8,207.0 1411.1,202.5 1410.9,195.0 1411.5,190.5 1412.6,186.0 1414.2,181.5 1416.5,177.0 1420.7,171.0 1426.2,165.6 1430.7,162.4 1433.7,160.7 1441.2,157.7 1445.7,156.5Z"/>
<path fill="#daef2e" d="M1208.0,157.5 1211.7,156.8 1216.2,156.4 1223.7,156.8 1231.2,158.5 1235.7,160.3 1240.2,162.6 1246.2,167.0 1251.4,172.5 1254.5,177.0 1256.1,180.0 1258.9,187.5 1260.2,195.0 1260.0,202.5 1259.2,207.0 1257.9,211.5 1256.0,216.0 1254.4,219.0 1250.0,225.0 1244.7,230.0 1240.2,233.2 1237.2,234.9 1229.7,237.8 1222.2,239.2 1217.7,239.4 1213.2,239.2 1205.7,237.7 1198.2,234.8 1193.7,232.1 1190.7,229.9 1186.9,226.5 1184.3,223.5 1182.0,220.5 1179.4,216.0 1176.6,208.5 1175.6,204.0 1175.2,199.5 1175.6,192.0 1177.4,184.5 1179.3,180.0 1181.0,177.0 1184.1,172.5 1186.2,170.1 1192.2,164.7 1195.2,162.7 1199.7,160.3 1204.2,158.5ZM1444.1,157.5 1451.7,156.4 1456.2,156.4 1460.7,156.9 1468.2,158.8 1471.2,160.0 1475.7,162.3 1480.2,165.3 1483.2,167.9 1488.7,174.0 1491.5,178.5 1493.0,181.5 1495.1,187.5 1496.4,195.0 1496.4,199.5 1496.0,204.0 1494.1,211.5 1492.9,214.5 1490.5,219.0 1486.1,225.0 1480.2,230.5 1475.7,233.5 1472.7,235.1 1465.2,237.9 1457.7,239.3 1453.2,239.4 1448.7,239.1 1441.2,237.6 1436.7,235.9 1432.2,233.7 1427.7,230.7 1424.7,228.1 1419.2,222.0 1416.4,217.5 1414.9,214.5 1412.8,208.5 1411.5,201.0 1411.4,196.5 1411.8,192.0 1413.6,184.5 1415.5,180.0 1418.0,175.5 1423.2,169.1 1429.2,164.0 1433.7,161.3 1436.7,159.9Z"/>
<path fill="#e7ea25" d="M1210.8,157.5 1214.7,157.0 1219.2,156.9 1226.7,157.8 1234.2,160.2 1238.7,162.3 1241.7,164.2 1247.7,169.1 1253.0,175.5 1256.3,181.5 1258.0,186.0 1259.1,190.5 1259.7,198.0 1259.1,205.5 1257.9,210.0 1256.2,214.5 1252.8,220.5 1247.7,226.6 1241.7,231.6 1235.7,235.0 1231.2,236.8 1226.7,238.0 1222.2,238.7 1217.7,238.9 1213.2,238.6 1208.7,238.0 1204.2,236.7 1199.7,234.9 1193.7,231.5 1187.7,226.5 1182.7,220.5 1179.3,214.5 1177.6,210.0 1176.4,205.5 1175.8,201.0 1175.7,196.5 1176.7,189.0 1179.2,181.5 1180.7,178.5 1183.6,174.0 1189.2,167.9 1192.2,165.4 1196.7,162.5 1202.7,159.6 1207.2,158.2ZM1446.9,157.5 1454.7,156.9 1459.2,157.2 1463.7,158.0 1469.7,159.9 1472.7,161.3 1477.2,163.9 1480.2,166.0 1484.1,169.5 1489.0,175.5 1491.7,180.0 1493.0,183.0 1494.9,189.0 1495.7,193.5 1495.9,198.0 1495.1,205.5 1494.5,208.5 1492.9,213.0 1491.6,216.0 1488.9,220.5 1483.9,226.5 1480.2,229.8 1477.2,231.9 1472.7,234.5 1469.7,235.8 1462.2,238.1 1454.7,238.9 1450.2,238.7 1445.7,238.1 1438.2,236.0 1435.2,234.7 1430.7,232.1 1427.7,230.0 1423.7,226.5 1418.8,220.5 1416.1,216.0 1414.8,213.0 1413.2,208.5 1412.6,205.5 1411.8,198.0 1412.1,193.5 1412.8,189.0 1415.3,181.5 1417.7,177.0 1419.7,174.0 1425.1,168.0 1427.7,165.8 1432.2,162.7 1439.7,159.3Z"/>
<path fill="#f4e61c" d="M1215.2,157.5 1219.2,157.4 1223.7,157.8 1231.2,159.5 1238.7,162.9 1244.7,167.0 1250.2,172.5 1254.3,178.5 1257.5,186.0 1258.6,190.5 1259.2,195.0 1259.1,202.5 1257.5,210.0 1256.3,213.0 1254.1,217.5 1250.0,223.5 1244.7,228.8 1240.2,232.0 1237.2,233.7 1229.7,236.7 1222.2,238.2 1217.7,238.4 1213.2,238.2 1205.7,236.7 1198.2,233.6 1195.2,231.9 1190.7,228.6 1185.6,223.5 1182.3,219.0 1180.6,216.0 1179.2,213.0 1177.6,208.5 1176.3,201.0 1176.4,193.5 1178.0,186.0 1179.8,181.5 1182.2,177.0 1186.7,171.0 1192.2,166.0 1195.2,163.9 1199.7,161.4 1204.2,159.6 1207.2,158.7 1211.7,157.8ZM1451.2,157.5 1459.2,157.7 1466.7,159.4 1474.2,162.6 1480.2,166.7 1483.4,169.5 1486.1,172.5 1490.3,178.5 1491.8,181.5 1493.5,186.0 1494.7,190.5 1495.3,195.0 1495.1,202.5 1494.7,205.5 1493.5,210.0 1491.7,214.5 1490.2,217.5 1486.0,223.5 1480.2,229.2 1474.2,233.2 1466.7,236.4 1462.2,237.6 1457.7,238.3 1453.2,238.4 1448.7,238.1 1441.2,236.5 1433.7,233.4 1427.7,229.4 1424.4,226.5 1421.7,223.5 1419.3,220.5 1416.6,216.0 1414.7,211.5 1413.7,208.5 1412.4,201.0 1412.3,196.5 1412.8,192.0 1413.3,189.0 1414.6,184.5 1416.5,180.0 1418.2,177.0 1422.8,171.0 1426.2,167.6 1429.2,165.3 1433.7,162.4 1436.7,161.0 1444.2,158.5Z"/>
<path fill="#f7d815" d="M1208.1,159.0 1214.7,157.9 1222.2,158.0 1229.7,159.5 1237.2,162.5 1240.2,164.3 1244.7,167.6 1249.6,172.5 1252.9,177.0 1254.6,180.0 1256.0,183.0 1257.5,187.5 1258.8,195.0 1258.8,201.0 1257.5,208.5 1254.5,216.0 1251.8,220.5 1249.4,223.5 1244.7,228.2 1241.7,230.5 1237.2,233.3 1229.7,236.3 1222.2,237.8 1217.7,238.0 1213.2,237.8 1205.7,236.2 1198.2,233.1 1192.2,229.2 1187.7,225.1 1185.0,222.0 1181.1,216.0 1178.1,208.5 1176.8,201.0 1176.9,193.5 1177.7,189.0 1179.0,184.5 1181.0,180.0 1182.7,177.0 1187.4,171.0 1193.7,165.5 1198.2,162.7 1201.2,161.2 1205.7,159.6ZM1444.1,159.0 1447.2,158.3 1451.7,157.8 1459.2,158.1 1466.7,159.8 1469.7,160.9 1474.2,163.2 1480.2,167.2 1485.6,172.5 1489.8,178.5 1491.3,181.5 1493.1,186.0 1494.7,193.5 1495.0,198.0 1494.7,202.5 1493.1,210.0 1491.2,214.5 1489.7,217.5 1485.4,223.5 1480.2,228.6 1475.7,231.8 1472.7,233.5 1465.2,236.4 1457.7,237.8 1453.2,238.0 1448.7,237.7 1441.2,236.1 1436.7,234.4 1432.2,232.0 1426.2,227.6 1420.9,222.0 1417.9,217.5 1416.3,214.5 1413.7,207.0 1413.1,204.0 1412.8,199.5 1412.8,195.0 1413.3,190.5 1415.0,184.5 1416.2,181.5 1419.7,175.5 1423.3,171.0 1429.2,165.8 1433.7,162.9 1436.7,161.4 1441.2,159.7Z"/>
<path fill="#facb0e" d="M1210.0,159.0 1216.2,158.2 1223.7,158.6 1228.2,159.5 1232.7,160.9 1237.2,163.0 1240.2,164.7 1246.2,169.5 1251.5,175.5 1254.2,180.0 1255.6,183.0 1257.5,189.0 1258.6,196.5 1258.0,204.0 1257.5,207.0 1256.1,211.5 1253.3,217.5 1248.9,223.5 1243.2,229.0 1238.7,232.0 1235.7,233.6 1228.2,236.3 1220.7,237.5 1213.2,237.4 1205.7,235.8 1202.7,234.8 1196.7,231.8 1190.7,227.5 1185.4,222.0 1182.4,217.5 1180.8,214.5 1179.5,211.5 1178.1,207.0 1177.4,202.5 1177.1,198.0 1177.7,190.5 1179.4,184.5 1180.7,181.5 1184.2,175.5 1189.4,169.5 1192.2,167.1 1196.7,164.0 1202.7,161.0 1207.2,159.6ZM1445.9,159.0 1453.2,158.2 1460.7,158.8 1465.2,159.8 1469.7,161.4 1475.7,164.5 1482.2,169.5 1487.4,175.5 1490.2,180.0 1491.6,183.0 1493.1,187.5 1494.5,195.0 1494.3,202.5 1492.6,210.0 1490.1,216.0 1488.3,219.0 1483.5,225.0 1477.2,230.4 1472.7,233.0 1469.7,234.4 1463.7,236.4 1456.2,237.6 1448.7,237.3 1444.2,236.5 1439.7,235.2 1435.2,233.3 1432.2,231.6 1426.2,227.1 1422.6,223.5 1420.3,220.5 1416.7,214.5 1414.9,210.0 1413.8,205.5 1413.0,198.0 1413.7,190.5 1414.9,186.0 1416.0,183.0 1419.1,177.0 1421.2,174.0 1424.7,170.1 1427.7,167.4 1430.7,165.2 1435.2,162.5 1438.2,161.2 1442.7,159.7Z"/>
<path fill="#fcbd07" d="M1212.1,159.0 1219.2,158.5 1228.2,159.8 1235.7,162.6 1241.7,166.1 1247.3,171.0 1249.9,174.0 1252.0,177.0 1254.6,181.5 1255.8,184.5 1257.5,190.5 1258.1,195.0 1258.2,199.5 1257.2,207.0 1255.8,211.5 1254.5,214.5 1250.9,220.5 1248.5,223.5 1245.6,226.5 1243.2,228.5 1238.7,231.6 1232.7,234.5 1225.2,236.6 1217.7,237.3 1208.7,236.3 1202.7,234.4 1199.7,233.0 1195.2,230.5 1192.2,228.3 1188.6,225.0 1183.7,219.0 1181.2,214.5 1179.9,211.5 1177.9,204.0 1177.5,196.5 1177.9,192.0 1178.5,189.0 1179.3,186.0 1181.1,181.5 1182.7,178.5 1185.8,174.0 1190.7,168.8 1196.7,164.4 1199.7,162.8 1204.2,160.9 1207.2,159.9ZM1448.0,159.0 1451.7,158.6 1456.2,158.6 1463.7,159.7 1471.2,162.4 1477.2,165.9 1483.2,171.0 1488.0,177.0 1491.2,183.0 1492.8,187.5 1493.4,190.5 1494.2,198.0 1493.9,202.5 1493.1,207.0 1491.1,213.0 1489.6,216.0 1486.8,220.5 1483.0,225.0 1477.2,229.9 1471.2,233.4 1468.2,234.7 1462.2,236.4 1456.2,237.2 1453.2,237.3 1445.7,236.5 1438.2,234.2 1435.2,232.9 1430.7,230.2 1424.7,225.2 1419.7,219.0 1416.4,213.0 1414.9,208.5 1413.8,204.0 1413.4,196.5 1413.8,192.0 1414.4,189.0 1416.4,183.0 1417.8,180.0 1420.6,175.5 1422.9,172.5 1426.2,169.1 1432.2,164.6 1435.2,162.9 1439.7,161.0 1444.2,159.6Z"/>
<path fill="#ffb000" d="M1215.1,159.0 1219.2,158.9 1223.7,159.3 1231.2,161.1 1235.7,162.9 1238.7,164.6 1244.7,168.9 1249.5,174.0 1252.6,178.5 1254.2,181.5 1255.5,184.5 1256.9,189.0 1257.8,195.0 1257.6,202.5 1255.9,210.0 1254.1,214.5 1252.5,217.5 1248.1,223.5 1243.2,228.1 1240.2,230.3 1235.7,232.8 1231.2,234.7 1228.2,235.6 1220.7,236.8 1213.2,236.6 1208.7,235.9 1205.7,235.1 1201.2,233.4 1198.2,231.9 1192.2,227.8 1189.1,225.0 1186.4,222.0 1182.3,216.0 1180.9,213.0 1179.3,208.5 1177.9,201.0 1178.0,193.5 1179.7,186.0 1181.5,181.5 1183.1,178.5 1187.5,172.5 1190.7,169.2 1193.7,166.8 1199.7,163.1 1207.2,160.3 1210.2,159.6ZM1451.0,159.0 1454.7,158.9 1459.2,159.3 1463.7,160.1 1466.7,161.0 1471.2,162.8 1474.2,164.4 1480.2,168.6 1485.4,174.0 1489.4,180.0 1491.4,184.5 1492.4,187.5 1493.1,190.5 1493.7,195.0 1493.8,199.5 1493.3,204.0 1492.8,207.0 1491.3,211.5 1488.4,217.5 1484.0,223.5 1478.7,228.4 1474.2,231.4 1471.2,233.0 1463.7,235.7 1457.7,236.7 1453.2,236.9 1448.7,236.6 1441.2,235.0 1436.7,233.2 1433.7,231.7 1427.7,227.5 1422.2,222.0 1418.2,216.0 1416.8,213.0 1415.2,208.5 1413.8,201.0 1413.9,193.5 1415.6,186.0 1416.7,183.0 1419.0,178.5 1423.3,172.5 1429.2,167.1 1435.2,163.3 1439.7,161.3 1444.2,160.0Z"/>
<path fill="#ffa300" d="M1207.7,160.5 1214.7,159.3 1222.2,159.4 1229.7,160.9 1237.2,164.1 1243.2,168.1 1246.2,170.8 1249.1,174.0 1253.1,180.0 1254.5,183.0 1256.1,187.5 1257.5,195.0 1257.3,202.5 1255.6,210.0 1253.0,216.0 1249.0,222.0 1246.2,225.0 1243.2,227.7 1237.2,231.7 1234.2,233.2 1229.7,234.9 1222.2,236.4 1217.7,236.6 1213.2,236.3 1205.7,234.7 1201.2,233.0 1198.2,231.5 1192.2,227.4 1186.8,222.0 1182.7,216.0 1181.2,213.0 1179.6,208.5 1178.2,201.0 1178.3,193.5 1180.0,186.0 1181.1,183.0 1183.5,178.5 1187.9,172.5 1193.7,167.2 1198.2,164.3 1201.2,162.8ZM1443.6,160.5 1447.2,159.7 1451.7,159.2 1459.2,159.6 1466.7,161.3 1471.2,163.1 1474.2,164.7 1480.2,169.0 1485.0,174.0 1488.2,178.5 1489.8,181.5 1492.0,187.5 1492.8,190.5 1493.4,195.0 1493.2,202.5 1492.8,205.5 1491.5,210.0 1489.7,214.5 1488.0,217.5 1483.5,223.5 1478.7,228.0 1472.7,231.9 1465.2,235.0 1457.7,236.4 1450.2,236.5 1442.7,235.1 1435.2,232.1 1428.7,228.0 1425.4,225.0 1422.6,222.0 1418.6,216.0 1417.1,213.0 1415.5,208.5 1414.1,201.0 1414.3,193.5 1415.9,186.0 1417.7,181.5 1419.3,178.5 1423.7,172.5 1429.2,167.4 1433.7,164.5 1436.7,162.9Z"/>
<path fill="#ff9600" d="M1209.0,160.5 1216.2,159.5 1223.7,159.9 1231.2,161.7 1235.7,163.6 1238.7,165.3 1244.7,169.7 1249.9,175.5 1253.5,181.5 1254.8,184.5 1256.2,189.0 1257.3,196.5 1256.8,204.0 1256.2,207.0 1254.8,211.5 1251.8,217.5 1247.3,223.5 1241.7,228.5 1235.7,232.2 1228.2,235.0 1220.7,236.2 1213.2,236.0 1205.7,234.4 1201.2,232.7 1198.2,231.2 1195.2,229.3 1191.6,226.5 1188.5,223.5 1186.0,220.5 1182.3,214.5 1181.0,211.5 1179.5,207.0 1178.4,199.5 1178.9,192.0 1180.9,184.5 1183.8,178.5 1188.3,172.5 1193.7,167.6 1196.7,165.5 1201.2,163.1 1205.7,161.4ZM1444.8,160.5 1448.7,159.8 1453.2,159.5 1460.7,160.1 1468.2,162.2 1474.2,165.1 1480.3,169.5 1483.3,172.5 1485.8,175.5 1489.4,181.5 1491.3,186.0 1492.1,189.0 1493.2,196.5 1492.7,204.0 1490.6,211.5 1487.7,217.5 1483.1,223.5 1480.2,226.4 1477.2,228.7 1471.2,232.3 1463.7,235.1 1456.2,236.2 1448.7,236.0 1441.2,234.3 1436.7,232.5 1433.7,231.0 1427.4,226.5 1424.3,223.5 1421.8,220.5 1418.2,214.5 1416.3,210.0 1415.4,207.0 1414.3,199.5 1414.7,192.0 1416.8,184.5 1418.8,180.0 1420.6,177.0 1425.6,171.0 1430.7,166.7 1433.7,164.8 1438.2,162.6Z"/>
<path fill="#ff8900" d="M1210.4,160.5 1214.7,159.9 1219.2,159.8 1226.7,160.8 1232.7,162.6 1235.7,163.9 1240.2,166.6 1246.2,171.6 1250.6,177.0 1253.2,181.5 1254.5,184.5 1256.3,190.5 1257.0,198.0 1256.3,205.5 1254.5,211.5 1253.1,214.5 1250.5,219.0 1246.2,224.2 1240.2,229.2 1235.7,231.8 1232.7,233.2 1226.7,235.0 1222.2,235.8 1217.7,236.0 1210.2,235.3 1202.7,233.0 1196.7,229.9 1193.7,227.9 1190.4,225.0 1185.3,219.0 1181.9,213.0 1180.7,210.0 1179.5,205.5 1178.7,198.0 1179.4,190.5 1180.6,186.0 1181.8,183.0 1185.1,177.0 1190.2,171.0 1193.6,168.0 1196.7,165.9 1202.7,162.8 1207.2,161.2ZM1446.3,160.5 1450.2,159.9 1454.7,159.8 1462.2,160.7 1468.2,162.5 1471.2,163.8 1475.7,166.4 1481.7,171.2 1486.5,177.0 1489.8,183.0 1491.4,187.5 1492.2,190.5 1492.9,198.0 1492.1,205.5 1491.4,208.5 1489.7,213.0 1486.3,219.0 1481.7,224.6 1475.7,229.4 1471.2,232.0 1468.2,233.3 1462.2,235.1 1457.7,235.8 1453.2,236.0 1445.7,235.2 1439.7,233.5 1435.2,231.5 1432.2,229.7 1429.2,227.6 1426.2,225.0 1423.4,222.0 1421.1,219.0 1417.8,213.0 1416.1,208.5 1415.4,205.5 1414.6,198.0 1415.3,190.5 1416.5,186.0 1417.7,183.0 1421.0,177.0 1426.0,171.0 1429.2,168.2 1432.2,166.1 1435.2,164.3 1439.7,162.3Z"/>
<path fill="#ff7c00" d="M1212.2,160.5 1219.2,160.1 1226.7,161.0 1232.7,162.9 1235.7,164.3 1240.2,166.9 1246.2,172.0 1250.3,177.0 1252.9,181.5 1254.2,184.5 1256.0,190.5 1256.7,198.0 1256.0,205.5 1254.2,211.5 1252.8,214.5 1250.2,219.0 1246.2,223.8 1240.2,228.9 1235.7,231.5 1232.7,232.9 1225.2,235.1 1217.7,235.7 1210.2,235.0 1205.7,233.8 1201.2,232.1 1195.2,228.6 1189.3,223.5 1186.7,220.5 1184.6,217.5 1182.2,213.0 1181.0,210.0 1179.5,204.0 1179.0,196.5 1179.4,192.0 1180.1,189.0 1180.9,186.0 1182.8,181.5 1186.6,175.5 1189.2,172.4 1192.2,169.5 1198.2,165.3 1204.2,162.5 1208.7,161.1ZM1448.0,160.5 1451.7,160.1 1456.2,160.1 1463.7,161.3 1471.2,164.1 1477.2,167.8 1482.5,172.5 1487.1,178.5 1490.1,184.5 1491.5,189.0 1492.1,192.0 1492.6,198.0 1491.8,205.5 1490.0,211.5 1488.7,214.5 1486.0,219.0 1481.7,224.1 1475.7,229.1 1471.2,231.7 1468.2,233.0 1460.7,235.1 1453.2,235.7 1445.7,234.9 1441.2,233.7 1436.7,231.9 1430.7,228.4 1425.1,223.5 1422.5,220.5 1420.5,217.5 1417.5,211.5 1416.4,208.5 1415.4,204.0 1414.9,196.5 1416.0,189.0 1418.0,183.0 1419.5,180.0 1422.4,175.5 1427.7,169.8 1433.7,165.5 1439.7,162.6 1444.2,161.2Z"/>
<path fill="#ff6f00" d="M1214.6,160.5 1220.7,160.5 1228.2,161.7 1235.7,164.6 1241.7,168.4 1244.8,171.0 1247.6,174.0 1251.8,180.0 1254.5,186.0 1255.7,190.5 1256.2,193.5 1256.3,201.0 1255.7,205.5 1254.9,208.5 1252.5,214.5 1249.8,219.0 1247.7,221.7 1244.7,224.9 1241.7,227.4 1235.7,231.2 1229.7,233.6 1225.2,234.8 1222.2,235.2 1214.7,235.3 1210.2,234.7 1207.2,234.0 1201.2,231.8 1198.2,230.2 1193.7,227.2 1188.3,222.0 1184.1,216.0 1182.5,213.0 1180.8,208.5 1179.4,201.0 1179.5,193.5 1181.3,186.0 1183.9,180.0 1188.1,174.0 1193.7,168.6 1199.7,164.8 1204.2,162.8 1207.2,161.8ZM1450.4,160.5 1454.7,160.4 1459.2,160.7 1462.2,161.3 1466.7,162.5 1472.7,165.2 1478.7,169.3 1483.5,174.0 1486.8,178.5 1488.5,181.5 1489.8,184.5 1491.2,189.0 1492.2,195.0 1492.0,202.5 1491.5,205.5 1490.3,210.0 1487.5,216.0 1483.3,222.0 1480.4,225.0 1477.2,227.7 1471.2,231.4 1466.7,233.3 1463.7,234.2 1457.7,235.2 1450.2,235.3 1445.7,234.7 1442.7,233.9 1436.7,231.6 1433.7,230.0 1429.2,226.9 1424.1,222.0 1419.9,216.0 1418.4,213.0 1416.7,208.5 1415.2,201.0 1415.2,195.0 1416.6,187.5 1418.3,183.0 1419.8,180.0 1423.9,174.0 1429.2,168.9 1433.7,165.8 1436.7,164.2 1444.2,161.5Z"/>
<path fill="#ff6200" d="M1207.6,162.0 1214.7,160.8 1222.2,160.9 1228.2,162.0 1231.2,162.9 1235.7,164.9 1241.7,168.7 1247.3,174.0 1251.5,180.0 1254.2,186.0 1255.4,190.5 1255.9,193.5 1256.0,201.0 1255.4,205.5 1254.6,208.5 1252.2,214.5 1248.4,220.5 1245.7,223.5 1242.5,226.5 1237.2,230.1 1234.2,231.6 1229.7,233.4 1225.2,234.5 1222.2,234.9 1214.7,235.0 1208.7,234.1 1201.2,231.4 1198.2,229.9 1193.7,226.8 1188.7,222.0 1184.4,216.0 1182.8,213.0 1181.1,208.5 1179.7,201.0 1179.8,193.5 1181.6,186.0 1184.3,180.0 1188.5,174.0 1193.7,169.0 1198.2,165.9 1201.2,164.4ZM1443.4,162.0 1450.2,160.8 1457.7,160.8 1463.7,161.9 1466.7,162.8 1471.2,164.7 1477.2,168.5 1480.2,171.0 1483.1,174.0 1487.3,180.0 1490.0,186.0 1491.3,190.5 1491.8,193.5 1491.9,201.0 1490.9,207.0 1489.4,211.5 1488.0,214.5 1484.2,220.5 1481.5,223.5 1478.7,226.1 1472.7,230.3 1466.7,233.0 1459.2,234.8 1451.7,235.1 1444.2,234.0 1441.2,233.1 1436.7,231.3 1432.2,228.7 1429.2,226.6 1424.5,222.0 1420.2,216.0 1418.7,213.0 1417.0,208.5 1415.5,201.0 1415.7,193.5 1416.9,187.5 1418.6,183.0 1420.1,180.0 1424.3,174.0 1429.2,169.2 1433.7,166.1 1436.7,164.5Z"/>
<path fill="#ff5500" d="M1208.7,162.0 1216.2,161.0 1223.7,161.3 1231.2,163.2 1237.2,166.0 1243.2,170.3 1248.2,175.5 1252.2,181.9 1254.4,187.5 1255.2,190.7 1255.8,195.0 1255.6,202.5 1253.8,210.0 1251.1,216.0 1246.8,222.0 1241.7,226.8 1237.2,229.8 1234.2,231.3 1229.7,233.1 1222.2,234.7 1214.7,234.8 1210.2,234.1 1207.2,233.4 1201.2,231.1 1198.1,229.5 1193.8,226.5 1189.0,222.0 1184.7,216.0 1183.1,213.0 1181.4,208.5 1180.0,201.0 1180.1,193.5 1181.4,187.5 1183.1,183.0 1184.6,180.0 1188.9,174.0 1193.7,169.3 1197.8,166.5 1201.2,164.7ZM1444.5,162.0 1448.7,161.2 1453.2,160.9 1460.7,161.5 1466.7,163.1 1473.8,166.5 1479.8,171.0 1484.7,176.4 1487.8,181.5 1489.7,186.0 1490.7,189.2 1491.7,196.5 1491.2,204.0 1489.2,211.2 1486.2,217.1 1481.7,222.9 1475.7,228.1 1469.7,231.5 1466.7,232.7 1462.2,234.0 1454.7,234.9 1447.2,234.4 1440.2,232.5 1433.9,229.5 1427.8,225.0 1423.2,220.0 1419.7,214.5 1418.3,211.5 1416.8,207.0 1415.7,199.5 1415.7,196.4 1416.2,192.0 1417.2,187.5 1418.3,184.5 1421.3,178.5 1426.0,172.5 1431.3,168.0 1436.7,164.8 1439.7,163.5Z"/>
<path fill="#ff4800" d="M1209.9,162.0 1217.7,161.2 1225.2,161.8 1231.2,163.5 1234.2,164.8 1239.8,168.0 1243.2,170.6 1246.2,173.6 1250.7,179.7 1253.7,186.2 1255.2,192.0 1255.6,198.0 1255.1,204.0 1254.0,208.5 1252.3,213.0 1249.2,218.4 1244.7,223.8 1241.6,226.5 1238.7,228.5 1232.7,231.7 1229.7,232.8 1225.2,233.9 1217.7,234.6 1210.9,234.0 1205.7,232.7 1202.7,231.5 1196.7,228.3 1190.8,223.5 1186.2,217.9 1182.8,211.5 1181.0,205.5 1180.2,201.0 1180.1,198.0 1180.2,195.0 1180.9,190.5 1181.7,187.5 1183.2,183.4 1186.2,177.9 1190.7,172.4 1196.7,167.5 1202.7,164.3ZM1445.6,162.0 1453.2,161.2 1460.7,161.8 1466.7,163.4 1473.3,166.5 1479.4,171.0 1482.4,174.0 1484.8,177.0 1488.2,183.0 1489.4,186.0 1490.7,190.5 1491.4,198.0 1490.7,205.4 1489.4,210.0 1488.1,213.0 1484.7,218.9 1482.2,222.0 1479.2,225.0 1472.9,229.5 1466.4,232.5 1460.7,234.0 1453.2,234.6 1446.7,234.0 1441.2,232.6 1438.2,231.4 1432.2,228.1 1426.7,223.5 1421.8,217.5 1418.6,211.5 1416.8,205.5 1416.0,198.0 1416.8,190.5 1418.5,184.5 1421.7,178.4 1426.4,172.5 1432.2,167.7 1438.2,164.4 1441.2,163.2Z"/>
<path fill="#fc3c04" d="M1211.4,162.0 1217.7,161.5 1225.2,162.2 1229.7,163.3 1234.0,165.0 1239.3,168.0 1243.2,171.0 1246.2,174.0 1250.5,180.0 1252.2,183.3 1253.7,187.2 1255.1,193.5 1255.2,201.0 1253.7,208.5 1250.7,215.5 1247.7,219.9 1242.9,225.0 1236.5,229.5 1229.7,232.5 1223.7,233.9 1216.2,234.3 1210.2,233.5 1206.1,232.5 1202.7,231.2 1196.7,228.0 1190.7,222.9 1186.2,217.4 1183.1,211.5 1181.7,207.4 1181.0,204.0 1180.5,199.5 1180.5,196.5 1181.5,189.0 1183.2,184.1 1184.7,181.0 1187.2,177.0 1191.1,172.5 1196.7,167.9 1201.8,165.0 1205.5,163.5ZM1447.1,162.0 1454.7,161.5 1460.7,162.1 1466.1,163.5 1469.7,164.9 1475.1,168.0 1478.7,170.8 1481.7,173.7 1486.2,179.7 1489.2,186.2 1490.7,192.0 1491.1,196.5 1491.0,201.0 1490.7,204.0 1489.5,208.5 1487.8,213.0 1486.2,216.0 1483.2,220.4 1478.7,225.1 1472.3,229.5 1465.5,232.5 1459.2,234.0 1451.7,234.3 1445.7,233.4 1441.9,232.5 1438.2,231.1 1432.6,228.0 1427.7,224.1 1423.1,219.0 1420.4,214.5 1419.0,211.5 1417.1,205.5 1416.3,198.0 1417.0,190.5 1418.9,184.5 1420.2,181.5 1423.0,177.0 1426.9,172.5 1432.3,168.0 1438.2,164.7 1441.3,163.5Z"/>
<path fill="#f93108" d="M1213.5,162.0 1217.7,161.8 1222.2,162.0 1229.3,163.5 1236.2,166.5 1240.8,169.5 1246.2,174.5 1249.2,178.5 1250.7,181.0 1252.2,184.1 1253.7,188.4 1254.9,195.0 1254.9,201.0 1253.4,208.5 1250.7,214.8 1249.1,217.5 1246.2,221.2 1240.6,226.5 1235.7,229.6 1228.6,232.5 1220.7,233.9 1214.7,233.9 1207.1,232.5 1199.9,229.5 1193.7,225.3 1190.7,222.5 1187.7,219.0 1184.7,214.1 1183.2,210.8 1181.9,207.0 1180.9,201.0 1180.9,195.0 1181.9,189.0 1183.2,184.9 1184.7,181.6 1187.6,177.0 1189.2,175.0 1195.0,169.5 1199.5,166.5 1206.5,163.5ZM1449.3,162.0 1457.7,162.0 1465.1,163.5 1472.0,166.5 1476.6,169.5 1481.7,174.1 1486.2,180.4 1489.2,187.2 1490.7,194.3 1490.7,201.5 1489.2,208.5 1486.2,215.4 1482.6,220.5 1478.2,225.0 1474.3,228.0 1471.7,229.5 1468.6,231.0 1464.4,232.5 1457.7,233.8 1450.2,233.9 1442.9,232.5 1435.7,229.5 1431.0,226.5 1426.0,222.0 1421.7,216.2 1418.7,210.0 1417.4,205.5 1416.9,202.5 1416.8,195.0 1417.8,189.0 1418.7,185.9 1420.2,182.4 1421.7,179.6 1424.6,175.5 1427.3,172.5 1430.7,169.5 1435.3,166.5 1442.3,163.5Z"/>
<path fill="#f7250c" d="M1207.8,163.5 1214.7,162.3 1222.2,162.4 1228.2,163.5 1232.4,165.0 1235.7,166.6 1242.1,171.0 1244.7,173.4 1247.7,176.9 1250.7,181.8 1252.2,185.1 1253.5,189.0 1254.6,196.5 1254.1,204.0 1252.2,210.7 1249.2,216.6 1245.0,222.0 1240.0,226.5 1235.1,229.5 1228.2,232.2 1220.7,233.6 1214.7,233.5 1208.5,232.5 1203.9,231.0 1200.7,229.5 1198.0,228.0 1193.9,225.0 1189.2,220.3 1186.2,216.1 1184.7,213.3 1182.3,207.0 1181.6,204.0 1181.2,199.5 1181.6,192.0 1183.2,185.9 1186.2,179.7 1190.5,174.0 1195.5,169.5 1200.3,166.5 1203.5,165.0ZM1443.6,163.5 1450.2,162.3 1457.7,162.3 1463.8,163.5 1468.2,165.0 1471.3,166.5 1474.2,168.2 1477.9,171.0 1483.2,176.5 1486.2,181.1 1487.7,184.2 1489.2,188.4 1490.4,195.0 1490.4,201.0 1489.2,207.4 1487.7,211.6 1486.2,214.7 1484.5,217.5 1481.7,221.1 1479.4,223.5 1475.8,226.5 1471.0,229.5 1463.7,232.3 1456.2,233.6 1450.2,233.5 1444.2,232.5 1439.7,231.0 1436.5,229.5 1433.7,227.9 1429.7,225.0 1425.2,220.5 1421.7,215.5 1418.7,208.8 1417.2,202.1 1417.0,198.0 1417.2,193.7 1418.7,187.0 1421.7,180.3 1426.2,174.2 1431.4,169.5 1436.1,166.5 1439.2,165.0Z"/>
<path fill="#f41a10" d="M1209.3,163.5 1216.2,162.6 1223.7,163.0 1226.7,163.5 1231.3,165.0 1237.4,168.0 1243.2,172.5 1247.7,177.6 1250.9,183.0 1252.2,186.2 1253.4,190.5 1254.2,196.5 1253.7,204.0 1252.1,210.0 1249.2,216.0 1244.7,221.8 1239.3,226.5 1234.3,229.5 1230.8,231.0 1226.7,232.2 1219.2,233.2 1211.7,232.8 1205.0,231.0 1198.8,228.0 1192.8,223.5 1187.7,217.7 1184.7,212.4 1183.2,208.7 1182.4,205.5 1181.5,199.5 1181.8,193.5 1183.2,187.2 1184.7,183.4 1186.5,180.0 1190.7,174.4 1196.2,169.5 1201.2,166.5 1204.5,165.0ZM1445.1,163.5 1451.7,162.6 1459.2,162.9 1462.3,163.5 1467.1,165.0 1473.2,168.0 1478.7,172.2 1483.2,177.2 1486.7,183.0 1489.2,190.0 1490.1,196.5 1489.5,204.0 1487.7,210.6 1484.7,216.5 1480.4,222.0 1475.1,226.5 1470.1,229.5 1466.6,231.0 1462.2,232.3 1454.7,233.3 1447.2,232.7 1440.8,231.0 1434.6,228.0 1429.2,224.0 1424.7,219.2 1421.6,214.5 1420.1,211.5 1418.6,207.0 1417.4,199.5 1417.7,193.5 1419.0,187.5 1420.2,184.2 1422.4,180.0 1426.2,174.8 1429.2,171.8 1432.0,169.5 1436.9,166.5 1440.3,165.0Z"/>
<path fill="#eb1516" d="M1211.3,163.5 1217.7,162.9 1225.2,163.6 1229.7,164.9 1232.7,166.0 1238.7,169.4 1244.1,174.0 1247.8,178.5 1251.1,184.5 1252.2,187.5 1253.3,192.0 1253.7,195.0 1253.8,199.5 1252.9,205.5 1252.2,208.5 1250.7,212.2 1247.7,217.5 1243.2,222.7 1240.6,225.0 1237.2,227.4 1233.3,229.5 1229.7,231.0 1223.7,232.4 1216.2,232.8 1210.2,232.0 1206.3,231.0 1202.7,229.6 1197.2,226.5 1191.8,222.0 1187.7,216.9 1184.7,211.4 1183.2,207.2 1182.5,204.0 1181.9,198.0 1182.8,190.5 1184.7,184.4 1188.0,178.5 1192.2,173.4 1194.9,171.0 1198.2,168.7 1202.1,166.5 1205.7,165.0ZM1447.1,163.5 1453.2,162.9 1460.7,163.6 1465.2,164.8 1468.2,165.9 1474.7,169.5 1480.2,174.2 1484.6,180.0 1487.5,186.0 1489.2,192.0 1489.6,199.5 1488.8,205.5 1487.7,209.4 1486.2,212.9 1483.2,217.9 1478.2,223.5 1472.7,227.6 1469.1,229.5 1465.3,231.0 1459.2,232.5 1451.7,232.8 1445.7,232.0 1442.1,231.0 1438.3,229.5 1433.0,226.5 1427.6,222.0 1423.2,216.4 1420.2,210.6 1418.3,204.0 1417.8,196.5 1418.7,190.0 1421.2,183.0 1424.7,177.2 1429.2,172.3 1435.0,168.0 1441.2,165.1Z"/>
<path fill="#e3111c" d="M1214.6,163.5 1221.2,163.5 1228.7,165.0 1232.7,166.5 1235.7,168.0 1240.2,171.0 1244.9,175.5 1249.2,181.6 1250.7,184.7 1252.2,189.0 1253.2,195.0 1253.2,201.0 1252.5,205.5 1251.7,208.5 1249.0,214.5 1244.8,220.5 1239.9,225.0 1234.2,228.6 1228.1,231.0 1220.7,232.3 1214.7,232.3 1207.2,230.8 1200.5,228.0 1195.2,224.4 1190.7,220.1 1187.7,216.1 1186.2,213.5 1183.6,207.0 1182.5,201.0 1182.4,198.0 1182.7,193.5 1184.0,187.5 1186.7,181.5 1190.7,175.7 1195.6,171.0 1201.2,167.5 1207.2,165.0ZM1450.4,163.5 1457.7,163.6 1464.5,165.0 1471.2,167.9 1476.0,171.0 1480.7,175.5 1483.1,178.5 1485.0,181.5 1487.7,187.9 1489.1,195.0 1489.1,201.0 1487.5,208.5 1484.7,214.8 1480.5,220.5 1475.7,225.0 1469.7,228.7 1463.7,231.0 1456.2,232.4 1450.2,232.3 1442.7,230.7 1436.3,228.0 1430.7,224.2 1425.6,219.0 1421.8,213.0 1419.5,207.0 1418.4,201.0 1418.5,193.5 1419.9,187.5 1422.5,181.5 1426.2,176.1 1431.4,171.0 1436.7,167.6 1442.9,165.0Z"/>
<path fill="#da0c22" d="M1208.8,165.0 1216.2,163.9 1222.2,164.1 1228.2,165.3 1234.7,168.0 1237.3,169.5 1241.2,172.5 1245.5,177.0 1249.2,182.6 1251.7,189.0 1252.8,195.0 1252.9,198.0 1252.6,202.5 1252.0,205.5 1250.7,209.9 1247.7,215.8 1243.2,221.5 1238.7,225.3 1232.7,228.8 1226.7,230.9 1219.2,231.9 1213.2,231.6 1207.2,230.3 1201.2,227.8 1195.2,223.8 1190.4,219.0 1186.5,213.0 1184.2,207.0 1183.0,201.0 1183.1,193.5 1184.7,187.0 1187.7,180.6 1191.5,175.5 1196.4,171.0 1201.2,168.0 1204.3,166.5ZM1444.6,165.0 1451.7,163.9 1457.7,164.1 1463.7,165.3 1467.2,166.5 1471.2,168.4 1477.0,172.5 1481.7,177.4 1485.2,183.0 1487.7,189.7 1488.7,196.5 1488.7,199.5 1488.2,204.0 1486.2,210.6 1483.4,216.0 1478.7,221.8 1474.2,225.5 1468.2,228.9 1462.2,230.9 1454.7,231.9 1448.7,231.6 1442.7,230.2 1436.7,227.7 1430.7,223.6 1426.2,219.0 1422.3,213.0 1420.0,207.0 1419.0,202.5 1418.7,199.5 1419.0,193.5 1420.3,187.5 1423.2,181.2 1427.3,175.5 1432.2,171.0 1438.2,167.4Z"/>
<path fill="#d20828" d="M1211.1,165.0 1217.7,164.3 1224.8,165.0 1230.1,166.5 1236.3,169.5 1241.7,173.6 1246.1,178.5 1249.2,183.7 1250.7,187.4 1251.6,190.5 1252.4,196.5 1252.3,201.0 1251.8,204.0 1250.1,210.0 1247.0,216.0 1243.2,220.7 1238.3,225.0 1232.7,228.2 1229.6,229.5 1225.2,230.7 1219.2,231.4 1211.7,230.9 1205.7,229.3 1199.7,226.4 1193.9,222.0 1189.9,217.5 1186.3,211.5 1184.3,205.5 1183.5,201.0 1183.4,198.0 1183.9,192.0 1184.7,188.7 1186.2,184.6 1189.2,179.3 1193.7,174.0 1199.5,169.5 1205.7,166.5ZM1446.8,165.0 1453.2,164.4 1460.5,165.0 1466.7,166.8 1472.7,169.9 1475.7,172.1 1478.7,174.8 1482.9,180.0 1486.0,186.0 1487.7,192.0 1488.2,199.5 1487.3,205.5 1485.2,211.5 1481.7,217.5 1477.7,222.0 1472.7,225.9 1466.7,229.0 1460.7,230.8 1454.7,231.4 1447.2,230.9 1441.2,229.2 1435.2,226.2 1429.7,222.0 1425.7,217.5 1422.1,211.5 1420.1,205.5 1419.3,201.0 1419.2,198.0 1419.7,192.0 1421.7,185.3 1424.7,179.7 1429.4,174.0 1435.2,169.5 1441.2,166.6Z"/>
<path fill="#c8062e" d="M1214.7,165.0 1221.1,165.0 1228.2,166.4 1234.2,168.9 1239.7,172.5 1244.3,177.0 1247.7,182.0 1249.2,184.9 1250.7,189.0 1251.8,195.0 1251.8,201.0 1250.6,207.0 1249.2,210.8 1247.7,213.8 1244.1,219.0 1239.4,223.5 1234.2,226.9 1227.9,229.5 1220.7,230.8 1214.7,230.8 1208.0,229.5 1201.2,226.7 1196.4,223.5 1191.8,219.0 1187.7,213.1 1185.2,207.0 1184.1,201.0 1184.1,195.0 1185.2,189.0 1187.7,182.8 1191.6,177.0 1196.2,172.5 1201.2,169.1 1207.4,166.5ZM1450.5,165.0 1456.8,165.0 1463.7,166.3 1469.7,168.8 1475.4,172.5 1480.2,177.2 1484.0,183.0 1486.4,189.0 1487.6,195.0 1487.5,201.0 1486.2,207.5 1484.7,211.4 1483.2,214.3 1479.8,219.0 1475.2,223.5 1469.7,227.0 1463.6,229.5 1456.2,230.8 1450.2,230.8 1443.7,229.5 1439.7,228.0 1436.7,226.5 1432.2,223.5 1427.5,219.0 1423.4,213.0 1421.0,207.0 1419.8,201.0 1419.7,198.0 1420.0,193.5 1421.4,187.5 1424.2,181.5 1427.3,177.0 1432.2,172.3 1438.2,168.5 1444.2,166.2Z"/>
<path fill="#bf0434" d="M1209.3,166.5 1216.2,165.5 1222.2,165.7 1228.2,167.0 1234.2,169.5 1240.2,173.6 1244.7,178.4 1247.7,183.0 1250.1,189.0 1251.2,195.0 1251.2,201.0 1250.0,207.0 1247.6,213.0 1243.4,219.0 1238.7,223.4 1232.7,227.1 1226.7,229.3 1220.7,230.3 1214.7,230.2 1208.7,229.1 1202.1,226.5 1196.7,223.0 1192.2,218.7 1188.3,213.0 1185.8,207.0 1184.6,201.0 1184.5,196.5 1184.8,193.5 1186.2,187.5 1189.1,181.5 1192.3,177.0 1197.1,172.5 1202.7,169.0ZM1445.0,166.5 1451.7,165.5 1457.7,165.7 1463.7,166.9 1469.9,169.5 1475.7,173.5 1480.2,178.1 1483.4,183.0 1484.8,186.0 1486.2,190.3 1487.1,196.5 1486.8,202.5 1485.3,208.5 1482.4,214.5 1478.7,219.4 1474.2,223.6 1468.2,227.1 1462.2,229.3 1456.2,230.3 1450.2,230.2 1444.2,229.1 1437.8,226.5 1432.2,222.8 1427.7,218.4 1424.1,213.0 1421.5,207.0 1420.6,202.5 1420.2,199.5 1420.5,193.5 1422.0,187.5 1424.7,181.6 1428.1,177.0 1432.8,172.5 1438.2,169.1Z"/>
<path fill="#b5023a" d="M1212.0,166.5 1217.7,166.0 1223.9,166.5 1229.7,168.1 1235.7,171.0 1241.4,175.5 1245.2,180.0 1248.4,186.0 1250.2,192.0 1250.8,198.0 1250.2,204.0 1249.2,207.8 1247.7,211.5 1245.0,216.0 1241.2,220.5 1235.3,225.0 1229.7,227.7 1223.7,229.3 1220.7,229.7 1216.2,229.8 1210.2,228.9 1207.0,228.0 1203.4,226.5 1198.3,223.5 1193.7,219.4 1190.7,215.8 1187.5,210.0 1185.7,204.0 1185.1,198.0 1185.7,192.0 1187.4,186.0 1190.7,180.0 1195.2,174.9 1200.3,171.0 1206.5,168.0ZM1447.7,166.5 1454.7,166.0 1460.7,166.7 1466.7,168.6 1472.7,171.9 1477.2,175.6 1481.7,181.3 1484.7,187.4 1486.2,193.4 1486.5,199.5 1485.6,205.5 1483.4,211.5 1480.2,216.7 1475.7,221.6 1471.0,225.0 1465.2,227.8 1459.2,229.4 1453.2,229.8 1447.2,229.2 1441.2,227.4 1435.2,224.3 1430.4,220.5 1426.2,215.5 1423.2,210.0 1421.4,204.0 1420.8,198.0 1420.9,195.0 1421.7,190.5 1423.2,185.8 1426.4,180.0 1430.7,175.0 1436.0,171.0 1442.1,168.0Z"/>
<path fill="#ac0040" d="M1208.4,168.0 1213.2,166.6 1223.7,166.7 1225.2,167.4 1228.2,168.0 1231.5,169.5 1232.7,169.6 1234.2,170.8 1237.2,172.6 1241.7,176.7 1244.6,180.0 1246.3,183.0 1247.6,184.5 1247.7,185.8 1249.1,189.0 1249.9,193.5 1250.5,195.0 1250.5,201.0 1249.8,202.5 1249.1,207.0 1246.2,213.0 1244.7,215.4 1244.6,216.0 1237.2,223.4 1236.5,223.5 1234.2,225.0 1228.2,227.9 1223.7,228.7 1222.2,229.4 1213.2,229.3 1211.7,228.6 1207.2,227.9 1205.7,226.8 1204.2,226.4 1201.8,225.0 1201.2,224.9 1195.7,220.5 1192.2,216.7 1187.8,210.0 1187.1,207.0 1186.3,205.5 1185.7,198.0 1186.3,190.5 1187.1,189.0 1187.8,186.0 1188.8,184.5 1189.3,183.0 1193.7,177.0 1196.7,174.1 1201.2,171.0 1207.2,168.1ZM1444.0,168.0 1448.7,166.6 1459.2,166.6 1460.7,167.4 1463.7,168.0 1467.2,169.5 1468.2,169.6 1472.7,172.5 1476.1,175.5 1478.7,178.2 1483.1,184.5 1483.2,185.4 1484.7,189.0 1485.5,193.5 1486.1,195.0 1486.1,201.0 1485.5,202.5 1484.7,207.0 1483.2,210.4 1483.1,211.5 1480.2,216.0 1477.2,219.3 1472.7,223.4 1463.7,227.9 1459.2,228.7 1457.7,229.4 1448.7,229.3 1447.2,228.5 1444.2,228.0 1439.7,226.4 1437.5,225.0 1436.7,224.9 1431.3,220.5 1427.7,216.5 1424.7,211.7 1422.8,207.0 1421.9,205.5 1421.4,198.0 1421.9,190.5 1422.7,189.0 1423.3,186.0 1427.7,179.3 1432.2,174.5 1436.7,171.1 1442.7,168.1Z"/>
<path fill="#a20047" d="M1211.2,168.0 1213.2,166.8 1223.7,166.8 1225.2,168.0 1228.2,168.2 1229.8,169.5 1232.7,169.8 1235.7,172.5 1237.2,172.7 1244.5,180.0 1244.7,181.5 1247.4,184.5 1247.7,187.5 1249.0,189.0 1249.2,193.5 1250.4,195.0 1250.4,201.0 1249.2,202.5 1249.0,207.0 1247.7,208.5 1247.6,210.0 1246.3,211.5 1246.1,213.0 1244.7,214.5 1244.4,216.0 1237.2,223.2 1235.7,223.5 1234.2,224.8 1232.7,225.0 1231.2,226.3 1229.7,226.5 1228.2,227.7 1223.7,228.0 1222.2,229.2 1213.2,229.2 1211.7,228.0 1207.2,227.7 1205.7,226.4 1204.2,226.3 1202.7,225.0 1201.2,224.8 1190.8,214.5 1190.5,213.0 1188.0,210.0 1187.7,207.0 1186.5,205.5 1186.2,198.0 1186.5,190.5 1187.7,189.0 1188.0,186.0 1189.3,184.5 1189.5,183.0 1193.7,178.3 1193.9,177.0 1196.7,174.3 1198.2,174.0 1201.2,171.2 1202.7,171.0 1204.2,169.7 1205.7,169.5 1207.2,168.2ZM1446.8,168.0 1448.7,166.8 1459.2,166.8 1460.7,168.0 1463.7,168.2 1465.4,169.5 1468.2,169.8 1471.2,172.5 1472.7,172.7 1480.0,180.0 1480.3,181.5 1482.9,184.5 1483.2,187.2 1484.5,189.0 1484.8,193.5 1485.9,195.0 1485.9,201.0 1484.8,202.5 1484.5,207.0 1483.2,208.6 1482.9,211.5 1480.2,214.5 1480.0,216.0 1472.7,223.3 1471.2,223.5 1469.7,224.9 1468.2,225.1 1466.7,226.4 1465.2,226.5 1463.7,227.8 1459.2,228.0 1457.7,229.2 1448.7,229.2 1447.2,228.0 1444.2,227.8 1442.7,226.6 1439.7,226.3 1438.2,224.9 1436.7,224.7 1426.4,214.5 1426.2,213.1 1424.8,211.5 1424.6,210.0 1423.4,208.5 1423.2,207.0 1422.0,205.5 1421.8,198.0 1422.0,190.5 1423.2,189.0 1423.5,186.0 1426.1,183.0 1426.3,181.5 1430.7,176.8 1436.7,171.2 1438.2,171.0 1439.7,169.7 1441.2,169.5 1442.7,168.3Z"/>
<ellipse cx="1217.99" cy="197.90" rx="30.97" ry="30.03" fill="#fff" stroke="#40083c" stroke-width="0.9"/>
<ellipse cx="1453.61" cy="197.90" rx="30.97" ry="30.03" fill="#fff" stroke="#40083c" stroke-width="0.9"/>
<path d="M1119.3,33.1L1113.9,26.1M1134.2,33.1L1129.2,25.8M1149.2,33.1L1144.6,25.5M1164.1,33.1L1160.1,25.2M1179.0,33.1L1175.6,25.0M1194.0,33.1L1191.1,24.8M1208.9,33.1L1206.5,24.6M1223.8,33.1L1222.0,24.5M1238.8,33.1L1237.4,24.4M1253.7,33.1L1252.8,24.4M1268.6,33.1L1268.1,24.3M1283.5,33.1L1283.2,24.3M1298.5,33.1L1298.3,24.3M1313.4,33.1L1313.4,24.3M1328.3,33.1L1328.3,24.3M1343.3,33.1L1343.3,24.3M1358.2,33.1L1358.2,24.3M1373.1,33.1L1373.3,24.3M1388.1,33.1L1388.4,24.3M1403.0,33.1L1403.5,24.3M1417.9,33.1L1418.8,24.4M1432.8,33.1L1434.2,24.4M1447.8,33.1L1449.6,24.5M1462.7,33.1L1465.1,24.6M1477.6,33.1L1480.5,24.8M1492.6,33.1L1496.0,25.0M1507.5,33.1L1511.5,25.2M1522.4,33.1L1527.0,25.5M1537.4,33.1L1542.4,25.8M1552.3,33.1L1557.7,26.1M1119.3,47.6L1113.7,40.7M1134.2,47.6L1129.0,40.4M1149.2,47.6L1144.5,40.1M1164.1,47.6L1160.0,39.8M1179.0,47.6L1175.5,39.5M1194.0,47.6L1191.1,39.3M1208.9,47.6L1206.6,39.1M1223.8,47.6L1222.2,39.0M1238.8,47.6L1237.7,38.9M1253.7,47.6L1253.1,38.8M1268.6,47.6L1268.3,38.8M1283.5,47.6L1283.5,38.8M1298.5,47.6L1298.6,38.8M1313.4,47.6L1313.5,38.8M1328.3,47.6L1328.4,38.8M1343.3,47.6L1343.2,38.8M1358.2,47.6L1358.1,38.8M1373.1,47.6L1373.0,38.8M1388.1,47.6L1388.1,38.8M1403.0,47.6L1403.3,38.8M1417.9,47.6L1418.5,38.8M1432.8,47.6L1433.9,38.9M1447.8,47.6L1449.4,39.0M1462.7,47.6L1465.0,39.1M1477.6,47.6L1480.5,39.3M1492.6,47.6L1496.1,39.5M1507.5,47.6L1511.6,39.8M1522.4,47.6L1527.1,40.1M1537.4,47.6L1542.6,40.4M1552.3,47.6L1557.9,40.7M1119.3,62.1L1113.4,55.4M1134.2,62.1L1128.8,55.1M1149.2,62.1L1144.3,54.7M1164.1,62.1L1159.8,54.3M1179.0,62.1L1175.4,54.0M1194.0,62.1L1191.1,53.8M1208.9,62.1L1206.8,53.6M1223.8,62.1L1222.4,53.4M1238.8,62.1L1238.0,53.4M1253.7,62.1L1253.4,53.3M1268.6,62.1L1268.7,53.3M1283.5,62.1L1283.9,53.3M1298.5,62.1L1298.9,53.3M1313.4,62.1L1313.7,53.3M1328.3,62.1L1328.5,53.3M1343.3,62.1L1343.1,53.3M1358.2,62.1L1357.9,53.3M1373.1,62.1L1372.7,53.3M1388.1,62.1L1387.7,53.3M1403.0,62.1L1402.9,53.3M1417.9,62.1L1418.2,53.3M1432.8,62.1L1433.6,53.4M1447.8,62.1L1449.2,53.4M1462.7,62.1L1464.8,53.6M1477.6,62.1L1480.5,53.8M1492.6,62.1L1496.2,54.0M1507.5,62.1L1511.8,54.3M1522.4,62.1L1527.3,54.7M1537.4,62.1L1542.8,55.1M1552.3,62.1L1558.2,55.4M1119.3,76.6L1113.1,70.2M1134.2,76.6L1128.5,69.8M1149.2,76.6L1144.1,69.3M1164.1,76.6L1159.7,68.9M1179.0,76.6L1175.4,68.6M1194.0,76.6L1191.1,68.3M1208.9,76.6L1206.9,68.0M1223.8,76.6L1222.7,67.9M1238.8,76.6L1238.4,67.8M1253.7,76.6L1253.9,67.8M1268.6,76.6L1269.3,67.8M1283.5,76.6L1284.4,67.9M1298.5,76.6L1299.3,67.9M1313.4,76.6L1314.0,67.8M1328.3,76.6L1328.6,67.8M1343.3,76.6L1343.0,67.8M1358.2,76.6L1357.6,67.8M1373.1,76.6L1372.3,67.9M1388.1,76.6L1387.2,67.9M1403.0,76.6L1402.3,67.8M1417.9,76.6L1417.7,67.8M1432.8,76.6L1433.2,67.8M1447.8,76.6L1448.9,67.9M1462.7,76.6L1464.7,68.0M1477.6,76.6L1480.5,68.3M1492.6,76.6L1496.2,68.6M1507.5,76.6L1511.9,68.9M1522.4,76.6L1527.5,69.3M1537.4,76.6L1543.1,69.8M1552.3,76.6L1558.5,70.2M1119.3,91.1L1112.8,85.0M1134.2,91.1L1128.2,84.5M1149.2,91.1L1143.8,84.0M1164.1,91.1L1159.4,83.6M1179.0,91.1L1175.2,83.1M1194.0,91.1L1191.1,82.8M1208.9,91.1L1207.1,82.5M1223.8,91.1L1223.1,82.4M1238.8,91.1L1238.9,82.3M1253.7,91.1L1254.6,82.4M1268.6,91.1L1270.0,82.4M1283.5,91.1L1285.2,82.5M1298.5,91.1L1300.0,82.4M1313.4,91.1L1314.5,82.4M1328.3,91.1L1328.7,82.3M1343.3,91.1L1342.9,82.3M1358.2,91.1L1357.1,82.4M1373.1,91.1L1371.6,82.4M1388.1,91.1L1386.4,82.5M1403.0,91.1L1401.6,82.4M1417.9,91.1L1417.0,82.4M1432.8,91.1L1432.7,82.3M1447.8,91.1L1448.5,82.4M1462.7,91.1L1464.5,82.5M1477.6,91.1L1480.5,82.8M1492.6,91.1L1496.4,83.1M1507.5,91.1L1512.2,83.6M1522.4,91.1L1527.8,84.0M1537.4,91.1L1543.4,84.5M1552.3,91.1L1558.8,85.0M1119.3,105.6L1112.4,99.9M1134.2,105.6L1127.8,99.4M1149.2,105.6L1143.4,98.8M1164.1,105.6L1159.1,98.2M1179.0,105.6L1175.0,97.7M1194.0,105.6L1191.1,97.3M1208.9,105.6L1207.3,97.0M1223.8,105.6L1223.5,96.8M1238.8,105.6L1239.6,96.9M1253.7,105.6L1255.5,97.0M1268.6,105.6L1271.0,97.1M1283.5,105.6L1286.1,97.2M1298.5,105.6L1300.9,97.1M1313.4,105.6L1315.1,97.0M1328.3,105.6L1329.0,96.8M1343.3,105.6L1342.6,96.8M1358.2,105.6L1356.5,97.0M1373.1,105.6L1370.7,97.1M1388.1,105.6L1385.5,97.2M1403.0,105.6L1400.6,97.1M1417.9,105.6L1416.1,97.0M1432.8,105.6L1432.0,96.9M1447.8,105.6L1448.1,96.8M1462.7,105.6L1464.3,97.0M1477.6,105.6L1480.5,97.3M1492.6,105.6L1496.6,97.7M1507.5,105.6L1512.5,98.2M1522.4,105.6L1528.2,98.8M1537.4,105.6L1543.8,99.4M1552.3,105.6L1559.2,99.9M1119.3,120.1L1112.0,114.9M1134.2,120.1L1127.4,114.3M1149.2,120.1L1143.0,113.7M1164.1,120.1L1158.7,113.0M1179.0,120.1L1174.7,112.4M1194.0,120.1L1191.0,111.8M1208.9,120.1L1207.5,111.4M1223.8,120.1L1224.0,111.3M1238.8,120.1L1240.4,111.5M1253.7,120.1L1256.5,111.7M1268.6,120.1L1272.2,112.0M1283.5,120.1L1287.4,112.1M1298.5,120.1L1302.0,112.0M1313.4,120.1L1316.0,111.7M1328.3,120.1L1329.3,111.4M1343.3,120.1L1342.3,111.4M1358.2,120.1L1355.6,111.7M1373.1,120.1L1369.6,112.0M1388.1,120.1L1384.2,112.1M1403.0,120.1L1399.4,112.0M1417.9,120.1L1415.1,111.7M1432.8,120.1L1431.2,111.5M1447.8,120.1L1447.6,111.3M1462.7,120.1L1464.1,111.4M1477.6,120.1L1480.6,111.8M1492.6,120.1L1496.9,112.4M1507.5,120.1L1512.9,113.0M1522.4,120.1L1528.6,113.7M1537.4,120.1L1544.2,114.3M1552.3,120.1L1559.6,114.9M1119.3,134.6L1111.6,130.0M1134.2,134.6L1126.9,129.4M1149.2,134.6L1142.4,128.7M1164.1,134.6L1158.2,127.9M1179.0,134.6L1174.2,127.1M1194.0,134.6L1190.7,126.4M1208.9,134.6L1207.5,125.9M1223.8,134.6L1224.4,125.8M1238.8,134.6L1241.2,126.1M1253.7,134.6L1257.6,126.7M1268.6,134.6L1273.4,127.1M1283.5,134.6L1288.8,127.4M1298.5,134.6L1303.5,127.2M1313.4,134.6L1317.3,126.7M1328.3,134.6L1329.9,125.9M1343.3,134.6L1341.7,125.9M1358.2,134.6L1354.3,126.7M1373.1,134.6L1368.1,127.2M1388.1,134.6L1382.8,127.4M1403.0,134.6L1398.2,127.1M1417.9,134.6L1414.0,126.7M1432.8,134.6L1430.4,126.1M1447.8,134.6L1447.2,125.8M1462.7,134.6L1464.1,125.9M1477.6,134.6L1480.9,126.4M1492.6,134.6L1497.4,127.1M1507.5,134.6L1513.4,127.9M1522.4,134.6L1529.2,128.7M1537.4,134.6L1544.7,129.4M1552.3,134.6L1560.0,130.0M1119.3,149.1L1111.1,145.3M1134.2,149.1L1126.4,144.7M1149.2,149.1L1141.8,144.0M1164.1,149.1L1157.4,143.2M1179.0,149.1L1173.4,142.2M1194.0,149.1L1190.0,141.2M1208.9,149.1L1207.2,140.5M1223.8,149.1L1224.8,140.4M1238.8,149.1L1242.1,140.9M1253.7,149.1L1258.7,141.8M1268.6,149.1L1274.7,142.6M1283.5,149.1L1290.1,143.0M1298.5,149.1L1304.9,142.9M1313.4,149.1L1318.8,142.0M1328.3,149.1L1330.7,140.6M1343.3,149.1L1340.9,140.6M1358.2,149.1L1352.8,142.0M1373.1,149.1L1366.7,142.9M1388.1,149.1L1381.5,143.0M1403.0,149.1L1396.9,142.6M1417.9,149.1L1412.9,141.8M1432.8,149.1L1429.5,140.9M1447.8,149.1L1446.8,140.4M1462.7,149.1L1464.4,140.5M1477.6,149.1L1481.6,141.2M1492.6,149.1L1498.2,142.2M1507.5,149.1L1514.2,143.2M1522.4,149.1L1529.8,144.0M1537.4,149.1L1545.2,144.7M1552.3,149.1L1560.5,145.3M1119.3,163.6L1110.7,160.7M1134.2,163.6L1125.8,160.2M1149.2,163.6L1141.1,159.6M1164.1,163.6L1156.5,158.8M1179.0,163.6L1172.3,157.7M1194.0,163.6L1188.9,156.3M1208.9,163.6L1206.6,155.1M1223.8,163.6L1225.3,154.9M1238.8,163.6L1243.3,156.0M1253.7,163.6L1260.0,157.3M1268.6,163.6L1275.9,158.3M1283.5,163.6L1291.3,158.9M1298.5,163.6L1306.2,159.0M1313.4,163.6L1320.5,158.0M1328.3,163.6L1332.2,155.6M1343.3,163.6L1339.4,155.6M1358.2,163.6L1351.1,158.0M1373.1,163.6L1365.4,159.0M1388.1,163.6L1380.3,158.9M1403.0,163.6L1395.7,158.3M1417.9,163.6L1411.6,157.3M1432.8,163.6L1428.3,156.0M1447.8,163.6L1446.3,154.9M1462.7,163.6L1465.0,155.1M1477.6,163.6L1482.7,156.3M1492.6,163.6L1499.3,157.7M1507.5,163.6L1515.1,158.8M1522.4,163.6L1530.5,159.6M1537.4,163.6L1545.8,160.2M1552.3,163.6L1560.9,160.7M1119.3,178.1L1110.4,176.3M1134.2,178.1L1125.4,176.0M1149.2,178.1L1140.5,175.6M1164.1,178.1L1155.6,175.0M1179.0,178.1L1171.0,174.0M1194.0,178.1L1187.1,172.4M1253.7,178.1L1261.5,173.6M1268.6,178.1L1277.0,174.7M1283.5,178.1L1292.1,175.2M1298.5,178.1L1307.1,175.3M1313.4,178.1L1321.8,174.6M1328.3,178.1L1334.4,171.6M1343.3,178.1L1337.2,171.6M1358.2,178.1L1349.8,174.6M1373.1,178.1L1364.5,175.3M1388.1,178.1L1379.5,175.2M1403.0,178.1L1394.6,174.7M1417.9,178.1L1410.1,173.6M1477.6,178.1L1484.5,172.4M1492.6,178.1L1500.6,174.0M1507.5,178.1L1516.0,175.0M1522.4,178.1L1531.1,175.6M1537.4,178.1L1546.2,176.0M1552.3,178.1L1561.2,176.3M1119.3,192.6L1110.2,192.1M1134.2,192.6L1125.2,192.0M1149.2,192.6L1140.1,191.9M1164.1,192.6L1155.1,191.7M1179.0,192.6L1170.0,191.3M1253.7,192.6L1262.7,191.2M1268.6,192.6L1277.6,191.6M1283.5,192.6L1292.6,191.8M1298.5,192.6L1307.5,191.8M1313.4,192.6L1322.4,191.6M1328.3,192.6L1337.1,190.2M1343.3,192.6L1334.5,190.2M1358.2,192.6L1349.2,191.6M1373.1,192.6L1364.1,191.8M1388.1,192.6L1379.0,191.8M1403.0,192.6L1394.0,191.6M1417.9,192.6L1408.9,191.2M1492.6,192.6L1501.6,191.3M1507.5,192.6L1516.5,191.7M1522.4,192.6L1531.5,191.9M1537.4,192.6L1546.4,192.0M1552.3,192.6L1561.4,192.1M1119.3,207.1L1110.3,207.9M1134.2,207.1L1125.2,208.0M1149.2,207.1L1140.2,208.2M1164.1,207.1L1155.2,208.6M1179.0,207.1L1170.2,209.1M1253.7,207.1L1262.5,209.3M1268.6,207.1L1277.5,208.7M1283.5,207.1L1292.5,208.4M1298.5,207.1L1307.5,208.3M1313.4,207.1L1322.3,208.7M1328.3,207.1L1336.5,210.9M1343.3,207.1L1335.1,210.9M1358.2,207.1L1349.3,208.7M1373.1,207.1L1364.1,208.3M1388.1,207.1L1379.1,208.4M1403.0,207.1L1394.1,208.7M1417.9,207.1L1409.1,209.3M1492.6,207.1L1501.4,209.1M1507.5,207.1L1516.4,208.6M1522.4,207.1L1531.4,208.2M1537.4,207.1L1546.4,208.0M1552.3,207.1L1561.3,207.9M1119.3,221.6L1110.5,223.6M1134.2,221.6L1125.5,223.9M1149.2,221.6L1140.6,224.4M1164.1,221.6L1155.8,225.1M1179.0,221.6L1171.3,226.2M1194.0,221.6L1187.6,227.8M1238.8,221.6L1244.6,228.2M1253.7,221.6L1261.1,226.5M1268.6,221.6L1276.7,225.5M1283.5,221.6L1291.9,224.9M1298.5,221.6L1306.9,224.8M1313.4,221.6L1321.5,225.6M1328.3,221.6L1333.7,228.6M1343.3,221.6L1337.9,228.6M1358.2,221.6L1350.1,225.6M1373.1,221.6L1364.7,224.8M1388.1,221.6L1379.7,224.9M1403.0,221.6L1394.9,225.5M1417.9,221.6L1410.5,226.5M1432.8,221.6L1427.0,228.2M1477.6,221.6L1484.0,227.8M1492.6,221.6L1500.3,226.2M1507.5,221.6L1515.8,225.1M1522.4,221.6L1531.0,224.4M1537.4,221.6L1546.1,223.9M1552.3,221.6L1561.1,223.6M1119.3,236.1L1110.8,239.1M1134.2,236.1L1126.0,239.7M1149.2,236.1L1141.3,240.3M1164.1,236.1L1156.7,241.2M1179.0,236.1L1172.6,242.2M1194.0,236.1L1189.2,243.5M1208.9,236.1L1206.8,244.6M1223.8,236.1L1225.1,244.7M1238.8,236.1L1242.9,243.8M1253.7,236.1L1259.7,242.6M1268.6,236.1L1275.6,241.6M1283.5,236.1L1291.0,241.1M1298.5,236.1L1305.9,241.1M1313.4,236.1L1320.0,242.0M1328.3,236.1L1331.7,244.2M1343.3,236.1L1339.9,244.2M1358.2,236.1L1351.6,242.0M1373.1,236.1L1365.7,241.1M1388.1,236.1L1380.6,241.1M1403.0,236.1L1396.0,241.6M1417.9,236.1L1411.9,242.6M1432.8,236.1L1428.7,243.8M1447.8,236.1L1446.5,244.7M1462.7,236.1L1464.8,244.6M1477.6,236.1L1482.4,243.5M1492.6,236.1L1499.0,242.2M1507.5,236.1L1514.9,241.2M1522.4,236.1L1530.3,240.3M1537.4,236.1L1545.6,239.7M1552.3,236.1L1560.8,239.1M1119.3,250.6L1111.2,254.6M1134.2,250.6L1126.5,255.1M1149.2,250.6L1141.9,255.8M1164.1,250.6L1157.6,256.7M1179.0,250.6L1173.7,257.6M1194.0,250.6L1190.2,258.5M1208.9,250.6L1207.3,259.1M1223.8,250.6L1224.7,259.2M1238.8,250.6L1241.8,258.8M1253.7,250.6L1258.4,258.0M1268.6,250.6L1274.4,257.3M1283.5,250.6L1289.8,256.9M1298.5,250.6L1304.6,257.0M1313.4,250.6L1318.4,257.8M1328.3,250.6L1330.5,259.0M1343.3,250.6L1341.1,259.0M1358.2,250.6L1353.2,257.8M1373.1,250.6L1367.0,257.0M1388.1,250.6L1381.8,256.9M1403.0,250.6L1397.2,257.3M1417.9,250.6L1413.2,258.0M1432.8,250.6L1429.8,258.8M1447.8,250.6L1446.9,259.2M1462.7,250.6L1464.3,259.1M1477.6,250.6L1481.4,258.5M1492.6,250.6L1497.9,257.6M1507.5,250.6L1514.0,256.7M1522.4,250.6L1529.7,255.8M1537.4,250.6L1545.1,255.1M1552.3,250.6L1560.4,254.6M1119.3,265.1L1111.7,269.8M1134.2,265.1L1127.0,270.4M1149.2,265.1L1142.6,271.0M1164.1,265.1L1158.3,271.8M1179.0,265.1L1174.4,272.6M1194.0,265.1L1190.8,273.2M1208.9,265.1L1207.5,273.7M1223.8,265.1L1224.3,273.8M1238.8,265.1L1241.0,273.5M1253.7,265.1L1257.3,273.1M1268.6,265.1L1273.1,272.6M1283.5,265.1L1288.4,272.4M1298.5,265.1L1303.1,272.6M1313.4,265.1L1316.9,273.1M1328.3,265.1L1329.7,273.7M1343.3,265.1L1341.9,273.7M1358.2,265.1L1354.7,273.1M1373.1,265.1L1368.5,272.6M1388.1,265.1L1383.2,272.4M1403.0,265.1L1398.5,272.6M1417.9,265.1L1414.3,273.1M1432.8,265.1L1430.6,273.5M1447.8,265.1L1447.3,273.8M1462.7,265.1L1464.1,273.7M1477.6,265.1L1480.8,273.2M1492.6,265.1L1497.2,272.6M1507.5,265.1L1513.3,271.8M1522.4,265.1L1529.0,271.0M1537.4,265.1L1544.6,270.4M1552.3,265.1L1559.9,269.8M1119.3,279.6L1112.1,284.9M1134.2,279.6L1127.5,285.4M1149.2,279.6L1143.1,286.0M1164.1,279.6L1158.8,286.7M1179.0,279.6L1174.8,287.3M1194.0,279.6L1191.1,287.8M1208.9,279.6L1207.4,288.2M1223.8,279.6L1223.9,288.3M1238.8,279.6L1240.2,288.2M1253.7,279.6L1256.2,287.9M1268.6,279.6L1271.8,287.7M1283.5,279.6L1287.0,287.6M1298.5,279.6L1301.7,287.7M1313.4,279.6L1315.7,288.0M1328.3,279.6L1329.2,288.2M1343.3,279.6L1342.4,288.2M1358.2,279.6L1355.9,288.0M1373.1,279.6L1369.9,287.7M1388.1,279.6L1384.6,287.6M1403.0,279.6L1399.8,287.7M1417.9,279.6L1415.4,287.9M1432.8,279.6L1431.4,288.2M1447.8,279.6L1447.7,288.3M1462.7,279.6L1464.2,288.2M1477.6,279.6L1480.5,287.8M1492.6,279.6L1496.8,287.3M1507.5,279.6L1512.8,286.7M1522.4,279.6L1528.5,286.0M1537.4,279.6L1544.1,285.4M1552.3,279.6L1559.5,284.9M1119.3,294.1L1112.5,299.8M1134.2,294.1L1128.0,300.3M1149.2,294.1L1143.5,300.9M1164.1,294.1L1159.2,301.4M1179.0,294.1L1175.1,301.9M1194.0,294.1L1191.1,302.3M1208.9,294.1L1207.3,302.6M1223.8,294.1L1223.4,302.8M1238.8,294.1L1239.4,302.8M1253.7,294.1L1255.2,302.7M1268.6,294.1L1270.7,302.5M1283.5,294.1L1285.9,302.5M1298.5,294.1L1300.6,302.5M1313.4,294.1L1314.9,302.7M1328.3,294.1L1328.9,302.8M1343.3,294.1L1342.7,302.8M1358.2,294.1L1356.7,302.7M1373.1,294.1L1371.0,302.5M1388.1,294.1L1385.7,302.5M1403.0,294.1L1400.9,302.5M1417.9,294.1L1416.4,302.7M1432.8,294.1L1432.2,302.8M1447.8,294.1L1448.2,302.8M1462.7,294.1L1464.3,302.6M1477.6,294.1L1480.5,302.3M1492.6,294.1L1496.5,301.9M1507.5,294.1L1512.4,301.4M1522.4,294.1L1528.1,300.9M1537.4,294.1L1543.6,300.3M1552.3,294.1L1559.1,299.8M1119.3,308.6L1112.9,314.7M1134.2,308.6L1128.3,315.2M1149.2,308.6L1143.8,315.6M1164.1,308.6L1159.5,316.1M1179.0,308.6L1175.3,316.5M1194.0,308.6L1191.1,316.8M1208.9,308.6L1207.0,317.1M1223.8,308.6L1222.9,317.2M1238.8,308.6L1238.8,317.3M1253.7,308.6L1254.4,317.3M1268.6,308.6L1269.8,317.2M1283.5,308.6L1284.9,317.2M1298.5,308.6L1299.8,317.2M1313.4,308.6L1314.3,317.2M1328.3,308.6L1328.7,317.3M1343.3,308.6L1342.9,317.3M1358.2,308.6L1357.3,317.2M1373.1,308.6L1371.8,317.2M1388.1,308.6L1386.7,317.2M1403.0,308.6L1401.8,317.2M1417.9,308.6L1417.2,317.3M1432.8,308.6L1432.8,317.3M1447.8,308.6L1448.7,317.2M1462.7,308.6L1464.6,317.1M1477.6,308.6L1480.5,316.8M1492.6,308.6L1496.3,316.5M1507.5,308.6L1512.1,316.1M1522.4,308.6L1527.8,315.6M1537.4,308.6L1543.3,315.2M1552.3,308.6L1558.7,314.7M1119.3,323.1L1113.2,329.5M1134.2,323.1L1128.6,329.9M1149.2,323.1L1144.1,330.3M1164.1,323.1L1159.7,330.7M1179.0,323.1L1175.4,331.0M1194.0,323.1L1191.1,331.3M1208.9,323.1L1206.9,331.6M1223.8,323.1L1222.6,331.7M1238.8,323.1L1238.2,331.8M1253.7,323.1L1253.8,331.8M1268.6,323.1L1269.1,331.8M1283.5,323.1L1284.3,331.8M1298.5,323.1L1299.2,331.8M1313.4,323.1L1313.9,331.8M1328.3,323.1L1328.5,331.8M1343.3,323.1L1343.1,331.8M1358.2,323.1L1357.7,331.8M1373.1,323.1L1372.4,331.8M1388.1,323.1L1387.3,331.8M1403.0,323.1L1402.5,331.8M1417.9,323.1L1417.8,331.8M1432.8,323.1L1433.4,331.8M1447.8,323.1L1449.0,331.7M1462.7,323.1L1464.7,331.6M1477.6,323.1L1480.5,331.3M1492.6,323.1L1496.2,331.0M1507.5,323.1L1511.9,330.7M1522.4,323.1L1527.5,330.3M1537.4,323.1L1543.0,329.9M1552.3,323.1L1558.4,329.5M1119.3,337.6L1113.5,344.2M1134.2,337.6L1128.9,344.6M1149.2,337.6L1144.3,344.9M1164.1,337.6L1159.9,345.3M1179.0,337.6L1175.5,345.6M1194.0,337.6L1191.1,345.8M1208.9,337.6L1206.7,346.0M1223.8,337.6L1222.3,346.2M1238.8,337.6L1237.9,346.2M1253.7,337.6L1253.3,346.3M1268.6,337.6L1268.6,346.3M1283.5,337.6L1283.8,346.3M1298.5,337.6L1298.8,346.3M1313.4,337.6L1313.7,346.3M1328.3,337.6L1328.4,346.3M1343.3,337.6L1343.2,346.3M1358.2,337.6L1357.9,346.3M1373.1,337.6L1372.8,346.3M1388.1,337.6L1387.8,346.3M1403.0,337.6L1403.0,346.3M1417.9,337.6L1418.3,346.3M1432.8,337.6L1433.7,346.2M1447.8,337.6L1449.3,346.2M1462.7,337.6L1464.9,346.0M1477.6,337.6L1480.5,345.8M1492.6,337.6L1496.1,345.6M1507.5,337.6L1511.7,345.3M1522.4,337.6L1527.3,344.9M1537.4,337.6L1542.7,344.6M1552.3,337.6L1558.1,344.2M1119.3,352.1L1113.7,358.9M1134.2,352.1L1129.1,359.2M1149.2,352.1L1144.5,359.6M1164.1,352.1L1160.0,359.8M1179.0,352.1L1175.5,360.1M1194.0,352.1L1191.1,360.3M1208.9,352.1L1206.6,360.5M1223.8,352.1L1222.1,360.6M1238.8,352.1L1237.6,360.7M1253.7,352.1L1253.0,360.8M1268.6,352.1L1268.3,360.8M1283.5,352.1L1283.4,360.8M1298.5,352.1L1298.5,360.8M1313.4,352.1L1313.5,360.8M1328.3,352.1L1328.4,360.8M1343.3,352.1L1343.2,360.8M1358.2,352.1L1358.1,360.8M1373.1,352.1L1373.1,360.8M1388.1,352.1L1388.2,360.8M1403.0,352.1L1403.3,360.8M1417.9,352.1L1418.6,360.8M1432.8,352.1L1434.0,360.7M1447.8,352.1L1449.5,360.6M1462.7,352.1L1465.0,360.5M1477.6,352.1L1480.5,360.3M1492.6,352.1L1496.1,360.1M1507.5,352.1L1511.6,359.8M1522.4,352.1L1527.1,359.6M1537.4,352.1L1542.5,359.2M1552.3,352.1L1557.9,358.9M1119.3,366.6L1113.9,373.6M1134.2,366.6L1129.3,373.9M1149.2,366.6L1144.7,374.1M1164.1,366.6L1160.1,374.4M1179.0,366.6L1175.6,374.6M1194.0,366.6L1191.1,374.8M1208.9,366.6L1206.5,375.0M1223.8,366.6L1222.0,375.1M1238.8,366.6L1237.4,375.2M1253.7,366.6L1252.7,375.2M1268.6,366.6L1268.0,375.3M1283.5,366.6L1283.2,375.3M1298.5,366.6L1298.3,375.3M1313.4,366.6L1313.3,375.3M1328.3,366.6L1328.3,375.3M1343.3,366.6L1343.3,375.3M1358.2,366.6L1358.3,375.3M1373.1,366.6L1373.3,375.3M1388.1,366.6L1388.4,375.3M1403.0,366.6L1403.6,375.3M1417.9,366.6L1418.9,375.2M1432.8,366.6L1434.2,375.2M1447.8,366.6L1449.6,375.1M1462.7,366.6L1465.1,375.0M1477.6,366.6L1480.5,374.8M1492.6,366.6L1496.0,374.6M1507.5,366.6L1511.5,374.4M1522.4,366.6L1526.9,374.1M1537.4,366.6L1542.3,373.9M1552.3,366.6L1557.7,373.6" stroke="#111" stroke-width="0.85" fill="none" stroke-linecap="butt"/><path d="M1112.2,23.9L1115.2,25.7L1113.2,27.2ZM1127.7,23.5L1130.6,25.5L1128.5,26.9ZM1143.3,23.2L1146.0,25.3L1143.8,26.6ZM1158.9,22.8L1161.4,25.1L1159.2,26.2ZM1174.5,22.5L1176.9,24.9L1174.6,25.9ZM1190.2,22.2L1192.4,24.8L1190.0,25.7ZM1205.8,22.0L1207.9,24.8L1205.5,25.4ZM1221.4,21.9L1223.3,24.7L1220.9,25.2ZM1237.0,21.7L1238.7,24.7L1236.3,25.1ZM1252.5,21.7L1254.1,24.7L1251.6,25.0ZM1267.9,21.6L1269.3,24.8L1266.8,24.9ZM1283.1,21.6L1284.5,24.8L1282.0,24.9ZM1298.3,21.6L1299.6,24.8L1297.1,24.8ZM1313.3,21.6L1314.6,24.8L1312.1,24.8ZM1328.3,21.6L1329.6,24.8L1327.1,24.8ZM1343.3,21.6L1344.5,24.8L1342.0,24.8ZM1358.3,21.6L1359.5,24.8L1357.0,24.8ZM1373.3,21.6L1374.5,24.8L1372.0,24.8ZM1388.5,21.6L1389.6,24.9L1387.1,24.8ZM1403.7,21.6L1404.8,24.9L1402.3,24.8ZM1419.1,21.7L1420.0,25.0L1417.5,24.7ZM1434.6,21.7L1435.3,25.1L1432.9,24.7ZM1450.2,21.9L1450.7,25.2L1448.3,24.7ZM1465.8,22.0L1466.1,25.4L1463.7,24.8ZM1481.4,22.2L1481.6,25.7L1479.2,24.8ZM1497.1,22.5L1497.0,25.9L1494.7,24.9ZM1512.7,22.8L1512.4,26.2L1510.2,25.1ZM1528.3,23.2L1527.8,26.6L1525.6,25.3ZM1543.9,23.5L1543.1,26.9L1541.0,25.5ZM1559.4,23.9L1558.4,27.2L1556.4,25.7ZM1111.9,38.6L1114.9,40.3L1113.0,41.9ZM1127.5,38.2L1130.3,40.1L1128.3,41.5ZM1143.0,37.8L1145.8,39.8L1143.7,41.2ZM1158.7,37.4L1161.3,39.6L1159.1,40.8ZM1174.4,37.0L1176.9,39.5L1174.6,40.5ZM1190.2,36.7L1192.4,39.3L1190.1,40.2ZM1205.9,36.5L1208.0,39.3L1205.6,39.9ZM1221.7,36.3L1223.5,39.2L1221.0,39.7ZM1237.3,36.2L1239.0,39.2L1236.5,39.5ZM1252.9,36.1L1254.3,39.2L1251.8,39.4ZM1268.3,36.1L1269.6,39.3L1267.1,39.4ZM1283.5,36.1L1284.8,39.3L1282.3,39.3ZM1298.6,36.1L1299.8,39.3L1297.3,39.3ZM1313.5,36.1L1314.8,39.3L1312.3,39.3ZM1328.4,36.1L1329.6,39.3L1327.1,39.3ZM1343.2,36.1L1344.5,39.3L1342.0,39.3ZM1358.1,36.1L1359.3,39.3L1356.8,39.3ZM1373.0,36.1L1374.3,39.3L1371.8,39.3ZM1388.1,36.1L1389.3,39.3L1386.8,39.3ZM1403.3,36.1L1404.5,39.4L1402.0,39.3ZM1418.7,36.1L1419.8,39.4L1417.3,39.2ZM1434.3,36.2L1435.1,39.5L1432.6,39.2ZM1449.9,36.3L1450.6,39.7L1448.1,39.2ZM1465.7,36.5L1466.0,39.9L1463.6,39.3ZM1481.4,36.7L1481.5,40.2L1479.2,39.3ZM1497.2,37.0L1497.0,40.5L1494.7,39.5ZM1512.9,37.4L1512.5,40.8L1510.3,39.6ZM1528.6,37.8L1527.9,41.2L1525.8,39.8ZM1544.1,38.2L1543.3,41.5L1541.3,40.1ZM1559.7,38.6L1558.6,41.9L1556.7,40.3ZM1111.6,53.4L1114.7,55.0L1112.8,56.6ZM1127.2,52.9L1130.1,54.7L1128.1,56.2ZM1142.8,52.4L1145.6,54.4L1143.5,55.8ZM1158.5,52.0L1161.2,54.2L1159.0,55.4ZM1174.3,51.6L1176.8,54.0L1174.5,55.0ZM1190.2,51.2L1192.4,53.8L1190.1,54.7ZM1206.1,50.9L1208.1,53.7L1205.7,54.4ZM1221.9,50.8L1223.7,53.7L1221.2,54.1ZM1237.7,50.7L1239.2,53.7L1236.8,54.0ZM1253.3,50.6L1254.7,53.8L1252.2,53.9ZM1268.8,50.6L1270.0,53.8L1267.5,53.8ZM1284.0,50.6L1285.1,53.9L1282.6,53.8ZM1299.0,50.6L1300.1,53.9L1297.6,53.8ZM1313.8,50.6L1315.0,53.9L1312.5,53.8ZM1328.5,50.6L1329.7,53.8L1327.2,53.8ZM1343.1,50.6L1344.4,53.8L1341.9,53.8ZM1357.8,50.6L1359.1,53.8L1356.6,53.9ZM1372.6,50.6L1374.0,53.8L1371.5,53.9ZM1387.6,50.6L1389.0,53.8L1386.5,53.9ZM1402.8,50.6L1404.1,53.8L1401.6,53.8ZM1418.3,50.6L1419.4,53.9L1416.9,53.8ZM1433.9,50.7L1434.8,54.0L1432.4,53.7ZM1449.7,50.8L1450.4,54.1L1447.9,53.7ZM1465.5,50.9L1465.9,54.4L1463.5,53.7ZM1481.4,51.2L1481.5,54.7L1479.2,53.8ZM1497.3,51.6L1497.1,55.0L1494.8,54.0ZM1513.1,52.0L1512.6,55.4L1510.4,54.2ZM1528.8,52.4L1528.1,55.8L1526.0,54.4ZM1544.4,52.9L1543.5,56.2L1541.5,54.7ZM1560.0,53.4L1558.8,56.6L1556.9,55.0ZM1111.2,68.2L1114.4,69.7L1112.6,71.4ZM1126.8,67.7L1129.8,69.3L1127.9,70.9ZM1142.5,67.1L1145.4,69.0L1143.3,70.5ZM1158.3,66.6L1161.0,68.7L1158.8,70.0ZM1174.2,66.1L1176.7,68.5L1174.4,69.5ZM1190.2,65.7L1192.5,68.3L1190.1,69.1ZM1206.3,65.4L1208.2,68.2L1205.8,68.8ZM1222.3,65.2L1224.0,68.2L1221.5,68.5ZM1238.2,65.1L1239.6,68.3L1237.1,68.4ZM1254.0,65.1L1255.2,68.4L1252.7,68.3ZM1269.5,65.2L1270.5,68.4L1268.0,68.2ZM1284.7,65.2L1285.6,68.5L1283.1,68.2ZM1299.6,65.2L1300.5,68.5L1298.0,68.2ZM1314.2,65.1L1315.2,68.4L1312.7,68.2ZM1328.6,65.1L1329.8,68.4L1327.3,68.3ZM1343.0,65.1L1344.3,68.3L1341.8,68.4ZM1357.4,65.1L1358.9,68.2L1356.4,68.4ZM1372.0,65.2L1373.6,68.2L1371.1,68.5ZM1386.9,65.2L1388.5,68.2L1386.0,68.5ZM1402.1,65.2L1403.6,68.2L1401.1,68.4ZM1417.6,65.1L1418.9,68.3L1416.4,68.4ZM1433.4,65.1L1434.5,68.4L1432.0,68.3ZM1449.3,65.2L1450.1,68.5L1447.6,68.2ZM1465.3,65.4L1465.8,68.8L1463.4,68.2ZM1481.4,65.7L1481.5,69.1L1479.1,68.3ZM1497.4,66.1L1497.2,69.5L1494.9,68.5ZM1513.3,66.6L1512.8,70.0L1510.6,68.7ZM1529.1,67.1L1528.3,70.5L1526.2,69.0ZM1544.8,67.7L1543.7,70.9L1541.8,69.3ZM1560.4,68.2L1559.0,71.4L1557.2,69.7ZM1110.8,83.1L1114.0,84.4L1112.3,86.2ZM1126.4,82.5L1129.5,84.0L1127.6,85.7ZM1142.1,81.9L1145.1,83.7L1143.1,85.2ZM1158.0,81.3L1160.8,83.3L1158.6,84.6ZM1174.1,80.7L1176.6,83.0L1174.3,84.1ZM1190.3,80.2L1192.5,82.8L1190.1,83.6ZM1206.5,79.8L1208.4,82.7L1206.0,83.2ZM1222.8,79.7L1224.3,82.7L1221.9,83.0ZM1239.0,79.6L1240.2,82.8L1237.7,82.8ZM1254.9,79.7L1255.8,83.0L1253.3,82.7ZM1270.5,79.8L1271.2,83.1L1268.7,82.7ZM1285.7,79.8L1286.3,83.2L1283.8,82.7ZM1300.4,79.8L1301.1,83.1L1298.7,82.7ZM1314.8,79.7L1315.6,83.0L1313.2,82.7ZM1328.8,79.6L1329.9,82.9L1327.5,82.8ZM1342.8,79.6L1344.1,82.8L1341.7,82.9ZM1356.8,79.7L1358.4,82.7L1356.0,83.0ZM1371.2,79.8L1372.9,82.7L1370.5,83.1ZM1385.9,79.8L1387.8,82.7L1385.3,83.2ZM1401.1,79.8L1402.9,82.7L1400.4,83.1ZM1416.7,79.7L1418.3,82.7L1415.8,83.0ZM1432.6,79.6L1433.9,82.8L1431.4,82.8ZM1448.8,79.7L1449.7,83.0L1447.3,82.7ZM1465.1,79.8L1465.6,83.2L1463.2,82.7ZM1481.3,80.2L1481.5,83.6L1479.1,82.8ZM1497.5,80.7L1497.3,84.1L1495.0,83.0ZM1513.6,81.3L1513.0,84.6L1510.8,83.3ZM1529.5,81.9L1528.5,85.2L1526.5,83.7ZM1545.2,82.5L1544.0,85.7L1542.1,84.0ZM1560.8,83.1L1559.3,86.2L1557.6,84.4ZM1110.3,98.1L1113.6,99.2L1112.0,101.1ZM1125.9,97.5L1129.1,98.8L1127.3,100.6ZM1141.7,96.8L1144.7,98.4L1142.8,100.0ZM1157.6,96.0L1160.5,98.0L1158.4,99.4ZM1173.8,95.3L1176.4,97.6L1174.2,98.7ZM1190.2,94.7L1192.5,97.3L1190.1,98.1ZM1206.8,94.3L1208.6,97.2L1206.2,97.7ZM1223.4,94.1L1224.8,97.3L1222.3,97.4ZM1239.9,94.2L1240.8,97.5L1238.3,97.2ZM1256.0,94.3L1256.6,97.7L1254.1,97.2ZM1271.7,94.5L1272.1,97.9L1269.7,97.3ZM1286.9,94.6L1287.2,98.0L1284.8,97.3ZM1301.6,94.5L1301.9,97.9L1299.5,97.3ZM1315.6,94.3L1316.2,97.7L1313.8,97.2ZM1329.2,94.1L1330.2,97.4L1327.7,97.3ZM1342.4,94.1L1343.9,97.3L1341.4,97.4ZM1356.0,94.3L1357.8,97.2L1355.4,97.7ZM1370.0,94.5L1372.1,97.3L1369.7,97.9ZM1384.7,94.6L1386.8,97.3L1384.4,98.0ZM1399.9,94.5L1401.9,97.3L1399.5,97.9ZM1415.6,94.3L1417.5,97.2L1415.0,97.7ZM1431.7,94.2L1433.3,97.2L1430.8,97.5ZM1448.2,94.1L1449.3,97.4L1446.8,97.3ZM1464.8,94.3L1465.4,97.7L1463.0,97.2ZM1481.4,94.7L1481.5,98.1L1479.1,97.3ZM1497.8,95.3L1497.4,98.7L1495.2,97.6ZM1514.0,96.0L1513.2,99.4L1511.1,98.0ZM1529.9,96.8L1528.8,100.0L1526.9,98.4ZM1545.7,97.5L1544.3,100.6L1542.5,98.8ZM1561.3,98.1L1559.6,101.1L1558.0,99.2ZM1109.8,113.3L1113.1,114.1L1111.7,116.2ZM1125.3,112.6L1128.6,113.7L1127.0,115.6ZM1141.1,111.7L1144.2,113.2L1142.4,114.9ZM1157.1,110.9L1160.0,112.7L1158.0,114.2ZM1173.4,110.0L1176.1,112.2L1173.9,113.4ZM1190.1,109.3L1192.3,111.8L1190.0,112.7ZM1207.0,108.8L1208.8,111.7L1206.3,112.1ZM1224.0,108.6L1225.2,111.8L1222.7,111.8ZM1240.9,108.8L1241.5,112.2L1239.1,111.7ZM1257.3,109.2L1257.5,112.6L1255.1,111.8ZM1273.3,109.5L1273.1,113.0L1270.8,112.0ZM1288.6,109.7L1288.3,113.1L1286.0,112.0ZM1303.1,109.5L1303.0,113.0L1300.7,112.0ZM1316.8,109.1L1317.1,112.5L1314.7,111.8ZM1329.6,108.7L1330.5,112.0L1328.0,111.7ZM1342.0,108.7L1343.6,111.7L1341.1,112.0ZM1354.8,109.1L1356.9,111.8L1354.5,112.5ZM1368.5,109.5L1370.9,112.0L1368.6,113.0ZM1383.0,109.7L1385.6,112.0L1383.3,113.1ZM1398.3,109.5L1400.8,112.0L1398.5,113.0ZM1414.3,109.2L1416.5,111.8L1414.1,112.6ZM1430.7,108.8L1432.5,111.7L1430.1,112.2ZM1447.6,108.6L1448.9,111.8L1446.4,111.8ZM1464.6,108.8L1465.3,112.1L1462.8,111.7ZM1481.5,109.3L1481.6,112.7L1479.3,111.8ZM1498.2,110.0L1497.7,113.4L1495.5,112.2ZM1514.5,110.9L1513.6,114.2L1511.6,112.7ZM1530.5,111.7L1529.2,114.9L1527.4,113.2ZM1546.3,112.6L1544.6,115.6L1543.0,113.7ZM1561.8,113.3L1559.9,116.2L1558.5,114.1ZM1109.3,128.6L1112.6,129.2L1111.4,131.3ZM1124.7,127.9L1128.0,128.7L1126.6,130.7ZM1140.4,127.0L1143.6,128.1L1142.0,130.0ZM1156.4,125.9L1159.4,127.5L1157.6,129.2ZM1172.8,124.9L1175.5,126.9L1173.5,128.2ZM1189.7,123.9L1192.0,126.4L1189.7,127.3ZM1207.0,123.3L1208.8,126.2L1206.3,126.6ZM1224.6,123.1L1225.6,126.4L1223.1,126.3ZM1241.9,123.5L1242.2,127.0L1239.8,126.3ZM1258.7,124.2L1258.5,127.6L1256.2,126.6ZM1274.9,124.9L1274.2,128.2L1272.1,126.9ZM1290.3,125.2L1289.5,128.5L1287.4,127.1ZM1305.0,125.0L1304.2,128.4L1302.1,127.0ZM1318.5,124.2L1318.2,127.7L1315.9,126.6ZM1330.3,123.3L1331.0,126.7L1328.6,126.2ZM1341.3,123.3L1343.0,126.2L1340.6,126.7ZM1353.1,124.2L1355.7,126.6L1353.4,127.7ZM1366.6,125.0L1369.5,127.0L1367.4,128.4ZM1381.3,125.2L1384.2,127.1L1382.1,128.5ZM1396.7,124.9L1399.5,126.9L1397.4,128.2ZM1412.9,124.2L1415.4,126.6L1413.1,127.6ZM1429.7,123.5L1431.8,126.3L1429.4,127.0ZM1447.0,123.1L1448.5,126.3L1446.0,126.4ZM1464.6,123.3L1465.3,126.6L1462.8,126.2ZM1481.9,123.9L1481.9,127.3L1479.6,126.4ZM1498.8,124.9L1498.1,128.2L1496.1,126.9ZM1515.2,125.9L1514.0,129.2L1512.2,127.5ZM1531.2,127.0L1529.6,130.0L1528.0,128.1ZM1546.9,127.9L1545.0,130.7L1543.6,128.7ZM1562.3,128.6L1560.2,131.3L1559.0,129.2ZM1108.7,144.1L1112.1,144.3L1111.1,146.6ZM1124.0,143.4L1127.4,143.8L1126.2,146.0ZM1139.5,142.5L1142.9,143.3L1141.5,145.3ZM1155.4,141.4L1158.6,142.5L1157.0,144.4ZM1171.7,140.1L1174.7,141.8L1172.8,143.4ZM1188.8,138.8L1191.3,141.1L1189.1,142.2ZM1206.7,137.8L1208.5,140.7L1206.1,141.2ZM1225.1,137.7L1226.0,141.0L1223.5,140.7ZM1243.1,138.4L1243.0,141.9L1240.7,140.9ZM1260.2,139.6L1259.5,142.9L1257.4,141.5ZM1276.5,140.6L1275.3,143.8L1273.4,142.1ZM1292.1,141.2L1290.6,144.3L1288.9,142.4ZM1306.9,141.0L1305.4,144.2L1303.7,142.3ZM1320.5,139.9L1319.5,143.2L1317.5,141.7ZM1331.5,138.0L1331.8,141.5L1329.4,140.8ZM1340.1,138.0L1342.2,140.8L1339.8,141.5ZM1351.1,139.9L1354.1,141.7L1352.1,143.2ZM1364.7,141.0L1367.9,142.3L1366.2,144.2ZM1379.5,141.2L1382.7,142.4L1381.0,144.3ZM1395.1,140.6L1398.2,142.1L1396.3,143.8ZM1411.4,139.6L1414.2,141.5L1412.1,142.9ZM1428.5,138.4L1430.9,140.9L1428.6,141.9ZM1446.5,137.7L1448.1,140.7L1445.6,141.0ZM1464.9,137.8L1465.5,141.2L1463.1,140.7ZM1482.8,138.8L1482.5,142.2L1480.3,141.1ZM1499.9,140.1L1498.8,143.4L1496.9,141.8ZM1516.2,141.4L1514.6,144.4L1513.0,142.5ZM1532.1,142.5L1530.1,145.3L1528.7,143.3ZM1547.6,143.4L1545.4,146.0L1544.2,143.8ZM1562.9,144.1L1560.5,146.6L1559.5,144.3ZM1108.2,159.9L1111.6,159.7L1110.8,162.1ZM1123.3,159.3L1126.8,159.3L1125.8,161.6ZM1138.6,158.4L1142.1,158.7L1141.0,161.0ZM1154.2,157.3L1157.6,158.0L1156.3,160.1ZM1170.3,155.9L1173.5,157.1L1171.9,159.0ZM1187.3,154.1L1190.2,156.0L1188.1,157.5ZM1205.9,152.5L1208.0,155.3L1205.6,155.9ZM1225.7,152.3L1226.4,155.6L1224.0,155.2ZM1244.7,153.7L1244.1,157.0L1241.9,155.8ZM1262.0,155.4L1260.6,158.5L1258.8,156.8ZM1278.1,156.8L1276.2,159.6L1274.8,157.6ZM1293.6,157.5L1291.5,160.3L1290.2,158.1ZM1308.5,157.6L1306.4,160.3L1305.1,158.1ZM1322.6,156.4L1320.8,159.3L1319.3,157.4ZM1333.3,153.2L1333.1,156.6L1330.8,155.5ZM1338.3,153.2L1340.8,155.5L1338.5,156.6ZM1349.0,156.4L1352.3,157.4L1350.8,159.3ZM1363.1,157.6L1366.5,158.1L1365.2,160.3ZM1378.0,157.5L1381.4,158.1L1380.1,160.3ZM1393.5,156.8L1396.8,157.6L1395.4,159.6ZM1409.6,155.4L1412.8,156.8L1411.0,158.5ZM1426.9,153.7L1429.7,155.8L1427.5,157.0ZM1445.9,152.3L1447.6,155.2L1445.2,155.6ZM1465.7,152.5L1466.0,155.9L1463.6,155.3ZM1484.3,154.1L1483.5,157.5L1481.4,156.0ZM1501.3,155.9L1499.7,159.0L1498.1,157.1ZM1517.4,157.3L1515.3,160.1L1514.0,158.0ZM1533.0,158.4L1530.6,161.0L1529.5,158.7ZM1548.3,159.3L1545.8,161.6L1544.8,159.3ZM1563.4,159.9L1560.8,162.1L1560.0,159.7ZM1107.8,175.8L1111.1,175.2L1110.7,177.7ZM1122.8,175.4L1126.2,174.9L1125.6,177.4ZM1137.9,174.8L1141.3,174.5L1140.6,176.9ZM1153.1,174.0L1156.5,173.9L1155.7,176.3ZM1168.6,172.8L1172.0,173.1L1170.9,175.3ZM1185.0,170.6L1188.3,171.7L1186.7,173.6ZM1263.9,172.3L1261.7,175.0L1260.5,172.8ZM1279.5,173.7L1277.0,176.0L1276.1,173.7ZM1294.7,174.3L1292.0,176.5L1291.3,174.2ZM1309.7,174.5L1307.0,176.6L1306.2,174.3ZM1324.3,173.6L1321.8,176.0L1320.8,173.7ZM1336.2,169.6L1335.0,172.8L1333.2,171.1ZM1335.4,169.6L1338.4,171.1L1336.6,172.8ZM1347.3,173.6L1350.8,173.7L1349.8,176.0ZM1361.9,174.5L1365.4,174.3L1364.6,176.6ZM1376.9,174.3L1380.3,174.2L1379.6,176.5ZM1392.1,173.7L1395.5,173.7L1394.6,176.0ZM1407.7,172.3L1411.1,172.8L1409.9,175.0ZM1486.6,170.6L1484.9,173.6L1483.3,171.7ZM1503.0,172.8L1500.7,175.3L1499.6,173.1ZM1518.5,174.0L1515.9,176.3L1515.1,173.9ZM1533.7,174.8L1531.0,176.9L1530.3,174.5ZM1548.8,175.4L1546.0,177.4L1545.4,174.9ZM1563.8,175.8L1560.9,177.7L1560.5,175.2ZM1107.6,191.9L1110.8,190.9L1110.7,193.4ZM1122.5,191.8L1125.8,190.8L1125.6,193.3ZM1137.4,191.7L1140.7,190.6L1140.5,193.1ZM1152.4,191.4L1155.7,190.5L1155.4,193.0ZM1167.4,191.0L1170.7,190.1L1170.4,192.6ZM1265.3,190.8L1262.3,192.5L1262.0,190.0ZM1280.3,191.3L1277.3,192.9L1277.0,190.4ZM1295.3,191.5L1292.2,193.0L1292.0,190.6ZM1310.2,191.6L1307.1,193.1L1306.9,190.6ZM1325.1,191.3L1322.1,192.9L1321.8,190.4ZM1339.7,189.5L1336.9,191.5L1336.3,189.1ZM1331.9,189.5L1335.3,189.1L1334.7,191.5ZM1346.5,191.3L1349.8,190.4L1349.5,192.9ZM1361.4,191.6L1364.7,190.6L1364.5,193.1ZM1376.3,191.5L1379.6,190.6L1379.4,193.0ZM1391.3,191.3L1394.6,190.4L1394.3,192.9ZM1406.3,190.8L1409.6,190.0L1409.3,192.5ZM1504.2,191.0L1501.2,192.6L1500.9,190.1ZM1519.2,191.4L1516.2,193.0L1515.9,190.5ZM1534.2,191.7L1531.1,193.1L1530.9,190.6ZM1549.1,191.8L1546.0,193.3L1545.8,190.8ZM1564.0,191.9L1560.9,193.4L1560.8,190.9ZM1107.6,208.1L1110.7,206.6L1110.9,209.1ZM1122.5,208.3L1125.6,206.7L1125.8,209.2ZM1137.5,208.6L1140.5,206.9L1140.8,209.4ZM1152.5,209.0L1155.4,207.2L1155.9,209.7ZM1167.6,209.7L1170.4,207.8L1171.0,210.2ZM1265.1,210.0L1261.7,210.4L1262.3,208.0ZM1280.2,209.2L1276.8,209.8L1277.3,207.4ZM1295.2,208.8L1291.8,209.6L1292.2,207.1ZM1310.1,208.7L1306.8,209.5L1307.1,207.0ZM1325.0,209.2L1321.6,209.8L1322.1,207.3ZM1338.9,212.0L1335.5,211.8L1336.6,209.5ZM1332.7,212.0L1335.0,209.5L1336.1,211.8ZM1346.6,209.2L1349.5,207.3L1350.0,209.8ZM1361.5,208.7L1364.5,207.0L1364.8,209.5ZM1376.4,208.8L1379.4,207.1L1379.8,209.6ZM1391.4,209.2L1394.3,207.4L1394.8,209.8ZM1406.5,210.0L1409.3,208.0L1409.9,210.4ZM1504.0,209.7L1500.6,210.2L1501.2,207.8ZM1519.1,209.0L1515.7,209.7L1516.2,207.2ZM1534.1,208.6L1530.8,209.4L1531.1,206.9ZM1549.1,208.3L1545.8,209.2L1546.0,206.7ZM1564.0,208.1L1560.7,209.1L1560.9,206.6ZM1107.8,224.2L1110.7,222.2L1111.2,224.7ZM1122.9,224.6L1125.7,222.6L1126.3,225.0ZM1138.0,225.3L1140.7,223.1L1141.5,225.5ZM1153.4,226.2L1155.8,223.8L1156.8,226.1ZM1169.0,227.6L1171.1,224.9L1172.4,227.0ZM1185.7,229.7L1187.1,226.5L1188.8,228.3ZM1246.4,230.3L1243.3,228.7L1245.2,227.0ZM1263.4,228.0L1260.0,227.3L1261.4,225.2ZM1279.2,226.6L1275.7,226.4L1276.8,224.1ZM1294.4,225.9L1291.0,225.9L1291.9,223.5ZM1309.4,225.8L1306.0,225.8L1306.9,223.5ZM1323.9,226.8L1320.5,226.5L1321.6,224.2ZM1335.4,230.7L1332.4,228.9L1334.4,227.4ZM1336.2,230.7L1337.2,227.4L1339.2,228.9ZM1347.7,226.8L1350.0,224.2L1351.1,226.5ZM1362.2,225.8L1364.7,223.5L1365.6,225.8ZM1377.2,225.9L1379.7,223.5L1380.6,225.9ZM1392.4,226.6L1394.8,224.1L1395.9,226.4ZM1408.2,228.0L1410.2,225.2L1411.6,227.3ZM1425.2,230.3L1426.4,227.0L1428.3,228.7ZM1485.9,229.7L1482.8,228.3L1484.5,226.5ZM1502.6,227.6L1499.2,227.0L1500.5,224.9ZM1518.2,226.2L1514.8,226.1L1515.8,223.8ZM1533.6,225.3L1530.1,225.5L1530.9,223.1ZM1548.7,224.6L1545.3,225.0L1545.9,222.6ZM1563.8,224.2L1560.4,224.7L1560.9,222.2ZM1108.3,240.1L1110.9,237.8L1111.7,240.1ZM1123.5,240.7L1125.9,238.3L1126.9,240.6ZM1138.9,241.6L1141.1,239.0L1142.3,241.2ZM1154.5,242.7L1156.4,239.9L1157.9,241.9ZM1170.7,244.1L1172.1,241.0L1173.9,242.8ZM1187.8,245.8L1188.4,242.4L1190.5,243.7ZM1206.2,247.2L1205.7,243.8L1208.2,244.4ZM1225.5,247.4L1223.8,244.4L1226.3,244.0ZM1244.2,246.2L1241.6,244.0L1243.8,242.8ZM1261.5,244.6L1258.4,243.1L1260.3,241.4ZM1277.7,243.3L1274.4,242.3L1276.0,240.4ZM1293.2,242.6L1289.9,241.8L1291.3,239.8ZM1308.1,242.6L1304.8,241.8L1306.2,239.8ZM1322.1,243.8L1318.8,242.6L1320.5,240.7ZM1332.8,246.6L1330.4,244.2L1332.7,243.2ZM1338.8,246.6L1338.9,243.2L1341.2,244.2ZM1349.5,243.8L1351.1,240.7L1352.8,242.6ZM1363.5,242.6L1365.4,239.8L1366.8,241.8ZM1378.4,242.6L1380.3,239.8L1381.7,241.8ZM1393.9,243.3L1395.6,240.4L1397.2,242.3ZM1410.1,244.6L1411.3,241.4L1413.2,243.1ZM1427.4,246.2L1427.8,242.8L1430.0,244.0ZM1446.1,247.4L1445.3,244.0L1447.8,244.4ZM1465.4,247.2L1463.4,244.4L1465.9,243.8ZM1483.8,245.8L1481.1,243.7L1483.2,242.4ZM1500.9,244.1L1497.7,242.8L1499.5,241.0ZM1517.1,242.7L1513.7,241.9L1515.2,239.9ZM1532.7,241.6L1529.3,241.2L1530.5,239.0ZM1548.1,240.7L1544.7,240.6L1545.7,238.3ZM1563.3,240.1L1559.9,240.1L1560.7,237.8ZM1108.8,255.8L1111.1,253.2L1112.3,255.5ZM1124.2,256.5L1126.3,253.8L1127.6,256.0ZM1139.8,257.4L1141.6,254.5L1143.1,256.5ZM1155.7,258.5L1157.1,255.4L1158.8,257.2ZM1172.0,259.7L1173.0,256.4L1175.0,258.0ZM1189.1,260.9L1189.3,257.5L1191.6,258.6ZM1206.8,261.8L1206.2,258.4L1208.6,258.9ZM1224.9,261.9L1223.4,258.9L1225.9,258.6ZM1242.8,261.3L1240.5,258.7L1242.8,257.9ZM1259.8,260.3L1257.1,258.3L1259.2,256.9ZM1276.1,259.4L1273.1,257.7L1275.0,256.1ZM1291.6,258.9L1288.5,257.4L1290.3,255.7ZM1306.4,259.0L1303.3,257.5L1305.1,255.8ZM1319.9,260.1L1317.1,258.1L1319.2,256.7ZM1331.1,261.7L1329.1,258.9L1331.6,258.2ZM1340.5,261.7L1340.0,258.2L1342.5,258.9ZM1351.7,260.1L1352.4,256.7L1354.5,258.1ZM1365.2,259.0L1366.5,255.8L1368.3,257.5ZM1380.0,258.9L1381.3,255.7L1383.1,257.4ZM1395.5,259.4L1396.6,256.1L1398.5,257.7ZM1411.8,260.3L1412.4,256.9L1414.5,258.3ZM1428.8,261.3L1428.8,257.9L1431.1,258.7ZM1446.7,261.9L1445.7,258.6L1448.2,258.9ZM1464.8,261.8L1463.0,258.9L1465.4,258.4ZM1482.5,260.9L1480.0,258.6L1482.3,257.5ZM1499.6,259.7L1496.6,258.0L1498.6,256.4ZM1515.9,258.5L1512.8,257.2L1514.5,255.4ZM1531.8,257.4L1528.5,256.5L1530.0,254.5ZM1547.4,256.5L1544.0,256.0L1545.3,253.8ZM1562.8,255.8L1559.3,255.5L1560.5,253.2ZM1109.4,271.2L1111.5,268.5L1112.8,270.6ZM1124.9,272.0L1126.7,269.1L1128.2,271.1ZM1140.6,272.9L1142.1,269.8L1143.8,271.6ZM1156.6,273.8L1157.7,270.6L1159.6,272.2ZM1173.0,274.8L1173.6,271.5L1175.7,272.8ZM1189.8,275.7L1189.8,272.3L1192.1,273.2ZM1207.0,276.3L1206.3,273.0L1208.8,273.4ZM1224.4,276.5L1223.0,273.3L1225.5,273.2ZM1241.6,276.1L1239.6,273.4L1242.0,272.7ZM1258.4,275.5L1255.9,273.1L1258.2,272.1ZM1274.5,275.0L1271.8,272.9L1273.9,271.6ZM1289.9,274.7L1287.1,272.7L1289.2,271.3ZM1304.5,274.9L1301.7,272.8L1303.9,271.5ZM1318.0,275.6L1315.6,273.1L1317.9,272.1ZM1330.1,276.3L1328.4,273.4L1330.9,273.0ZM1341.5,276.3L1340.7,273.0L1343.2,273.4ZM1353.6,275.6L1353.7,272.1L1356.0,273.1ZM1367.1,274.9L1367.7,271.5L1369.9,272.8ZM1381.7,274.7L1382.4,271.3L1384.5,272.7ZM1397.1,275.0L1397.7,271.6L1399.8,272.9ZM1413.2,275.5L1413.4,272.1L1415.7,273.1ZM1430.0,276.1L1429.6,272.7L1432.0,273.4ZM1447.2,276.5L1446.1,273.2L1448.6,273.3ZM1464.6,276.3L1462.8,273.4L1465.3,273.0ZM1481.8,275.7L1479.5,273.2L1481.8,272.3ZM1498.6,274.8L1495.9,272.8L1498.0,271.5ZM1515.0,273.8L1512.0,272.2L1513.9,270.6ZM1531.0,272.9L1527.8,271.6L1529.5,269.8ZM1546.7,272.0L1543.4,271.1L1544.9,269.1ZM1562.2,271.2L1558.8,270.6L1560.1,268.5ZM1110.0,286.5L1111.8,283.6L1113.3,285.6ZM1125.5,287.2L1127.1,284.2L1128.7,286.0ZM1141.2,288.0L1142.5,284.8L1144.3,286.5ZM1157.2,288.8L1158.1,285.5L1160.2,287.0ZM1173.5,289.7L1174.0,286.3L1176.2,287.4ZM1190.2,290.4L1190.0,286.9L1192.4,287.8ZM1207.0,290.8L1206.3,287.5L1208.8,287.9ZM1223.9,291.0L1222.6,287.8L1225.1,287.8ZM1240.6,290.8L1238.9,287.9L1241.3,287.5ZM1257.0,290.5L1254.9,287.8L1257.2,287.1ZM1272.8,290.2L1270.5,287.7L1272.8,286.8ZM1288.1,290.1L1285.7,287.6L1288.0,286.7ZM1302.7,290.2L1300.3,287.7L1302.7,286.8ZM1316.5,290.6L1314.4,287.8L1316.8,287.2ZM1329.5,290.9L1327.9,287.9L1330.4,287.6ZM1342.1,290.9L1341.2,287.6L1343.7,287.9ZM1355.1,290.6L1354.8,287.2L1357.2,287.8ZM1368.9,290.2L1368.9,286.8L1371.3,287.7ZM1383.5,290.1L1383.6,286.7L1385.9,287.6ZM1398.8,290.2L1398.8,286.8L1401.1,287.7ZM1414.6,290.5L1414.4,287.1L1416.7,287.8ZM1431.0,290.8L1430.3,287.5L1432.7,287.9ZM1447.7,291.0L1446.5,287.8L1449.0,287.8ZM1464.6,290.8L1462.8,287.9L1465.3,287.5ZM1481.4,290.4L1479.2,287.8L1481.6,286.9ZM1498.1,289.7L1495.4,287.4L1497.6,286.3ZM1514.4,288.8L1511.4,287.0L1513.5,285.5ZM1530.4,288.0L1527.3,286.5L1529.1,284.8ZM1546.1,287.2L1542.9,286.0L1544.5,284.2ZM1561.6,286.5L1558.3,285.6L1559.8,283.6ZM1110.5,301.6L1112.1,298.6L1113.7,300.5ZM1126.0,302.3L1127.4,299.1L1129.2,300.9ZM1141.8,303.0L1142.9,299.7L1144.8,301.3ZM1157.7,303.7L1158.5,300.3L1160.5,301.7ZM1173.9,304.3L1174.2,300.9L1176.4,302.0ZM1190.3,304.9L1190.1,301.5L1192.5,302.3ZM1206.8,305.3L1206.1,301.9L1208.6,302.4ZM1223.3,305.5L1222.2,302.2L1224.7,302.3ZM1239.6,305.4L1238.1,302.4L1240.6,302.2ZM1255.7,305.3L1253.9,302.4L1256.4,301.9ZM1271.4,305.2L1269.4,302.4L1271.8,301.8ZM1286.6,305.1L1284.5,302.3L1286.9,301.7ZM1301.2,305.2L1299.3,302.4L1301.7,301.8ZM1315.4,305.3L1313.6,302.4L1316.1,301.9ZM1329.1,305.5L1327.6,302.3L1330.1,302.2ZM1342.5,305.5L1341.5,302.2L1344.0,302.3ZM1356.2,305.3L1355.5,301.9L1358.0,302.4ZM1370.4,305.2L1369.9,301.8L1372.3,302.4ZM1385.0,305.1L1384.7,301.7L1387.1,302.3ZM1400.2,305.2L1399.8,301.8L1402.2,302.4ZM1415.9,305.3L1415.2,301.9L1417.7,302.4ZM1432.0,305.4L1431.0,302.2L1433.5,302.4ZM1448.3,305.5L1446.9,302.3L1449.4,302.2ZM1464.8,305.3L1463.0,302.4L1465.5,301.9ZM1481.3,304.9L1479.1,302.3L1481.5,301.5ZM1497.7,304.3L1495.2,302.0L1497.4,300.9ZM1513.9,303.7L1511.1,301.7L1513.1,300.3ZM1529.8,303.0L1526.8,301.3L1528.7,299.7ZM1545.6,302.3L1542.4,300.9L1544.2,299.1ZM1561.1,301.6L1557.9,300.5L1559.5,298.6ZM1110.9,316.6L1112.4,313.5L1114.1,315.3ZM1126.5,317.2L1127.7,314.0L1129.6,315.6ZM1142.2,317.8L1143.1,314.5L1145.1,316.0ZM1158.1,318.4L1158.7,315.0L1160.8,316.3ZM1174.1,318.9L1174.4,315.5L1176.6,316.6ZM1190.3,319.4L1190.1,316.0L1192.5,316.8ZM1206.5,319.7L1205.9,316.3L1208.4,316.9ZM1222.7,319.9L1221.8,316.6L1224.2,316.9ZM1238.8,320.0L1237.5,316.8L1240.0,316.8ZM1254.6,319.9L1253.1,316.9L1255.6,316.7ZM1270.2,319.9L1268.5,316.9L1271.0,316.5ZM1285.4,319.8L1283.6,316.9L1286.1,316.5ZM1300.2,319.9L1298.5,316.9L1300.9,316.5ZM1314.6,319.9L1313.0,316.9L1315.5,316.6ZM1328.8,320.0L1327.4,316.8L1329.9,316.7ZM1342.8,320.0L1341.7,316.7L1344.2,316.8ZM1357.0,319.9L1356.1,316.6L1358.6,316.9ZM1371.4,319.9L1370.7,316.5L1373.1,316.9ZM1386.2,319.8L1385.5,316.5L1388.0,316.9ZM1401.4,319.9L1400.6,316.5L1403.1,316.9ZM1417.0,319.9L1416.0,316.7L1418.5,316.9ZM1432.8,320.0L1431.6,316.8L1434.1,316.8ZM1448.9,319.9L1447.4,316.9L1449.8,316.6ZM1465.1,319.7L1463.2,316.9L1465.7,316.3ZM1481.3,319.4L1479.1,316.8L1481.5,316.0ZM1497.5,318.9L1495.0,316.6L1497.2,315.5ZM1513.5,318.4L1510.8,316.3L1512.9,315.0ZM1529.4,317.8L1526.5,316.0L1528.5,314.5ZM1545.1,317.2L1542.0,315.6L1543.9,314.0ZM1560.7,316.6L1557.5,315.3L1559.2,313.5ZM1111.3,331.5L1112.6,328.3L1114.4,330.0ZM1126.9,332.0L1128.0,328.7L1129.9,330.3ZM1142.6,332.5L1143.4,329.2L1145.4,330.6ZM1158.4,333.0L1158.9,329.6L1161.0,330.9ZM1174.3,333.5L1174.4,330.1L1176.7,331.1ZM1190.2,333.9L1190.1,330.5L1192.5,331.3ZM1206.2,334.2L1205.8,330.8L1208.2,331.4ZM1222.2,334.4L1221.4,331.0L1223.9,331.4ZM1238.1,334.5L1237.0,331.2L1239.5,331.3ZM1253.8,334.5L1252.5,331.3L1255.0,331.3ZM1269.3,334.5L1267.8,331.3L1270.3,331.2ZM1284.5,334.4L1283.0,331.4L1285.5,331.1ZM1299.4,334.4L1297.9,331.4L1300.4,331.1ZM1314.1,334.5L1312.7,331.3L1315.2,331.2ZM1328.6,334.5L1327.3,331.3L1329.8,331.3ZM1343.0,334.5L1341.8,331.3L1344.3,331.3ZM1357.5,334.5L1356.4,331.2L1358.9,331.3ZM1372.2,334.4L1371.2,331.1L1373.7,331.4ZM1387.1,334.4L1386.1,331.1L1388.6,331.4ZM1402.3,334.5L1401.3,331.2L1403.8,331.3ZM1417.8,334.5L1416.6,331.3L1419.1,331.3ZM1433.5,334.5L1432.1,331.3L1434.6,331.2ZM1449.4,334.4L1447.7,331.4L1450.2,331.0ZM1465.4,334.2L1463.4,331.4L1465.8,330.8ZM1481.4,333.9L1479.1,331.3L1481.5,330.5ZM1497.3,333.5L1494.9,331.1L1497.2,330.1ZM1513.2,333.0L1510.6,330.9L1512.7,329.6ZM1529.0,332.5L1526.2,330.6L1528.2,329.2ZM1544.7,332.0L1541.7,330.3L1543.6,328.7ZM1560.3,331.5L1557.2,330.0L1559.0,328.3ZM1111.7,346.3L1112.9,343.0L1114.7,344.7ZM1127.2,346.7L1128.2,343.4L1130.2,345.0ZM1142.9,347.2L1143.6,343.8L1145.7,345.2ZM1158.6,347.6L1159.0,344.2L1161.2,345.4ZM1174.4,348.0L1174.5,344.6L1176.8,345.6ZM1190.2,348.4L1190.1,344.9L1192.4,345.8ZM1206.0,348.6L1205.6,345.2L1208.1,345.9ZM1221.9,348.8L1221.2,345.5L1223.6,345.9ZM1237.6,348.9L1236.7,345.6L1239.2,345.9ZM1253.2,349.0L1252.1,345.7L1254.6,345.8ZM1268.6,349.0L1267.4,345.8L1269.9,345.8ZM1283.9,349.0L1282.5,345.8L1285.0,345.7ZM1298.9,349.0L1297.5,345.8L1300.0,345.7ZM1313.7,349.0L1312.4,345.8L1314.9,345.7ZM1328.5,349.0L1327.2,345.8L1329.7,345.8ZM1343.1,349.0L1341.9,345.8L1344.4,345.8ZM1357.9,349.0L1356.7,345.7L1359.2,345.8ZM1372.7,349.0L1371.6,345.7L1374.1,345.8ZM1387.7,349.0L1386.6,345.7L1389.1,345.8ZM1403.0,349.0L1401.7,345.8L1404.2,345.8ZM1418.4,349.0L1417.0,345.8L1419.5,345.7ZM1434.0,348.9L1432.4,345.9L1434.9,345.6ZM1449.7,348.8L1448.0,345.9L1450.4,345.5ZM1465.6,348.6L1463.5,345.9L1466.0,345.2ZM1481.4,348.4L1479.2,345.8L1481.5,344.9ZM1497.2,348.0L1494.8,345.6L1497.1,344.6ZM1513.0,347.6L1510.4,345.4L1512.6,344.2ZM1528.7,347.2L1525.9,345.2L1528.0,343.8ZM1544.4,346.7L1541.4,345.0L1543.4,343.4ZM1559.9,346.3L1556.9,344.7L1558.7,343.0ZM1112.0,361.0L1113.1,357.7L1115.0,359.3ZM1127.5,361.4L1128.4,358.1L1130.4,359.6ZM1143.1,361.8L1143.7,358.5L1145.9,359.8ZM1158.7,362.2L1159.1,358.8L1161.3,360.0ZM1174.4,362.6L1174.6,359.1L1176.9,360.1ZM1190.2,362.9L1190.1,359.4L1192.4,360.3ZM1205.9,363.1L1205.5,359.7L1207.9,360.3ZM1221.6,363.3L1221.0,359.9L1223.4,360.4ZM1237.2,363.4L1236.4,360.0L1238.9,360.4ZM1252.8,363.4L1251.8,360.2L1254.3,360.4ZM1268.2,363.5L1267.0,360.2L1269.5,360.3ZM1283.4,363.5L1282.2,360.3L1284.7,360.3ZM1298.5,363.5L1297.2,360.3L1299.7,360.3ZM1313.5,363.5L1312.2,360.3L1314.7,360.3ZM1328.4,363.5L1327.1,360.3L1329.6,360.3ZM1343.2,363.5L1342.0,360.3L1344.5,360.3ZM1358.1,363.5L1356.9,360.3L1359.4,360.3ZM1373.1,363.5L1371.9,360.3L1374.4,360.3ZM1388.2,363.5L1386.9,360.3L1389.4,360.3ZM1403.4,363.5L1402.1,360.3L1404.6,360.2ZM1418.8,363.4L1417.3,360.4L1419.8,360.2ZM1434.4,363.4L1432.7,360.4L1435.2,360.0ZM1450.0,363.3L1448.2,360.4L1450.6,359.9ZM1465.7,363.1L1463.7,360.3L1466.1,359.7ZM1481.4,362.9L1479.2,360.3L1481.5,359.4ZM1497.2,362.6L1494.7,360.1L1497.0,359.1ZM1512.9,362.2L1510.3,360.0L1512.5,358.8ZM1528.5,361.8L1525.7,359.8L1527.9,358.5ZM1544.1,361.4L1541.2,359.6L1543.2,358.1ZM1559.6,361.0L1556.6,359.3L1558.5,357.7ZM1112.3,375.7L1113.2,372.4L1115.2,373.9ZM1127.8,376.1L1128.5,372.7L1130.6,374.2ZM1143.3,376.5L1143.9,373.1L1146.0,374.3ZM1158.9,376.8L1159.2,373.4L1161.5,374.5ZM1174.5,377.1L1174.6,373.7L1176.9,374.7ZM1190.2,377.4L1190.0,373.9L1192.4,374.8ZM1205.8,377.6L1205.5,374.2L1207.9,374.8ZM1221.4,377.7L1220.9,374.3L1223.3,374.9ZM1237.0,377.8L1236.2,374.5L1238.7,374.9ZM1252.4,377.9L1251.5,374.6L1254.0,374.9ZM1267.8,378.0L1266.8,374.7L1269.3,374.8ZM1283.1,378.0L1282.0,374.7L1284.5,374.8ZM1298.2,378.0L1297.0,374.8L1299.5,374.8ZM1313.3,378.0L1312.1,374.8L1314.6,374.8ZM1328.3,378.0L1327.1,374.8L1329.6,374.8ZM1343.3,378.0L1342.0,374.8L1344.5,374.8ZM1358.3,378.0L1357.0,374.8L1359.5,374.8ZM1373.4,378.0L1372.1,374.8L1374.6,374.8ZM1388.5,378.0L1387.1,374.8L1389.6,374.7ZM1403.8,378.0L1402.3,374.8L1404.8,374.7ZM1419.2,377.9L1417.6,374.9L1420.1,374.6ZM1434.6,377.8L1432.9,374.9L1435.4,374.5ZM1450.2,377.7L1448.3,374.9L1450.7,374.3ZM1465.8,377.6L1463.7,374.8L1466.1,374.2ZM1481.4,377.4L1479.2,374.8L1481.6,373.9ZM1497.1,377.1L1494.7,374.7L1497.0,373.7ZM1512.7,376.8L1510.1,374.5L1512.4,373.4ZM1528.3,376.5L1525.6,374.3L1527.7,373.1ZM1543.8,376.1L1541.0,374.2L1543.1,372.7ZM1559.3,375.7L1556.4,373.9L1558.4,372.4Z" fill="#000"/>
</g>
<rect x="1117.70" y="23.00" width="434.80" height="360.80" fill="none" stroke="#707070" stroke-width="1.30"/>
<path d="M1177.42,383.80v-4.30M1177.42,23.00v4.30M1334.50,383.80v-4.30M1334.50,23.00v4.30M1491.58,383.80v-4.30M1491.58,23.00v4.30M1117.70,46.30h4.30M1552.50,46.30h-4.30M1117.70,122.50h4.30M1552.50,122.50h-4.30M1117.70,198.70h4.30M1552.50,198.70h-4.30M1117.70,274.90h4.30M1552.50,274.90h-4.30M1117.70,351.10h4.30M1552.50,351.10h-4.30" stroke="#555" stroke-width="0.90" fill="none"/>
<text transform="translate(1092.79,58.70) scale(1.0500,1)" font-family="'DejaVu Sans',sans-serif" font-size="32.20" fill="#000">4</text>
<text transform="translate(1094.23,134.90) scale(1.0500,1)" font-family="'DejaVu Sans',sans-serif" font-size="32.20" fill="#000">2</text>
<text transform="translate(1093.13,211.10) scale(1.0500,1)" font-family="'DejaVu Sans',sans-serif" font-size="32.20" fill="#000">0</text>
<text transform="translate(1082.06,287.30) scale(1.0500,1)" font-family="'DejaVu Sans',sans-serif" font-size="32.20" fill="#000">-2</text>
<text transform="translate(1080.62,363.50) scale(1.0500,1)" font-family="'DejaVu Sans',sans-serif" font-size="32.20" fill="#000">-4</text>
<linearGradient id="cbg2" x1="0" y1="0" x2="0" y2="1"><stop offset="0.0000" stop-color="#620874"/><stop offset="0.0250" stop-color="#740468"/><stop offset="0.0500" stop-color="#86005c"/><stop offset="0.0750" stop-color="#99004e"/><stop offset="0.1000" stop-color="#ac0040"/><stop offset="0.1250" stop-color="#bf0434"/><stop offset="0.1500" stop-color="#d20828"/><stop offset="0.1750" stop-color="#e3111c"/><stop offset="0.2000" stop-color="#f41a10"/><stop offset="0.2250" stop-color="#fa3108"/><stop offset="0.2500" stop-color="#ff4800"/><stop offset="0.2750" stop-color="#ff6200"/><stop offset="0.3000" stop-color="#ff7c00"/><stop offset="0.3250" stop-color="#ff9600"/><stop offset="0.3500" stop-color="#ffb000"/><stop offset="0.3750" stop-color="#facb0e"/><stop offset="0.4000" stop-color="#f4e61c"/><stop offset="0.4250" stop-color="#daef2e"/><stop offset="0.4500" stop-color="#c0f840"/><stop offset="0.4750" stop-color="#a2fa5a"/><stop offset="0.5000" stop-color="#84fc74"/><stop offset="0.5250" stop-color="#6afc91"/><stop offset="0.5500" stop-color="#50fcae"/><stop offset="0.5750" stop-color="#34f4d4"/><stop offset="0.6000" stop-color="#20e6f2"/><stop offset="0.6250" stop-color="#2ad9f7"/><stop offset="0.6500" stop-color="#34ccfc"/><stop offset="0.6750" stop-color="#44befe"/><stop offset="0.7000" stop-color="#54b0ff"/><stop offset="0.7250" stop-color="#66a8ff"/><stop offset="0.7500" stop-color="#78a0ff"/><stop offset="0.7750" stop-color="#8599fe"/><stop offset="0.8000" stop-color="#9292fc"/><stop offset="0.8250" stop-color="#9d96fc"/><stop offset="0.8500" stop-color="#a89afb"/><stop offset="0.8750" stop-color="#b2a4fa"/><stop offset="0.9000" stop-color="#bcaef9"/><stop offset="0.9250" stop-color="#c8bdf8"/><stop offset="0.9500" stop-color="#d4ccf7"/><stop offset="0.9750" stop-color="#e0ddf6"/><stop offset="1.0000" stop-color="#e9e9f6"/></linearGradient>
<rect x="1567.60" y="82.30" width="11.20" height="288.30" fill="url(#cbg2)" stroke="#111" stroke-width="1.05"/>
<path d="M1567.60,139.96h2.6M1578.80,139.96h-2.6M1567.60,197.62h2.6M1578.80,197.62h-2.6M1567.60,255.28h2.6M1578.80,255.28h-2.6M1567.60,312.94h2.6M1578.80,312.94h-2.6" stroke="#111" stroke-width="1.0" fill="none"/>
<text transform="translate(1581.51,93.90) scale(1.0570,1)" font-family="'DejaVu Sans',sans-serif" font-size="31.70" fill="#000">1</text>
<text transform="translate(1583.02,151.56) scale(1.0570,1)" font-family="'DejaVu Sans',sans-serif" font-size="31.70" fill="#000">0.8</text>
<text transform="translate(1583.02,209.22) scale(1.0570,1)" font-family="'DejaVu Sans',sans-serif" font-size="31.70" fill="#000">0.6</text>
<text transform="translate(1583.02,266.88) scale(1.0570,1)" font-family="'DejaVu Sans',sans-serif" font-size="31.70" fill="#000">0.4</text>
<text transform="translate(1583.02,324.54) scale(1.0570,1)" font-family="'DejaVu Sans',sans-serif" font-size="31.70" fill="#000">0.2</text>
<text transform="translate(1583.02,382.20) scale(1.0570,1)" font-family="'DejaVu Sans',sans-serif" font-size="31.70" fill="#000">0</text>
<text transform="translate(979.04,45.28) scale(1.3064,1)" font-family="'DejaVu Sans',sans-serif" font-size="60.90" fill="#000">(</text>
<text transform="translate(1007.51,41.55) scale(0.9627,1)" font-family="'DejaVu Sans',sans-serif" font-size="56.39" fill="#000">b</text>
<text transform="translate(1039.11,45.28) scale(1.2918,1)" font-family="'DejaVu Sans',sans-serif" font-size="60.90" fill="#000">)</text>
<text transform="translate(1040.55,213.28) scale(1.0255,1)" font-family="'DejaVu Sans',sans-serif" font-size="56.95" fill="#000">y</text>
<rect x="1043.60" y="169.00" width="28.40" height="4.60" fill="#000"/>
<text transform="translate(1319.10,483.30) scale(1.0789,1)" font-family="'DejaVu Sans',sans-serif" font-size="55.53" fill="#000">x</text>
<rect x="1322.60" y="439.30" width="28.40" height="4.60" fill="#000"/>
<text transform="translate(1156.30,421.50) scale(1.0472,1)" font-family="'DejaVu Sans',sans-serif" font-size="36.16" fill="#000">-4</text>
<text transform="translate(1323.25,419.41) scale(1.0628,1)" font-family="'DejaVu Sans',sans-serif" font-size="32.61" fill="#000">0</text>
<text transform="translate(1476.67,421.60) scale(1.0565,1)" font-family="'DejaVu Sans',sans-serif" font-size="36.44" fill="#000">4</text>
<clipPath id="lclip1"><rect x="115.80" y="571.90" width="457.20" height="374.50"/></clipPath>
<g clip-path="url(#lclip1)" fill="none" stroke-linejoin="round" stroke-linecap="round">
<polyline points="141.5,687.9 141.5,688.4 141.6,689.1 141.7,689.9 141.7,690.9 141.8,691.9 141.9,693.1 142.0,694.4 142.1,695.8 142.2,697.3 142.3,698.9 142.4,700.6 142.6,702.4 142.7,704.4 142.9,706.4 143.0,708.5 143.2,710.8 143.4,713.1 143.6,715.5 143.8,718.0 144.0,720.5 144.2,723.2 144.4,725.9 144.7,728.7 144.9,731.5 145.2,734.4 145.5,737.3 145.8,740.3 146.1,743.3 146.4,746.4 146.7,749.5 147.0,752.6 147.4,755.7 147.7,758.8 148.1,762.0 148.4,765.1 148.8,768.3 149.2,771.4 149.6,774.6 150.0,777.7 150.5,780.8 150.9,783.9 151.4,787.0 151.8,790.0 152.3,793.0 152.8,796.0 153.3,798.9 153.8,801.8 154.3,804.7 154.8,807.5 155.4,810.2 155.9,812.9 156.5,815.6 157.1,818.2 157.7,820.8 158.3,823.3 158.9,825.7 159.5,828.1 160.1,830.4 160.8,832.7 161.5,835.0 162.1,837.1 162.8,839.2 163.5,841.3 164.2,843.3 165.0,845.3 165.7,847.2 166.4,849.0 167.2,850.8 168.0,852.6 168.8,854.3 169.6,855.9 170.4,857.5 171.2,859.1 172.0,860.6 172.9,862.1 173.7,863.5 174.6,864.9 175.5,866.2 176.4,867.5 177.3,868.8 178.2,870.0 179.2,871.2 180.1,872.4 181.1,873.5 182.1,874.6 183.1,875.7 184.1,876.7 185.1,877.7 186.1,878.7 187.1,879.7 188.2,880.6 189.3,881.5 190.4,882.4 191.4,883.2 192.6,884.1 193.7,884.9 194.8,885.7 196.0,886.5 197.1,887.2 198.3,888.0 199.5,888.7 200.7,889.4 201.9,890.1 203.1,890.7 204.4,891.4 205.6,892.0 206.9,892.6 208.2,893.3 209.5,893.9 210.8,894.4 212.1,895.0 213.4,895.6 214.8,896.1 216.1,896.6 217.5,897.1 218.9,897.7 220.3,898.1 221.7,898.6 223.2,899.1 224.6,899.6 226.1,900.0 227.5,900.5 229.0,900.9 230.5,901.3 232.1,901.7 233.6,902.1 235.1,902.5 236.7,902.9 238.3,903.3 239.8,903.7 241.4,904.0 243.1,904.4 244.7,904.7 246.3,905.1 248.0,905.4 249.6,905.7 251.3,906.0 253.0,906.3 254.7,906.6 256.5,906.9 258.2,907.2 260.0,907.5 261.7,907.8 263.5,908.0 265.3,908.3 267.1,908.6 269.0,908.8 270.8,909.0 272.7,909.3 274.5,909.5 276.4,909.7 278.3,910.0 280.2,910.2 282.1,910.4 284.1,910.6 286.0,910.8 288.0,911.0 290.0,911.2 292.0,911.4 294.0,911.6 296.0,911.8 298.1,911.9 300.2,912.1 302.2,912.3 304.3,912.4 306.4,912.6 308.5,912.8 310.7,912.9 312.8,913.1 315.0,913.2 317.2,913.3 319.3,913.5 321.6,913.6 323.8,913.7 326.0,913.9 328.3,914.0 330.5,914.1 332.8,914.2 335.1,914.4 337.4,914.5 339.7,914.6 342.1,914.7 344.4,914.8 346.8,914.9 349.2,915.0 351.6,915.1 354.0,915.2 356.4,915.3 358.9,915.4 361.4,915.5 363.8,915.6 366.3,915.6 368.8,915.7 371.4,915.8 373.9,915.9 376.4,916.0 379.0,916.0 381.6,916.1 384.2,916.2 386.8,916.2 389.4,916.3 392.1,916.4 394.7,916.4 397.4,916.5 400.1,916.6 402.8,916.6 405.5,916.7 408.3,916.7 411.0,916.8 413.8,916.8 416.6,916.9 419.4,916.9 422.2,917.0 425.0,917.0 427.8,917.1 430.7,917.1 433.6,917.2 436.5,917.2 439.4,917.2 442.3,917.3 445.2,917.3 448.2,917.4 451.2,917.4 454.1,917.4 457.1,917.5 460.1,917.5 463.2,917.5 466.2,917.5 469.3,917.6 472.4,917.6 475.5,917.6 478.6,917.7 481.7,917.7 484.8,917.7 488.0,917.7 491.2,917.8 494.3,917.8 497.5,917.8 500.8,917.8 504.0,917.8 507.3,917.9 510.5,917.9 513.8,917.9 517.1,917.9 520.4,917.9 523.7,917.9 527.1,918.0 530.5,918.0 533.8,918.0 537.2,918.0 540.6,918.0 544.1,918.0 545.9,918.0" stroke="#ff0000" stroke-width="3.50"/>
<polyline points="142.9,885.6 143.4,885.5 143.8,885.4 144.2,885.3 144.7,885.2 145.2,885.0 145.8,884.9 146.4,884.8 147.0,884.6 147.7,884.5 148.1,884.4 148.4,884.3 148.8,884.3 149.2,884.2 149.6,884.1 150.0,884.0 150.5,884.0 150.9,883.9 151.4,883.8 151.8,883.7 152.3,883.7 152.8,883.6 153.3,883.5 153.8,883.4 154.3,883.4 154.8,883.3 155.4,883.2 155.9,883.1 156.5,883.0 157.1,883.0 157.7,882.9 158.3,882.8 158.9,882.7 159.5,882.7 160.1,882.6 160.8,882.5 161.5,882.5 162.1,882.4 162.8,882.3 163.5,882.2 164.2,882.2 165.0,882.1 165.7,882.0 166.4,882.0 167.2,881.9 168.0,881.8 168.8,881.8 169.6,881.7 170.4,881.7 171.2,881.6 172.0,881.5 172.9,881.5 173.7,881.4 174.6,881.4 175.5,881.3 176.4,881.2 177.3,881.2 178.2,881.1 179.2,881.1 180.1,881.0 181.1,881.0 182.1,880.9 183.1,880.8 184.1,880.8 185.1,880.7 186.1,880.7 187.1,880.6 188.2,880.6 189.3,880.5 190.4,880.5 191.4,880.4 192.6,880.4 193.7,880.3 194.8,880.3 196.0,880.2 197.1,880.2 198.3,880.1 199.5,880.1 200.7,880.0 201.9,880.0 203.1,879.9 204.4,879.9 205.6,879.8 206.9,879.8 208.2,879.7 209.5,879.7 210.8,879.6 212.1,879.6 213.4,879.5 214.8,879.5 216.1,879.4 217.5,879.4 218.9,879.3 220.3,879.3 221.7,879.2 223.2,879.2 224.6,879.1 226.1,879.1 227.5,879.0 229.0,879.0 230.5,878.9 232.1,878.9 233.6,878.8 235.1,878.8 236.7,878.7 238.3,878.7 239.8,878.6 241.4,878.6 243.1,878.5 244.7,878.5 246.3,878.4 248.0,878.4 249.6,878.3 251.3,878.3 253.0,878.2 254.7,878.2 256.5,878.1 258.2,878.1 260.0,878.0 261.7,878.0 263.5,877.9 265.3,877.9 267.1,877.8 269.0,877.8 270.8,877.7 272.7,877.7 274.5,877.6 276.4,877.6 278.3,877.5 280.2,877.5 282.1,877.4 284.1,877.4 286.0,877.3 288.0,877.3 290.0,877.2 292.0,877.2 294.0,877.1 296.0,877.1 298.1,877.0 300.2,877.0 302.2,876.9 304.3,876.9 306.4,876.9 308.5,876.8 310.7,876.8 312.8,876.7 315.0,876.7 317.2,876.6 319.3,876.6 321.6,876.5 323.8,876.5 326.0,876.4 328.3,876.4 330.5,876.4 332.8,876.3 335.1,876.3 337.4,876.2 339.7,876.2 342.1,876.1 344.4,876.1 346.8,876.0 349.2,876.0 351.6,876.0 354.0,875.9 356.4,875.9 358.9,875.8 361.4,875.8 363.8,875.8 366.3,875.7 368.8,875.7 371.4,875.6 373.9,875.6 376.4,875.6 379.0,875.5 381.6,875.5 384.2,875.4 386.8,875.4 389.4,875.4 392.1,875.3 394.7,875.3 397.4,875.2 400.1,875.2 402.8,875.2 405.5,875.1 408.3,875.1 411.0,875.1 413.8,875.0 416.6,875.0 419.4,875.0 422.2,874.9 425.0,874.9 427.8,874.9 430.7,874.8 433.6,874.8 436.5,874.8 439.4,874.7 442.3,874.7 445.2,874.7 448.2,874.6 451.2,874.6 454.1,874.6 457.1,874.5 460.1,874.5 463.2,874.5 466.2,874.4 469.3,874.4 472.4,874.4 475.5,874.4 478.6,874.3 481.7,874.3 484.8,874.3 488.0,874.2 491.2,874.2 494.3,874.2 497.5,874.2 500.8,874.1 504.0,874.1 507.3,874.1 510.5,874.1 513.8,874.0 517.1,874.0 520.4,874.0 523.7,874.0 527.1,873.9 530.5,873.9 533.8,873.9 537.2,873.9 540.6,873.8 544.1,873.8 545.9,873.8" stroke="#0000ff" stroke-width="3.50"/>
<polyline points="141.5,605.1 141.5,605.7 141.6,606.5 141.7,607.4 141.7,608.4 141.8,609.5 141.9,610.7 142.0,612.1 142.1,613.6 142.2,615.2 142.3,616.9 142.4,618.7 142.6,620.6 142.7,622.6 142.9,624.8 143.0,627.0 143.2,629.3 143.4,631.7 143.6,634.2 143.8,636.8 144.0,639.5 144.2,642.2 144.4,645.0 144.7,647.8 144.9,650.7 145.2,653.7 145.5,656.7 145.8,659.7 146.1,662.7 146.4,665.8 146.7,668.9 147.0,672.0 147.4,675.1 147.7,678.3 148.1,681.4 148.4,684.5 148.8,687.6 149.2,690.7 149.6,693.7 150.0,696.8 150.5,699.8 150.9,702.8 151.4,705.7 151.8,708.6 152.3,711.5 152.8,714.3 153.3,717.1 153.8,719.8 154.3,722.5 154.8,725.1 155.4,727.7 155.9,730.2 156.5,732.6 157.1,735.0 157.7,737.4 158.3,739.7 158.9,741.9 159.5,744.1 160.1,746.2 160.8,748.3 161.5,750.3 162.1,752.2 162.8,754.1 163.5,756.0 164.2,757.8 165.0,759.6 165.7,761.3 166.4,762.9 167.2,764.5 168.0,766.1 168.8,767.6 169.6,769.1 170.4,770.5 171.2,771.9 172.0,773.3 172.9,774.6 173.7,775.9 174.6,777.1 175.5,778.3 176.4,779.5 177.3,780.7 178.2,781.8 179.2,782.9 180.1,784.0 181.1,785.0 182.1,786.0 183.1,787.0 184.1,788.0 185.1,788.9 186.1,789.9 187.1,790.8 188.2,791.6 189.3,792.5 190.4,793.3 191.4,794.2 192.6,795.0 193.7,795.8 194.8,796.5 196.0,797.3 197.1,798.0 198.3,798.7 199.5,799.4 200.7,800.1 201.9,800.8 203.1,801.4 204.4,802.1 205.6,802.7 206.9,803.3 208.2,803.9 209.5,804.5 210.8,805.1 212.1,805.6 213.4,806.1 214.8,806.7 216.1,807.2 217.5,807.7 218.9,808.2 220.3,808.7 221.7,809.1 223.2,809.6 224.6,810.0 226.1,810.5 227.5,810.9 229.0,811.3 230.5,811.7 232.1,812.1 233.6,812.5 235.1,812.8 236.7,813.2 238.3,813.5 239.8,813.9 241.4,814.2 243.1,814.5 244.7,814.8 246.3,815.1 248.0,815.4 249.6,815.7 251.3,815.9 253.0,816.2 254.7,816.4 256.5,816.7 258.2,816.9 260.0,817.2 261.7,817.4 263.5,817.6 265.3,817.8 267.1,818.0 269.0,818.2 270.8,818.4 272.7,818.6 274.5,818.7 276.4,818.9 278.3,819.1 280.2,819.2 282.1,819.4 284.1,819.5 286.0,819.6 288.0,819.8 290.0,819.9 292.0,820.0 294.0,820.2 296.0,820.3 298.1,820.4 300.2,820.5 302.2,820.6 304.3,820.7 306.4,820.8 308.5,820.9 310.7,821.0 312.8,821.1 315.0,821.1 317.2,821.2 319.3,821.3 321.6,821.4 323.8,821.4 326.0,821.5 328.3,821.6 330.5,821.6 332.8,821.7 335.1,821.7 337.4,821.8 339.7,821.9 342.1,821.9 344.4,822.0 346.8,822.0 349.2,822.0 351.6,822.1 354.0,822.1 356.4,822.2 358.9,822.2 361.4,822.3 363.8,822.3 366.3,822.3 368.8,822.4 371.4,822.4 373.9,822.4 376.4,822.5 379.0,822.5 381.6,822.5 384.2,822.5 386.8,822.6 389.4,822.6 392.1,822.6 394.7,822.7 397.4,822.7 400.1,822.7 402.8,822.7 405.5,822.7 408.3,822.8 411.0,822.8 413.8,822.8 416.6,822.8 419.4,822.9 422.2,822.9 425.0,822.9 427.8,822.9 430.7,822.9 433.6,823.0 436.5,823.0 439.4,823.0 442.3,823.0 445.2,823.0 448.2,823.0 451.2,823.1 454.1,823.1 457.1,823.1 460.1,823.1 463.2,823.1 466.2,823.1 469.3,823.2 472.4,823.2 475.5,823.2 478.6,823.2 481.7,823.2 484.8,823.2 488.0,823.2 491.2,823.3 494.3,823.3 497.5,823.3 500.8,823.3 504.0,823.3 507.3,823.3 510.5,823.3 513.8,823.4 517.1,823.4 520.4,823.4 523.7,823.4 527.1,823.4 530.5,823.4 533.8,823.4 537.2,823.5 540.6,823.5 544.1,823.5 545.9,823.5" stroke="#000000" stroke-width="3.50"/>
</g>
<ellipse cx="154.40" cy="722.00" rx="8.10" ry="8.80" fill="#000"/>
<ellipse cx="416.50" cy="822.70" rx="7.80" ry="9.00" fill="#000"/>
<rect x="115.80" y="571.90" width="457.20" height="374.50" fill="none" stroke="#000" stroke-width="2.80"/>
<path d="M154.50,946.40v-7.60M285.50,946.40v-7.60M416.50,946.40v-7.60M547.50,946.40v-7.60M220.00,946.40v-4.50M351.00,946.40v-4.50M482.00,946.40v-4.50M115.80,615.70h7.60M115.80,703.96h7.60M115.80,792.22h7.60M115.80,880.48h7.60M115.80,659.83h4.50M115.80,748.09h4.50M115.80,836.35h4.50M115.80,924.61h4.50" stroke="#000" stroke-width="2.60" fill="none"/>
<path d="M397.90,618.60H460.20" stroke="#000" stroke-width="3.00"/>
<path d="M397.90,686.10H460.20" stroke="#f00" stroke-width="3.00"/>
<path d="M397.90,752.40H460.20" stroke="#00f" stroke-width="3.00"/>
<path d="M691.7,495.9H718.9M739.2,495.9H756M787.7,495.9H808" stroke="#d6ecfb" stroke-width="1.5" fill="none"/>
<text transform="translate(-5.84,596.23) scale(1.1658,1)" font-family="'DejaVu Sans',sans-serif" font-size="65.96" fill="#000">(</text>
<text transform="translate(20.32,592.38) scale(1.0018,1)" font-family="'DejaVu Sans',sans-serif" font-size="61.39" fill="#000">c</text>
<text transform="translate(47.75,596.23) scale(1.1658,1)" font-family="'DejaVu Sans',sans-serif" font-size="65.96" fill="#000">)</text>
<text transform="translate(37.29,777.82) scale(0.9857,1)" font-family="'DejaVu Sans',sans-serif" font-size="51.88" fill="#000">G</text>
<rect x="44.30" y="726.30" width="25.90" height="3.80" fill="#000"/>
<text transform="translate(331.89,1041.70) scale(0.9085,1)" font-family="'DejaVu Sans',sans-serif" font-size="55.48" fill="#000">H</text>
<rect x="337.40" y="988.10" width="27.30" height="4.20" fill="#000"/>
<text transform="translate(473.72,636.37) scale(0.9896,1)" font-family="'DejaVu Sans',sans-serif" font-size="41.85" fill="#000">G</text>
<rect x="479.20" y="595.20" width="22.10" height="4.80" fill="#000"/>
<text transform="translate(504.82,644.50) scale(0.9000,1)" font-family="'DejaVu Sans',sans-serif" font-size="27.40" fill="#000">tot</text>
<text transform="translate(473.72,703.47) scale(0.9896,1)" font-family="'DejaVu Sans',sans-serif" font-size="41.85" fill="#000">G</text>
<rect x="479.20" y="662.30" width="22.10" height="4.80" fill="#000"/>
<text transform="translate(504.14,711.60) scale(0.9000,1)" font-family="'DejaVu Sans',sans-serif" font-size="27.40" fill="#000">e</text>
<text transform="translate(473.72,766.17) scale(0.9896,1)" font-family="'DejaVu Sans',sans-serif" font-size="41.85" fill="#000">G</text>
<rect x="479.20" y="725.00" width="22.10" height="4.80" fill="#000"/>
<text transform="translate(503.28,774.30) scale(0.9000,1)" font-family="'DejaVu Sans',sans-serif" font-size="27.40" fill="#000">p</text>
<text transform="translate(88.93,627.65) scale(0.8750,1)" font-family="'Liberation Sans',sans-serif" font-size="39.85" fill="#000">8</text>
<text transform="translate(88.93,715.91) scale(0.8750,1)" font-family="'Liberation Sans',sans-serif" font-size="39.85" fill="#000">6</text>
<text transform="translate(88.41,804.17) scale(0.8750,1)" font-family="'Liberation Sans',sans-serif" font-size="39.85" fill="#000">4</text>
<text transform="translate(89.19,892.43) scale(0.8750,1)" font-family="'Liberation Sans',sans-serif" font-size="39.85" fill="#000">2</text>
<text transform="translate(145.05,986.75) scale(1.1500,1)" font-family="IPAGothic,'Liberation Sans',sans-serif" font-size="39.00" fill="#000">1</text>
<text transform="translate(275.32,984.80) scale(0.8850,1)" font-family="'Liberation Sans',sans-serif" font-size="39.00" fill="#000">2</text>
<text transform="translate(406.41,984.80) scale(0.8850,1)" font-family="'Liberation Sans',sans-serif" font-size="39.00" fill="#000">3</text>
<text transform="translate(537.41,984.80) scale(0.8850,1)" font-family="'Liberation Sans',sans-serif" font-size="39.00" fill="#000">4</text>
<clipPath id="lclip2"><rect x="736.50" y="571.90" width="456.50" height="374.30"/></clipPath>
<g clip-path="url(#lclip2)" fill="none" stroke-linejoin="round" stroke-linecap="round">
<polyline points="762.0,693.4 762.0,694.4 762.0,695.4 762.1,696.6 762.1,698.0 762.2,699.6 762.3,701.3 762.4,703.3 762.5,705.4 762.6,707.7 762.7,710.2 762.8,712.8 762.9,715.6 763.0,718.6 763.2,721.7 763.3,725.0 763.5,728.4 763.7,731.9 763.9,735.5 764.1,739.2 764.3,743.1 764.5,747.0 764.7,751.0 764.9,755.0 765.2,759.1 765.4,763.2 765.7,767.4 766.0,771.6 766.3,775.9 766.6,780.1 766.9,784.3 767.2,788.5 767.5,792.7 767.8,796.8 768.2,801.0 768.5,805.0 768.9,809.0 769.3,813.0 769.7,816.9 770.1,820.7 770.5,824.5 770.9,828.1 771.4,831.7 771.8,835.2 772.3,838.6 772.8,842.0 773.2,845.2 773.7,848.3 774.2,851.4 774.8,854.3 775.3,857.1 775.8,859.9 776.4,862.5 777.0,865.1 777.5,867.5 778.1,869.9 778.7,872.2 779.3,874.4 780.0,876.4 780.6,878.4 781.2,880.4 781.9,882.2 782.6,883.9 783.3,885.6 784.0,887.2 784.7,888.7 785.4,890.2 786.1,891.6 786.9,892.9 787.6,894.2 788.4,895.4 789.2,896.5 790.0,897.6 790.8,898.6 791.6,899.6 792.4,900.6 793.3,901.4 794.2,902.3 795.0,903.1 795.9,903.9 796.8,904.6 797.7,905.3 798.6,906.0 799.6,906.6 800.5,907.2 801.5,907.8 802.5,908.3 803.4,908.9 804.4,909.4 805.5,909.9 806.5,910.3 807.5,910.8 808.6,911.2 809.6,911.6 810.7,912.0 811.8,912.3 812.9,912.7 814.0,913.0 815.2,913.4 816.3,913.7 817.5,914.0 818.6,914.3 819.8,914.6 821.0,914.9 822.2,915.1 823.5,915.4 824.7,915.6 825.9,915.9 827.2,916.1 828.5,916.3 829.8,916.5 831.1,916.7 832.4,916.9 833.7,917.1 835.1,917.3 836.4,917.5 837.8,917.6 839.2,917.8 840.6,918.0 842.0,918.1 843.4,918.3 844.9,918.4 846.3,918.6 847.8,918.7 849.3,918.8 850.8,918.9 852.3,919.1 853.8,919.2 855.4,919.3 856.9,919.4 858.5,919.5 860.1,919.6 861.7,919.7 863.3,919.8 864.9,919.9 866.5,920.0 868.2,920.0 869.9,920.1 871.5,920.2 873.2,920.3 874.9,920.3 876.7,920.4 878.4,920.4 880.1,920.5 881.9,920.6 883.7,920.6 885.5,920.7 887.3,920.7 889.1,920.8 890.9,920.8 892.8,920.9 894.7,920.9 896.5,920.9 898.4,921.0 900.3,921.0 902.3,921.0 904.2,921.1 906.2,921.1 908.1,921.1 910.1,921.2 912.1,921.2 914.1,921.2 916.1,921.2 918.2,921.3 920.2,921.3 922.3,921.3 924.4,921.3 926.5,921.3 928.6,921.3 930.7,921.4 932.9,921.4 935.0,921.4 937.2,921.4 939.4,921.4 941.6,921.4 943.8,921.4 946.0,921.5 948.3,921.5 950.5,921.5 952.8,921.5 955.1,921.5 957.4,921.5 959.7,921.5 962.0,921.5 964.4,921.5 966.8,921.5 969.1,921.5 971.5,921.5 973.9,921.5 976.4,921.5 978.8,921.5 981.3,921.5 983.7,921.6 986.2,921.6 988.7,921.6 991.2,921.6 993.8,921.6 996.3,921.6 998.9,921.6 1001.4,921.6 1004.0,921.6 1006.6,921.6 1009.3,921.6 1011.9,921.6 1014.6,921.6 1017.2,921.6 1019.9,921.6 1022.6,921.6 1025.3,921.6 1028.0,921.6 1030.8,921.6 1033.5,921.6 1036.3,921.6 1039.1,921.6 1041.9,921.6 1044.7,921.6 1047.6,921.6 1050.4,921.6 1053.3,921.6 1056.2,921.6 1059.1,921.6 1062.0,921.6 1064.9,921.6 1067.9,921.6 1070.8,921.6 1073.8,921.6 1076.8,921.6 1079.8,921.6 1082.8,921.6 1085.9,921.6 1088.9,921.6 1092.0,921.6 1095.1,921.6 1098.2,921.6 1101.3,921.6 1104.4,921.6 1107.6,921.6 1110.7,921.6 1113.9,921.6 1117.1,921.6 1120.3,921.6 1123.5,921.6 1126.8,921.6 1130.0,921.6 1133.3,921.6 1136.6,921.6 1139.9,921.6 1143.2,921.6 1146.6,921.6 1149.9,921.6 1153.3,921.6 1156.7,921.6 1160.1,921.6 1163.5,921.6 1165.3,921.6" stroke="#000000" stroke-width="3.50"/>
<polyline points="788.2,653.4 788.3,654.0 788.3,655.0 788.3,656.3 788.4,657.9 788.4,659.6 788.5,661.6 788.6,663.8 788.6,666.3 788.7,669.0 788.8,671.8 788.9,674.9 789.0,678.2 789.1,681.7 789.3,685.4 789.4,689.2 789.6,693.2 789.7,697.3 789.9,701.6 790.0,706.0 790.2,710.5 790.4,715.1 790.6,719.8 790.8,724.5 791.0,729.3 791.3,734.2 791.5,739.0 791.7,743.9 792.0,748.8 792.3,753.7 792.5,758.5 792.8,763.3 793.1,768.1 793.4,772.9 793.8,777.6 794.1,782.2 794.4,786.7 794.8,791.2 795.1,795.6 795.5,799.9 795.9,804.1 796.3,808.2 796.7,812.2 797.1,816.1 797.5,819.9 797.9,823.5 798.4,827.1 798.8,830.6 799.3,834.0 799.7,837.2 800.2,840.4 800.7,843.4 801.2,846.3 801.8,849.2 802.3,851.9 802.8,854.5 803.4,857.1 803.9,859.5 804.5,861.9 805.1,864.1 805.7,866.3 806.3,868.4 806.9,870.4 807.5,872.3 808.2,874.2 808.8,875.9 809.5,877.6 810.2,879.3 810.9,880.8 811.6,882.3 812.3,883.7 813.0,885.1 813.7,886.4 814.5,887.7 815.2,888.9 816.0,890.1 816.8,891.2 817.6,892.3 818.4,893.3 819.2,894.3 820.0,895.2 820.8,896.1 821.7,897.0 822.6,897.8 823.4,898.6 824.3,899.4 825.2,900.2 826.1,900.9 827.0,901.6 828.0,902.2 828.9,902.9 829.9,903.5 830.9,904.1 831.8,904.7 832.8,905.2 833.9,905.8 834.9,906.3 835.9,906.8 836.9,907.3 838.0,907.7 839.1,908.2 840.2,908.6 841.3,909.0 842.4,909.5 843.5,909.9 844.6,910.3 845.8,910.6 846.9,911.0 848.1,911.4 849.3,911.7 850.5,912.0 851.7,912.4 852.9,912.7 854.1,913.0 855.4,913.3 856.6,913.6 857.9,913.9 859.2,914.1 860.5,914.4 861.8,914.7 863.1,914.9 864.5,915.2 865.8,915.4 867.2,915.6 868.5,915.8 869.9,916.1 871.3,916.3 872.7,916.5 874.2,916.7 875.6,916.9 877.1,917.0 878.5,917.2 880.0,917.4 881.5,917.6 883.0,917.7 884.5,917.9 886.0,918.0 887.6,918.2 889.1,918.3 890.7,918.5 892.3,918.6 893.9,918.7 895.5,918.9 897.1,919.0 898.8,919.1 900.4,919.2 902.1,919.3 903.8,919.4 905.4,919.5 907.2,919.6 908.9,919.7 910.6,919.8 912.3,919.9 914.1,919.9 915.9,920.0 917.7,920.1 919.5,920.2 921.3,920.2 923.1,920.3 924.9,920.4 926.8,920.4 928.6,920.5 930.5,920.5 932.4,920.6 934.3,920.6 936.2,920.7 938.2,920.7 940.1,920.8 942.1,920.8 944.1,920.9 946.1,920.9 948.1,920.9 950.1,921.0 952.1,921.0 954.1,921.0 956.2,921.1 958.3,921.1 960.4,921.1 962.5,921.2 964.6,921.2 966.7,921.2 968.8,921.2 971.0,921.3 973.2,921.3 975.4,921.3 977.5,921.3 979.8,921.3 982.0,921.3 984.2,921.4 986.5,921.4 988.7,921.4 991.0,921.4 993.3,921.4 995.6,921.4 998.0,921.4 1000.3,921.4 1002.6,921.5 1005.0,921.5 1007.4,921.5 1009.8,921.5 1012.2,921.5 1014.6,921.5 1017.1,921.5 1019.5,921.5 1022.0,921.5 1024.4,921.5 1026.9,921.5 1029.5,921.5 1032.0,921.5 1034.5,921.5 1037.1,921.5 1039.6,921.5 1042.2,921.5 1044.8,921.6 1047.4,921.6 1050.0,921.6 1052.7,921.6 1055.3,921.6 1058.0,921.6 1060.7,921.6 1063.4,921.6 1066.1,921.6 1068.8,921.6 1071.5,921.6 1074.3,921.6 1077.1,921.6 1079.8,921.6 1082.6,921.6 1085.4,921.6 1088.3,921.6 1091.1,921.6 1094.0,921.6 1096.8,921.6 1099.7,921.6 1102.6,921.6 1105.5,921.6 1108.5,921.6 1111.4,921.6 1114.4,921.6 1117.3,921.6 1120.3,921.6 1123.3,921.6 1126.3,921.6 1129.4,921.6 1132.4,921.6 1135.5,921.6 1138.6,921.6 1141.7,921.6 1144.8,921.6 1147.9,921.6 1151.0,921.6 1154.2,921.6 1157.3,921.6 1160.5,921.6 1163.7,921.6 1165.3,921.6" stroke="#ff0000" stroke-width="3.50"/>
<polyline points="814.2,617.8 814.3,618.3 814.3,619.4 814.3,620.7 814.4,622.2 814.4,623.9 814.5,625.9 814.5,628.1 814.6,630.6 814.7,633.2 814.8,636.1 814.9,639.2 815.0,642.5 815.1,646.1 815.2,649.8 815.3,653.7 815.5,657.7 815.6,662.0 815.8,666.4 815.9,670.9 816.1,675.5 816.3,680.3 816.4,685.2 816.6,690.1 816.8,695.2 817.1,700.3 817.3,705.4 817.5,710.6 817.7,715.9 818.0,721.1 818.2,726.3 818.5,731.6 818.8,736.8 819.1,741.9 819.4,747.1 819.7,752.2 820.0,757.2 820.3,762.2 820.6,767.0 821.0,771.9 821.3,776.6 821.7,781.2 822.1,785.7 822.5,790.1 822.8,794.5 823.2,798.7 823.7,802.8 824.1,806.8 824.5,810.7 825.0,814.4 825.4,818.1 825.9,821.6 826.3,825.0 826.8,828.3 827.3,831.5 827.8,834.6 828.3,837.6 828.9,840.5 829.4,843.3 829.9,845.9 830.5,848.5 831.0,851.0 831.6,853.4 832.2,855.7 832.8,858.0 833.4,860.1 834.0,862.2 834.7,864.1 835.3,866.1 836.0,867.9 836.6,869.7 837.3,871.4 838.0,873.0 838.7,874.6 839.4,876.2 840.1,877.7 840.8,879.1 841.5,880.5 842.3,881.8 843.0,883.1 843.8,884.3 844.6,885.5 845.4,886.7 846.2,887.8 847.0,888.9 847.8,889.9 848.7,890.9 849.5,891.9 850.4,892.8 851.3,893.7 852.1,894.6 853.0,895.5 853.9,896.3 854.8,897.1 855.8,897.9 856.7,898.6 857.7,899.3 858.6,900.0 859.6,900.7 860.6,901.4 861.6,902.0 862.6,902.6 863.6,903.2 864.6,903.8 865.7,904.3 866.7,904.9 867.8,905.4 868.9,905.9 870.0,906.4 871.1,906.9 872.2,907.3 873.3,907.8 874.5,908.2 875.6,908.6 876.8,909.0 877.9,909.4 879.1,909.8 880.3,910.2 881.5,910.5 882.7,910.9 884.0,911.2 885.2,911.5 886.5,911.8 887.7,912.1 889.0,912.4 890.3,912.7 891.6,913.0 892.9,913.3 894.3,913.5 895.6,913.8 897.0,914.0 898.3,914.3 899.7,914.5 901.1,914.7 902.5,914.9 903.9,915.2 905.3,915.4 906.8,915.6 908.2,915.8 909.7,915.9 911.2,916.1 912.6,916.3 914.1,916.5 915.7,916.6 917.2,916.8 918.7,917.0 920.3,917.1 921.8,917.3 923.4,917.4 925.0,917.6 926.6,917.7 928.2,917.8 929.8,918.0 931.5,918.1 933.1,918.2 934.8,918.3 936.4,918.4 938.1,918.5 939.8,918.7 941.5,918.8 943.3,918.9 945.0,919.0 946.8,919.1 948.5,919.2 950.3,919.2 952.1,919.3 953.9,919.4 955.7,919.5 957.5,919.6 959.4,919.6 961.2,919.7 963.1,919.8 965.0,919.9 966.9,919.9 968.8,920.0 970.7,920.1 972.6,920.1 974.5,920.2 976.5,920.2 978.5,920.3 980.4,920.3 982.4,920.4 984.4,920.4 986.5,920.5 988.5,920.5 990.5,920.6 992.6,920.6 994.7,920.7 996.8,920.7 998.9,920.7 1001.0,920.8 1003.1,920.8 1005.2,920.8 1007.4,920.9 1009.6,920.9 1011.7,920.9 1013.9,921.0 1016.1,921.0 1018.3,921.0 1020.6,921.1 1022.8,921.1 1025.1,921.1 1027.3,921.1 1029.6,921.1 1031.9,921.2 1034.2,921.2 1036.6,921.2 1038.9,921.2 1041.2,921.2 1043.6,921.3 1046.0,921.3 1048.4,921.3 1050.8,921.3 1053.2,921.3 1055.6,921.3 1058.1,921.3 1060.5,921.4 1063.0,921.4 1065.5,921.4 1068.0,921.4 1070.5,921.4 1073.0,921.4 1075.5,921.4 1078.1,921.4 1080.6,921.4 1083.2,921.4 1085.8,921.5 1088.4,921.5 1091.0,921.5 1093.7,921.5 1096.3,921.5 1099.0,921.5 1101.7,921.5 1104.3,921.5 1107.0,921.5 1109.8,921.5 1112.5,921.5 1115.2,921.5 1118.0,921.5 1120.7,921.5 1123.5,921.5 1126.3,921.5 1129.1,921.5 1132.0,921.5 1134.8,921.5 1137.6,921.6 1140.5,921.6 1143.4,921.6 1146.3,921.6 1149.2,921.6 1152.1,921.6 1155.0,921.6 1158.0,921.6 1160.9,921.6 1163.9,921.6 1165.3,921.6" stroke="#0000ff" stroke-width="3.50"/>
</g>
<rect x="736.50" y="571.90" width="456.50" height="374.30" fill="none" stroke="#000" stroke-width="2.80"/>
<path d="M774.90,946.20v-7.60M905.57,946.20v-7.60M1036.24,946.20v-7.60M1166.91,946.20v-7.60M840.24,946.20v-4.50M970.90,946.20v-4.50M1101.58,946.20v-4.50M736.50,621.90h7.60M736.50,721.80h7.60M736.50,821.70h7.60M736.50,921.60h7.60M736.50,671.85h4.50M736.50,771.75h4.50M736.50,871.65h4.50" stroke="#000" stroke-width="2.60" fill="none"/>
<path d="M948.60,637.10H1012.00" stroke="#000" stroke-width="2.70"/>
<path d="M948.60,694.60H1012.00" stroke="#f00" stroke-width="2.70"/>
<path d="M948.60,751.70H1012.00" stroke="#00f" stroke-width="2.70"/>
<text transform="translate(604.96,596.23) scale(1.1658,1)" font-family="'DejaVu Sans',sans-serif" font-size="65.96" fill="#000">(</text>
<text transform="translate(631.44,592.39) scale(0.9148,1)" font-family="'DejaVu Sans',sans-serif" font-size="60.90" fill="#000">d</text>
<text transform="translate(663.55,596.23) scale(1.1658,1)" font-family="'DejaVu Sans',sans-serif" font-size="65.96" fill="#000">)</text>
<text transform="translate(632.52,797.60) scale(1.0231,1)" font-family="'DejaVu Sans',sans-serif" font-size="64.93" fill="#000">F</text>
<rect x="638.60" y="735.60" width="27.30" height="4.60" fill="#000"/>
<text transform="translate(942.23,1041.70) scale(0.9182,1)" font-family="'DejaVu Sans',sans-serif" font-size="55.48" fill="#000">H</text>
<rect x="947.80" y="988.10" width="27.60" height="4.20" fill="#000"/>
<text transform="translate(1032.39,654.20) scale(0.9054,1)" font-family="'Liberation Sans',sans-serif" font-size="45.67" fill="#000">R</text>
<text transform="translate(1062.70,654.20) scale(0.8758,1)" font-family="'Liberation Sans',sans-serif" font-size="45.67" fill="#000">=</text>
<text transform="translate(1085.88,654.29) scale(0.8800,1)" font-family="'Liberation Sans',sans-serif" font-size="45.93" fill="#000">0</text>
<text transform="translate(1107.23,654.20) scale(0.9656,1)" font-family="'Liberation Sans',sans-serif" font-size="45.67" fill="#000">.</text>
<text transform="translate(1118.77,654.29) scale(0.9357,1)" font-family="'Liberation Sans',sans-serif" font-size="45.93" fill="#000">8</text>
<rect x="1035.20" y="612.80" width="23.90" height="3.40" fill="#000"/>
<text transform="translate(1032.39,709.00) scale(0.9054,1)" font-family="'Liberation Sans',sans-serif" font-size="45.67" fill="#000">R</text>
<text transform="translate(1062.70,709.00) scale(0.8758,1)" font-family="'Liberation Sans',sans-serif" font-size="45.67" fill="#000">=</text>
<text transform="translate(1085.07,711.24) scale(1.1500,1)" font-family="IPAGothic,'Liberation Sans',sans-serif" font-size="44.86" fill="#000">1</text>
<text transform="translate(1107.23,709.00) scale(0.9656,1)" font-family="'Liberation Sans',sans-serif" font-size="45.67" fill="#000">.</text>
<text transform="translate(1118.91,709.09) scale(0.9210,1)" font-family="'Liberation Sans',sans-serif" font-size="45.93" fill="#000">0</text>
<rect x="1035.20" y="667.60" width="23.90" height="3.40" fill="#000"/>
<text transform="translate(1032.39,764.30) scale(0.9141,1)" font-family="'Liberation Sans',sans-serif" font-size="45.24" fill="#000">R</text>
<text transform="translate(1062.70,764.30) scale(0.8842,1)" font-family="'Liberation Sans',sans-serif" font-size="45.24" fill="#000">=</text>
<text transform="translate(1085.22,766.52) scale(1.1500,1)" font-family="IPAGothic,'Liberation Sans',sans-serif" font-size="44.43" fill="#000">1</text>
<text transform="translate(1107.23,764.30) scale(0.9749,1)" font-family="'Liberation Sans',sans-serif" font-size="45.24" fill="#000">.</text>
<text transform="translate(1118.38,764.30) scale(0.9786,1)" font-family="'Liberation Sans',sans-serif" font-size="45.37" fill="#000">2</text>
<rect x="1035.20" y="723.20" width="23.90" height="3.40" fill="#000"/>
<text transform="translate(689.76,633.35) scale(0.8750,1)" font-family="'Liberation Sans',sans-serif" font-size="39.85" fill="#000">30</text>
<text transform="translate(689.76,733.25) scale(0.8750,1)" font-family="'Liberation Sans',sans-serif" font-size="39.85" fill="#000">20</text>
<text transform="translate(689.21,835.14) scale(1.1500,1)" font-family="IPAGothic,'Liberation Sans',sans-serif" font-size="39.85" fill="#000">1</text>
<text transform="translate(709.16,833.15) scale(0.8750,1)" font-family="'Liberation Sans',sans-serif" font-size="39.85" fill="#000">0</text>
<text transform="translate(709.16,933.05) scale(0.8750,1)" font-family="'Liberation Sans',sans-serif" font-size="39.85" fill="#000">0</text>
<text transform="translate(765.45,986.75) scale(1.1500,1)" font-family="IPAGothic,'Liberation Sans',sans-serif" font-size="39.00" fill="#000">1</text>
<text transform="translate(895.39,984.80) scale(0.8850,1)" font-family="'Liberation Sans',sans-serif" font-size="39.00" fill="#000">2</text>
<text transform="translate(1026.15,984.80) scale(0.8850,1)" font-family="'Liberation Sans',sans-serif" font-size="39.00" fill="#000">3</text>
<text transform="translate(1156.82,984.80) scale(0.8850,1)" font-family="'Liberation Sans',sans-serif" font-size="39.00" fill="#000">4</text>
<clipPath id="lclip3"><rect x="1351.20" y="567.60" width="464.90" height="377.90"/></clipPath>
<g clip-path="url(#lclip3)" fill="none" stroke-linejoin="round" stroke-linecap="round">
<polyline points="1379.2,610.4 1379.4,611.0 1380.0,613.0 1380.6,615.0 1381.2,617.0 1381.9,619.0 1382.6,621.0 1383.4,622.9 1384.1,624.8 1384.9,626.7 1385.8,628.6 1386.6,630.4 1387.5,632.3 1388.4,634.1 1389.3,635.8 1390.2,637.6 1391.2,639.4 1392.2,641.1 1393.2,642.8 1394.2,644.5 1395.3,646.2 1396.4,647.8 1397.5,649.5 1398.6,651.1 1399.7,652.7 1400.9,654.3 1402.1,655.8 1403.3,657.4 1404.5,658.9 1405.8,660.4 1407.0,661.9 1408.3,663.4 1409.6,664.8 1410.9,666.3 1412.3,667.7 1413.6,669.1 1415.0,670.5 1416.4,671.9 1417.8,673.2 1419.2,674.6 1420.6,675.9 1422.1,677.2 1423.5,678.5 1425.0,679.8 1426.5,681.1 1428.0,682.4 1429.5,683.6 1431.0,684.8 1432.6,686.1 1434.1,687.3 1435.7,688.5 1437.2,689.7 1438.8,690.8 1440.4,692.0 1442.0,693.2 1443.6,694.3 1445.3,695.5 1446.9,696.6 1448.5,697.7 1450.2,698.8 1451.8,699.9 1453.5,701.0 1455.2,702.1 1456.8,703.1 1458.5,704.2 1460.2,705.3 1461.9,706.3 1463.6,707.4 1465.3,708.4 1467.0,709.4 1468.7,710.5 1470.4,711.5 1472.2,712.5 1473.9,713.5 1475.6,714.5 1477.4,715.5 1479.1,716.5 1480.9,717.5 1482.6,718.4 1484.4,719.4 1486.1,720.4 1487.9,721.3 1489.6,722.3 1491.4,723.2 1493.2,724.2 1495.0,725.1 1496.8,726.0 1498.5,726.9 1500.3,727.9 1502.1,728.8 1503.9,729.7 1505.7,730.6 1507.5,731.5 1509.3,732.4 1511.1,733.3 1513.0,734.1 1514.8,735.0 1516.6,735.9 1518.4,736.8 1520.2,737.6 1522.1,738.5 1523.9,739.4 1525.7,740.2 1527.5,741.1 1529.4,741.9 1531.2,742.8 1533.1,743.6 1534.9,744.4 1536.7,745.3 1538.6,746.1 1540.4,746.9 1542.3,747.8 1544.1,748.6 1546.0,749.4 1547.8,750.2 1549.7,751.0 1551.5,751.8 1553.4,752.6 1555.2,753.4 1557.1,754.2 1558.9,755.0 1560.8,755.8 1562.7,756.6 1564.5,757.4 1566.4,758.2 1568.2,759.0 1570.1,759.8 1571.9,760.6 1573.8,761.4 1575.7,762.1 1577.5,762.9 1579.4,763.7 1581.2,764.5 1583.1,765.3 1585.0,766.0 1586.8,766.8 1588.7,767.6 1590.5,768.4 1592.4,769.1 1594.2,769.9 1596.1,770.7 1598.0,771.4 1599.8,772.2 1601.7,773.0 1603.5,773.7 1605.4,774.5 1607.2,775.2 1609.1,776.0 1610.9,776.8 1612.8,777.5 1614.6,778.3 1616.5,779.0 1618.4,779.8 1620.2,780.5 1622.1,781.3 1623.9,782.0 1625.8,782.8 1627.6,783.5 1629.5,784.3 1631.3,785.0 1633.2,785.8 1635.0,786.5 1636.9,787.3 1638.8,788.0 1640.6,788.8 1642.5,789.5 1644.3,790.2 1646.2,791.0 1648.0,791.7 1649.9,792.5 1651.7,793.2 1653.6,793.9 1655.4,794.7 1657.3,795.4 1659.1,796.1 1661.0,796.9 1662.9,797.6 1664.7,798.3 1666.6,799.1 1668.4,799.8 1670.3,800.5 1672.1,801.3 1674.0,802.0 1675.8,802.7 1677.7,803.5 1679.5,804.2 1681.4,804.9 1683.3,805.6 1685.1,806.4 1687.0,807.1 1688.8,807.8 1690.7,808.5 1692.5,809.3 1694.4,810.0 1696.2,810.7 1698.1,811.4 1700.0,812.2 1701.8,812.9 1703.7,813.6 1705.5,814.3 1707.4,815.0 1709.2,815.8 1711.1,816.5 1713.0,817.2 1714.8,817.9 1716.7,818.6 1718.5,819.4 1720.4,820.1 1722.3,820.8 1724.1,821.5 1726.0,822.2 1727.8,823.0 1729.7,823.7 1731.6,824.4 1733.4,825.1 1735.3,825.8 1737.2,826.6 1739.0,827.3 1740.9,828.0 1742.7,828.7 1744.6,829.4 1746.5,830.1 1748.3,830.9 1750.2,831.6 1752.1,832.3 1753.9,833.0 1755.8,833.7 1757.7,834.5 1759.5,835.2 1761.4,835.9 1763.3,836.6 1765.2,837.3 1767.0,838.0 1768.9,838.8 1770.8,839.5 1772.6,840.2 1774.5,840.9 1776.4,841.6 1778.2,842.4 1780.1,843.1 1782.0,843.8 1783.9,844.5 1785.7,845.3 1787.6,846.0 1789.5,846.7 1791.4,847.4 1793.2,848.1 1795.1,848.9 1797.0,849.6 1798.9,850.3 1800.8,851.0 1802.6,851.8 1804.5,852.5 1806.4,853.2 1808.3,853.9 1810.2,854.7 1812.1,855.4 1813.9,856.1 1815.8,856.8 1816.2,857.0" stroke="#000000" stroke-width="3.50"/>
<polyline points="1407.4,624.6 1407.5,625.0 1408.1,626.8 1408.7,628.6 1409.4,630.4 1410.1,632.2 1410.8,633.9 1411.5,635.7 1412.3,637.4 1413.1,639.1 1413.9,640.8 1414.7,642.5 1415.5,644.1 1416.4,645.8 1417.2,647.4 1418.1,649.1 1419.1,650.7 1420.0,652.3 1420.9,653.9 1421.9,655.4 1422.9,657.0 1423.9,658.5 1425.0,660.0 1426.0,661.6 1427.1,663.1 1428.2,664.6 1429.3,666.0 1430.4,667.5 1431.5,668.9 1432.7,670.4 1433.8,671.8 1435.0,673.2 1436.2,674.6 1437.4,676.0 1438.6,677.4 1439.9,678.7 1441.1,680.1 1442.4,681.4 1443.7,682.8 1445.0,684.1 1446.3,685.4 1447.6,686.7 1449.0,688.0 1450.3,689.2 1451.7,690.5 1453.0,691.7 1454.4,693.0 1455.8,694.2 1457.2,695.4 1458.6,696.6 1460.1,697.8 1461.5,699.0 1462.9,700.2 1464.4,701.3 1465.9,702.5 1467.3,703.6 1468.8,704.8 1470.3,705.9 1471.8,707.0 1473.3,708.1 1474.9,709.2 1476.4,710.3 1477.9,711.4 1479.5,712.5 1481.0,713.5 1482.6,714.6 1484.1,715.6 1485.7,716.6 1487.3,717.7 1488.8,718.7 1490.4,719.7 1492.0,720.7 1493.6,721.7 1495.2,722.7 1496.8,723.6 1498.4,724.6 1500.0,725.6 1501.6,726.5 1503.3,727.5 1504.9,728.4 1506.5,729.3 1508.2,730.3 1509.8,731.2 1511.5,732.1 1513.1,733.0 1514.8,733.9 1516.4,734.8 1518.1,735.7 1519.8,736.6 1521.5,737.4 1523.1,738.3 1524.8,739.2 1526.5,740.0 1528.2,740.9 1529.9,741.7 1531.6,742.5 1533.3,743.4 1535.0,744.2 1536.7,745.0 1538.4,745.8 1540.1,746.6 1541.8,747.4 1543.5,748.2 1545.2,749.0 1547.0,749.8 1548.7,750.6 1550.4,751.4 1552.1,752.2 1553.9,752.9 1555.6,753.7 1557.3,754.5 1559.1,755.2 1560.8,756.0 1562.6,756.7 1564.3,757.5 1566.0,758.2 1567.8,759.0 1569.5,759.7 1571.3,760.5 1573.0,761.2 1574.8,761.9 1576.5,762.6 1578.3,763.4 1580.0,764.1 1581.8,764.8 1583.5,765.5 1585.3,766.2 1587.0,767.0 1588.8,767.7 1590.5,768.4 1592.3,769.1 1594.0,769.8 1595.8,770.5 1597.5,771.2 1599.3,771.9 1601.0,772.6 1602.8,773.3 1604.5,774.0 1606.3,774.7 1608.0,775.4 1609.8,776.1 1611.5,776.8 1613.3,777.4 1615.0,778.1 1616.8,778.8 1618.5,779.5 1620.3,780.2 1622.0,780.9 1623.7,781.5 1625.5,782.2 1627.2,782.9 1629.0,783.6 1630.7,784.3 1632.5,784.9 1634.2,785.6 1636.0,786.3 1637.7,787.0 1639.5,787.6 1641.2,788.3 1643.0,789.0 1644.7,789.6 1646.5,790.3 1648.2,791.0 1650.0,791.6 1651.7,792.3 1653.4,793.0 1655.2,793.6 1656.9,794.3 1658.7,795.0 1660.4,795.6 1662.2,796.3 1663.9,796.9 1665.7,797.6 1667.4,798.3 1669.2,798.9 1670.9,799.6 1672.6,800.2 1674.4,800.9 1676.1,801.6 1677.9,802.2 1679.6,802.9 1681.4,803.5 1683.1,804.2 1684.9,804.8 1686.6,805.5 1688.3,806.2 1690.1,806.8 1691.8,807.5 1693.6,808.1 1695.3,808.8 1697.1,809.4 1698.8,810.1 1700.6,810.8 1702.3,811.4 1704.1,812.1 1705.8,812.7 1707.5,813.4 1709.3,814.0 1711.0,814.7 1712.8,815.4 1714.5,816.0 1716.3,816.7 1718.0,817.3 1719.8,818.0 1721.5,818.7 1723.3,819.3 1725.0,820.0 1726.7,820.6 1728.5,821.3 1730.2,822.0 1732.0,822.6 1733.7,823.3 1735.5,824.0 1737.2,824.6 1739.0,825.3 1740.7,826.0 1742.5,826.6 1744.2,827.3 1746.0,828.0 1747.7,828.6 1749.4,829.3 1751.2,830.0 1752.9,830.7 1754.7,831.3 1756.4,832.0 1758.2,832.7 1759.9,833.4 1761.7,834.0 1763.4,834.7 1765.2,835.4 1766.9,836.1 1768.7,836.8 1770.4,837.5 1772.2,838.1 1773.9,838.8 1775.7,839.5 1777.4,840.2 1779.2,840.9 1780.9,841.6 1782.7,842.3 1784.4,843.0 1786.2,843.7 1787.9,844.4 1789.7,845.1 1791.4,845.8 1793.2,846.5 1794.9,847.2 1796.7,847.9 1798.4,848.6 1800.2,849.3 1801.9,850.1 1803.7,850.8 1805.4,851.5 1807.2,852.2 1808.9,852.9 1810.7,853.7 1812.4,854.4 1814.2,855.1 1816.0,855.8" stroke="#ff0000" stroke-width="3.50"/>
<polyline points="1435.8,639.3 1436.6,641.2 1437.3,642.8 1438.0,644.5 1438.8,646.1 1439.6,647.7 1440.3,649.3 1441.1,650.9 1441.9,652.5 1442.8,654.0 1443.6,655.6 1444.5,657.1 1445.3,658.7 1446.2,660.2 1447.1,661.7 1448.0,663.2 1448.9,664.6 1449.9,666.1 1450.8,667.6 1451.8,669.0 1452.8,670.4 1453.8,671.9 1454.8,673.3 1455.8,674.7 1456.8,676.1 1457.8,677.4 1458.9,678.8 1460.0,680.1 1461.0,681.5 1462.1,682.8 1463.2,684.1 1464.3,685.5 1465.5,686.8 1466.6,688.0 1467.7,689.3 1468.9,690.6 1470.1,691.9 1471.2,693.1 1472.4,694.3 1473.6,695.6 1474.8,696.8 1476.1,698.0 1477.3,699.2 1478.5,700.4 1479.8,701.6 1481.0,702.8 1482.3,703.9 1483.6,705.1 1484.8,706.2 1486.1,707.4 1487.4,708.5 1488.7,709.6 1490.1,710.7 1491.4,711.8 1492.7,712.9 1494.1,714.0 1495.4,715.1 1496.8,716.1 1498.1,717.2 1499.5,718.2 1500.9,719.3 1502.3,720.3 1503.7,721.3 1505.1,722.3 1506.5,723.4 1507.9,724.4 1509.3,725.4 1510.7,726.3 1512.2,727.3 1513.6,728.3 1515.0,729.3 1516.5,730.2 1517.9,731.2 1519.4,732.1 1520.9,733.0 1522.3,734.0 1523.8,734.9 1525.3,735.8 1526.8,736.7 1528.3,737.6 1529.8,738.5 1531.3,739.4 1532.8,740.3 1534.3,741.2 1535.8,742.0 1537.3,742.9 1538.9,743.8 1540.4,744.6 1541.9,745.5 1543.5,746.3 1545.0,747.1 1546.6,748.0 1548.1,748.8 1549.7,749.6 1551.2,750.4 1552.8,751.2 1554.3,752.0 1555.9,752.8 1557.5,753.6 1559.1,754.4 1560.6,755.2 1562.2,756.0 1563.8,756.7 1565.4,757.5 1567.0,758.3 1568.6,759.0 1570.2,759.8 1571.8,760.5 1573.4,761.3 1575.0,762.0 1576.6,762.8 1578.2,763.5 1579.8,764.2 1581.4,764.9 1583.0,765.7 1584.6,766.4 1586.2,767.1 1587.8,767.8 1589.5,768.5 1591.1,769.2 1592.7,769.9 1594.3,770.6 1596.0,771.3 1597.6,772.0 1599.2,772.7 1600.8,773.4 1602.5,774.1 1604.1,774.8 1605.7,775.4 1607.3,776.1 1609.0,776.8 1610.6,777.5 1612.2,778.1 1613.8,778.8 1615.5,779.5 1617.1,780.1 1618.7,780.8 1620.4,781.5 1622.0,782.1 1623.6,782.8 1625.3,783.4 1626.9,784.1 1628.5,784.7 1630.2,785.4 1631.8,786.0 1633.4,786.7 1635.0,787.3 1636.7,787.9 1638.3,788.6 1639.9,789.2 1641.6,789.8 1643.2,790.5 1644.8,791.1 1646.5,791.7 1648.1,792.4 1649.7,793.0 1651.4,793.6 1653.0,794.2 1654.6,794.9 1656.3,795.5 1657.9,796.1 1659.5,796.7 1661.2,797.3 1662.8,798.0 1664.4,798.6 1666.1,799.2 1667.7,799.8 1669.4,800.4 1671.0,801.0 1672.6,801.6 1674.3,802.3 1675.9,802.9 1677.5,803.5 1679.2,804.1 1680.8,804.7 1682.4,805.3 1684.1,805.9 1685.7,806.5 1687.3,807.1 1689.0,807.7 1690.6,808.3 1692.2,808.9 1693.9,809.5 1695.5,810.1 1697.2,810.7 1698.8,811.3 1700.4,811.9 1702.1,812.6 1703.7,813.2 1705.3,813.8 1707.0,814.4 1708.6,815.0 1710.2,815.6 1711.9,816.2 1713.5,816.8 1715.1,817.4 1716.8,818.0 1718.4,818.6 1720.0,819.2 1721.7,819.8 1723.3,820.4 1724.9,821.0 1726.6,821.6 1728.2,822.2 1729.8,822.8 1731.5,823.4 1733.1,824.0 1734.7,824.6 1736.4,825.2 1738.0,825.8 1739.6,826.4 1741.3,827.1 1742.9,827.7 1744.5,828.3 1746.2,828.9 1747.8,829.5 1749.4,830.1 1751.1,830.7 1752.7,831.4 1754.3,832.0 1756.0,832.6 1757.6,833.2 1759.2,833.8 1760.8,834.5 1762.5,835.1 1764.1,835.7 1765.7,836.3 1767.4,837.0 1769.0,837.6 1770.6,838.2 1772.3,838.8 1773.9,839.5 1775.5,840.1 1777.1,840.7 1778.8,841.4 1780.4,842.0 1782.0,842.7 1783.6,843.3 1785.3,844.0 1786.9,844.6 1788.5,845.3 1790.1,845.9 1791.8,846.6 1793.4,847.2 1795.0,847.9 1796.6,848.5 1798.3,849.2 1799.9,849.9 1801.5,850.5 1803.1,851.2 1804.7,851.9 1806.4,852.5 1808.0,853.2 1809.6,853.9 1811.2,854.6 1812.9,855.2 1814.5,855.9 1816.1,856.6" stroke="#0000ff" stroke-width="3.50"/>
</g>
<rect x="1351.20" y="567.60" width="464.90" height="377.90" fill="none" stroke="#000" stroke-width="2.80"/>
<path d="M1393.70,945.50v-7.60M1534.10,945.50v-7.60M1674.50,945.50v-7.60M1814.90,945.50v-7.60M1463.90,945.50v-4.50M1604.30,945.50v-4.50M1744.70,945.50v-4.50M1351.20,617.60h7.60M1351.20,718.80h7.60M1351.20,820.00h7.60M1351.20,921.20h7.60M1351.20,668.20h4.50M1351.20,769.40h4.50M1351.20,870.60h4.50" stroke="#000" stroke-width="2.60" fill="none"/>
<path d="M1610.00,618.20H1655.90" stroke="#000" stroke-width="2.70"/>
<path d="M1610.00,682.30H1655.90" stroke="#f00" stroke-width="2.70"/>
<path d="M1610.00,745.00H1655.90" stroke="#00f" stroke-width="2.70"/>
<text transform="translate(1241.07,593.69) scale(1.1760,1)" font-family="'DejaVu Sans',sans-serif" font-size="62.36" fill="#000">(</text>
<text transform="translate(1266.53,590.42) scale(0.9185,1)" font-family="'DejaVu Sans',sans-serif" font-size="58.78" fill="#000">e</text>
<text transform="translate(1296.18,593.69) scale(1.1475,1)" font-family="'DejaVu Sans',sans-serif" font-size="62.36" fill="#000">)</text>
<text transform="translate(1574.70,1041.70) scale(0.9053,1)" font-family="'DejaVu Sans',sans-serif" font-size="55.48" fill="#000">H</text>
<rect x="1580.20" y="988.10" width="27.20" height="4.20" fill="#000"/>
<text transform="translate(1476.73,551.30) scale(1.0133,1)" font-family="'DejaVu Sans',sans-serif" font-size="52.63" fill="#000">l</text>
<text transform="translate(1490.48,551.30) scale(0.9245,1)" font-family="'DejaVu Sans',sans-serif" font-size="51.96" fill="#000">n</text>
<text transform="translate(1520.17,551.30) scale(1.0243,1)" font-family="'DejaVu Sans',sans-serif" font-size="51.37" fill="#000">F</text>
<rect x="1525.30" y="503.20" width="20.90" height="3.70" fill="#000"/>
<text transform="translate(1548.93,547.86) scale(1.1837,1)" font-family="'DejaVu Sans',sans-serif" font-size="47.50" fill="#000">-</text>
<text transform="translate(1569.56,551.30) scale(0.8895,1)" font-family="'DejaVu Sans',sans-serif" font-size="51.37" fill="#000">A</text>
<text transform="translate(1601.42,561.30) scale(0.9203,1)" font-family="'DejaVu Sans',sans-serif" font-size="33.14" fill="#000">0</text>
<text transform="translate(1621.02,551.30) scale(0.9536,1)" font-family="'DejaVu Sans',sans-serif" font-size="51.37" fill="#000">R</text>
<rect x="1626.40" y="505.30" width="19.90" height="3.60" fill="#000"/>
<text transform="translate(1679.10,637.90) scale(0.9025,1)" font-family="'Liberation Sans',sans-serif" font-size="51.05" fill="#000">R</text>
<text transform="translate(1711.67,637.90) scale(0.8799,1)" font-family="'Liberation Sans',sans-serif" font-size="51.05" fill="#000">=</text>
<text transform="translate(1737.54,638.00) scale(0.8566,1)" font-family="'Liberation Sans',sans-serif" font-size="51.34" fill="#000">0</text>
<text transform="translate(1761.45,637.90) scale(0.9241,1)" font-family="'Liberation Sans',sans-serif" font-size="51.05" fill="#000">.</text>
<text transform="translate(1773.77,638.00) scale(0.9283,1)" font-family="'Liberation Sans',sans-serif" font-size="51.34" fill="#000">8</text>
<rect x="1682.00" y="591.80" width="26.40" height="4.20" fill="#000"/>
<text transform="translate(1679.10,698.40) scale(0.9155,1)" font-family="'Liberation Sans',sans-serif" font-size="50.33" fill="#000">R</text>
<text transform="translate(1711.67,698.40) scale(0.8926,1)" font-family="'Liberation Sans',sans-serif" font-size="50.33" fill="#000">=</text>
<text transform="translate(1737.46,700.87) scale(1.1500,1)" font-family="IPAGothic,'Liberation Sans',sans-serif" font-size="49.43" fill="#000">1</text>
<text transform="translate(1761.45,698.40) scale(0.9375,1)" font-family="'Liberation Sans',sans-serif" font-size="50.33" fill="#000">.</text>
<text transform="translate(1773.92,698.50) scale(0.9269,1)" font-family="'Liberation Sans',sans-serif" font-size="50.61" fill="#000">0</text>
<rect x="1682.00" y="653.80" width="26.40" height="4.20" fill="#000"/>
<text transform="translate(1679.10,759.40) scale(0.9155,1)" font-family="'Liberation Sans',sans-serif" font-size="50.33" fill="#000">R</text>
<text transform="translate(1711.67,759.40) scale(0.8926,1)" font-family="'Liberation Sans',sans-serif" font-size="50.33" fill="#000">=</text>
<text transform="translate(1737.46,761.87) scale(1.1500,1)" font-family="IPAGothic,'Liberation Sans',sans-serif" font-size="49.43" fill="#000">1</text>
<text transform="translate(1761.45,759.40) scale(0.9375,1)" font-family="'Liberation Sans',sans-serif" font-size="50.33" fill="#000">.</text>
<text transform="translate(1773.34,759.40) scale(0.9754,1)" font-family="'Liberation Sans',sans-serif" font-size="50.47" fill="#000">2</text>
<rect x="1682.00" y="715.10" width="26.40" height="4.20" fill="#000"/>
<text transform="translate(1325.64,632.38) scale(0.9000,1)" font-family="'Liberation Sans',sans-serif" font-size="40.50" fill="#000">0</text>
<text transform="translate(1313.13,733.58) scale(0.9000,1)" font-family="'Liberation Sans',sans-serif" font-size="40.50" fill="#000">-4</text>
<text transform="translate(1313.68,834.77) scale(0.9000,1)" font-family="'Liberation Sans',sans-serif" font-size="40.50" fill="#000">-8</text>
<text transform="translate(1293.68,935.98) scale(0.9000,1)" font-family="'Liberation Sans',sans-serif" font-size="40.50" fill="#000">-</text>
<text transform="translate(1305.65,938.00) scale(1.1500,1)" font-family="IPAGothic,'Liberation Sans',sans-serif" font-size="40.50" fill="#000">1</text>
<text transform="translate(1326.09,935.98) scale(0.9000,1)" font-family="'Liberation Sans',sans-serif" font-size="40.50" fill="#000">2</text>
<text transform="translate(1384.25,987.55) scale(1.1500,1)" font-family="IPAGothic,'Liberation Sans',sans-serif" font-size="39.00" fill="#000">1</text>
<text transform="translate(1523.92,985.60) scale(0.8850,1)" font-family="'Liberation Sans',sans-serif" font-size="39.00" fill="#000">2</text>
<text transform="translate(1664.41,985.60) scale(0.8850,1)" font-family="'Liberation Sans',sans-serif" font-size="39.00" fill="#000">3</text>
<text transform="translate(1804.81,985.60) scale(0.8850,1)" font-family="'Liberation Sans',sans-serif" font-size="39.00" fill="#000">4</text>
</svg>
</body></html>
